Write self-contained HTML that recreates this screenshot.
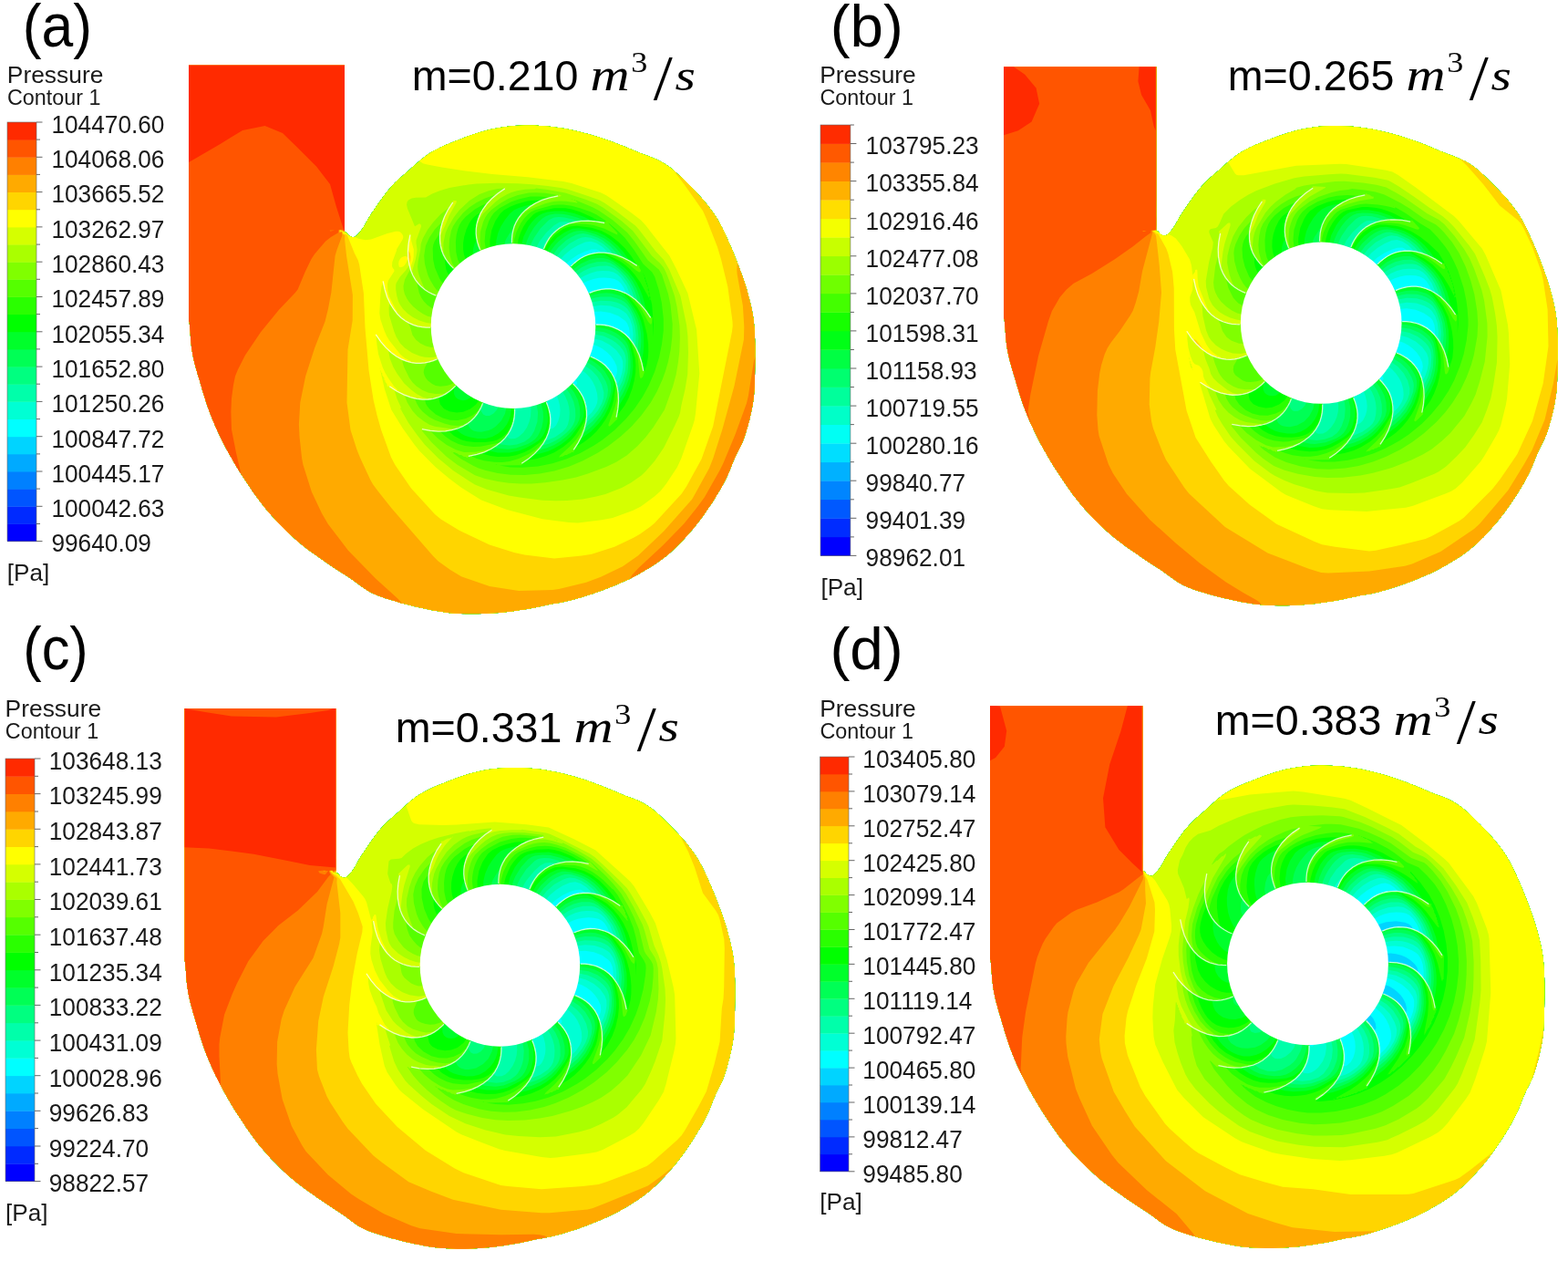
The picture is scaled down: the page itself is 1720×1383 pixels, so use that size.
<!DOCTYPE html>
<html><head><meta charset="utf-8"><title>Pressure contours</title><style>
html,body{margin:0;padding:0;background:#fff;}
svg{display:block;}
.lv{font-family:"Liberation Sans",Arial,sans-serif;fill:#1a1a1a;}
.pl{font-family:"Liberation Sans",Arial,sans-serif;fill:#000;}
.tt{font-family:"Liberation Sans",Arial,sans-serif;fill:#000;}
.ti{font-family:"Liberation Serif","Times New Roman",serif;font-style:italic;fill:#000;}
.ts{font-family:"Liberation Serif","Times New Roman",serif;fill:#000;}
</style></head><body><svg xmlns="http://www.w3.org/2000/svg" width="1720" height="1383" viewBox="0 0 1720 1383">
<rect width="1720" height="1383" fill="#fff"/>
<g transform="translate(563 357.6) scale(1.0 1.0)">
<clipPath id="cla"><path d="M-183.4 -102.8 -182.8 -102.1 -182.1 -101.4 -181.5 -100.6 -180.9 -99.9 -180.2 -99.3 -179.5 -98.8 -178.7 -98.4 -177.9 -98.0 -177.1 -97.7 -176.2 -97.5 -175.3 -97.5 -174.5 -97.6 -173.7 -97.9 -172.8 -98.4 -172.0 -99.1 -171.2 -99.9 -170.4 -100.7 -169.5 -101.6 -168.7 -102.5 -167.9 -103.4 -167.1 -104.4 -166.3 -105.5 -165.3 -106.9 -164.2 -108.6 -163.0 -110.5 -161.8 -112.7 -160.5 -115.1 -159.0 -117.7 -157.2 -120.7 -155.0 -124.0 -152.3 -127.9 -149.2 -132.5 -145.7 -137.4 -142.2 -142.3 -138.7 -146.9 -135.4 -150.9 -132.5 -154.2 -129.8 -157.0 -127.2 -159.5 -124.5 -162.0 -121.5 -164.6 -118.0 -167.6 -114.0 -171.1 -109.7 -175.0 -105.1 -179.1 -100.3 -183.1 -95.4 -186.9 -90.4 -190.3 -85.3 -193.2 -79.9 -195.9 -74.5 -198.4 -68.9 -200.6 -63.4 -202.8 -57.9 -204.9 -52.5 -207.0 -47.0 -209.0 -41.6 -210.8 -36.2 -212.6 -30.7 -214.1 -25.3 -215.5 -19.9 -216.7 -14.5 -217.6 -9.0 -218.4 -3.6 -219.1 1.8 -219.6 7.2 -219.9 12.6 -220.1 18.1 -220.1 23.5 -220.0 28.9 -219.7 34.4 -219.3 39.8 -218.8 45.2 -218.2 50.6 -217.4 56.0 -216.5 61.5 -215.5 66.9 -214.3 72.3 -213.1 77.7 -211.7 83.2 -210.3 88.6 -208.7 94.0 -207.0 99.5 -205.2 104.9 -203.3 110.4 -201.3 115.9 -199.2 121.4 -197.0 126.8 -194.8 132.2 -192.5 137.5 -190.3 142.6 -188.3 147.7 -186.5 152.6 -184.6 157.5 -182.6 162.4 -180.2 167.4 -177.2 172.5 -173.5 177.7 -169.2 183.0 -164.4 188.1 -159.5 193.1 -154.6 197.7 -149.9 202.0 -145.4 206.1 -140.9 210.0 -136.4 213.7 -131.8 217.2 -127.2 220.5 -122.6 223.5 -118.0 226.1 -113.4 228.6 -108.8 230.9 -104.1 233.3 -99.1 235.7 -93.7 238.3 -87.8 241.0 -81.5 243.7 -74.8 246.3 -68.2 248.7 -61.8 250.9 -55.8 252.8 -50.3 254.6 -45.0 256.1 -40.0 257.5 -35.1 258.8 -30.2 260.0 -25.4 261.1 -20.8 262.0 -16.4 262.8 -12.1 263.5 -7.7 264.0 -2.9 264.5 2.4 264.9 8.4 265.1 14.8 265.3 21.6 265.3 28.6 265.3 35.6 265.2 42.4 265.1 49.1 265.0 55.8 264.8 62.5 264.5 69.2 264.0 75.8 263.2 82.4 262.1 89.0 260.7 95.7 259.2 102.4 257.5 108.8 255.7 114.9 254.0 120.4 252.3 125.2 250.5 129.4 248.7 133.2 246.8 136.8 244.9 140.5 243.1 144.4 241.3 148.5 239.6 152.7 238.0 156.9 236.2 161.2 234.3 165.5 232.1 169.9 229.7 174.4 227.2 178.9 224.4 183.5 221.6 188.2 218.7 192.8 215.6 197.4 212.5 202.0 209.3 206.6 206.0 211.1 202.5 215.7 198.9 220.3 195.0 224.9 190.9 229.5 186.6 234.3 182.1 239.0 177.4 243.6 172.6 248.1 167.5 252.4 162.2 256.5 156.6 260.4 150.8 264.1 144.9 267.7 139.0 271.1 133.2 274.3 127.5 277.3 121.7 280.0 116.0 282.5 110.3 284.9 104.5 287.2 98.8 289.4 93.0 291.5 87.0 293.6 81.0 295.5 75.2 297.3 69.6 299.0 64.5 300.4 59.9 301.5 55.8 302.4 52.0 303.1 48.2 303.8 44.3 304.4 40.2 305.2 35.8 306.1 31.2 307.1 26.5 308.1 21.7 309.1 17.0 310.0 12.3 310.8 7.6 311.5 3.0 312.2 -1.7 312.8 -6.3 313.4 -11.0 313.9 -15.6 314.3 -20.2 314.7 -24.9 315.0 -29.5 315.3 -34.2 315.5 -38.9 315.7 -43.5 315.7 -48.1 315.7 -52.8 315.6 -57.4 315.4 -62.1 315.1 -66.8 314.8 -71.4 314.3 -76.0 313.7 -80.7 313.0 -85.3 312.2 -90.0 311.3 -94.6 310.4 -99.3 309.4 -103.9 308.4 -108.6 307.3 -113.2 306.2 -117.9 305.0 -122.6 303.8 -127.2 302.4 -131.9 301.0 -136.6 299.6 -141.4 298.1 -146.1 296.4 -150.7 294.6 -155.1 292.6 -159.3 290.3 -163.4 287.6 -167.4 284.8 -171.3 281.9 -175.2 279.1 -179.0 276.4 -182.7 274.0 -186.1 271.8 -189.5 269.7 -193.0 267.4 -196.9 264.8 -201.3 261.8 -206.4 258.3 -212.0 254.4 -218.0 250.2 -224.1 245.8 -230.2 241.2 -236.0 236.4 -241.6 231.4 -247.3 226.2 -252.8 220.7 -258.3 215.2 -263.5 209.5 -268.5 203.9 -273.2 198.2 -277.7 192.5 -281.9 186.7 -286.0 180.9 -290.0 175.0 -293.9 169.2 -297.7 163.4 -301.4 157.6 -304.9 151.8 -308.3 146.0 -311.6 140.2 -314.8 134.4 -317.8 128.6 -320.7 122.8 -323.5 117.0 -326.1 111.3 -328.6 105.5 -331.0 99.7 -333.2 93.9 -335.3 88.1 -337.2 82.3 -339.0 76.6 -340.8 70.8 -342.5 65.0 -344.2 59.2 -346.0 53.5 -347.6 47.7 -349.2 42.0 -350.6 36.2 -351.8 30.4 -352.7 24.6 -353.4 18.8 -353.9 12.9 -354.3 7.1 -354.8 1.2 -355.3 -4.6 -356.0 -4.6 -356.0 -286.1 -185.0 -286.1 -185.0 -102.8Z"/></clipPath>
<g clip-path="url(#cla)">
<path d="M-183.4 -102.8 -182.8 -102.1 -182.1 -101.4 -181.5 -100.6 -180.9 -99.9 -180.2 -99.3 -179.5 -98.8 -178.7 -98.4 -177.9 -98.0 -177.1 -97.7 -176.2 -97.5 -175.3 -97.5 -174.5 -97.6 -173.7 -97.9 -172.8 -98.4 -172.0 -99.1 -171.2 -99.9 -170.4 -100.7 -169.5 -101.6 -168.7 -102.5 -167.9 -103.4 -167.1 -104.4 -166.3 -105.5 -165.3 -106.9 -164.2 -108.6 -163.0 -110.5 -161.8 -112.7 -160.5 -115.1 -159.0 -117.7 -157.2 -120.7 -155.0 -124.0 -152.3 -127.9 -149.2 -132.5 -145.7 -137.4 -142.2 -142.3 -138.7 -146.9 -135.4 -150.9 -132.5 -154.2 -129.8 -157.0 -127.2 -159.5 -124.5 -162.0 -121.5 -164.6 -118.0 -167.6 -114.0 -171.1 -109.7 -175.0 -105.1 -179.1 -100.3 -183.1 -95.4 -186.9 -90.4 -190.3 -85.3 -193.2 -79.9 -195.9 -74.5 -198.4 -68.9 -200.6 -63.4 -202.8 -57.9 -204.9 -52.5 -207.0 -47.0 -209.0 -41.6 -210.8 -36.2 -212.6 -30.7 -214.1 -25.3 -215.5 -19.9 -216.7 -14.5 -217.6 -9.0 -218.4 -3.6 -219.1 1.8 -219.6 7.2 -219.9 12.6 -220.1 18.1 -220.1 23.5 -220.0 28.9 -219.7 34.4 -219.3 39.8 -218.8 45.2 -218.2 50.6 -217.4 56.0 -216.5 61.5 -215.5 66.9 -214.3 72.3 -213.1 77.7 -211.7 83.2 -210.3 88.6 -208.7 94.0 -207.0 99.5 -205.2 104.9 -203.3 110.4 -201.3 115.9 -199.2 121.4 -197.0 126.8 -194.8 132.2 -192.5 137.5 -190.3 142.6 -188.3 147.7 -186.5 152.6 -184.6 157.5 -182.6 162.4 -180.2 167.4 -177.2 172.5 -173.5 177.7 -169.2 183.0 -164.4 188.1 -159.5 193.1 -154.6 197.7 -149.9 202.0 -145.4 206.1 -140.9 210.0 -136.4 213.7 -131.8 217.2 -127.2 220.5 -122.6 223.5 -118.0 226.1 -113.4 228.6 -108.8 230.9 -104.1 233.3 -99.1 235.7 -93.7 238.3 -87.8 241.0 -81.5 243.7 -74.8 246.3 -68.2 248.7 -61.8 250.9 -55.8 252.8 -50.3 254.6 -45.0 256.1 -40.0 257.5 -35.1 258.8 -30.2 260.0 -25.4 261.1 -20.8 262.0 -16.4 262.8 -12.1 263.5 -7.7 264.0 -2.9 264.5 2.4 264.9 8.4 265.1 14.8 265.3 21.6 265.3 28.6 265.3 35.6 265.2 42.4 265.1 49.1 265.0 55.8 264.8 62.5 264.5 69.2 264.0 75.8 263.2 82.4 262.1 89.0 260.7 95.7 259.2 102.4 257.5 108.8 255.7 114.9 254.0 120.4 252.3 125.2 250.5 129.4 248.7 133.2 246.8 136.8 244.9 140.5 243.1 144.4 241.3 148.5 239.6 152.7 238.0 156.9 236.2 161.2 234.3 165.5 232.1 169.9 229.7 174.4 227.2 178.9 224.4 183.5 221.6 188.2 218.7 192.8 215.6 197.4 212.5 202.0 209.3 206.6 206.0 211.1 202.5 215.7 198.9 220.3 195.0 224.9 190.9 229.5 186.6 234.3 182.1 239.0 177.4 243.6 172.6 248.1 167.5 252.4 162.2 256.5 156.6 260.4 150.8 264.1 144.9 267.7 139.0 271.1 133.2 274.3 127.5 277.3 121.7 280.0 116.0 282.5 110.3 284.9 104.5 287.2 98.8 289.4 93.0 291.5 87.0 293.6 81.0 295.5 75.2 297.3 69.6 299.0 64.5 300.4 59.9 301.5 55.8 302.4 52.0 303.1 48.2 303.8 44.3 304.4 40.2 305.2 35.8 306.1 31.2 307.1 26.5 308.1 21.7 309.1 17.0 310.0 12.3 310.8 7.6 311.5 3.0 312.2 -1.7 312.8 -6.3 313.4 -11.0 313.9 -15.6 314.3 -20.2 314.7 -24.9 315.0 -29.5 315.3 -34.2 315.5 -38.9 315.7 -43.5 315.7 -48.1 315.7 -52.8 315.6 -57.4 315.4 -62.1 315.1 -66.8 314.8 -71.4 314.3 -76.0 313.7 -80.7 313.0 -85.3 312.2 -90.0 311.3 -94.6 310.4 -99.3 309.4 -103.9 308.4 -108.6 307.3 -113.2 306.2 -117.9 305.0 -122.6 303.8 -127.2 302.4 -131.9 301.0 -136.6 299.6 -141.4 298.1 -146.1 296.4 -150.7 294.6 -155.1 292.6 -159.3 290.3 -163.4 287.6 -167.4 284.8 -171.3 281.9 -175.2 279.1 -179.0 276.4 -182.7 274.0 -186.1 271.8 -189.5 269.7 -193.0 267.4 -196.9 264.8 -201.3 261.8 -206.4 258.3 -212.0 254.4 -218.0 250.2 -224.1 245.8 -230.2 241.2 -236.0 236.4 -241.6 231.4 -247.3 226.2 -252.8 220.7 -258.3 215.2 -263.5 209.5 -268.5 203.9 -273.2 198.2 -277.7 192.5 -281.9 186.7 -286.0 180.9 -290.0 175.0 -293.9 169.2 -297.7 163.4 -301.4 157.6 -304.9 151.8 -308.3 146.0 -311.6 140.2 -314.8 134.4 -317.8 128.6 -320.7 122.8 -323.5 117.0 -326.1 111.3 -328.6 105.5 -331.0 99.7 -333.2 93.9 -335.3 88.1 -337.2 82.3 -339.0 76.6 -340.8 70.8 -342.5 65.0 -344.2 59.2 -346.0 53.5 -347.6 47.7 -349.2 42.0 -350.6 36.2 -351.8 30.4 -352.7 24.6 -353.4 18.8 -353.9 12.9 -354.3 7.1 -354.8 1.2 -355.3 -4.6 -356.0 -4.6 -356.0 -286.1 -185.0 -286.1 -185.0 -102.8Z" fill="#0000ff"/>
<path fill-rule="evenodd" fill="#002aff" d="M-369.0 -300.0L279.0 -300.0 279.0 329.0 -370.0 329.0 -370.0 -300.0 -369.0 -300.0Z"/>
<path fill-rule="evenodd" fill="#0055ff" d="M-369.0 -300.0L279.0 -300.0 279.0 329.0 -370.0 329.0 -370.0 -300.0 -369.0 -300.0Z"/>
<path fill-rule="evenodd" fill="#0080ff" d="M-369.0 -300.0L279.0 -300.0 279.0 329.0 -370.0 329.0 -370.0 -300.0 -369.0 -300.0Z"/>
<path fill-rule="evenodd" fill="#00aaff" d="M-369.0 -300.0L279.0 -300.0 279.0 329.0 -370.0 329.0 -370.0 -300.0 -369.0 -300.0Z"/>
<path fill-rule="evenodd" fill="#00d4ff" d="M-369.0 -300.0L279.0 -300.0 279.0 329.0 -370.0 329.0 -370.0 -300.0 -369.0 -300.0Z"/>
<path fill-rule="evenodd" fill="#00ffff" d="M-369.0 -300.0L279.0 -300.0 279.0 329.0 -370.0 329.0 -370.0 -300.0 -369.0 -300.0Z"/>
<path fill-rule="evenodd" fill="#00ffd4" d="M-369.0 -300.0L279.0 -300.0 279.0 329.0 -370.0 329.0 -370.0 -300.0 -369.0 -300.0ZM85.6 -84.0L79.0 -81.9 70.8 -78.0 63.0 -72.9 57.5 -68.0 56.0 -67.5 53.6 -69.0 52.2 -65.0 52.7 -56.0 63.1 16.0 63.5 22.0 63.2 30.0 63.9 36.0 62.8 40.0 57.2 47.0 54.6 51.0 53.5 54.0 53.5 56.0 54.5 58.0 56.0 59.2 61.2 62.0 64.0 61.0 68.0 64.8 69.7 64.0 70.1 62.0 68.0 58.0 67.8 56.0 70.4 53.0 70.4 52.0 73.3 49.0 73.3 48.0 75.2 46.0 75.2 45.0 76.2 44.0 76.2 43.0 77.2 42.0 77.2 41.0 78.2 40.0 78.2 39.0 79.2 38.0 79.1 37.0 80.1 36.0 80.1 35.0 82.0 32.1 83.0 32.1 84.0 33.1 86.0 33.1 89.0 35.1 90.0 35.1 93.0 37.1 94.0 37.1 96.0 39.1 97.0 39.1 107.0 49.0 107.0 50.0 109.0 52.0 109.0 53.0 110.0 54.0 111.0 57.0 112.0 56.0 113.3 53.0 114.1 49.0 113.4 44.0 111.0 38.6 107.1 33.0 103.0 28.8 97.9 25.0 92.3 22.0 86.0 19.9 85.9 19.0 86.8 18.0 86.5 14.0 87.4 13.0 87.2 1.0 88.2 0.0 87.2 -1.0 88.0 -1.8 100.0 -1.9 101.0 -0.9 105.0 -0.9 106.0 0.1 108.0 0.1 109.0 1.1 111.0 1.1 114.0 3.1 117.0 4.1 119.0 6.1 120.0 6.1 127.0 13.0 127.6 13.0 127.8 8.0 127.0 2.2 125.0 -2.9 123.0 -5.5 115.3 -11.0 106.0 -14.7 96.0 -16.2 87.0 -15.6 86.7 -18.0 85.6 -19.0 85.5 -22.0 84.4 -23.0 84.3 -26.0 83.3 -27.0 83.3 -29.0 81.2 -32.0 81.2 -34.0 80.2 -35.0 83.0 -36.8 85.0 -36.8 88.0 -38.9 90.0 -38.9 91.0 -39.9 95.0 -39.9 96.0 -40.9 111.0 -40.9 112.0 -39.9 115.0 -39.9 116.0 -38.9 118.0 -38.9 119.0 -37.9 121.0 -38.0 122.0 -37.0 123.3 -37.0 121.0 -42.3 118.0 -46.8 115.0 -49.7 111.0 -51.7 106.0 -52.7 100.0 -53.2 94.0 -52.8 88.0 -51.7 82.0 -49.7 76.0 -46.8 75.0 -46.9 73.7 -48.0 73.6 -49.0 70.4 -52.0 70.3 -53.0 67.2 -56.0 67.2 -57.0 61.1 -63.0 61.1 -64.0 67.0 -69.9 68.0 -69.9 71.0 -73.0 72.0 -73.0 74.0 -75.0 77.0 -76.0 82.0 -79.0 84.0 -79.0 85.0 -80.0 89.0 -80.0 90.0 -81.0 96.5 -81.0 93.7 -83.0 91.0 -84.1 85.6 -84.0Z"/>
<path fill-rule="evenodd" fill="#00ffaa" d="M-369.0 -300.0L279.0 -300.0 279.0 329.0 -370.0 329.0 -370.0 -300.0 -369.0 -300.0ZM79.0 -92.0L71.0 -88.7 63.4 -84.0 56.0 -77.8 51.0 -72.0 49.0 -73.6 48.0 -73.5 46.0 -75.3 45.0 -75.3 42.0 -77.1 41.0 -77.1 36.0 -80.0 35.0 -80.0 34.5 -78.0 34.2 -75.0 34.8 -70.0 43.0 -25.0 44.9 -12.0 44.7 -5.0 40.6 9.0 40.3 14.0 41.7 20.0 46.1 31.0 46.4 35.0 44.5 39.0 29.9 53.0 17.0 69.0 11.1 78.0 10.1 81.0 9.8 84.0 10.2 87.0 13.0 87.1 14.0 86.1 18.0 86.1 19.0 85.1 22.0 85.1 23.0 84.1 26.0 84.1 27.0 83.1 29.0 83.1 32.0 81.1 34.0 81.1 35.0 80.1 36.9 83.0 36.9 85.0 38.9 88.0 38.9 90.0 39.9 91.0 39.9 95.0 40.9 96.0 41.0 111.0 40.0 112.0 41.0 112.6 44.0 111.9 47.0 108.9 49.5 104.0 51.1 98.0 51.5 92.0 51.0 86.8 49.5 81.0 47.0 75.0 48.0 73.8 49.0 73.7 52.0 70.5 53.0 70.5 56.0 67.3 57.0 67.3 63.0 61.2 64.0 61.2 69.8 67.0 69.8 68.0 72.8 71.0 72.8 72.0 74.8 74.0 75.8 77.0 78.9 82.0 78.9 84.0 79.9 85.0 79.9 89.0 80.9 90.0 81.0 99.5 86.0 94.9 90.1 89.0 92.0 84.3 92.6 80.0 92.0 74.0 90.0 67.0 87.1 61.0 84.0 56.5 79.8 52.0 74.7 48.0 75.8 46.0 75.7 45.0 76.7 44.0 76.6 43.0 77.6 42.0 77.5 41.0 78.5 40.0 78.5 39.0 79.4 38.0 79.4 37.0 80.4 36.0 80.3 35.0 82.0 32.3 83.0 32.3 84.0 33.3 86.0 33.3 89.0 35.3 90.0 35.3 93.0 37.3 94.0 37.3 96.0 39.3 97.0 39.3 106.8 49.0 106.8 50.0 108.8 52.0 109.8 55.0 111.8 58.0 111.8 60.0 114.0 63.0 114.0 64.5 117.0 58.6 119.2 52.0 120.4 45.0 120.2 39.0 118.5 34.0 113.0 26.5 106.0 20.6 97.1 16.0 88.0 13.6 87.4 1.0 88.4 0.0 87.3 -1.0 88.0 -1.7 100.0 -1.7 101.0 -0.7 105.0 -0.7 106.0 0.3 108.0 0.3 109.0 1.3 111.0 1.3 114.0 3.3 117.0 4.3 119.0 6.3 120.0 6.3 131.0 17.0 131.1 18.0 131.6 9.0 130.5 0.0 128.0 -7.7 124.0 -13.8 121.0 -16.2 116.0 -19.0 106.7 -22.0 96.0 -22.8 86.0 -21.4 84.8 -23.0 84.7 -26.0 83.6 -27.0 83.5 -29.0 81.4 -32.0 81.4 -34.0 80.3 -35.0 83.0 -36.7 85.0 -36.7 88.0 -38.7 90.0 -38.7 91.0 -39.7 95.0 -39.7 96.0 -40.7 111.0 -40.7 112.0 -39.7 115.0 -39.7 116.0 -38.7 118.0 -38.7 119.0 -37.7 121.0 -37.8 122.0 -36.8 125.0 -35.9 127.0 -33.9 128.3 -34.0 124.3 -44.0 118.0 -53.0 114.0 -56.8 110.0 -59.1 105.0 -60.3 98.0 -60.6 91.8 -60.0 85.0 -58.2 78.0 -55.2 72.0 -51.5 70.9 -52.0 70.8 -53.0 67.5 -56.0 67.5 -57.0 61.3 -63.0 61.2 -64.0 67.0 -69.8 68.0 -69.8 71.0 -72.8 72.0 -72.8 74.0 -74.8 77.0 -75.8 82.0 -78.8 84.0 -78.8 85.0 -79.8 89.0 -79.8 90.0 -80.8 103.8 -81.0 97.5 -87.0 91.0 -91.1 85.0 -92.8 79.0 -92.0ZM104.0 -80.0L104.6 -80.0 104.0 -80.7 104.0 -80.0Z"/>
<path fill-rule="evenodd" fill="#00ff80" d="M-369.0 -300.0L279.0 -300.0 279.0 329.0 -370.0 329.0 -370.0 -300.0 -369.0 -300.0ZM50.9 -114.0L44.3 -110.0 36.0 -102.2 28.9 -93.0 24.8 -85.0 23.0 -84.4 22.0 -85.1 21.0 -85.0 20.7 -78.0 25.5 -50.0 26.4 -39.0 25.4 -33.0 18.0 -10.4 17.2 -4.0 17.8 0.0 19.7 6.0 28.5 27.0 28.8 32.0 27.6 36.0 25.4 39.0 11.2 51.0 -4.9 68.0 -13.4 79.0 -16.0 84.0 -16.5 86.0 -14.0 86.1 -13.0 87.1 -1.0 87.2 0.0 88.2 1.0 87.2 1.8 88.0 1.9 100.0 0.9 101.0 0.9 105.0 -0.1 106.0 -0.1 108.0 -1.1 109.0 -1.1 111.0 -2.1 112.0 -2.1 113.0 -3.1 114.0 -4.0 117.0 -6.0 119.0 -6.7 121.0 -5.0 122.9 -3.0 123.7 2.0 123.4 6.0 121.5 11.0 116.8 15.0 111.1 17.6 105.0 19.0 99.0 19.4 93.0 19.0 86.0 22.0 85.7 23.0 84.7 26.0 84.5 27.0 83.5 29.0 83.4 32.0 81.4 34.0 81.3 35.0 80.3 36.7 83.0 36.7 85.0 38.7 88.0 38.7 90.0 39.7 91.0 39.7 95.0 40.7 96.0 40.8 111.0 39.8 112.0 39.8 115.0 38.8 116.0 38.8 118.0 37.8 119.0 37.9 121.0 35.9 124.0 36.0 125.7 45.7 122.0 54.3 116.0 57.9 112.0 60.0 108.0 61.4 102.0 61.8 95.0 61.2 89.0 59.6 83.0 57.0 77.0 53.3 71.0 56.0 67.7 57.0 67.7 63.0 61.4 64.0 61.4 69.6 67.0 69.6 68.0 72.6 71.0 72.6 72.0 74.6 74.0 75.6 77.0 78.7 82.0 78.7 84.0 79.7 85.0 79.7 89.0 80.7 90.0 80.9 103.0 79.9 104.0 80.0 106.0 87.8 99.0 93.0 92.3 97.1 85.0 99.1 79.0 99.4 73.0 97.0 64.2 92.6 56.0 86.3 49.0 77.9 43.0 77.9 41.0 78.8 40.0 78.7 39.0 79.7 38.0 79.6 37.0 80.6 36.0 80.6 35.0 82.0 32.5 83.0 32.5 84.0 33.5 86.0 33.5 89.0 35.5 90.0 35.5 93.0 37.5 94.0 37.5 96.0 39.5 97.0 39.4 106.6 49.0 106.6 50.0 108.6 52.0 109.6 55.0 111.6 58.0 111.7 60.0 113.8 63.0 113.8 66.0 114.9 67.0 115.0 69.8 119.9 60.0 122.9 49.0 123.7 38.0 123.1 33.0 122.0 29.4 120.0 25.8 116.8 22.0 112.3 18.0 108.0 15.1 98.9 11.0 88.0 8.8 87.6 1.0 88.5 0.0 87.5 -1.0 88.0 -1.5 100.0 -1.5 101.0 -0.5 105.0 -0.5 106.0 0.5 108.0 0.5 109.0 1.5 111.0 1.5 114.0 3.5 117.0 4.4 119.0 6.4 120.0 6.4 130.8 17.0 130.8 18.0 132.9 20.0 132.9 21.0 134.0 21.1 134.6 10.0 133.3 0.0 130.0 -10.5 128.0 -14.6 125.0 -19.0 122.0 -21.7 118.0 -24.0 112.9 -26.0 107.0 -27.4 96.0 -27.9 85.0 -25.8 83.9 -27.0 83.8 -29.0 81.6 -32.0 81.5 -34.0 80.5 -35.0 82.0 -35.5 83.0 -36.5 85.0 -36.5 88.0 -38.5 90.0 -38.5 91.0 -39.5 95.0 -39.5 96.0 -40.5 111.0 -40.6 112.0 -39.5 115.0 -39.6 116.0 -38.6 118.0 -38.6 119.0 -37.6 121.0 -37.6 124.0 -35.7 125.0 -35.7 127.0 -33.8 128.0 -33.8 130.0 -31.9 131.0 -31.9 132.5 -31.0 130.3 -38.0 127.5 -44.0 124.5 -49.0 120.0 -55.0 115.0 -60.1 111.0 -63.1 107.0 -65.1 103.0 -66.0 94.0 -65.9 85.1 -64.0 77.0 -60.4 69.0 -55.1 67.9 -56.0 67.8 -57.0 61.4 -63.0 61.4 -64.0 67.0 -69.6 68.0 -69.6 71.0 -72.6 72.0 -72.6 74.0 -74.6 77.0 -75.6 78.0 -76.6 81.0 -77.6 82.0 -78.6 84.0 -78.6 85.0 -79.6 89.0 -79.6 90.0 -80.6 103.0 -80.8 104.0 -79.8 109.1 -80.0 105.0 -84.6 98.8 -90.0 92.0 -94.2 85.0 -96.9 79.0 -97.7 75.1 -97.0 71.0 -95.5 61.2 -90.0 53.0 -82.9 47.0 -75.5 43.0 -76.6 42.0 -77.5 41.0 -77.5 40.0 -78.4 39.0 -78.4 38.0 -79.3 37.0 -79.3 36.0 -80.3 35.0 -80.2 32.2 -82.0 32.2 -83.0 33.2 -84.0 33.1 -86.0 35.1 -89.0 35.1 -90.0 36.1 -91.0 37.1 -94.0 39.1 -96.0 39.1 -97.0 49.0 -106.9 50.0 -106.9 52.0 -108.9 55.0 -109.9 58.0 -111.9 60.0 -111.9 61.0 -113.0 62.0 -113.0 62.0 -113.5 57.0 -114.5 50.9 -114.0Z"/>
<path fill-rule="evenodd" fill="#00ff55" d="M-369.0 -300.0L279.0 -300.0 279.0 329.0 -370.0 329.0 -370.0 -300.0 -369.0 -300.0ZM45.0 -119.0L42.0 -117.9 38.9 -116.0 29.8 -107.0 23.0 -97.0 20.0 -91.0 18.7 -87.0 14.0 -86.4 13.0 -87.3 7.1 -87.0 7.8 -72.0 7.4 -66.0 -3.9 -32.0 -5.4 -26.0 -5.8 -22.0 -4.9 -16.0 -1.9 -7.0 11.1 23.0 11.3 27.0 9.4 35.0 8.2 37.0 5.2 40.0 -7.7 50.0 -14.4 56.0 -31.5 74.0 -35.5 80.0 -34.0 81.0 -33.0 81.0 -32.1 82.0 -32.1 83.0 -33.1 84.0 -33.1 86.0 -34.0 87.0 -34.0 88.0 -35.9 91.0 -35.4 93.0 -33.0 96.9 -30.0 98.5 -26.0 98.4 -21.6 96.0 -18.0 91.9 -16.0 87.0 -14.0 86.9 -13.0 87.8 -1.0 87.4 0.0 88.4 1.0 87.4 1.6 88.0 1.6 100.0 0.6 101.0 0.7 105.0 -0.3 106.0 -0.3 108.0 -1.3 109.0 -1.3 111.0 -3.3 114.0 -4.3 117.0 -6.2 119.0 -6.2 120.0 -15.0 129.0 -15.0 129.5 -13.0 130.0 -4.0 131.0 4.0 130.0 12.2 127.0 17.7 123.0 20.2 120.0 23.1 115.0 26.4 105.0 27.1 95.0 25.4 85.0 27.0 83.9 29.0 83.8 32.0 81.6 34.0 81.6 35.0 80.5 35.5 82.0 36.5 83.0 36.5 85.0 38.5 88.0 38.5 90.0 39.5 91.0 39.5 95.0 40.5 96.0 40.6 111.0 39.6 112.0 39.6 115.0 38.6 116.0 38.6 118.0 37.6 119.0 37.7 121.0 36.7 122.0 35.8 125.0 33.8 127.0 33.9 128.0 31.9 130.0 32.0 131.0 39.0 129.1 46.0 125.9 52.0 122.2 58.6 117.0 63.0 112.4 65.9 108.0 67.5 104.0 68.3 99.0 68.0 91.0 66.2 83.0 62.6 75.0 57.7 68.0 57.9 67.0 63.0 61.6 64.0 61.6 69.4 67.0 69.4 68.0 72.4 71.0 72.4 72.0 74.5 74.0 74.4 75.0 76.5 78.0 76.5 79.0 78.5 82.0 78.5 84.0 79.5 85.0 79.5 89.0 80.5 90.0 80.7 103.0 79.7 104.0 79.9 109.0 78.9 110.0 79.0 111.4 87.6 104.0 94.2 96.0 99.9 86.0 103.2 77.0 104.0 69.8 103.4 66.0 101.6 61.0 96.3 52.0 89.4 45.0 80.0 39.0 79.9 37.0 80.8 36.0 80.8 35.0 81.7 34.0 82.0 32.7 83.0 32.7 84.0 33.7 86.0 33.7 89.0 35.7 90.0 35.6 93.0 37.6 94.0 37.6 96.0 39.6 97.0 39.6 106.4 49.0 106.4 50.0 108.4 52.0 109.4 55.0 111.5 58.0 111.5 60.0 113.6 63.0 113.6 66.0 114.7 67.0 114.9 72.0 115.9 73.0 116.0 74.6 121.9 63.0 125.4 51.0 126.0 45.0 126.2 36.0 125.5 30.0 124.1 25.0 122.0 21.1 119.0 17.6 114.8 14.0 110.0 10.8 100.0 6.7 88.0 4.9 87.8 1.0 88.7 0.0 87.7 -1.0 88.0 -1.3 100.0 -1.4 101.0 -0.3 105.0 -0.4 106.0 0.7 108.0 0.6 109.0 1.7 111.0 1.6 114.0 3.6 117.0 4.6 119.0 6.6 120.0 6.6 130.6 17.0 130.6 18.0 132.7 20.0 132.7 21.0 134.9 23.0 134.9 24.0 136.0 25.0 136.0 26.0 136.4 26.0 137.5 13.0 136.0 0.0 134.0 -6.8 131.0 -14.1 128.0 -19.8 125.0 -23.8 122.0 -26.5 118.0 -28.8 113.0 -30.7 107.0 -32.0 96.0 -32.2 90.0 -31.2 84.0 -29.5 82.9 -30.0 82.9 -31.0 81.8 -32.0 81.7 -34.0 80.7 -35.0 82.0 -35.3 83.0 -36.3 85.0 -36.3 88.0 -38.4 90.0 -38.3 91.0 -39.4 95.0 -39.3 96.0 -40.4 111.0 -40.4 112.0 -39.4 115.0 -39.4 116.0 -38.4 118.0 -38.4 119.0 -37.4 121.0 -37.4 124.0 -35.5 125.0 -35.5 127.0 -33.6 128.0 -33.6 130.0 -31.7 131.0 -31.8 134.0 -28.9 135.0 -28.9 136.4 -28.0 134.1 -36.0 131.2 -43.0 127.8 -49.0 123.4 -55.0 116.5 -62.0 111.0 -66.5 106.0 -69.3 101.0 -70.6 92.0 -70.4 83.0 -68.2 75.0 -64.3 67.0 -58.5 61.6 -63.0 61.6 -64.0 67.0 -69.4 68.0 -69.4 71.0 -72.4 72.0 -72.4 74.0 -74.4 75.0 -74.4 78.0 -76.4 79.0 -76.4 82.0 -78.4 84.0 -78.4 85.0 -79.4 89.0 -79.4 90.0 -80.5 103.0 -80.6 104.0 -79.6 109.0 -79.8 110.0 -78.8 112.0 -78.9 113.0 -77.9 114.8 -78.0 106.9 -87.0 98.0 -94.0 93.0 -96.8 87.0 -99.2 81.0 -100.9 77.0 -101.5 73.0 -101.2 69.0 -100.0 63.0 -97.1 58.1 -94.0 49.3 -86.0 43.0 -77.4 41.0 -77.8 40.0 -78.7 39.0 -78.7 38.0 -79.6 37.0 -79.6 34.0 -81.4 33.0 -81.4 32.4 -82.0 32.4 -83.0 33.4 -84.0 33.3 -86.0 35.3 -89.0 35.3 -90.0 37.3 -93.0 37.3 -94.0 39.3 -96.0 39.3 -97.0 49.0 -106.7 50.0 -106.7 52.0 -108.7 55.0 -109.7 58.0 -111.7 60.0 -111.7 63.0 -113.8 66.0 -113.9 67.0 -114.9 70.5 -115.0 64.0 -117.3 56.0 -119.2 50.0 -119.6 45.0 -119.0Z"/>
<path fill-rule="evenodd" fill="#00ff2b" d="M-369.0 -300.0L279.0 -300.0 279.0 329.0 -370.0 329.0 -370.0 -300.0 -369.0 -300.0ZM46.0 -123.0L40.0 -122.1 36.0 -120.7 32.0 -118.1 27.7 -114.0 22.7 -108.0 18.4 -101.0 15.2 -94.0 13.5 -88.0 1.0 -87.2 0.0 -88.2 -1.0 -87.1 -1.9 -88.0 -2.0 -100.0 -1.0 -101.0 -1.0 -105.7 -5.0 -100.2 -8.0 -95.0 -9.1 -92.0 -9.5 -88.0 -13.0 -87.2 -14.0 -86.2 -16.5 -86.0 -17.6 -78.0 -27.3 -48.0 -28.7 -39.0 -27.0 -30.0 -19.1 -9.0 -13.0 5.0 -7.1 17.0 -6.2 20.0 -6.3 23.0 -8.4 33.0 -10.7 37.0 -35.8 57.0 -45.0 66.4 -49.4 72.0 -49.1 73.0 -48.0 73.1 -46.0 75.2 -45.0 75.3 -44.0 76.3 -43.0 76.3 -40.0 78.3 -39.0 78.3 -38.0 79.3 -37.0 79.3 -36.0 80.3 -35.0 80.3 -34.0 81.3 -33.0 81.3 -32.3 82.0 -32.3 83.0 -33.3 84.0 -33.3 86.0 -35.3 89.0 -35.3 90.0 -36.3 91.0 -37.2 94.0 -39.2 96.0 -39.2 97.0 -49.0 107.0 -49.8 107.0 -48.9 110.0 -47.6 112.0 -45.3 114.0 -43.0 115.1 -39.0 116.0 -35.0 116.1 -27.0 114.5 -23.0 112.7 -19.0 110.0 -13.2 104.0 -9.0 96.1 -7.3 88.0 -1.0 87.7 0.0 88.7 1.0 87.6 1.4 88.0 1.4 100.0 0.4 101.0 0.4 105.0 -0.6 106.0 -0.6 108.0 -1.6 109.0 -1.5 111.0 -3.5 114.0 -4.5 117.0 -6.5 119.0 -6.5 120.0 -17.0 130.8 -18.0 130.9 -20.0 133.0 -21.0 133.0 -18.3 134.0 -6.0 135.1 3.0 134.0 16.0 129.3 20.2 127.0 24.1 124.0 27.0 120.5 29.4 116.0 31.3 111.0 32.6 105.0 33.0 100.0 32.7 94.0 30.0 83.0 31.0 82.9 32.0 81.9 34.0 81.8 35.0 80.7 35.3 82.0 36.3 83.0 36.3 85.0 38.3 88.0 38.3 90.0 39.3 91.0 39.3 95.0 40.3 96.0 40.4 111.0 39.3 112.0 39.4 115.0 38.4 116.0 38.4 118.0 37.4 119.0 37.4 121.0 36.4 122.0 35.5 125.0 33.6 127.0 33.7 128.0 31.7 130.0 31.8 131.0 28.9 134.0 29.0 135.8 37.0 133.7 45.0 130.3 52.0 126.2 58.6 121.0 65.5 114.0 70.0 108.0 72.4 103.0 73.4 98.0 72.9 89.0 70.9 81.0 66.9 73.0 60.8 65.0 60.9 64.0 63.0 61.8 64.0 61.8 69.2 67.0 69.2 68.0 72.3 71.0 72.2 72.0 74.3 74.0 74.2 75.0 76.3 78.0 76.3 79.0 78.3 82.0 78.3 84.0 79.3 85.0 79.3 89.0 80.3 90.0 80.5 103.0 79.5 104.0 79.7 109.0 78.7 110.0 78.8 112.0 77.8 113.0 77.9 115.0 76.9 116.0 77.0 117.2 83.0 112.9 88.0 108.3 95.8 99.0 101.6 89.0 106.2 76.0 107.2 71.0 107.4 66.0 106.7 62.0 105.2 58.0 100.5 50.0 97.0 45.9 92.0 41.6 86.5 38.0 81.0 35.3 82.0 32.9 83.0 32.8 84.0 33.9 86.0 33.8 89.0 35.8 90.0 35.8 93.0 37.8 94.0 37.8 96.0 39.8 97.0 39.8 106.2 49.0 106.2 50.0 108.2 52.0 109.2 55.0 111.3 58.0 111.3 60.0 113.4 63.0 113.4 66.0 114.5 67.0 114.6 72.0 115.7 73.0 116.0 80.7 120.0 74.4 123.6 67.0 126.4 59.0 128.0 52.0 128.7 45.0 128.6 38.0 127.7 29.0 126.1 22.0 124.1 18.0 122.0 15.2 118.0 11.4 113.2 8.0 107.1 5.0 101.0 3.0 95.0 1.9 88.0 1.5 88.9 0.0 88.0 -1.1 100.0 -1.2 101.0 -0.2 105.0 -0.2 106.0 0.8 108.0 0.8 109.0 1.8 111.0 1.8 114.0 3.8 117.0 4.8 119.0 6.8 120.0 6.8 130.4 17.0 130.4 18.0 134.7 23.0 135.7 26.0 137.9 29.0 137.9 31.0 138.8 31.0 140.0 23.0 140.4 16.0 140.0 8.0 138.7 0.0 136.7 -7.0 134.2 -13.0 129.0 -22.4 125.0 -27.9 122.0 -30.6 118.0 -33.0 108.0 -35.9 102.0 -36.4 95.0 -35.9 89.0 -34.7 82.0 -32.3 81.9 -34.0 80.8 -35.0 82.0 -35.1 83.0 -36.2 85.0 -36.1 88.0 -38.2 90.0 -38.2 91.0 -39.2 95.0 -39.2 96.0 -40.2 111.0 -40.2 112.0 -39.2 115.0 -39.2 116.0 -38.2 118.0 -38.2 119.0 -37.2 121.0 -37.3 124.0 -35.3 125.0 -35.4 127.0 -33.4 128.0 -33.5 130.0 -31.5 131.0 -31.6 134.0 -28.6 135.0 -28.7 140.0 -24.0 140.5 -24.0 138.6 -32.0 135.3 -41.0 131.0 -49.0 126.0 -56.0 120.0 -62.2 110.0 -70.1 104.0 -73.3 99.0 -74.6 92.0 -74.5 84.0 -72.8 74.0 -68.3 64.6 -61.0 61.8 -63.0 61.8 -64.0 67.0 -69.2 68.0 -69.2 71.0 -72.2 72.0 -72.2 74.0 -74.3 75.0 -74.2 78.0 -76.3 79.0 -76.2 82.0 -78.3 84.0 -78.2 85.0 -79.3 89.0 -79.2 90.0 -80.3 103.0 -80.4 104.0 -79.4 109.0 -79.6 110.0 -78.6 112.0 -78.7 113.0 -77.7 115.0 -77.8 116.0 -76.8 118.0 -76.9 119.0 -75.9 120.3 -76.0 115.8 -82.0 111.2 -87.0 105.7 -92.0 100.0 -96.1 90.0 -100.9 80.0 -103.8 75.0 -104.6 70.0 -104.4 66.0 -103.3 61.0 -101.0 55.0 -97.2 50.0 -93.1 46.0 -88.9 42.3 -84.0 39.4 -79.0 38.0 -79.9 37.0 -79.8 36.0 -80.7 35.0 -80.7 34.0 -81.6 33.0 -81.6 32.6 -83.0 33.6 -84.0 33.5 -86.0 35.6 -89.0 35.5 -90.0 37.5 -93.0 37.5 -94.0 39.5 -96.0 39.5 -97.0 49.0 -106.5 50.0 -106.5 52.0 -108.5 55.0 -109.5 58.0 -111.6 60.0 -111.5 63.0 -113.6 66.0 -113.7 67.0 -114.7 72.0 -114.8 73.0 -115.9 77.1 -116.0 70.0 -119.1 60.0 -121.9 54.0 -122.9 46.0 -123.0ZM-0.7 -106.0L0.0 -106.0 0.0 -107.0 -0.7 -106.0Z"/>
<path fill-rule="evenodd" fill="#00ff00" d="M-369.0 -300.0L279.0 -300.0 279.0 329.0 -370.0 329.0 -370.0 -300.0 -369.0 -300.0ZM14.2 -132.0L6.0 -129.5 0.7 -127.0 -3.9 -123.0 -9.0 -116.6 -13.7 -109.0 -16.7 -102.0 -18.6 -94.0 -19.0 -85.9 -22.0 -85.6 -23.0 -84.5 -26.0 -84.4 -27.0 -83.3 -29.0 -83.3 -32.0 -81.2 -34.0 -81.1 -35.0 -80.1 -36.9 -83.0 -36.9 -85.0 -38.9 -88.0 -39.0 -90.0 -40.0 -91.0 -40.0 -94.3 -42.5 -90.0 -43.9 -85.0 -44.2 -81.0 -43.2 -77.0 -44.0 -76.8 -45.0 -75.5 -46.0 -75.4 -48.0 -73.2 -49.0 -73.1 -51.6 -70.0 -50.9 -66.0 -51.5 -54.0 -49.4 -45.0 -43.6 -29.0 -34.8 -8.0 -24.5 13.0 -23.8 18.0 -26.6 32.0 -28.8 36.0 -33.2 40.0 -53.3 55.0 -60.3 61.0 -61.2 62.0 -61.0 64.0 -64.6 68.0 -65.2 72.0 -64.8 75.0 -63.3 78.0 -61.0 80.0 -58.7 81.0 -55.0 81.6 -51.0 80.8 -47.6 79.0 -45.0 76.3 -32.6 82.0 -32.6 83.0 -33.6 84.0 -33.5 86.0 -35.5 89.0 -35.5 90.0 -37.5 93.0 -37.5 94.0 -39.4 96.0 -39.4 97.0 -49.0 106.7 -50.0 106.7 -52.0 108.8 -55.0 109.8 -58.0 111.9 -60.0 111.9 -61.0 113.0 -62.0 113.0 -62.0 113.9 -61.0 115.0 -57.1 118.0 -53.0 120.2 -47.4 122.0 -39.0 123.5 -30.0 123.4 -23.0 121.5 -16.6 118.0 -11.0 113.1 -7.0 107.8 -4.6 103.0 -3.0 98.2 -1.7 88.0 -1.0 88.0 0.0 88.9 1.1 88.0 1.2 100.0 0.2 101.0 0.2 105.0 -0.8 106.0 -0.8 108.0 -1.8 109.0 -1.8 111.0 -3.8 114.0 -4.7 117.0 -6.7 119.0 -6.7 120.0 -17.0 130.6 -18.0 130.6 -23.0 134.9 -26.0 136.0 -26.0 136.8 -24.0 137.5 -17.0 138.9 -4.0 139.0 6.0 136.9 13.0 134.2 21.0 130.0 27.0 126.1 30.5 123.0 32.8 120.0 35.0 115.6 36.8 110.0 37.7 105.0 37.9 100.0 37.4 94.0 36.1 88.0 34.1 82.0 35.0 80.9 35.0 82.0 36.1 83.0 36.0 85.0 38.1 88.0 38.1 90.0 39.1 91.0 39.1 95.0 40.1 96.0 40.2 111.0 39.1 112.0 39.2 115.0 38.1 116.0 38.2 118.0 37.2 119.0 37.2 121.0 36.2 122.0 35.3 125.0 33.4 127.0 33.4 128.0 31.5 130.0 31.5 131.0 28.6 134.0 28.7 135.0 23.0 141.2 31.0 139.5 38.0 137.3 45.0 134.2 52.0 130.2 58.0 125.7 63.0 121.1 73.1 108.0 75.9 103.0 77.2 99.0 77.7 95.0 77.5 90.0 76.4 84.0 74.7 79.0 72.3 74.0 69.1 69.0 70.0 69.0 72.1 71.0 72.0 72.0 74.1 74.0 74.0 75.0 76.1 78.0 76.1 79.0 78.1 82.0 78.1 84.0 79.1 85.0 79.1 89.0 80.1 90.0 80.3 103.0 79.3 104.0 79.5 109.0 78.5 110.0 78.6 112.0 77.5 113.0 77.6 115.0 76.6 116.0 76.8 118.0 75.8 119.0 75.8 120.0 74.9 121.0 74.9 122.0 73.9 123.0 74.0 123.7 85.0 115.8 94.0 106.6 100.0 98.3 104.3 90.0 107.1 82.0 109.8 70.0 110.3 64.0 109.6 59.0 107.1 53.0 103.2 47.0 104.0 47.0 106.1 49.0 106.0 50.0 108.1 52.0 109.0 55.0 111.1 58.0 111.1 60.0 113.2 63.0 113.2 66.0 114.3 67.0 114.4 72.0 115.5 73.0 116.0 87.0 117.5 85.0 122.9 76.0 127.6 65.0 130.5 54.0 131.5 44.0 130.8 34.0 127.5 19.0 124.0 12.4 118.1 7.0 120.0 6.9 130.3 17.0 130.2 18.0 134.5 23.0 135.5 26.0 137.7 29.0 137.7 31.0 139.9 34.0 139.9 36.0 141.0 37.4 142.6 30.0 143.3 23.0 143.1 9.0 142.0 2.0 140.2 -5.0 138.0 -11.0 135.0 -17.0 126.0 -30.2 120.0 -35.5 116.0 -37.4 110.0 -39.1 103.0 -39.9 96.0 -39.5 96.0 -40.0 111.0 -40.1 112.0 -39.0 115.0 -39.1 116.0 -38.0 118.0 -38.1 119.0 -37.0 121.0 -37.1 124.0 -35.1 125.0 -35.2 127.0 -33.2 128.0 -33.3 130.0 -31.3 131.0 -31.4 134.0 -28.4 135.0 -28.5 142.9 -21.0 142.8 -20.0 145.3 -18.0 143.8 -26.0 141.8 -33.0 139.1 -40.0 135.6 -47.0 131.8 -53.0 127.0 -59.0 122.0 -64.0 116.0 -68.6 104.0 -76.0 99.0 -77.8 95.0 -78.2 88.0 -77.6 81.8 -76.0 75.1 -73.0 69.0 -69.0 69.0 -70.0 70.9 -72.0 72.0 -72.0 74.0 -74.1 75.0 -74.0 78.0 -76.1 79.0 -76.1 82.0 -78.1 84.0 -78.1 85.0 -79.1 89.0 -79.1 90.0 -80.1 103.0 -80.3 104.0 -79.2 109.0 -79.4 110.0 -78.4 112.0 -78.5 113.0 -77.5 115.0 -77.6 116.0 -76.5 118.0 -76.7 119.0 -75.7 120.0 -75.7 121.0 -74.7 122.0 -74.8 125.0 -72.9 126.5 -73.0 120.9 -81.0 114.6 -88.0 107.0 -94.7 100.0 -99.5 92.4 -103.0 83.0 -105.6 72.0 -107.4 65.0 -106.8 56.0 -102.7 48.2 -97.0 41.1 -89.0 36.4 -81.0 35.0 -80.9 34.0 -81.8 32.8 -82.0 32.8 -83.0 33.8 -84.0 33.7 -86.0 35.8 -89.0 35.7 -90.0 37.7 -93.0 37.7 -94.0 39.7 -96.0 39.7 -97.0 49.0 -106.3 50.0 -106.3 52.0 -108.3 55.0 -109.3 58.0 -111.4 60.0 -111.3 63.0 -113.5 66.0 -113.5 67.0 -114.6 72.0 -114.6 73.0 -115.7 84.7 -116.0 78.0 -119.6 67.0 -123.6 55.0 -126.1 45.0 -126.1 37.5 -125.0 32.0 -123.4 29.0 -121.9 25.0 -118.8 20.5 -114.0 16.8 -109.0 11.3 -98.0 8.8 -88.0 1.0 -87.5 0.0 -88.4 -1.0 -87.4 -1.6 -88.0 -1.7 -100.0 -0.7 -101.0 -0.7 -105.0 0.3 -106.0 0.2 -108.0 1.3 -109.0 1.2 -111.0 3.2 -114.0 4.2 -117.0 6.2 -119.0 6.2 -120.0 17.0 -130.9 18.0 -130.9 19.0 -132.0 19.0 -132.8 14.2 -132.0ZM67.0 -69.1L68.9 -69.0 62.0 -63.0 61.9 -64.0 67.0 -69.1ZM91.0 -39.0L93.1 -39.0 91.0 -38.5 91.0 -39.0ZM88.0 -38.0L89.0 -38.0 88.0 -38.0ZM98.0 -1.0L100.0 -1.0 100.0 -0.7 98.0 -1.0ZM104.0 -0.0L105.0 -0.0 105.0 0.5 103.0 0.0 104.0 -0.0ZM107.0 1.0L108.0 1.0 108.0 1.5 106.5 1.0 107.0 1.0ZM110.0 2.0L111.0 2.0 111.0 2.8 109.2 2.0 110.0 2.0ZM112.0 3.0L113.0 3.0 113.0 3.8 111.4 3.0 112.0 3.0ZM114.0 4.0L115.0 4.0 115.0 4.9 113.4 4.0 114.0 4.0ZM116.0 5.0L117.0 4.9 118.0 6.0 118.0 6.9 115.1 5.0 116.0 5.0ZM94.0 38.0L94.0 38.4 93.5 38.0 94.0 38.0ZM97.0 40.0L97.0 40.6 96.2 40.0 97.0 40.0ZM98.0 41.0L98.0 41.5 97.4 41.0 98.0 41.0ZM99.0 42.0L99.0 42.4 98.6 42.0 99.0 42.0ZM100.0 43.0L100.0 43.4 99.6 43.0 100.0 43.0ZM101.0 44.0L101.0 44.4 100.6 44.0 101.0 44.0ZM102.0 45.0L102.0 45.6 101.5 45.0 102.0 45.0ZM103.0 46.0L103.0 46.8 102.4 46.0 103.0 46.0ZM64.0 62.0L64.0 63.0 63.0 62.0 64.0 62.0ZM65.0 63.0L69.1 67.0 69.0 68.8 64.0 63.0 65.0 63.0Z"/>
<path fill-rule="evenodd" fill="#2aff00" d="M-369.0 -300.0L279.0 -300.0 279.0 329.0 -370.0 329.0 -370.0 -300.0 -369.0 -300.0ZM15.5 -137.0L4.0 -133.9 -3.0 -131.1 -10.2 -127.0 -14.0 -123.6 -19.7 -115.0 -23.7 -105.0 -25.6 -94.0 -25.5 -89.0 -24.9 -85.0 -26.0 -84.9 -27.0 -83.8 -29.0 -83.7 -32.0 -81.5 -34.0 -81.4 -35.0 -80.4 -36.6 -83.0 -36.6 -85.0 -38.7 -88.0 -38.7 -90.0 -39.7 -91.0 -39.7 -95.0 -40.7 -96.0 -40.9 -111.0 -39.9 -112.0 -39.9 -115.0 -38.9 -116.0 -38.9 -118.0 -37.9 -119.0 -37.9 -121.0 -36.9 -122.0 -37.0 -123.9 -40.1 -122.0 -44.6 -118.0 -48.1 -113.0 -51.4 -106.0 -53.8 -98.0 -54.9 -91.0 -54.9 -84.0 -54.0 -78.0 -51.7 -72.0 -51.9 -71.0 -53.0 -70.8 -56.0 -67.5 -57.0 -67.5 -63.0 -61.2 -64.0 -61.2 -69.9 -67.0 -69.9 -68.0 -73.0 -71.0 -73.0 -72.0 -74.0 -73.0 -74.7 -73.0 -74.6 -68.0 -73.6 -62.0 -72.0 -58.0 -69.9 -55.0 -70.5 -51.0 -66.9 -46.0 -52.0 -11.0 -42.3 8.0 -41.3 13.0 -44.6 30.0 -46.2 34.0 -51.2 39.0 -69.8 53.0 -67.2 56.0 -67.2 57.0 -61.3 63.0 -61.3 64.0 -67.0 69.8 -68.0 69.8 -71.0 72.8 -72.0 72.8 -74.0 74.9 -75.0 74.9 -76.0 75.9 -77.0 75.9 -78.0 76.9 -80.9 78.0 -81.3 81.0 -80.1 86.0 -76.0 90.7 -70.0 93.6 -62.0 95.0 -55.0 94.2 -47.2 91.0 -41.0 86.2 -37.0 80.7 -35.0 80.9 -34.0 81.9 -32.8 82.0 -32.8 83.0 -33.8 84.0 -33.8 86.0 -35.8 89.0 -35.8 90.0 -37.7 93.0 -37.7 94.0 -39.7 96.0 -39.7 97.0 -49.0 106.5 -50.0 106.5 -52.0 108.5 -55.0 109.6 -58.0 111.6 -60.0 111.6 -63.0 113.8 -66.0 113.8 -67.0 114.9 -70.9 115.0 -65.0 120.4 -57.0 124.6 -51.0 126.4 -42.0 127.5 -31.0 127.5 -23.0 126.5 -17.8 125.0 -12.4 122.0 -7.7 118.0 -4.0 113.5 -4.0 115.0 -5.0 116.0 -4.9 117.0 -6.9 119.0 -6.9 120.0 -17.0 130.4 -18.0 130.4 -23.0 134.6 -26.0 135.6 -29.0 137.8 -31.0 137.8 -34.0 140.0 -25.0 142.4 -17.0 143.4 -5.0 143.1 3.0 141.7 12.0 138.5 19.0 134.9 31.0 126.5 36.0 121.7 36.1 123.0 35.1 124.0 35.1 125.0 33.1 127.0 33.2 128.0 31.3 130.0 31.3 131.0 28.4 134.0 28.4 135.0 21.0 142.7 20.0 142.7 16.0 147.0 15.0 147.3 26.0 145.5 36.0 142.5 45.0 138.6 55.0 132.4 62.8 126.0 68.2 120.0 77.1 106.0 80.0 100.0 80.1 103.0 79.1 104.0 79.3 109.0 78.2 110.0 78.3 112.0 77.3 113.0 77.4 115.0 76.4 116.0 76.5 118.0 75.5 119.0 75.5 120.0 73.6 123.0 73.6 124.0 72.7 125.0 72.7 126.0 71.7 127.0 71.8 128.0 70.8 129.0 70.0 131.9 77.0 127.7 85.0 121.6 91.0 115.8 97.0 108.6 101.6 102.0 105.4 95.0 108.3 88.0 110.3 81.0 112.7 63.0 113.0 66.0 114.2 67.0 114.2 72.0 115.3 73.0 115.7 89.0 114.7 90.0 114.9 95.0 113.9 96.0 114.0 98.2 122.4 87.0 126.6 79.0 130.4 69.0 132.7 60.0 134.1 51.0 134.4 43.0 133.7 35.0 129.0 17.0 130.1 17.0 130.1 18.0 132.2 20.0 132.2 21.0 134.3 23.0 135.3 26.0 137.4 29.0 137.4 31.0 139.5 34.0 139.5 36.0 140.6 37.0 140.7 40.0 141.7 41.0 141.8 44.0 142.9 45.0 143.0 49.1 144.4 49.0 146.3 43.0 147.8 35.0 148.3 28.0 148.1 20.0 146.7 9.0 142.6 -7.0 139.6 -14.0 136.3 -20.0 126.2 -33.0 128.0 -33.1 130.0 -31.2 131.0 -31.2 134.0 -28.2 135.0 -28.3 142.5 -21.0 142.5 -20.0 146.7 -16.0 146.7 -15.0 148.8 -13.0 148.8 -12.0 151.0 -9.8 152.0 -9.9 153.0 -9.0 153.0 11.8 153.8 -2.0 152.2 -23.0 148.0 -42.7 147.6 -39.0 148.9 -38.0 148.5 -35.0 149.8 -34.0 149.0 -30.6 139.3 -48.0 133.5 -56.0 128.2 -62.0 123.0 -66.8 117.2 -71.0 100.3 -80.0 103.0 -80.1 104.0 -79.1 109.0 -79.2 110.0 -78.2 112.0 -78.3 113.0 -77.3 115.0 -77.3 116.0 -76.3 118.0 -76.4 119.0 -75.4 120.0 -75.4 123.0 -73.5 124.0 -73.5 125.0 -72.6 126.0 -72.6 129.0 -70.7 130.0 -70.8 132.0 -68.8 133.0 -68.9 135.0 -67.0 135.6 -67.0 129.2 -77.0 122.8 -85.0 115.0 -92.6 107.0 -98.8 97.0 -104.4 86.0 -107.9 70.0 -109.9 63.0 -109.4 59.0 -108.3 54.2 -106.0 46.0 -100.1 39.0 -92.4 34.0 -83.8 33.9 -86.0 36.0 -89.0 35.9 -90.0 37.9 -93.0 37.9 -94.0 39.9 -96.0 39.9 -97.0 49.0 -106.2 50.0 -106.1 52.0 -108.2 55.0 -109.1 58.0 -111.2 60.0 -111.1 63.0 -113.3 66.0 -113.3 67.0 -114.4 72.0 -114.4 73.0 -115.5 89.0 -115.8 90.0 -114.8 93.7 -115.0 87.0 -119.2 73.0 -125.4 64.0 -128.0 57.0 -129.3 45.0 -129.4 29.0 -125.9 24.7 -124.0 21.8 -122.0 15.2 -115.0 11.2 -109.0 7.9 -102.0 5.6 -95.0 4.5 -88.0 1.0 -87.8 0.0 -88.7 -1.0 -87.7 -1.5 -100.0 -0.4 -101.0 -0.5 -105.0 0.5 -106.0 0.5 -108.0 1.5 -109.0 1.5 -111.0 3.5 -114.0 4.5 -117.0 6.5 -119.0 6.4 -120.0 17.0 -130.7 18.0 -130.7 23.0 -134.8 24.0 -134.8 25.0 -135.9 28.0 -137.0 28.0 -137.8 24.0 -137.9 15.5 -137.0ZM-36.8 -124.0L-36.0 -124.0 -36.0 -124.4 -36.8 -124.0ZM142.0 -58.0L141.9 -57.0 142.7 -57.0 142.0 -58.0ZM143.0 -56.0L142.9 -55.0 143.8 -55.0 143.0 -56.5 143.0 -56.0ZM144.0 -54.0L143.9 -52.0 144.9 -51.0 144.8 -49.0 145.9 -48.0 145.8 -46.0 146.9 -45.0 146.8 -43.0 147.9 -43.0 144.0 -54.5 144.0 -54.0ZM151.9 18.0L152.0 19.5 151.9 18.0ZM69.0 132.0L69.0 132.4 69.8 132.0 69.0 132.0ZM33.0 -83.0L33.6 -83.0 33.2 -82.0 33.0 -83.0ZM125.0 -35.0L125.0 -34.4 124.4 -35.0 125.0 -35.0ZM126.0 -34.0L126.0 -33.3 125.4 -34.0 126.0 -34.0ZM150.0 -30.4L151.0 -30.0 150.0 -28.1 149.3 -30.0 150.0 -30.4ZM129.0 16.0L129.0 16.9 129.0 16.0ZM-2.0 110.2L-2.0 111.0 -2.5 111.0 -2.0 110.2ZM-3.0 111.9L-3.0 113.0 -3.7 113.0 -3.0 111.9ZM37.0 120.4L37.0 121.0 36.6 121.0 37.0 120.4Z"/>
<path fill-rule="evenodd" fill="#55ff00" d="M-369.0 -300.0L279.0 -300.0 279.0 329.0 -370.0 329.0 -370.0 -300.0 -369.0 -300.0ZM18.9 -142.0L7.0 -139.4 -2.0 -136.3 -15.0 -129.3 -21.2 -124.0 -24.1 -120.0 -26.8 -115.0 -30.4 -104.0 -31.4 -93.0 -30.0 -83.0 -31.0 -82.9 -32.0 -81.8 -34.0 -81.7 -35.0 -80.7 -35.3 -82.0 -36.3 -83.0 -36.3 -85.0 -38.4 -88.0 -38.4 -90.0 -39.4 -91.0 -39.4 -95.0 -40.5 -96.0 -40.6 -111.0 -39.6 -112.0 -39.6 -115.0 -38.6 -116.0 -38.6 -118.0 -37.6 -119.0 -37.7 -121.0 -36.7 -122.0 -35.7 -125.0 -33.8 -127.0 -33.8 -128.0 -31.9 -130.0 -31.9 -131.0 -29.0 -134.0 -29.0 -134.5 -35.0 -132.1 -42.0 -128.2 -52.0 -120.0 -56.4 -115.0 -58.9 -111.0 -60.8 -106.0 -62.3 -100.0 -63.1 -92.0 -62.7 -81.0 -60.9 -73.0 -58.0 -67.0 -63.0 -61.6 -64.0 -61.6 -69.5 -67.0 -69.5 -68.0 -72.6 -71.0 -72.6 -72.0 -74.6 -74.0 -75.7 -77.0 -76.7 -78.0 -76.7 -79.0 -78.8 -82.0 -78.8 -84.0 -79.8 -85.0 -79.8 -89.0 -80.9 -90.0 -81.0 -101.1 -86.2 -93.0 -87.7 -89.0 -88.3 -85.0 -87.9 -73.0 -86.0 -64.0 -80.8 -52.0 -78.9 -49.0 -76.0 -46.1 -76.6 -43.0 -77.5 -42.0 -77.4 -41.0 -78.3 -40.0 -78.3 -39.0 -79.2 -38.0 -79.1 -37.0 -80.1 -36.0 -80.7 -34.0 -78.0 -31.7 -76.0 -28.7 -68.2 -12.0 -60.1 3.0 -58.8 8.0 -63.9 32.0 -66.9 36.0 -76.0 42.7 -76.3 44.0 -75.6 45.0 -75.7 46.0 -73.9 48.0 -73.9 49.0 -70.9 52.0 -70.9 53.0 -67.8 56.0 -67.8 57.0 -61.6 63.0 -61.6 64.0 -67.0 69.5 -68.0 69.5 -71.0 72.5 -72.0 72.5 -74.0 74.6 -77.0 75.6 -82.0 78.7 -84.0 78.8 -85.0 79.8 -89.0 79.8 -90.0 80.9 -96.8 81.0 -96.0 84.8 -94.3 88.0 -91.9 91.0 -85.0 97.0 -77.2 101.0 -69.0 103.2 -61.0 103.4 -52.0 101.5 -44.6 98.0 -38.0 92.6 -38.0 94.0 -40.0 96.0 -39.9 97.0 -49.0 106.2 -50.0 106.2 -52.0 108.3 -55.0 109.3 -58.0 111.4 -60.0 111.4 -63.0 113.5 -66.0 113.6 -67.0 114.6 -72.0 114.7 -73.0 115.8 -80.0 116.0 -74.7 121.0 -68.0 125.7 -60.0 129.5 -53.0 131.5 -44.0 132.4 -36.0 132.1 -16.0 128.2 -15.9 129.0 -17.0 130.1 -18.0 130.1 -23.0 134.3 -26.0 135.3 -29.0 137.4 -31.0 137.4 -34.0 139.6 -36.0 139.6 -37.0 140.7 -40.0 140.7 -41.0 141.8 -44.0 141.9 -45.4 143.0 -40.0 145.3 -32.0 147.6 -21.0 149.2 -12.0 149.3 -4.0 148.3 6.0 145.4 17.0 140.4 24.0 135.8 31.0 129.6 31.1 131.0 28.1 134.0 28.0 135.2 21.0 142.3 20.0 142.3 16.0 146.4 15.0 146.4 13.0 148.5 12.0 148.5 9.6 151.0 9.6 152.0 9.0 152.7 -15.3 153.0 -3.0 154.8 10.0 155.2 27.0 153.8 43.0 150.6 58.0 146.0 73.0 139.7 88.7 131.0 97.7 125.0 111.4 114.0 123.5 102.0 133.0 90.7 141.7 78.0 148.8 65.0 155.2 50.0 160.1 34.0 163.0 20.0 164.8 5.0 164.8 -8.0 162.9 -25.0 159.9 -39.0 155.2 -54.0 152.3 -59.0 142.5 -68.0 132.8 -83.0 122.2 -97.0 113.0 -106.2 105.0 -112.8 104.9 -112.0 114.3 -102.0 114.0 -100.0 100.0 -106.9 88.0 -110.6 79.0 -111.9 63.0 -112.1 63.0 -113.1 66.0 -113.1 67.0 -114.2 72.0 -114.2 73.0 -115.2 89.0 -115.5 90.0 -114.4 95.0 -114.6 96.0 -113.5 100.0 -113.7 101.0 -114.9 102.1 -115.0 91.0 -122.3 84.0 -125.5 73.0 -129.4 64.0 -131.8 55.0 -133.0 49.0 -133.1 43.0 -132.5 24.0 -127.3 19.3 -125.0 16.0 -122.4 12.0 -118.0 8.4 -113.0 3.5 -103.0 1.1 -95.0 0.4 -89.0 -1.1 -88.0 -1.2 -100.0 -0.2 -101.0 -0.2 -105.0 0.8 -106.0 0.8 -108.0 1.8 -109.0 1.7 -111.0 3.7 -114.0 4.7 -117.0 6.7 -119.0 6.7 -120.0 17.0 -130.4 18.0 -130.4 23.0 -134.6 26.0 -135.6 29.0 -137.7 31.0 -137.7 34.0 -139.8 36.0 -139.8 37.0 -140.9 40.0 -141.0 30.0 -142.2 18.9 -142.0ZM102.9 -114.0L103.5 -114.0 102.9 -114.0ZM103.9 -113.0L104.8 -113.0 104.0 -113.6 103.9 -113.0ZM-19.5 152.0L-18.0 152.4 -17.8 152.0 -19.5 152.0ZM61.0 -112.0L62.1 -112.0 61.0 -112.0ZM115.0 -100.1L115.0 -99.7 114.1 -100.0 115.0 -100.1ZM107.0 -79.0L109.0 -79.1 109.0 -78.1 107.0 -79.0ZM110.0 -78.0L112.0 -78.1 113.0 -77.0 115.0 -77.1 116.0 -76.1 118.0 -76.1 119.0 -75.1 120.0 -75.2 123.0 -73.2 124.0 -73.2 125.0 -72.2 126.0 -72.3 127.0 -71.3 130.0 -70.3 135.0 -66.4 138.0 -66.4 138.4 -66.0 138.3 -64.0 140.0 -61.0 139.2 -59.0 138.0 -59.1 135.0 -60.8 126.4 -68.0 120.0 -72.7 109.4 -78.0 110.0 -78.0ZM131.0 -31.0L131.0 -30.6 130.6 -31.0 131.0 -31.0ZM132.0 -30.0L132.0 -29.6 131.6 -30.0 132.0 -30.0ZM133.0 -29.0L133.0 -28.6 132.6 -29.0 133.0 -29.0ZM134.0 -28.0L135.0 -28.1 142.2 -21.0 142.2 -20.0 146.3 -16.0 146.3 -15.0 148.3 -13.0 148.3 -12.0 151.0 -9.2 152.2 -9.0 152.0 -3.5 151.0 -1.5 148.0 -4.7 140.3 -19.0 133.6 -28.0 134.0 -28.0ZM134.0 23.0L134.0 24.8 133.3 23.0 134.0 23.0ZM135.0 24.9L135.0 26.0 136.1 27.0 136.1 28.0 137.1 29.0 137.1 31.0 139.2 34.0 139.2 36.0 140.3 37.0 140.3 40.0 141.3 41.0 141.3 44.0 142.3 45.0 142.3 49.0 144.2 50.0 142.0 55.9 140.0 57.5 139.0 56.3 138.6 54.0 136.6 34.0 134.1 25.0 135.0 24.9ZM115.0 73.0L115.3 89.0 114.3 90.0 114.4 95.0 113.3 96.0 113.4 100.0 114.4 101.0 114.3 102.0 106.0 110.0 105.0 109.9 104.3 109.0 104.5 108.0 111.5 89.0 113.5 81.0 114.3 73.0 115.0 73.0ZM-37.0 91.5L-37.4 92.0 -37.0 91.5ZM79.0 106.9L79.1 109.0 78.2 109.0 79.0 106.9ZM78.0 109.5L78.1 112.0 77.0 113.0 77.1 115.0 76.1 116.0 76.2 118.0 75.1 119.0 75.2 120.0 73.2 123.0 73.3 124.0 72.3 125.0 72.3 126.0 71.3 127.0 70.4 130.0 66.4 135.0 66.5 138.0 66.0 138.5 64.0 138.5 63.0 139.5 60.0 140.4 59.0 141.4 57.0 141.3 54.0 143.2 52.0 143.1 51.0 144.1 50.3 144.0 51.3 142.0 62.0 132.2 69.0 124.6 74.2 117.0 78.0 109.5ZM-15.0 127.9L-15.4 128.0 -15.0 127.9ZM32.0 128.7L31.6 129.0 32.0 128.7Z"/>
<path fill-rule="evenodd" fill="#80ff00" d="M-369.0 -300.0L279.0 -300.0 279.0 329.0 -370.0 329.0 -370.0 -300.0 -369.0 -300.0ZM17.0 -146.0L5.0 -143.6 -5.0 -139.9 -13.0 -135.4 -20.5 -130.0 -24.3 -127.0 -28.1 -123.0 -30.7 -119.0 -33.0 -114.0 -36.1 -103.0 -36.6 -93.0 -35.9 -87.0 -34.5 -82.0 -35.0 -81.0 -35.0 -82.0 -36.1 -83.0 -36.0 -85.0 -38.1 -88.0 -38.1 -90.0 -39.1 -91.0 -39.1 -95.0 -40.2 -96.0 -40.3 -111.0 -39.3 -112.0 -39.3 -115.0 -38.3 -116.0 -38.4 -118.0 -37.3 -119.0 -37.4 -121.0 -36.4 -122.0 -35.5 -125.0 -33.5 -127.0 -33.5 -128.0 -31.6 -130.0 -31.6 -131.0 -28.6 -134.0 -28.7 -135.0 -21.0 -143.0 -19.9 -143.0 -20.0 -143.8 -31.0 -140.2 -40.0 -135.7 -48.0 -130.4 -55.0 -124.0 -62.0 -115.7 -66.0 -109.5 -68.2 -104.0 -69.9 -95.0 -70.4 -86.0 -69.4 -77.0 -67.0 -69.0 -63.0 -62.0 -64.0 -61.9 -69.1 -67.0 -69.1 -68.0 -72.2 -71.0 -72.2 -72.0 -74.3 -74.0 -75.3 -77.0 -76.3 -78.0 -77.4 -81.0 -78.4 -82.0 -78.4 -84.0 -79.5 -85.0 -79.5 -89.0 -80.5 -90.0 -80.7 -103.0 -79.7 -104.0 -79.9 -109.0 -78.9 -110.0 -78.9 -112.0 -77.9 -113.0 -78.0 -114.4 -86.0 -106.1 -92.0 -97.0 -96.1 -88.0 -97.8 -77.0 -97.0 -68.1 -93.7 -56.0 -90.9 -50.0 -87.0 -43.6 -84.0 -39.7 -80.7 -37.0 -80.9 -35.0 -81.8 -34.0 -81.7 -33.0 -83.0 -32.7 -84.0 -33.7 -86.0 -33.6 -89.0 -35.6 -90.0 -35.5 -91.0 -36.5 -94.0 -37.4 -96.0 -39.3 -97.0 -39.3 -105.0 -47.0 -105.7 -47.0 -103.1 -36.0 -100.8 -31.0 -98.1 -27.0 -94.2 -23.0 -90.0 -20.0 -87.0 -18.7 -86.2 -14.0 -87.1 -13.0 -87.0 -11.7 -84.0 -10.1 -81.0 -6.8 -77.5 -1.0 -76.4 3.0 -77.0 7.0 -80.5 19.0 -82.0 22.3 -84.0 24.5 -84.0 26.0 -83.0 27.0 -83.1 29.0 -81.1 32.0 -81.1 34.0 -80.1 35.0 -83.0 36.9 -85.0 36.9 -88.0 38.9 -90.0 38.9 -91.0 40.0 -93.7 40.0 -96.8 45.0 -98.0 48.0 -98.3 51.0 -97.5 54.0 -96.0 57.0 -93.6 60.0 -89.0 63.5 -85.0 65.4 -80.0 66.1 -73.0 65.5 -68.0 64.0 -64.0 61.4 -61.9 63.0 -61.9 64.0 -67.0 69.2 -68.0 69.2 -71.0 72.2 -72.0 72.2 -74.0 74.3 -77.0 75.3 -82.0 78.4 -84.0 78.5 -85.0 79.5 -89.0 79.5 -90.0 80.6 -103.0 80.9 -104.0 79.9 -107.9 80.0 -105.9 85.0 -102.9 90.0 -99.4 94.0 -92.0 99.8 -86.4 103.0 -75.6 107.0 -68.0 108.8 -61.0 109.3 -54.0 108.3 -54.0 109.0 -57.0 110.1 -58.0 111.1 -60.0 111.1 -63.0 113.2 -66.0 113.3 -67.0 114.4 -72.0 114.4 -73.0 115.5 -89.0 115.9 -90.0 114.9 -91.0 115.0 -83.1 123.0 -73.0 130.4 -63.0 135.7 -54.0 138.4 -42.0 138.2 -34.0 136.9 -27.0 135.0 -27.0 136.1 -28.0 136.0 -29.0 137.1 -31.0 137.1 -34.0 139.1 -36.0 139.1 -37.0 140.2 -40.0 140.2 -41.0 141.2 -44.0 141.2 -45.0 142.3 -49.0 142.3 -50.0 144.4 -51.0 144.4 -52.0 143.3 -54.0 143.4 -57.0 141.3 -59.0 141.4 -62.0 139.4 -63.0 139.5 -64.0 138.5 -66.5 139.0 -65.0 140.1 -57.0 145.8 -44.0 153.2 -38.0 155.9 -30.0 158.4 -17.0 161.4 -3.0 163.2 13.0 163.5 29.0 162.0 45.0 158.9 61.0 154.1 76.0 148.0 93.0 139.0 103.9 132.0 118.1 121.0 130.0 109.9 140.6 98.0 150.8 84.0 157.6 72.0 163.5 59.0 166.8 50.0 169.7 40.0 172.7 26.0 174.3 12.0 174.7 -2.0 172.5 -23.0 170.0 -35.0 163.0 -56.7 159.6 -62.0 147.7 -72.0 132.9 -93.0 125.0 -102.6 109.3 -116.0 94.0 -126.7 87.0 -130.4 69.0 -137.8 68.6 -137.0 69.0 -136.4 70.0 -136.6 70.4 -136.0 70.0 -135.2 58.0 -136.8 51.0 -137.0 44.0 -136.5 35.0 -134.4 16.3 -127.0 12.0 -123.9 7.0 -118.3 6.9 -120.0 17.0 -130.2 18.0 -130.2 23.0 -134.3 26.0 -135.3 29.0 -137.4 31.0 -137.3 34.0 -139.4 36.0 -139.4 37.0 -140.5 40.0 -140.5 41.0 -141.6 44.0 -141.6 45.0 -142.8 49.1 -143.0 49.0 -143.7 35.0 -145.8 25.0 -146.3 17.0 -146.0ZM61.9 -140.0L62.7 -140.0 61.9 -140.0ZM63.8 -139.0L65.7 -139.0 64.0 -139.6 63.8 -139.0ZM66.7 -138.0L67.0 -137.6 68.5 -138.0 67.0 -138.6 66.7 -138.0ZM-67.7 138.0L-67.0 138.6 -67.0 137.8 -67.7 138.0ZM6.0 -118.0L6.7 -118.0 5.0 -115.5 4.9 -117.0 6.0 -118.0ZM4.0 -115.0L4.7 -115.0 4.0 -114.0 4.0 -115.0ZM73.0 -115.0L77.4 -115.0 73.0 -115.0ZM80.0 -115.0L89.1 -115.0 89.0 -114.1 80.0 -115.0ZM90.0 -114.0L95.1 -114.0 95.0 -113.2 90.0 -114.0ZM3.0 -113.0L3.4 -113.0 3.0 -112.3 3.0 -113.0ZM97.0 -113.0L100.6 -113.0 96.5 -113.0 97.0 -113.0ZM2.0 -111.0L2.0 -110.4 2.0 -111.0ZM-52.0 107.7L-52.9 108.0 -52.0 107.7ZM-23.0 133.7L-23.8 134.0 -23.0 133.7ZM-26.0 134.7L-25.0 134.4 -25.0 135.0 -26.9 135.0 -26.0 134.7Z"/>
<path fill-rule="evenodd" fill="#aaff00" d="M-369.0 -300.0L279.0 -300.0 279.0 329.0 -370.0 329.0 -370.0 -300.0 -369.0 -300.0ZM-12.1 -151.0L-18.0 -150.3 -27.0 -148.4 -37.0 -144.6 -48.0 -137.6 -59.0 -127.3 -65.3 -119.0 -71.7 -108.0 -74.3 -102.0 -76.6 -91.0 -76.6 -80.0 -78.1 -82.0 -78.1 -84.0 -79.1 -85.0 -79.1 -89.0 -80.2 -90.0 -80.4 -103.0 -79.4 -104.0 -79.6 -109.0 -78.5 -110.0 -78.6 -112.0 -77.6 -113.0 -77.6 -115.0 -76.6 -116.0 -76.7 -118.0 -74.7 -121.0 -74.8 -122.0 -73.8 -123.0 -73.8 -124.0 -72.8 -125.0 -72.9 -126.0 -71.9 -127.0 -71.0 -129.9 -80.0 -122.3 -88.0 -113.7 -94.0 -105.5 -99.2 -96.0 -101.3 -90.0 -101.9 -83.0 -104.3 -71.0 -104.9 -65.0 -104.4 -60.0 -103.1 -55.0 -97.5 -41.0 -106.3 -49.0 -106.3 -50.0 -108.4 -52.0 -109.4 -55.0 -111.6 -58.0 -111.7 -60.0 -112.9 -61.0 -113.0 -62.0 -118.9 -51.0 -120.5 -44.0 -120.3 -40.0 -119.1 -35.0 -116.7 -30.0 -114.0 -26.0 -110.0 -21.7 -104.6 -17.0 -99.0 -13.3 -94.0 -10.9 -88.0 -9.4 -87.3 -1.0 -88.3 0.0 -87.3 1.0 -88.0 1.7 -100.0 1.8 -101.0 0.8 -105.0 0.9 -106.0 -0.1 -108.0 -0.1 -109.0 -1.1 -111.0 -1.0 -114.0 -3.0 -115.3 -3.0 -113.1 1.0 -110.5 10.0 -106.9 15.0 -102.1 19.0 -96.0 21.9 -90.0 23.3 -85.0 23.0 -84.8 26.0 -83.8 27.0 -83.7 29.0 -81.6 32.0 -81.5 34.0 -80.5 35.0 -82.0 35.5 -83.0 36.5 -85.0 36.5 -88.0 38.5 -90.0 38.6 -91.0 39.6 -95.0 39.6 -96.0 40.6 -111.0 40.8 -112.0 39.8 -115.0 39.9 -116.0 38.9 -118.0 38.9 -119.0 37.9 -121.9 38.0 -119.9 45.0 -114.0 57.0 -110.4 62.0 -106.2 66.0 -100.0 70.1 -93.0 73.1 -85.0 74.4 -76.0 74.2 -76.0 75.0 -79.0 76.1 -80.0 77.1 -81.0 77.1 -82.0 78.1 -84.0 78.2 -85.0 79.2 -89.0 79.2 -90.0 80.3 -103.0 80.5 -104.0 79.5 -109.0 79.7 -110.0 78.7 -112.0 78.8 -113.0 77.8 -115.0 77.8 -116.0 76.9 -118.9 77.0 -116.2 84.0 -110.6 93.0 -105.0 99.1 -98.0 104.5 -92.0 108.1 -86.0 110.2 -66.6 113.0 -67.0 114.1 -72.0 114.1 -73.0 115.2 -89.0 115.4 -90.0 114.3 -95.0 114.6 -96.0 113.5 -100.0 113.9 -100.2 115.0 -89.2 128.0 -73.0 143.3 -61.0 152.4 -42.0 163.7 -31.0 167.3 -17.0 170.4 -5.0 172.1 8.0 172.9 20.0 172.8 35.0 171.7 54.0 168.9 69.0 165.8 81.8 162.0 102.0 154.5 113.0 149.1 124.5 142.0 136.0 132.0 145.3 122.0 153.7 111.0 166.0 91.6 175.2 66.0 178.7 53.0 180.9 40.0 182.3 28.0 182.9 13.0 182.5 0.0 179.6 -21.0 177.0 -33.0 171.4 -49.0 167.5 -59.0 164.9 -64.0 161.0 -68.9 152.0 -77.0 131.0 -104.7 119.0 -115.1 98.3 -130.0 91.2 -134.0 80.0 -138.5 57.0 -146.1 36.0 -149.8 25.0 -151.0 24.0 -150.3 13.0 -149.8 4.0 -148.3 -2.0 -146.6 -7.0 -144.4 -14.0 -140.4 -19.0 -136.7 -33.2 -123.0 -36.4 -118.0 -39.0 -111.6 -39.1 -115.0 -38.0 -116.0 -38.1 -118.0 -37.1 -119.0 -37.1 -121.0 -36.1 -122.0 -35.2 -125.0 -33.2 -127.0 -33.3 -128.0 -31.3 -130.0 -31.3 -131.0 -28.3 -134.0 -28.4 -135.0 -21.0 -142.5 -20.0 -142.4 -16.0 -146.6 -15.0 -146.6 -13.0 -148.7 -12.0 -148.7 -10.0 -151.0 -12.1 -151.0ZM-119.1 76.0L-119.0 76.5 -119.1 76.0ZM50.0 -144.2L51.0 -144.2 52.0 -143.1 53.4 -143.0 51.1 -142.0 45.0 -141.2 45.0 -142.1 49.0 -142.0 49.9 -143.0 50.0 -144.2ZM41.0 -141.1L43.9 -141.0 41.0 -140.4 41.0 -141.1ZM37.0 -140.1L39.3 -140.0 37.0 -139.4 37.0 -140.1ZM34.0 -139.0L35.8 -139.0 34.0 -138.4 34.0 -139.0ZM32.0 -138.0L33.0 -138.0 32.0 -137.6 32.0 -138.0ZM29.0 -137.0L30.6 -137.0 29.0 -136.3 29.0 -137.0ZM27.0 -136.0L28.3 -136.0 27.0 -135.4 27.0 -136.0ZM25.0 -135.0L26.2 -135.0 25.0 -134.4 25.0 -135.0ZM23.0 -134.0L24.2 -134.0 23.0 -133.3 23.0 -134.0ZM22.0 -133.0L22.4 -133.0 22.0 -133.0ZM20.0 -132.0L20.8 -132.0 20.0 -131.6 20.0 -132.0ZM-40.0 -111.0L-39.2 -111.0 -40.0 -108.1 -40.0 -111.0ZM-74.0 73.8L-75.0 74.0 -74.0 73.8Z"/>
<path fill-rule="evenodd" fill="#d5ff00" d="M-369.0 -300.0L279.0 -300.0 279.0 329.0 -370.0 329.0 -370.0 -300.0 -369.0 -300.0ZM-40.6 -156.0L-49.0 -155.2 -70.0 -151.5 -80.0 -148.6 -89.0 -145.0 -96.0 -141.2 -107.0 -140.8 -111.4 -140.0 -115.0 -138.0 -116.4 -136.0 -116.9 -133.0 -116.1 -129.0 -108.0 -109.4 -103.0 -112.3 -101.2 -111.0 -101.0 -109.0 -106.4 -94.0 -106.5 -91.0 -105.5 -84.0 -105.7 -81.0 -107.2 -73.0 -111.0 -59.9 -112.2 -61.0 -112.3 -62.0 -113.6 -63.0 -113.9 -66.0 -114.4 -66.0 -118.0 -60.8 -124.2 -54.0 -128.3 -47.0 -128.8 -45.0 -128.8 -40.0 -127.7 -33.0 -126.0 -27.1 -124.0 -23.0 -121.0 -18.9 -116.0 -13.9 -110.0 -9.6 -103.0 -6.2 -95.0 -3.7 -88.0 -2.6 -87.9 -1.0 -88.8 0.0 -87.7 1.0 -100.0 1.4 -101.0 0.4 -105.0 0.4 -106.0 -0.6 -108.0 -0.5 -109.0 -1.6 -111.0 -1.5 -114.0 -3.5 -117.0 -4.5 -119.0 -6.5 -120.0 -6.5 -130.7 -17.0 -130.7 -18.0 -132.8 -20.0 -132.8 -21.0 -134.9 -23.0 -135.0 -24.1 -135.9 -24.0 -136.4 -19.0 -136.1 -12.0 -130.7 6.0 -128.3 12.0 -124.0 19.0 -119.1 24.0 -111.0 29.5 -102.5 33.0 -97.0 34.1 -92.0 34.5 -87.0 34.2 -82.0 32.9 -81.9 34.0 -80.9 35.0 -82.0 35.1 -83.0 36.1 -85.0 36.1 -88.0 38.2 -90.0 38.2 -91.0 39.2 -95.0 39.2 -96.0 40.3 -111.0 40.4 -112.0 39.4 -115.0 39.5 -116.0 38.5 -118.0 38.5 -119.0 37.5 -121.0 37.6 -122.0 36.6 -125.0 35.7 -127.0 33.7 -128.0 33.7 -130.0 31.8 -131.0 31.8 -134.0 28.9 -136.8 28.0 -135.2 36.0 -131.6 45.0 -127.6 52.0 -119.6 63.0 -112.0 70.0 -106.0 74.5 -99.0 78.1 -92.5 80.0 -103.0 80.2 -104.0 79.2 -109.0 79.3 -110.0 78.3 -112.0 78.4 -113.0 77.4 -115.0 77.4 -116.0 76.4 -118.0 76.5 -119.0 75.5 -120.0 75.5 -121.0 74.5 -122.0 74.6 -123.0 73.6 -124.0 73.6 -127.0 71.8 -128.0 71.8 -129.0 70.9 -130.2 71.0 -127.4 80.0 -122.8 90.0 -124.2 90.0 -115.1 106.0 -105.1 120.0 -97.0 130.1 -82.0 145.1 -66.0 158.3 -46.9 171.0 -42.0 173.8 -29.0 179.2 -5.0 185.9 7.0 188.0 32.0 191.2 47.0 191.7 59.0 191.5 76.0 190.0 90.0 187.2 101.0 184.3 119.0 177.4 129.0 171.9 140.5 164.0 144.7 160.0 155.2 148.0 165.0 133.6 177.3 109.0 181.8 99.0 183.1 95.0 184.4 87.0 188.6 69.0 191.2 53.0 192.0 29.0 191.4 11.0 190.1 -1.0 183.4 -33.0 171.1 -62.0 165.0 -72.6 156.2 -82.0 139.3 -104.0 134.0 -110.0 113.0 -126.0 100.0 -135.0 94.0 -138.3 82.0 -142.7 60.0 -149.8 52.0 -151.5 38.0 -153.5 21.0 -155.4 5.0 -156.4 -17.0 -156.8 -40.6 -156.0ZM-9.0 -152.0L-8.1 -152.0 -9.0 -151.0 -9.0 -152.0ZM-66.0 -137.6L-63.0 -137.6 -62.1 -137.0 -62.5 -135.0 -70.3 -121.0 -74.8 -110.0 -80.0 -99.7 -80.1 -103.0 -79.1 -104.0 -79.2 -109.0 -78.2 -110.0 -78.2 -112.0 -77.2 -113.0 -77.3 -115.0 -76.2 -116.0 -76.3 -118.0 -75.3 -119.0 -75.3 -120.0 -74.3 -121.0 -74.3 -122.0 -73.3 -123.0 -73.3 -124.0 -72.3 -125.0 -72.3 -126.0 -71.3 -127.0 -70.3 -130.0 -66.2 -135.0 -66.0 -137.6ZM-27.0 -136.0L-26.6 -136.0 -27.0 -135.5 -27.0 -136.0ZM-28.0 -135.0L-27.4 -135.0 -28.0 -134.3 -28.0 -135.0ZM-30.0 -132.0L-30.0 -131.6 -30.0 -132.0ZM-31.0 -131.0L-30.4 -131.0 -31.0 -130.2 -31.0 -131.0ZM-122.0 91.4L-122.0 92.2 -122.5 92.0 -122.0 91.4Z"/>
<path fill-rule="evenodd" fill="#ffff00" d="M-369.0 -300.0L279.0 -300.0 279.0 329.0 -370.0 329.0 -370.0 -300.0 -369.0 -300.0ZM-120.4 -196.0L-126.0 -193.0 -142.0 -181.6 -152.0 -171.7 -160.0 -161.7 -171.0 -144.0 -177.0 -132.3 -178.0 -129.3 -178.6 -126.0 -178.4 -124.0 -173.3 -118.0 -172.4 -116.0 -172.9 -114.0 -175.5 -110.0 -180.1 -105.0 -183.0 -102.3 -184.3 -102.0 -179.0 -100.8 -170.0 -95.8 -162.0 -94.4 -155.9 -95.0 -138.0 -101.5 -129.0 -103.8 -126.0 -103.8 -124.0 -103.1 -122.0 -101.2 -120.9 -99.0 -120.7 -97.0 -121.3 -95.0 -128.0 -84.0 -127.9 -83.0 -132.7 -70.0 -133.0 -65.5 -132.0 -63.3 -130.7 -62.0 -130.5 -60.0 -137.0 -50.0 -138.0 -46.0 -137.7 -39.0 -136.4 -33.0 -127.2 -15.0 -128.0 -14.9 -130.1 -17.0 -130.1 -18.0 -134.2 -23.0 -135.2 -26.0 -136.2 -27.0 -136.2 -28.0 -137.2 -29.0 -137.2 -31.0 -139.3 -34.0 -139.3 -36.0 -140.4 -37.0 -140.4 -40.0 -141.5 -41.0 -141.6 -44.0 -142.8 -45.0 -143.0 -47.7 -144.5 -43.0 -145.6 -35.0 -146.7 -14.0 -145.6 -7.0 -141.5 5.0 -138.9 11.0 -135.9 16.0 -124.0 31.0 -119.0 35.1 -111.6 39.0 -115.0 39.1 -116.0 38.1 -118.0 38.1 -119.0 37.1 -121.0 37.2 -122.0 36.2 -125.0 35.2 -127.0 33.3 -128.0 33.3 -130.0 31.3 -131.0 31.4 -134.0 28.4 -135.0 28.4 -142.6 21.0 -142.5 20.0 -146.7 16.0 -146.7 15.0 -148.9 13.0 -148.8 12.0 -150.5 11.0 -149.5 21.0 -147.9 31.0 -143.4 45.0 -140.7 51.0 -137.2 57.0 -130.9 66.0 -126.1 71.0 -128.0 71.1 -129.0 70.1 -130.0 70.1 -135.0 66.2 -138.4 66.0 -138.4 64.0 -140.5 61.0 -140.4 60.0 -141.5 59.0 -141.5 57.0 -143.7 54.0 -143.6 52.0 -144.8 51.0 -145.0 48.7 -145.7 49.0 -141.2 69.0 -133.7 92.0 -121.4 112.0 -108.5 130.0 -102.9 137.0 -85.0 155.0 -70.0 167.3 -57.0 177.2 -35.0 190.9 -7.0 201.5 32.0 211.6 61.0 215.3 71.0 216.0 97.0 212.7 109.0 210.5 131.0 202.5 140.0 197.9 154.9 187.0 161.6 181.0 167.9 173.0 179.8 155.0 184.4 145.0 197.1 109.0 198.9 103.0 200.0 96.0 204.3 52.0 201.1 4.0 191.4 -36.0 178.7 -63.0 171.4 -77.0 145.6 -110.0 140.1 -116.0 129.0 -124.7 108.0 -139.4 102.0 -143.4 96.0 -146.4 64.0 -156.5 55.0 -158.6 16.0 -163.4 -23.0 -166.7 -54.0 -170.4 -78.2 -174.0 -94.2 -177.0 -99.0 -178.3 -103.0 -181.0 -108.3 -187.0 -115.0 -196.4 -117.0 -197.0 -120.4 -196.0ZM-146.3 46.0L-146.0 47.7 -145.8 46.0 -146.3 46.0ZM-114.0 -101.7L-113.1 -101.0 -114.0 -100.9 -114.0 -101.7ZM-113.0 -100.9L-111.8 -93.0 -109.2 -84.0 -109.3 -76.0 -110.0 -72.0 -113.0 -63.8 -113.2 -66.0 -114.6 -67.0 -114.9 -72.0 -116.0 -73.3 -117.0 -70.1 -119.0 -66.9 -121.0 -65.2 -124.0 -64.3 -125.3 -65.0 -125.8 -68.0 -125.5 -71.0 -124.0 -73.8 -122.0 -75.5 -119.0 -76.6 -117.0 -76.4 -116.0 -74.8 -115.6 -89.0 -114.5 -90.0 -114.4 -95.0 -113.1 -96.0 -113.0 -100.9ZM-127.0 -14.7L-126.5 -14.0 -127.0 -14.0 -127.0 -14.7ZM-126.0 -13.3L-125.7 -13.0 -126.0 -13.3ZM-122.0 -9.3L-121.7 -9.0 -122.0 -9.3ZM-121.0 -8.4L-120.4 -8.0 -121.0 -8.0 -121.0 -8.4ZM-120.0 -7.7L-119.1 -7.0 -120.0 -7.0 -120.0 -7.7ZM-118.0 -6.2L-117.7 -6.0 -118.0 -6.2ZM-117.0 -5.6L-116.1 -5.0 -117.0 -5.0 -117.0 -5.6ZM-115.0 -4.3L-114.4 -4.0 -115.0 -4.3ZM-113.0 -3.2L-112.6 -3.0 -113.0 -3.2ZM-111.0 -2.2L-110.6 -2.0 -111.0 -2.2ZM-111.0 39.3L-109.1 40.0 -111.0 40.0 -111.0 39.3ZM-126.0 71.1L-124.8 72.0 -126.0 72.0 -126.0 71.1ZM-124.0 72.6L-123.4 73.0 -124.0 72.6ZM-109.0 78.9L-108.6 79.0 -109.0 78.9Z"/>
<path fill-rule="evenodd" fill="#ffd500" d="M-369.0 -300.0L-101.3 -300.0 -102.1 -297.0 -105.3 -291.0 -105.2 -289.0 -104.0 -288.0 -56.0 -275.3 4.2 -258.0 20.7 -252.0 23.7 -250.0 22.5 -249.0 19.0 -248.7 -6.0 -249.1 -21.0 -248.5 -35.0 -247.0 -48.0 -244.7 -74.0 -238.1 -87.0 -235.6 -98.0 -232.1 -104.3 -228.0 -111.0 -224.8 -120.0 -219.2 -125.1 -213.0 -131.0 -208.0 -143.0 -195.0 -150.0 -188.9 -155.0 -181.7 -164.4 -166.0 -174.8 -145.0 -179.4 -134.0 -181.0 -128.1 -181.5 -125.0 -181.0 -122.0 -176.2 -116.0 -176.2 -114.0 -182.3 -104.0 -184.0 -103.1 -187.0 -103.8 -187.3 -103.0 -187.0 -101.7 -182.7 -100.0 -181.9 -99.0 -174.0 -79.5 -170.2 -72.0 -168.8 -67.0 -164.1 -36.0 -162.5 2.0 -158.4 49.0 -153.4 81.0 -149.4 98.0 -144.9 114.0 -134.0 144.0 -129.2 153.0 -112.0 177.9 -86.0 206.4 -79.3 212.0 -60.0 223.7 -26.0 240.0 1.0 248.5 12.4 251.0 45.0 254.8 75.0 252.0 86.0 250.1 111.0 242.1 132.0 232.2 139.0 228.2 150.5 220.0 155.0 216.2 184.7 184.0 190.0 175.9 206.5 146.0 219.2 110.0 240.0 5.9 240.7 0.0 240.5 -5.0 235.3 -43.0 228.0 -73.0 224.0 -86.6 212.0 -117.4 208.0 -126.3 187.0 -156.1 170.9 -177.0 166.0 -182.5 151.7 -195.0 149.8 -198.0 149.6 -200.0 151.0 -202.8 156.0 -209.7 158.0 -213.7 189.0 -289.1 192.0 -296.8 192.7 -300.0 279.0 -300.0 279.0 329.0 -370.0 329.0 -370.0 -300.0 -369.0 -300.0ZM-190.2 -105.0L-190.0 -104.0 -187.4 -104.0 -189.1 -105.0 -190.2 -105.0ZM-115.0 -82.3L-113.3 -80.0 -112.5 -76.0 -112.7 -72.0 -114.0 -67.7 -114.2 -72.0 -115.4 -73.0 -115.0 -82.3Z"/>
<path fill-rule="evenodd" fill="#ffaa00" d="M-369.0 -300.0L-104.0 -300.0 -104.9 -297.0 -108.7 -290.0 -108.9 -288.0 -107.0 -285.7 -59.6 -271.0 -54.6 -269.0 -51.4 -267.0 -51.3 -266.0 -54.0 -265.3 -71.0 -264.0 -83.0 -262.3 -110.0 -255.9 -114.0 -254.4 -122.0 -248.9 -123.8 -247.0 -126.0 -241.0 -131.0 -236.8 -138.3 -229.0 -139.4 -227.0 -141.1 -220.0 -145.3 -215.0 -148.0 -210.0 -151.0 -206.0 -154.1 -200.0 -159.5 -194.0 -170.2 -167.0 -181.4 -134.0 -183.1 -126.0 -183.0 -121.0 -178.5 -115.0 -178.7 -114.0 -182.6 -107.0 -182.5 -105.0 -183.4 -104.0 -185.0 -103.6 -189.0 -105.3 -190.6 -105.0 -190.2 -103.0 -188.0 -103.5 -187.0 -100.7 -185.3 -100.0 -184.7 -99.0 -184.9 -95.0 -182.8 -76.0 -176.1 -34.0 -176.3 -6.0 -181.5 26.0 -182.5 84.0 -178.5 114.0 -171.4 136.0 -168.2 144.0 -156.6 169.0 -153.7 174.0 -148.5 181.0 -133.4 200.0 -88.0 252.2 -82.3 258.0 -69.0 267.4 -57.0 274.7 -26.0 285.4 6.0 290.5 43.0 289.5 50.0 288.4 80.0 281.2 96.0 275.1 120.0 263.7 136.8 252.0 165.0 225.1 196.2 190.0 215.0 155.9 219.3 145.0 229.5 113.0 242.4 66.0 252.9 15.0 253.3 1.0 251.9 -22.0 245.6 -57.0 245.3 -62.0 246.2 -76.0 240.5 -102.0 239.8 -108.0 240.1 -112.0 241.1 -114.0 243.7 -116.0 272.4 -131.0 279.0 -133.4 279.0 329.0 -370.0 329.0 -370.0 -300.0 -369.0 -300.0Z"/>
<path fill-rule="evenodd" fill="#ff8000" d="M-369.0 -300.0L-106.0 -300.0 -107.0 -297.0 -111.5 -289.0 -112.1 -286.0 -111.6 -282.0 -112.1 -281.0 -114.0 -280.2 -127.0 -277.9 -139.0 -274.6 -141.0 -273.0 -143.2 -269.0 -146.3 -265.0 -147.3 -262.0 -148.1 -254.0 -151.2 -249.0 -153.2 -244.0 -156.0 -239.0 -157.4 -227.0 -160.3 -221.0 -165.5 -205.0 -169.0 -198.9 -181.1 -141.0 -184.0 -129.9 -184.0 -118.0 -181.2 -115.0 -181.1 -114.0 -184.0 -107.7 -184.0 -104.7 -185.0 -104.2 -190.0 -105.6 -191.0 -105.0 -191.0 -102.7 -190.0 -102.4 -187.9 -103.0 -187.7 -99.0 -193.3 -84.0 -195.4 -77.0 -199.6 -37.0 -203.0 -19.1 -206.4 -5.0 -217.8 24.0 -227.8 55.0 -233.7 84.0 -235.1 108.0 -234.4 122.0 -231.9 145.0 -230.6 152.0 -221.1 182.0 -210.0 205.3 -203.3 217.0 -181.0 246.1 -151.0 276.9 -126.7 299.0 -121.1 305.0 -119.9 308.0 -120.0 311.0 -125.7 329.0 -370.0 329.0 -370.0 -300.0 -369.0 -300.0ZM279.0 -0.0L279.0 329.0 154.4 329.0 153.0 324.9 143.0 305.1 137.5 297.0 132.9 288.0 128.1 281.0 127.8 279.0 128.1 277.0 130.4 273.0 137.9 265.0 164.0 240.6 187.2 217.0 202.3 198.0 209.7 188.0 226.7 158.0 230.6 150.0 243.5 119.0 255.9 85.0 257.8 77.0 264.0 38.0 270.6 22.0 275.0 4.4 277.0 1.1 279.0 -0.0Z"/>
<path fill-rule="evenodd" fill="#ff5500" d="M-369.0 -300.0L-108.6 -300.0 -109.2 -298.0 -113.0 -292.0 -115.0 -289.8 -117.0 -289.1 -142.0 -293.6 -157.0 -295.3 -164.0 -294.9 -166.0 -293.8 -167.5 -292.0 -170.1 -280.0 -170.6 -266.0 -173.7 -247.0 -174.1 -233.0 -177.0 -210.0 -178.6 -202.0 -180.4 -176.0 -184.4 -136.0 -184.7 -119.0 -184.4 -116.0 -183.5 -114.0 -184.9 -105.0 -188.0 -105.8 -191.0 -105.6 -191.8 -105.0 -192.0 -102.4 -200.0 -97.7 -206.0 -92.9 -218.0 -78.8 -221.7 -73.0 -228.0 -60.1 -236.4 -40.0 -239.6 -36.0 -257.0 -17.9 -277.0 6.7 -294.0 31.8 -302.0 47.7 -305.0 55.0 -307.0 64.6 -309.0 79.3 -309.6 94.0 -309.0 113.4 -304.0 139.0 -297.9 165.0 -295.0 170.3 -285.5 181.0 -282.9 185.0 -269.5 216.0 -268.3 220.0 -268.4 223.0 -270.0 225.4 -278.5 233.0 -283.0 240.0 -311.9 269.0 -322.0 278.1 -357.0 313.0 -368.0 323.0 -370.0 324.1 -370.0 -300.0 -369.0 -300.0ZM-201.3 -105.0L-201.0 -104.0 -200.0 -104.0 -195.9 -105.0 -201.3 -105.0Z"/>
<path fill="#ff2a00" d="M-356.0 -286.1 -185.0 -286.1 -185.0 -102.6 -186.3 -106.6 -194.0 -130.6 -201.0 -155.6 -216.0 -175.0 -235.5 -194.6 -253.0 -211.6 -272.4 -219.6 -297.0 -214.6 -321.5 -199.6 -349.0 -183.6 -356.0 -179.6Z"/>
<path d="M91.0 -1.6 95.6 -1.5 100.2 -1.1 104.8 -0.2 109.5 1.2 114.0 3.2 118.6 5.8 123.0 9.2 127.2 13.4 131.2 18.6 134.9 24.6 138.2 31.7 140.8 39.9 142.8 49.2M84.7 33.4 88.9 35.2 93.0 37.4 96.9 39.9 100.7 43.0 104.1 46.6 107.3 50.7 110.1 55.6 112.4 61.1 114.1 67.4 115.2 74.4 115.5 82.2 114.8 90.8 113.1 100.1M65.5 63.2 68.7 66.5 71.6 70.1 74.3 74.0 76.6 78.2 78.4 82.9 79.7 87.9 80.4 93.5 80.5 99.5 79.7 105.9 78.0 112.8 75.3 120.1 71.4 127.8 66.2 135.7M36.3 83.5 38.0 87.8 39.3 92.2 40.3 96.8 40.8 101.6 40.7 106.6 40.0 111.7 38.5 117.1 36.3 122.7 33.1 128.3 28.9 134.1 23.5 139.8 17.0 145.4 9.2 150.7M1.6 91.0 1.5 95.6 1.1 100.2 0.2 104.8 -1.2 109.5 -3.2 114.0 -5.8 118.6 -9.2 123.0 -13.4 127.2 -18.6 131.2 -24.6 134.9 -31.7 138.2 -39.9 140.8 -49.2 142.8M-33.4 84.7 -35.2 88.9 -37.4 93.0 -39.9 96.9 -43.0 100.7 -46.6 104.1 -50.7 107.3 -55.6 110.1 -61.1 112.4 -67.4 114.1 -74.4 115.2 -82.2 115.5 -90.8 114.8 -100.1 113.1M-63.2 65.5 -66.5 68.7 -70.1 71.6 -74.0 74.3 -78.2 76.6 -82.9 78.4 -87.9 79.7 -93.5 80.4 -99.5 80.5 -105.9 79.7 -112.8 78.0 -120.1 75.3 -127.8 71.4 -135.7 66.2M-83.5 36.3 -87.8 38.0 -92.2 39.3 -96.8 40.3 -101.6 40.8 -106.6 40.7 -111.7 40.0 -117.1 38.5 -122.7 36.3 -128.3 33.1 -134.1 28.9 -139.8 23.5 -145.4 17.0 -150.7 9.2M-91.0 1.6 -95.6 1.5 -100.2 1.1 -104.8 0.2 -109.5 -1.2 -114.0 -3.2 -118.6 -5.8 -123.0 -9.2 -127.2 -13.4 -131.2 -18.6 -134.9 -24.6 -138.2 -31.7 -140.8 -39.9 -142.8 -49.2M-84.7 -33.4 -88.9 -35.2 -93.0 -37.4 -96.9 -39.9 -100.7 -43.0 -104.1 -46.6 -107.3 -50.7 -110.1 -55.6 -112.4 -61.1 -114.1 -67.4 -115.2 -74.4 -115.5 -82.2 -114.8 -90.8 -113.1 -100.1M-65.5 -63.2 -68.7 -66.5 -71.6 -70.1 -74.3 -74.0 -76.6 -78.2 -78.4 -82.9 -79.7 -87.9 -80.4 -93.5 -80.5 -99.5 -79.7 -105.9 -78.0 -112.8 -75.3 -120.1 -71.4 -127.8 -66.2 -135.7M-36.3 -83.5 -38.0 -87.8 -39.3 -92.2 -40.3 -96.8 -40.8 -101.6 -40.7 -106.6 -40.0 -111.7 -38.5 -117.1 -36.3 -122.7 -33.1 -128.3 -28.9 -134.1 -23.5 -139.8 -17.0 -145.4 -9.2 -150.7M-1.6 -91.0 -1.5 -95.6 -1.1 -100.2 -0.2 -104.8 1.2 -109.5 3.2 -114.0 5.8 -118.6 9.2 -123.0 13.4 -127.2 18.6 -131.2 24.6 -134.9 31.7 -138.2 39.9 -140.8 49.2 -142.8M33.4 -84.7 35.2 -88.9 37.4 -93.0 39.9 -96.9 43.0 -100.7 46.6 -104.1 50.7 -107.3 55.6 -110.1 61.1 -112.4 67.4 -114.1 74.4 -115.2 82.2 -115.5 90.8 -114.8 100.1 -113.1M63.2 -65.5 66.5 -68.7 70.1 -71.6 74.0 -74.3 78.2 -76.6 82.9 -78.4 87.9 -79.7 93.5 -80.4 99.5 -80.5 105.9 -79.7 112.8 -78.0 120.1 -75.3 127.8 -71.4 135.7 -66.2M83.5 -36.3 87.8 -38.0 92.2 -39.3 96.8 -40.3 101.6 -40.8 106.6 -40.7 111.7 -40.0 117.1 -38.5 122.7 -36.3 128.3 -33.1 134.1 -28.9 139.8 -23.5 145.4 -17.0 150.7 -9.2" fill="none" stroke="#fff" stroke-opacity="0.75" stroke-width="1.3"/>
</g>
<circle cx="0" cy="0" r="90.3" fill="#fff"/>
</g>
<rect x="8" y="574.5" width="32" height="19.6" fill="#0000ff"/>
<rect x="8" y="555.3" width="32" height="19.6" fill="#002aff"/>
<rect x="8" y="536.1" width="32" height="19.6" fill="#0055ff"/>
<rect x="8" y="517" width="32" height="19.6" fill="#0080ff"/>
<rect x="8" y="497.9" width="32" height="19.6" fill="#00aaff"/>
<rect x="8" y="478.7" width="32" height="19.6" fill="#00d4ff"/>
<rect x="8" y="459.6" width="32" height="19.6" fill="#00ffff"/>
<rect x="8" y="440.4" width="32" height="19.6" fill="#00ffd4"/>
<rect x="8" y="421.2" width="32" height="19.6" fill="#00ffaa"/>
<rect x="8" y="402.1" width="32" height="19.6" fill="#00ff80"/>
<rect x="8" y="382.9" width="32" height="19.6" fill="#00ff55"/>
<rect x="8" y="363.8" width="32" height="19.6" fill="#00ff2b"/>
<rect x="8" y="344.6" width="32" height="19.6" fill="#00ff00"/>
<rect x="8" y="325.5" width="32" height="19.6" fill="#2aff00"/>
<rect x="8" y="306.3" width="32" height="19.6" fill="#55ff00"/>
<rect x="8" y="287.2" width="32" height="19.6" fill="#80ff00"/>
<rect x="8" y="268.1" width="32" height="19.6" fill="#aaff00"/>
<rect x="8" y="248.9" width="32" height="19.6" fill="#d5ff00"/>
<rect x="8" y="229.8" width="32" height="19.6" fill="#ffff00"/>
<rect x="8" y="210.6" width="32" height="19.6" fill="#ffd500"/>
<rect x="8" y="191.4" width="32" height="19.6" fill="#ffaa00"/>
<rect x="8" y="172.3" width="32" height="19.6" fill="#ff8000"/>
<rect x="8" y="153.1" width="32" height="19.6" fill="#ff5500"/>
<rect x="8" y="134" width="32" height="19.6" fill="#ff2a00"/>
<path d="M40 593.6h6.5M40 574.5h4M40 555.3h6.5M40 536.1h4M40 517h6.5M40 497.9h4M40 478.7h6.5M40 459.6h4M40 440.4h6.5M40 421.2h4M40 402.1h6.5M40 382.9h4M40 363.8h6.5M40 344.6h4M40 325.5h6.5M40 306.3h4M40 287.2h6.5M40 268.1h4M40 248.9h6.5M40 229.8h4M40 210.6h6.5M40 191.4h4M40 172.3h6.5M40 153.1h4M40 134h6.5" stroke="#666" stroke-width="1" fill="none"/>
<rect x="8" y="134" width="32" height="459.6" fill="none" stroke="#666" stroke-width="0.6"/>
<text transform="translate(56.4 145.8) scale(0.980 1)" class="lv" style="font-size:26.8px">104470.60</text>
<text transform="translate(56.4 184.1) scale(0.980 1)" class="lv" style="font-size:26.8px">104068.06</text>
<text transform="translate(56.4 222.4) scale(0.980 1)" class="lv" style="font-size:26.8px">103665.52</text>
<text transform="translate(56.4 260.7) scale(0.980 1)" class="lv" style="font-size:26.8px">103262.97</text>
<text transform="translate(56.4 299) scale(0.980 1)" class="lv" style="font-size:26.8px">102860.43</text>
<text transform="translate(56.4 337.3) scale(0.980 1)" class="lv" style="font-size:26.8px">102457.89</text>
<text transform="translate(56.4 375.6) scale(0.980 1)" class="lv" style="font-size:26.8px">102055.34</text>
<text transform="translate(56.4 413.9) scale(0.980 1)" class="lv" style="font-size:26.8px">101652.80</text>
<text transform="translate(56.4 452.2) scale(0.980 1)" class="lv" style="font-size:26.8px">101250.26</text>
<text transform="translate(56.4 490.5) scale(0.980 1)" class="lv" style="font-size:26.8px">100847.72</text>
<text transform="translate(56.4 528.8) scale(0.980 1)" class="lv" style="font-size:26.8px">100445.17</text>
<text transform="translate(56.4 567.1) scale(0.980 1)" class="lv" style="font-size:26.8px">100042.63</text>
<text transform="translate(56.4 605.4) scale(0.980 1)" class="lv" style="font-size:26.8px">99640.09</text>
<text transform="translate(7.8 90.8) scale(0.992 1)" class="lv" style="font-size:26.6px">Pressure</text>
<text transform="translate(8 114.5) scale(0.985 1)" class="lv" style="font-size:23.7px">Contour 1</text>
<text transform="translate(7.8 637.1) scale(1.026 1)" class="lv" style="font-size:25.5px">[Pa]</text>
<text transform="translate(24.8 51) scale(0.945 1)" class="pl" style="font-size:66.1px">(a)</text>
<text x="451.8" y="99.2" class="tt" style="font-size:46.6px">m=0.210</text>
<text transform="translate(647.4 99.4) scale(1.184 1)" class="ti" style="font-size:50.4px">m</text>
<text transform="translate(692.2 79.3) scale(1.114 1)" class="ts" style="font-size:32.4px">3</text>
<text transform="translate(716.7 108.6) scale(1.082 1)" class="ts" style="font-size:69.9px">/</text>
<text transform="translate(740.5 98.9) scale(1.162 1)" class="ti" style="font-size:49.4px">s</text>
<g transform="translate(1449.2 354.2) scale(0.978 0.982)">
<clipPath id="clb"><path d="M-183.4 -102.8 -182.8 -102.1 -182.1 -101.4 -181.5 -100.6 -180.9 -99.9 -180.2 -99.3 -179.5 -98.8 -178.7 -98.4 -177.9 -98.0 -177.1 -97.7 -176.2 -97.5 -175.3 -97.5 -174.5 -97.6 -173.7 -97.9 -172.8 -98.4 -172.0 -99.1 -171.2 -99.9 -170.4 -100.7 -169.5 -101.6 -168.7 -102.5 -167.9 -103.4 -167.1 -104.4 -166.3 -105.5 -165.3 -106.9 -164.2 -108.6 -163.0 -110.5 -161.8 -112.7 -160.5 -115.1 -159.0 -117.7 -157.2 -120.7 -155.0 -124.0 -152.3 -127.9 -149.2 -132.5 -145.7 -137.4 -142.2 -142.3 -138.7 -146.9 -135.4 -150.9 -132.5 -154.2 -129.8 -157.0 -127.2 -159.5 -124.5 -162.0 -121.5 -164.6 -118.0 -167.6 -114.0 -171.1 -109.7 -175.0 -105.1 -179.1 -100.3 -183.1 -95.4 -186.9 -90.4 -190.3 -85.3 -193.2 -79.9 -195.9 -74.5 -198.4 -68.9 -200.6 -63.4 -202.8 -57.9 -204.9 -52.5 -207.0 -47.0 -209.0 -41.6 -210.8 -36.2 -212.6 -30.7 -214.1 -25.3 -215.5 -19.9 -216.7 -14.5 -217.6 -9.0 -218.4 -3.6 -219.1 1.8 -219.6 7.2 -219.9 12.6 -220.1 18.1 -220.1 23.5 -220.0 28.9 -219.7 34.4 -219.3 39.8 -218.8 45.2 -218.2 50.6 -217.4 56.0 -216.5 61.5 -215.5 66.9 -214.3 72.3 -213.1 77.7 -211.7 83.2 -210.3 88.6 -208.7 94.0 -207.0 99.5 -205.2 104.9 -203.3 110.4 -201.3 115.9 -199.2 121.4 -197.0 126.8 -194.8 132.2 -192.5 137.5 -190.3 142.6 -188.3 147.7 -186.5 152.6 -184.6 157.5 -182.6 162.4 -180.2 167.4 -177.2 172.5 -173.5 177.7 -169.2 183.0 -164.4 188.1 -159.5 193.1 -154.6 197.7 -149.9 202.0 -145.4 206.1 -140.9 210.0 -136.4 213.7 -131.8 217.2 -127.2 220.5 -122.6 223.5 -118.0 226.1 -113.4 228.6 -108.8 230.9 -104.1 233.3 -99.1 235.7 -93.7 238.3 -87.8 241.0 -81.5 243.7 -74.8 246.3 -68.2 248.7 -61.8 250.9 -55.8 252.8 -50.3 254.6 -45.0 256.1 -40.0 257.5 -35.1 258.8 -30.2 260.0 -25.4 261.1 -20.8 262.0 -16.4 262.8 -12.1 263.5 -7.7 264.0 -2.9 264.5 2.4 264.9 8.4 265.1 14.8 265.3 21.6 265.3 28.6 265.3 35.6 265.2 42.4 265.1 49.1 265.0 55.8 264.8 62.5 264.5 69.2 264.0 75.8 263.2 82.4 262.1 89.0 260.7 95.7 259.2 102.4 257.5 108.8 255.7 114.9 254.0 120.4 252.3 125.2 250.5 129.4 248.7 133.2 246.8 136.8 244.9 140.5 243.1 144.4 241.3 148.5 239.6 152.7 238.0 156.9 236.2 161.2 234.3 165.5 232.1 169.9 229.7 174.4 227.2 178.9 224.4 183.5 221.6 188.2 218.7 192.8 215.6 197.4 212.5 202.0 209.3 206.6 206.0 211.1 202.5 215.7 198.9 220.3 195.0 224.9 190.9 229.5 186.6 234.3 182.1 239.0 177.4 243.6 172.6 248.1 167.5 252.4 162.2 256.5 156.6 260.4 150.8 264.1 144.9 267.7 139.0 271.1 133.2 274.3 127.5 277.3 121.7 280.0 116.0 282.5 110.3 284.9 104.5 287.2 98.8 289.4 93.0 291.5 87.0 293.6 81.0 295.5 75.2 297.3 69.6 299.0 64.5 300.4 59.9 301.5 55.8 302.4 52.0 303.1 48.2 303.8 44.3 304.4 40.2 305.2 35.8 306.1 31.2 307.1 26.5 308.1 21.7 309.1 17.0 310.0 12.3 310.8 7.6 311.5 3.0 312.2 -1.7 312.8 -6.3 313.4 -11.0 313.9 -15.6 314.3 -20.2 314.7 -24.9 315.0 -29.5 315.3 -34.2 315.5 -38.9 315.7 -43.5 315.7 -48.1 315.7 -52.8 315.6 -57.4 315.4 -62.1 315.1 -66.8 314.8 -71.4 314.3 -76.0 313.7 -80.7 313.0 -85.3 312.2 -90.0 311.3 -94.6 310.4 -99.3 309.4 -103.9 308.4 -108.6 307.3 -113.2 306.2 -117.9 305.0 -122.6 303.8 -127.2 302.4 -131.9 301.0 -136.6 299.6 -141.4 298.1 -146.1 296.4 -150.7 294.6 -155.1 292.6 -159.3 290.3 -163.4 287.6 -167.4 284.8 -171.3 281.9 -175.2 279.1 -179.0 276.4 -182.7 274.0 -186.1 271.8 -189.5 269.7 -193.0 267.4 -196.9 264.8 -201.3 261.8 -206.4 258.3 -212.0 254.4 -218.0 250.2 -224.1 245.8 -230.2 241.2 -236.0 236.4 -241.6 231.4 -247.3 226.2 -252.8 220.7 -258.3 215.2 -263.5 209.5 -268.5 203.9 -273.2 198.2 -277.7 192.5 -281.9 186.7 -286.0 180.9 -290.0 175.0 -293.9 169.2 -297.7 163.4 -301.4 157.6 -304.9 151.8 -308.3 146.0 -311.6 140.2 -314.8 134.4 -317.8 128.6 -320.7 122.8 -323.5 117.0 -326.1 111.3 -328.6 105.5 -331.0 99.7 -333.2 93.9 -335.3 88.1 -337.2 82.3 -339.0 76.6 -340.8 70.8 -342.5 65.0 -344.2 59.2 -346.0 53.5 -347.6 47.7 -349.2 42.0 -350.6 36.2 -351.8 30.4 -352.7 24.6 -353.4 18.8 -353.9 12.9 -354.3 7.1 -354.8 1.2 -355.3 -4.6 -356.0 -4.6 -356.0 -286.1 -185.0 -286.1 -185.0 -102.8Z"/></clipPath>
<g clip-path="url(#clb)">
<path d="M-183.4 -102.8 -182.8 -102.1 -182.1 -101.4 -181.5 -100.6 -180.9 -99.9 -180.2 -99.3 -179.5 -98.8 -178.7 -98.4 -177.9 -98.0 -177.1 -97.7 -176.2 -97.5 -175.3 -97.5 -174.5 -97.6 -173.7 -97.9 -172.8 -98.4 -172.0 -99.1 -171.2 -99.9 -170.4 -100.7 -169.5 -101.6 -168.7 -102.5 -167.9 -103.4 -167.1 -104.4 -166.3 -105.5 -165.3 -106.9 -164.2 -108.6 -163.0 -110.5 -161.8 -112.7 -160.5 -115.1 -159.0 -117.7 -157.2 -120.7 -155.0 -124.0 -152.3 -127.9 -149.2 -132.5 -145.7 -137.4 -142.2 -142.3 -138.7 -146.9 -135.4 -150.9 -132.5 -154.2 -129.8 -157.0 -127.2 -159.5 -124.5 -162.0 -121.5 -164.6 -118.0 -167.6 -114.0 -171.1 -109.7 -175.0 -105.1 -179.1 -100.3 -183.1 -95.4 -186.9 -90.4 -190.3 -85.3 -193.2 -79.9 -195.9 -74.5 -198.4 -68.9 -200.6 -63.4 -202.8 -57.9 -204.9 -52.5 -207.0 -47.0 -209.0 -41.6 -210.8 -36.2 -212.6 -30.7 -214.1 -25.3 -215.5 -19.9 -216.7 -14.5 -217.6 -9.0 -218.4 -3.6 -219.1 1.8 -219.6 7.2 -219.9 12.6 -220.1 18.1 -220.1 23.5 -220.0 28.9 -219.7 34.4 -219.3 39.8 -218.8 45.2 -218.2 50.6 -217.4 56.0 -216.5 61.5 -215.5 66.9 -214.3 72.3 -213.1 77.7 -211.7 83.2 -210.3 88.6 -208.7 94.0 -207.0 99.5 -205.2 104.9 -203.3 110.4 -201.3 115.9 -199.2 121.4 -197.0 126.8 -194.8 132.2 -192.5 137.5 -190.3 142.6 -188.3 147.7 -186.5 152.6 -184.6 157.5 -182.6 162.4 -180.2 167.4 -177.2 172.5 -173.5 177.7 -169.2 183.0 -164.4 188.1 -159.5 193.1 -154.6 197.7 -149.9 202.0 -145.4 206.1 -140.9 210.0 -136.4 213.7 -131.8 217.2 -127.2 220.5 -122.6 223.5 -118.0 226.1 -113.4 228.6 -108.8 230.9 -104.1 233.3 -99.1 235.7 -93.7 238.3 -87.8 241.0 -81.5 243.7 -74.8 246.3 -68.2 248.7 -61.8 250.9 -55.8 252.8 -50.3 254.6 -45.0 256.1 -40.0 257.5 -35.1 258.8 -30.2 260.0 -25.4 261.1 -20.8 262.0 -16.4 262.8 -12.1 263.5 -7.7 264.0 -2.9 264.5 2.4 264.9 8.4 265.1 14.8 265.3 21.6 265.3 28.6 265.3 35.6 265.2 42.4 265.1 49.1 265.0 55.8 264.8 62.5 264.5 69.2 264.0 75.8 263.2 82.4 262.1 89.0 260.7 95.7 259.2 102.4 257.5 108.8 255.7 114.9 254.0 120.4 252.3 125.2 250.5 129.4 248.7 133.2 246.8 136.8 244.9 140.5 243.1 144.4 241.3 148.5 239.6 152.7 238.0 156.9 236.2 161.2 234.3 165.5 232.1 169.9 229.7 174.4 227.2 178.9 224.4 183.5 221.6 188.2 218.7 192.8 215.6 197.4 212.5 202.0 209.3 206.6 206.0 211.1 202.5 215.7 198.9 220.3 195.0 224.9 190.9 229.5 186.6 234.3 182.1 239.0 177.4 243.6 172.6 248.1 167.5 252.4 162.2 256.5 156.6 260.4 150.8 264.1 144.9 267.7 139.0 271.1 133.2 274.3 127.5 277.3 121.7 280.0 116.0 282.5 110.3 284.9 104.5 287.2 98.8 289.4 93.0 291.5 87.0 293.6 81.0 295.5 75.2 297.3 69.6 299.0 64.5 300.4 59.9 301.5 55.8 302.4 52.0 303.1 48.2 303.8 44.3 304.4 40.2 305.2 35.8 306.1 31.2 307.1 26.5 308.1 21.7 309.1 17.0 310.0 12.3 310.8 7.6 311.5 3.0 312.2 -1.7 312.8 -6.3 313.4 -11.0 313.9 -15.6 314.3 -20.2 314.7 -24.9 315.0 -29.5 315.3 -34.2 315.5 -38.9 315.7 -43.5 315.7 -48.1 315.7 -52.8 315.6 -57.4 315.4 -62.1 315.1 -66.8 314.8 -71.4 314.3 -76.0 313.7 -80.7 313.0 -85.3 312.2 -90.0 311.3 -94.6 310.4 -99.3 309.4 -103.9 308.4 -108.6 307.3 -113.2 306.2 -117.9 305.0 -122.6 303.8 -127.2 302.4 -131.9 301.0 -136.6 299.6 -141.4 298.1 -146.1 296.4 -150.7 294.6 -155.1 292.6 -159.3 290.3 -163.4 287.6 -167.4 284.8 -171.3 281.9 -175.2 279.1 -179.0 276.4 -182.7 274.0 -186.1 271.8 -189.5 269.7 -193.0 267.4 -196.9 264.8 -201.3 261.8 -206.4 258.3 -212.0 254.4 -218.0 250.2 -224.1 245.8 -230.2 241.2 -236.0 236.4 -241.6 231.4 -247.3 226.2 -252.8 220.7 -258.3 215.2 -263.5 209.5 -268.5 203.9 -273.2 198.2 -277.7 192.5 -281.9 186.7 -286.0 180.9 -290.0 175.0 -293.9 169.2 -297.7 163.4 -301.4 157.6 -304.9 151.8 -308.3 146.0 -311.6 140.2 -314.8 134.4 -317.8 128.6 -320.7 122.8 -323.5 117.0 -326.1 111.3 -328.6 105.5 -331.0 99.7 -333.2 93.9 -335.3 88.1 -337.2 82.3 -339.0 76.6 -340.8 70.8 -342.5 65.0 -344.2 59.2 -346.0 53.5 -347.6 47.7 -349.2 42.0 -350.6 36.2 -351.8 30.4 -352.7 24.6 -353.4 18.8 -353.9 12.9 -354.3 7.1 -354.8 1.2 -355.3 -4.6 -356.0 -4.6 -356.0 -286.1 -185.0 -286.1 -185.0 -102.8Z" fill="#0000ff"/>
<path fill-rule="evenodd" fill="#002aff" d="M-369.0 -300.0L279.0 -300.0 279.0 329.0 -370.0 329.0 -370.0 -300.0 -369.0 -300.0Z"/>
<path fill-rule="evenodd" fill="#0055ff" d="M-369.0 -300.0L279.0 -300.0 279.0 329.0 -370.0 329.0 -370.0 -300.0 -369.0 -300.0Z"/>
<path fill-rule="evenodd" fill="#0080ff" d="M-369.0 -300.0L279.0 -300.0 279.0 329.0 -370.0 329.0 -370.0 -300.0 -369.0 -300.0Z"/>
<path fill-rule="evenodd" fill="#00aaff" d="M-369.0 -300.0L279.0 -300.0 279.0 329.0 -370.0 329.0 -370.0 -300.0 -369.0 -300.0Z"/>
<path fill-rule="evenodd" fill="#00d4ff" d="M-369.0 -300.0L279.0 -300.0 279.0 329.0 -370.0 329.0 -370.0 -300.0 -369.0 -300.0Z"/>
<path fill-rule="evenodd" fill="#00ffff" d="M-369.0 -300.0L279.0 -300.0 279.0 329.0 -370.0 329.0 -370.0 -300.0 -369.0 -300.0Z"/>
<path fill-rule="evenodd" fill="#00ffd4" d="M-369.0 -300.0L279.0 -300.0 279.0 329.0 -370.0 329.0 -370.0 -300.0 -369.0 -300.0ZM85.6 -84.0L79.0 -81.9 70.9 -78.0 63.0 -72.9 57.5 -68.0 56.0 -67.5 53.5 -69.0 52.0 -66.0 51.4 -63.0 49.9 8.0 50.5 31.0 51.8 47.0 53.1 54.0 55.0 58.0 61.2 62.0 64.0 61.0 68.0 64.6 69.4 64.0 70.0 62.0 68.0 58.0 67.8 56.0 70.4 53.0 70.4 52.0 73.3 49.0 73.3 48.0 75.2 46.0 75.2 45.0 76.2 44.0 76.2 43.0 77.2 42.0 77.2 41.0 78.2 40.0 78.2 39.0 79.2 38.0 79.1 37.0 80.1 36.0 80.1 35.0 82.0 32.1 83.0 32.1 84.0 33.1 86.0 33.1 89.0 35.1 90.0 35.1 93.0 37.1 94.0 37.1 96.0 39.1 97.0 39.1 107.0 49.0 107.0 50.0 109.0 52.0 109.0 53.0 110.0 54.0 111.0 57.0 112.0 56.1 113.3 53.0 114.1 49.0 113.4 44.0 111.0 38.6 107.1 33.0 103.0 28.8 98.0 25.0 92.3 22.0 86.0 19.9 85.9 19.0 86.8 18.0 86.5 14.0 87.4 13.0 87.2 1.0 88.2 0.0 87.2 -1.0 88.0 -1.8 100.0 -1.9 101.0 -0.8 105.0 -0.9 106.0 0.1 108.0 0.1 109.0 1.1 111.0 1.1 114.0 3.1 117.0 4.1 119.0 6.1 120.0 6.1 127.0 13.0 127.6 13.0 127.8 8.0 127.0 2.2 125.0 -2.9 123.0 -5.5 115.3 -11.0 106.0 -14.7 96.0 -16.2 87.0 -15.6 86.7 -18.0 85.6 -19.0 85.5 -22.0 84.4 -23.0 84.3 -26.0 83.3 -27.0 83.3 -29.0 81.2 -32.0 81.2 -34.0 80.2 -35.0 83.0 -36.8 85.0 -36.8 88.0 -38.9 90.0 -38.9 91.0 -39.9 95.0 -39.9 96.0 -40.9 111.0 -40.9 112.0 -39.9 115.0 -39.9 116.0 -38.9 118.0 -38.9 119.0 -37.9 121.0 -38.0 122.0 -37.0 123.3 -37.0 121.0 -42.3 118.0 -46.8 115.0 -49.7 111.0 -51.7 106.0 -52.8 100.0 -53.2 94.0 -52.8 88.0 -51.7 82.0 -49.7 76.0 -46.8 75.0 -46.9 73.7 -48.0 73.6 -49.0 70.4 -52.0 70.3 -53.0 67.2 -56.0 67.2 -57.0 61.1 -63.0 61.1 -64.0 67.0 -69.9 68.0 -69.9 71.0 -73.0 72.0 -73.0 74.0 -75.0 77.0 -76.0 82.0 -79.0 84.0 -79.0 85.0 -80.0 89.0 -80.0 90.0 -81.0 96.5 -81.0 93.7 -83.0 91.0 -84.1 85.6 -84.0Z"/>
<path fill-rule="evenodd" fill="#00ffaa" d="M-369.0 -300.0L279.0 -300.0 279.0 329.0 -370.0 329.0 -370.0 -300.0 -369.0 -300.0ZM79.0 -92.0L71.0 -88.6 63.4 -84.0 56.0 -77.8 51.0 -72.0 49.0 -73.6 48.0 -73.5 46.0 -75.3 45.0 -75.3 42.0 -77.1 41.0 -77.1 36.0 -80.0 35.0 -80.0 33.8 -76.0 33.4 -58.0 33.1 26.0 32.3 39.0 29.5 54.0 30.6 67.0 29.7 69.0 28.0 70.7 13.5 81.0 11.1 84.0 10.4 87.0 13.0 87.1 14.0 86.1 18.0 86.1 19.0 85.1 22.0 85.1 23.0 84.1 26.0 84.1 27.0 83.1 29.0 83.1 30.0 82.1 31.0 82.1 32.0 81.1 34.0 81.1 35.0 80.1 36.9 83.0 36.9 85.0 38.9 88.0 38.9 90.0 39.9 91.0 39.9 95.0 40.9 96.0 41.0 111.0 40.0 112.0 40.0 112.5 41.0 112.8 44.0 111.9 47.0 108.7 49.9 103.0 51.2 98.0 51.6 93.0 51.0 87.0 49.5 81.0 47.0 75.0 48.0 73.8 49.0 73.7 52.0 70.5 53.0 70.5 56.0 67.3 57.0 67.3 63.0 61.2 64.0 61.2 69.8 67.0 69.8 68.0 72.8 71.0 72.8 72.0 74.8 74.0 75.8 77.0 78.9 82.0 78.9 84.0 79.9 85.0 79.9 89.0 80.9 90.0 81.0 99.5 86.0 94.9 90.1 89.0 92.0 84.2 92.5 80.0 92.0 73.9 90.1 67.0 87.7 62.0 84.0 56.5 79.8 52.0 74.7 48.0 75.8 46.0 75.7 45.0 76.7 44.0 76.6 43.0 77.6 42.0 77.5 41.0 78.5 40.0 78.5 39.0 79.4 38.0 79.4 37.0 80.4 36.0 80.3 35.0 82.0 32.3 83.0 32.3 84.0 33.3 86.0 33.3 89.0 35.3 90.0 35.3 93.0 37.3 94.0 37.3 96.0 39.3 97.0 39.3 106.8 49.0 106.8 50.0 108.8 52.0 109.8 55.0 111.8 58.0 111.8 60.0 114.0 63.0 114.0 64.5 117.0 58.7 119.2 52.0 120.4 45.0 120.2 39.0 118.5 34.0 113.5 27.0 106.0 20.6 97.0 16.0 88.0 13.6 87.4 1.0 88.4 0.0 87.3 -1.0 88.0 -1.7 100.0 -1.7 101.0 -0.7 105.0 -0.7 106.0 0.3 108.0 0.3 109.0 1.3 111.0 1.3 114.0 3.3 117.0 4.3 119.0 6.3 120.0 6.3 131.0 17.0 131.1 18.0 131.6 9.0 130.5 0.0 128.0 -7.7 124.0 -13.8 121.0 -16.2 116.0 -19.0 106.7 -22.0 96.0 -22.8 86.0 -21.4 84.8 -23.0 84.7 -26.0 83.6 -27.0 83.5 -29.0 81.4 -32.0 81.4 -34.0 80.3 -35.0 83.0 -36.7 85.0 -36.7 88.0 -38.7 90.0 -38.7 91.0 -39.7 95.0 -39.7 96.0 -40.7 111.0 -40.7 112.0 -39.7 115.0 -39.7 116.0 -38.7 118.0 -38.7 119.0 -37.7 121.0 -37.8 122.0 -36.8 125.0 -35.9 127.0 -33.9 128.3 -34.0 124.0 -44.5 118.1 -53.0 114.0 -56.8 110.0 -59.1 105.0 -60.3 98.0 -60.6 91.8 -60.0 85.0 -58.2 78.0 -55.2 72.0 -51.5 70.9 -52.0 70.8 -53.0 67.5 -56.0 67.5 -57.0 61.3 -63.0 61.2 -64.0 67.0 -69.8 68.0 -69.8 71.0 -72.8 72.0 -72.8 74.0 -74.8 77.0 -75.8 82.0 -78.8 84.0 -78.8 85.0 -79.8 89.0 -79.8 90.0 -80.8 103.8 -81.0 97.5 -87.0 91.0 -91.1 85.0 -92.8 79.0 -92.0ZM104.0 -80.0L104.6 -80.0 104.0 -80.7 104.0 -80.0Z"/>
<path fill-rule="evenodd" fill="#00ff80" d="M-369.0 -300.0L279.0 -300.0 279.0 329.0 -370.0 329.0 -370.0 -300.0 -369.0 -300.0ZM50.9 -114.0L48.0 -112.6 44.4 -110.0 35.1 -101.0 28.2 -92.0 24.8 -85.0 23.0 -84.4 22.0 -85.1 21.0 -85.0 20.8 -84.0 20.0 -77.0 19.9 -30.0 19.2 -13.0 17.6 -4.0 10.2 20.0 8.9 27.0 10.0 37.2 15.1 56.0 15.1 61.0 14.2 63.0 12.0 65.0 -1.8 73.0 -12.3 80.0 -15.1 83.0 -16.5 86.0 -14.0 86.1 -13.0 87.1 -1.0 87.2 0.0 88.2 1.0 87.2 1.8 88.0 1.9 100.0 0.9 101.0 0.9 105.0 -0.1 106.0 -0.1 108.0 -1.1 109.0 -1.1 111.0 -2.1 112.0 -2.1 113.0 -3.1 114.0 -4.0 117.0 -6.0 119.0 -6.7 121.0 -5.0 122.9 -3.0 123.7 2.0 123.4 6.0 121.5 11.0 116.8 15.0 111.1 17.6 105.0 19.0 99.2 19.4 93.0 19.0 86.0 22.0 85.7 23.0 84.7 26.0 84.5 27.0 83.5 29.0 83.4 32.0 81.4 34.0 81.3 35.0 80.3 36.7 83.0 36.7 85.0 38.7 88.0 38.7 90.0 39.7 91.0 39.7 95.0 40.7 96.0 40.8 111.0 39.8 112.0 39.8 115.0 38.8 116.0 38.8 118.0 37.8 119.0 37.9 121.0 35.9 124.0 36.0 125.7 46.0 121.8 54.3 116.0 57.9 112.0 60.0 108.0 61.4 102.0 61.8 95.0 61.1 89.0 59.6 83.0 57.0 77.0 53.3 71.0 56.0 67.7 57.0 67.7 63.0 61.4 64.0 61.4 69.6 67.0 69.6 68.0 72.6 71.0 72.6 72.0 74.6 74.0 75.6 77.0 78.7 82.0 78.7 84.0 79.7 85.0 79.7 89.0 80.7 90.0 80.9 103.0 79.9 104.0 80.0 106.0 87.8 99.0 93.0 92.3 97.1 85.0 99.1 79.0 99.4 73.0 97.0 64.2 92.5 56.0 86.2 49.0 77.9 43.0 77.9 41.0 78.8 40.0 78.7 39.0 79.7 38.0 79.6 37.0 80.6 36.0 80.6 35.0 82.0 32.5 83.0 32.5 84.0 33.5 86.0 33.5 89.0 35.5 90.0 35.5 93.0 37.5 94.0 37.5 96.0 39.5 97.0 39.4 106.6 49.0 106.6 50.0 108.6 52.0 109.6 55.0 111.6 58.0 111.7 60.0 113.8 63.0 113.8 66.0 114.9 67.0 115.0 69.8 120.0 59.8 123.0 48.3 123.7 38.0 123.1 33.0 122.0 29.4 120.0 25.8 116.8 22.0 112.3 18.0 108.0 15.0 99.0 11.0 88.0 8.8 87.6 1.0 88.5 0.0 87.5 -1.0 88.0 -1.5 100.0 -1.5 101.0 -0.5 105.0 -0.5 106.0 0.5 108.0 0.5 109.0 1.5 111.0 1.5 114.0 3.5 117.0 4.4 119.0 6.4 120.0 6.4 130.8 17.0 130.8 18.0 132.9 20.0 132.9 21.0 134.0 21.2 134.6 10.0 133.2 0.0 130.0 -10.5 128.0 -14.6 125.0 -19.0 122.0 -21.7 118.0 -24.0 112.9 -26.0 107.0 -27.4 96.0 -27.9 85.0 -25.8 83.9 -27.0 83.8 -29.0 81.6 -32.0 81.5 -34.0 80.5 -35.0 82.0 -35.5 83.0 -36.5 85.0 -36.5 88.0 -38.5 90.0 -38.5 91.0 -39.5 95.0 -39.5 96.0 -40.5 111.0 -40.6 112.0 -39.5 115.0 -39.6 116.0 -38.6 118.0 -38.6 119.0 -37.6 121.0 -37.6 124.0 -35.7 125.0 -35.7 127.0 -33.8 128.0 -33.8 130.0 -31.9 131.0 -31.9 132.5 -31.0 130.2 -38.0 127.5 -44.0 124.5 -49.0 120.0 -55.0 115.0 -60.1 111.0 -63.1 107.0 -65.1 103.0 -66.0 94.0 -65.9 85.1 -64.0 77.0 -60.4 69.0 -55.1 67.9 -56.0 67.8 -57.0 61.4 -63.0 61.4 -64.0 67.0 -69.6 68.0 -69.6 71.0 -72.6 72.0 -72.6 74.0 -74.6 77.0 -75.6 78.0 -76.6 81.0 -77.6 82.0 -78.6 84.0 -78.6 85.0 -79.6 89.0 -79.6 90.0 -80.6 103.0 -80.8 104.0 -79.8 109.1 -80.0 105.0 -84.6 98.7 -90.0 92.0 -94.1 85.0 -97.0 79.0 -97.7 75.2 -97.0 71.0 -95.5 61.2 -90.0 53.0 -83.0 47.0 -75.5 43.0 -76.6 42.0 -77.5 41.0 -77.5 40.0 -78.4 39.0 -78.4 38.0 -79.3 37.0 -79.3 36.0 -80.3 35.0 -80.2 32.2 -82.0 32.2 -83.0 33.2 -84.0 33.1 -86.0 35.1 -89.0 35.1 -90.0 36.1 -91.0 37.1 -94.0 39.1 -96.0 39.1 -97.0 49.0 -106.9 50.0 -106.9 52.0 -108.9 55.0 -109.9 58.0 -111.9 60.0 -111.9 61.0 -113.0 62.0 -113.0 62.0 -113.6 57.0 -114.5 50.9 -114.0Z"/>
<path fill-rule="evenodd" fill="#00ff55" d="M-369.0 -300.0L279.0 -300.0 279.0 329.0 -370.0 329.0 -370.0 -300.0 -369.0 -300.0ZM45.1 -119.0L42.2 -118.0 38.9 -116.0 30.0 -107.4 23.0 -97.2 20.4 -92.0 18.7 -87.0 14.0 -86.4 13.0 -87.3 7.1 -87.0 6.0 -66.0 4.7 -56.0 -9.3 -11.0 -11.5 0.0 -11.1 7.0 -9.0 18.0 -0.3 48.0 -0.1 51.0 -0.6 55.0 -2.0 57.8 -4.0 59.6 -16.5 66.0 -29.5 74.0 -33.4 77.0 -35.5 80.0 -34.0 81.0 -33.0 81.0 -32.1 82.0 -32.1 83.0 -33.1 84.0 -33.1 86.0 -36.0 91.0 -35.7 92.0 -33.8 96.0 -32.0 97.7 -30.0 98.5 -26.0 98.3 -21.6 96.0 -18.0 91.9 -16.1 87.0 -14.0 86.9 -13.0 87.8 -1.0 87.4 0.0 88.4 1.0 87.4 1.6 88.0 1.6 100.0 0.6 101.0 0.7 105.0 -0.3 106.0 -0.3 108.0 -1.3 109.0 -1.3 111.0 -3.3 114.0 -4.3 117.0 -6.2 119.0 -6.2 120.0 -15.0 129.0 -12.0 130.3 -5.0 131.1 4.0 130.0 12.2 127.0 17.7 123.0 20.2 120.0 23.0 115.2 26.2 106.0 27.1 96.0 26.5 90.0 25.3 85.0 27.0 83.9 29.0 83.8 32.0 81.6 34.0 81.6 35.0 80.5 35.5 82.0 36.5 83.0 36.5 85.0 38.5 88.0 38.5 90.0 39.5 91.0 39.5 95.0 40.5 96.0 40.6 111.0 39.6 112.0 39.6 115.0 38.6 116.0 38.6 118.0 37.6 119.0 37.7 121.0 36.7 122.0 35.8 125.0 33.8 127.0 33.9 128.0 31.9 130.0 32.0 131.1 39.0 129.1 46.0 125.9 52.0 122.3 58.6 117.0 63.3 112.0 65.9 108.0 67.5 104.0 68.2 100.0 68.0 91.0 66.2 83.0 62.6 75.0 57.7 68.0 57.9 67.0 63.0 61.6 64.0 61.6 69.4 67.0 69.4 68.0 72.4 71.0 72.4 72.0 74.5 74.0 74.4 75.0 76.5 78.0 76.5 79.0 78.5 82.0 78.5 84.0 79.5 85.0 79.5 89.0 80.5 90.0 80.7 103.0 79.7 104.0 79.9 109.0 78.9 110.0 79.0 111.3 88.0 103.6 94.2 96.0 100.0 85.7 103.2 77.0 104.0 69.8 103.4 66.0 101.6 61.0 96.3 52.0 89.4 45.0 80.0 39.0 79.9 37.0 80.8 36.0 80.8 35.0 81.7 34.0 82.0 32.7 83.0 32.7 84.0 33.7 86.0 33.7 89.0 35.7 90.0 35.6 93.0 37.6 94.0 37.6 96.0 39.6 97.0 39.6 106.4 49.0 106.4 50.0 108.4 52.0 109.4 55.0 111.5 58.0 111.5 60.0 113.6 63.0 113.6 66.0 114.7 67.0 114.9 72.0 115.9 73.0 116.0 74.6 122.4 62.0 125.5 50.0 126.2 36.0 125.5 30.0 124.1 25.0 122.0 21.1 119.0 17.7 114.8 14.0 110.0 10.8 100.0 6.7 88.0 4.9 87.8 1.0 88.7 0.0 87.7 -1.0 88.0 -1.3 100.0 -1.4 101.0 -0.3 105.0 -0.4 106.0 0.7 108.0 0.6 109.0 1.7 111.0 1.6 114.0 3.6 117.0 4.6 119.0 6.6 120.0 6.6 130.6 17.0 130.6 18.0 132.7 20.0 132.7 21.0 134.9 23.0 134.9 24.0 136.0 25.0 136.0 26.0 136.4 26.0 137.5 13.0 136.0 0.0 134.0 -6.8 131.0 -14.1 128.0 -19.8 125.0 -23.8 122.0 -26.5 118.0 -28.8 113.0 -30.7 107.0 -32.0 96.0 -32.2 90.0 -31.2 84.0 -29.5 82.9 -30.0 82.9 -31.0 81.8 -32.0 81.7 -34.0 80.7 -35.0 82.0 -35.3 83.0 -36.3 85.0 -36.3 88.0 -38.4 90.0 -38.3 91.0 -39.4 95.0 -39.3 96.0 -40.4 111.0 -40.4 112.0 -39.4 115.0 -39.4 116.0 -38.4 118.0 -38.4 119.0 -37.4 121.0 -37.4 124.0 -35.5 125.0 -35.5 127.0 -33.6 128.0 -33.6 130.0 -31.7 131.0 -31.8 134.0 -28.9 135.0 -28.9 136.4 -28.0 134.1 -36.0 131.2 -43.0 127.8 -49.0 123.4 -55.0 116.5 -62.0 111.0 -66.5 106.0 -69.3 101.0 -70.6 92.0 -70.4 83.0 -68.2 75.0 -64.3 67.0 -58.5 61.6 -63.0 61.6 -64.0 67.0 -69.4 68.0 -69.4 71.0 -72.4 72.0 -72.4 74.0 -74.4 75.0 -74.4 78.0 -76.4 79.0 -76.4 82.0 -78.4 84.0 -78.4 85.0 -79.4 89.0 -79.4 90.0 -80.5 103.0 -80.6 104.0 -79.6 109.0 -79.8 110.0 -78.8 112.0 -78.9 113.0 -77.9 114.8 -78.0 106.9 -87.0 98.0 -94.0 86.0 -99.6 77.0 -101.5 73.0 -101.2 69.0 -100.0 63.0 -97.1 58.1 -94.0 49.3 -86.0 43.0 -77.4 41.0 -77.8 40.0 -78.7 39.0 -78.7 38.0 -79.6 37.0 -79.6 34.0 -81.4 33.0 -81.4 32.4 -82.0 32.4 -83.0 33.4 -84.0 33.3 -86.0 35.3 -89.0 35.3 -90.0 37.3 -93.0 37.3 -94.0 39.3 -96.0 39.3 -97.0 49.0 -106.7 50.0 -106.7 52.0 -108.7 55.0 -109.7 58.0 -111.7 60.0 -111.7 63.0 -113.8 66.0 -113.9 67.0 -114.9 70.5 -115.0 64.0 -117.4 57.0 -119.0 50.0 -119.5 45.1 -119.0Z"/>
<path fill-rule="evenodd" fill="#00ff2b" d="M-369.0 -300.0L279.0 -300.0 279.0 329.0 -370.0 329.0 -370.0 -300.0 -369.0 -300.0ZM46.2 -123.0L40.0 -122.1 36.0 -120.7 32.0 -118.2 27.6 -114.0 22.7 -108.0 18.4 -101.0 15.2 -94.0 13.5 -88.0 1.0 -87.2 0.0 -88.2 -1.0 -87.1 -1.9 -88.0 -2.0 -100.0 -1.0 -101.0 -1.0 -105.0 0.0 -106.0 0.0 -107.4 -7.5 -96.0 -9.1 -92.0 -9.5 -88.0 -13.0 -87.2 -14.0 -86.2 -16.5 -86.0 -17.5 -78.0 -30.2 -37.0 -31.9 -26.0 -30.9 -15.0 -24.7 11.0 -16.0 38.0 -15.7 44.0 -17.2 51.0 -19.7 54.0 -40.0 64.2 -46.0 68.3 -49.4 72.0 -49.1 73.0 -48.0 73.1 -46.0 75.2 -45.0 75.3 -42.0 77.3 -41.0 77.3 -40.0 78.3 -39.0 78.3 -38.0 79.3 -37.0 79.3 -36.0 80.3 -35.0 80.3 -34.0 81.3 -33.0 81.3 -32.3 82.0 -32.3 83.0 -33.3 84.0 -33.3 86.0 -35.3 89.0 -35.3 90.0 -37.2 93.0 -37.2 94.0 -39.2 96.0 -39.2 97.0 -49.0 107.0 -50.0 107.1 -49.1 110.0 -47.8 112.0 -45.4 114.0 -43.0 115.1 -39.0 116.0 -35.0 116.1 -27.0 114.4 -19.0 110.0 -13.2 104.0 -9.0 96.1 -7.3 88.0 -1.0 87.7 0.0 88.7 1.0 87.6 1.4 88.0 1.4 100.0 0.4 101.0 0.4 105.0 -0.6 106.0 -0.6 108.0 -1.6 109.0 -1.5 111.0 -3.5 114.0 -4.5 117.0 -6.5 119.0 -6.5 120.0 -17.0 130.9 -18.0 130.9 -20.0 133.0 -20.9 133.0 -17.0 134.0 -12.0 135.0 -7.0 135.3 5.0 133.4 16.6 129.0 21.7 126.0 25.1 123.0 27.9 119.0 30.0 114.7 31.8 109.0 32.7 104.0 32.7 94.0 30.0 83.0 31.0 82.9 32.0 81.9 34.0 81.8 35.0 80.7 35.3 82.0 36.3 83.0 36.3 85.0 38.3 88.0 38.3 90.0 39.3 91.0 39.3 95.0 40.3 96.0 40.4 111.0 39.3 112.0 39.4 115.0 38.4 116.0 38.4 118.0 37.4 119.0 37.4 121.0 36.4 122.0 35.5 125.0 33.6 127.0 33.7 128.0 31.7 130.0 31.8 131.0 28.9 134.0 29.0 135.9 37.0 133.7 44.0 130.8 52.0 126.2 58.0 121.6 65.4 114.0 69.3 109.0 72.0 104.0 73.3 98.0 72.9 89.0 70.9 81.0 66.9 73.0 60.8 65.0 60.9 64.0 63.0 61.8 64.0 61.8 69.2 67.0 69.2 68.0 72.3 71.0 72.2 72.0 74.3 74.0 74.2 75.0 76.3 78.0 76.3 79.0 78.3 82.0 78.3 84.0 79.3 85.0 79.3 89.0 80.3 90.0 80.5 103.0 79.5 104.0 79.7 109.0 78.7 110.0 78.8 112.0 77.8 113.0 77.9 115.0 76.9 116.0 77.0 117.2 83.0 112.8 88.3 108.0 95.8 99.0 101.5 89.0 106.2 76.0 107.2 71.0 107.4 66.0 106.7 62.0 105.2 58.0 100.0 49.4 96.1 45.0 92.0 41.6 86.5 38.0 81.0 35.3 81.9 34.0 82.0 32.9 83.0 32.8 84.0 33.9 86.0 33.8 89.0 35.8 90.0 35.8 93.0 37.8 94.0 37.8 96.0 39.8 97.0 39.8 106.2 49.0 106.2 50.0 108.2 52.0 109.2 55.0 111.3 58.0 111.3 60.0 113.4 63.0 113.4 66.0 114.5 67.0 114.6 72.0 115.7 73.0 116.0 80.7 120.2 74.0 124.0 66.0 126.4 59.0 127.9 52.0 128.7 45.0 128.7 39.0 127.7 29.0 126.1 22.0 124.1 18.0 122.0 15.1 118.0 11.4 113.2 8.0 107.2 5.0 101.0 3.0 95.0 1.9 88.0 1.5 88.9 0.0 88.0 -1.1 100.0 -1.2 101.0 -0.2 105.0 -0.2 106.0 0.8 108.0 0.8 109.0 1.8 111.0 1.8 114.0 3.8 117.0 4.8 119.0 6.8 120.0 6.8 130.4 17.0 130.4 18.0 134.7 23.0 135.7 26.0 137.9 29.0 137.9 31.0 138.7 31.0 140.0 23.0 140.4 16.0 140.0 8.0 138.7 0.0 136.7 -7.0 134.2 -13.0 129.0 -22.4 125.0 -27.9 122.0 -30.6 118.0 -33.0 108.0 -35.9 102.0 -36.4 95.0 -35.9 89.0 -34.6 82.0 -32.3 81.9 -34.0 80.8 -35.0 82.0 -35.1 83.0 -36.2 85.0 -36.1 88.0 -38.2 90.0 -38.2 91.0 -39.2 95.0 -39.2 96.0 -40.2 111.0 -40.2 112.0 -39.2 115.0 -39.2 116.0 -38.2 118.0 -38.2 119.0 -37.2 121.0 -37.3 124.0 -35.3 125.0 -35.4 127.0 -33.4 128.0 -33.5 130.0 -31.5 131.0 -31.6 134.0 -28.7 135.0 -28.7 140.0 -24.0 140.5 -24.0 138.6 -32.0 135.3 -41.0 131.0 -49.0 126.0 -56.0 119.1 -63.0 110.0 -70.0 104.0 -73.3 99.0 -74.6 92.0 -74.5 84.0 -72.8 74.0 -68.3 64.6 -61.0 61.8 -63.0 61.8 -64.0 67.0 -69.2 68.0 -69.2 71.0 -72.2 72.0 -72.2 74.0 -74.3 75.0 -74.2 78.0 -76.3 79.0 -76.2 82.0 -78.3 84.0 -78.2 85.0 -79.3 89.0 -79.2 90.0 -80.3 103.0 -80.4 104.0 -79.4 109.0 -79.6 110.0 -78.6 112.0 -78.7 113.0 -77.7 115.0 -77.8 116.0 -76.8 118.0 -76.9 119.0 -75.9 120.3 -76.0 111.2 -87.0 105.7 -92.0 100.1 -96.0 94.0 -99.2 88.0 -101.6 80.0 -103.8 74.0 -104.6 70.0 -104.4 65.2 -103.0 60.0 -100.4 54.7 -97.0 46.0 -88.9 42.3 -84.0 39.4 -79.0 38.0 -79.9 37.0 -79.8 36.0 -80.7 35.0 -80.7 34.0 -81.6 33.0 -81.6 32.6 -83.0 33.6 -84.0 33.5 -86.0 35.6 -89.0 35.5 -90.0 37.5 -93.0 37.5 -94.0 39.5 -96.0 39.5 -97.0 49.0 -106.5 50.0 -106.5 52.0 -108.5 55.0 -109.5 58.0 -111.6 60.0 -111.5 63.0 -113.6 66.0 -113.7 67.0 -114.7 72.0 -114.8 73.0 -115.9 77.0 -116.0 70.5 -119.0 63.0 -121.3 55.0 -122.6 46.2 -123.0ZM28.0 136.0L28.5 136.0 28.0 136.0Z"/>
<path fill-rule="evenodd" fill="#00ff00" d="M-369.0 -300.0L279.0 -300.0 279.0 329.0 -370.0 329.0 -370.0 -300.0 -369.0 -300.0ZM20.6 -133.0L21.0 -133.0 20.6 -133.0ZM13.7 -132.0L6.9 -130.0 0.8 -127.0 -4.0 -123.0 -9.0 -116.7 -13.7 -109.0 -16.7 -102.0 -18.6 -94.0 -19.0 -85.9 -22.0 -85.6 -23.0 -84.5 -26.0 -84.4 -27.0 -83.3 -29.0 -83.3 -32.0 -81.2 -34.0 -81.1 -35.0 -80.1 -36.9 -83.0 -36.9 -85.0 -38.9 -88.0 -39.0 -90.0 -40.0 -91.0 -40.0 -94.3 -42.5 -90.0 -43.9 -85.0 -44.2 -81.0 -43.2 -77.0 -44.0 -76.8 -45.0 -75.5 -46.0 -75.4 -48.0 -73.2 -49.0 -73.1 -51.6 -70.0 -50.9 -65.0 -52.3 -50.0 -50.5 -37.0 -46.2 -18.0 -40.7 2.0 -36.9 14.0 -31.8 28.0 -31.1 34.0 -32.8 44.0 -35.0 48.0 -39.0 50.6 -55.3 58.0 -60.0 61.0 -61.1 62.0 -61.0 64.0 -64.6 68.0 -65.2 72.0 -64.8 75.0 -63.3 78.0 -61.0 80.0 -58.7 81.0 -55.0 81.6 -51.0 80.9 -47.6 79.0 -45.0 76.3 -32.6 82.0 -32.6 83.0 -33.6 84.0 -33.5 86.0 -35.5 89.0 -35.5 90.0 -37.5 93.0 -37.5 94.0 -39.4 96.0 -39.4 97.0 -49.0 106.7 -50.0 106.7 -52.0 108.8 -55.0 109.8 -58.0 111.9 -60.0 111.9 -61.0 113.0 -62.0 113.0 -62.0 113.9 -60.9 115.0 -56.9 118.0 -52.0 120.4 -47.0 122.1 -38.0 123.6 -30.0 123.4 -23.0 121.5 -16.6 118.0 -11.0 113.1 -7.0 107.8 -4.6 103.0 -3.0 98.2 -1.7 88.0 -1.0 88.0 0.0 88.9 1.1 88.0 1.2 100.0 0.2 101.0 0.2 105.0 -0.8 106.0 -0.8 108.0 -1.8 109.0 -1.8 111.0 -3.8 114.0 -4.7 117.0 -6.7 119.0 -6.7 120.0 -17.0 130.6 -18.0 130.6 -23.0 134.9 -26.1 136.0 -26.1 137.0 -25.0 137.3 -13.0 139.2 -3.0 138.8 4.0 137.4 10.0 135.5 24.4 128.0 28.4 125.0 31.4 122.0 33.9 118.0 35.6 114.0 37.8 104.0 37.9 99.0 37.3 93.0 34.0 82.0 35.0 80.9 35.0 82.0 36.1 83.0 36.0 85.0 38.1 88.0 38.1 90.0 39.1 91.0 39.1 95.0 40.1 96.0 40.2 111.0 39.1 112.0 39.2 115.0 38.1 116.0 38.2 118.0 37.2 119.0 37.2 121.0 36.2 122.0 35.3 125.0 33.4 127.0 33.4 128.0 31.5 130.0 31.5 131.0 28.6 134.0 28.7 135.0 23.0 141.2 30.0 139.8 38.0 137.3 45.0 134.2 53.0 129.5 58.0 125.8 63.1 121.0 73.1 108.0 75.9 103.0 77.2 99.0 77.7 95.0 77.5 90.0 76.4 84.0 74.7 79.0 72.3 74.0 69.1 69.0 70.0 69.0 72.1 71.0 72.0 72.0 74.1 74.0 74.0 75.0 76.1 78.0 76.1 79.0 78.1 82.0 78.1 84.0 79.1 85.0 79.1 89.0 80.1 90.0 80.3 103.0 79.3 104.0 79.5 109.0 78.5 110.0 78.6 112.0 77.5 113.0 77.6 115.0 76.6 116.0 76.8 118.0 75.8 119.0 75.8 120.0 74.8 121.0 74.9 122.0 73.9 123.0 74.0 123.7 85.0 115.7 94.0 106.6 99.5 99.0 104.3 90.0 107.1 82.0 109.8 70.0 110.3 64.0 109.6 59.0 107.1 53.0 103.2 47.0 104.0 47.0 106.1 49.0 106.0 50.0 108.1 52.0 109.0 55.0 111.1 58.0 111.1 60.0 113.2 63.0 113.2 66.0 114.3 67.0 114.4 72.0 115.5 73.0 116.0 87.0 117.5 85.0 122.9 76.0 127.7 65.0 130.5 54.0 131.5 43.0 130.6 33.0 128.7 23.0 127.1 18.0 124.0 12.4 118.1 7.0 120.0 6.9 130.3 17.0 130.2 18.0 134.5 23.0 135.5 26.0 137.7 29.0 137.7 31.0 139.9 34.0 139.9 36.0 141.0 37.4 142.6 30.0 143.3 23.0 143.0 9.0 140.2 -5.0 138.0 -11.0 135.0 -17.0 126.0 -30.2 120.0 -35.5 116.0 -37.4 110.0 -39.1 103.0 -39.9 96.0 -39.5 96.0 -40.0 111.0 -40.1 112.0 -39.0 115.0 -39.1 116.0 -38.0 118.0 -38.1 119.0 -37.0 121.0 -37.1 124.0 -35.1 125.0 -35.2 127.0 -33.2 128.0 -33.3 130.0 -31.3 131.0 -31.4 134.0 -28.4 135.0 -28.5 142.9 -21.0 142.8 -20.0 145.3 -18.0 143.6 -27.0 141.5 -34.0 138.6 -41.0 135.0 -48.0 131.1 -54.0 127.0 -59.0 122.0 -64.0 116.0 -68.6 104.0 -76.0 99.0 -77.8 95.0 -78.2 88.0 -77.6 81.8 -76.0 75.1 -73.0 69.0 -69.0 69.0 -70.0 70.9 -72.0 72.0 -72.0 74.0 -74.1 75.0 -74.0 78.0 -76.1 79.0 -76.1 82.0 -78.1 84.0 -78.1 85.0 -79.1 89.0 -79.1 90.0 -80.1 103.0 -80.3 104.0 -79.2 109.0 -79.4 110.0 -78.4 112.0 -78.5 113.0 -77.5 115.0 -77.6 116.0 -76.6 118.0 -76.7 119.0 -75.7 120.0 -75.7 121.0 -74.7 122.0 -74.8 125.0 -72.9 126.8 -73.0 121.9 -80.0 115.7 -87.0 108.0 -94.0 101.0 -98.8 93.0 -102.8 86.0 -105.1 73.0 -107.3 65.9 -107.0 62.0 -105.7 56.5 -103.0 48.2 -97.0 41.1 -89.0 36.4 -81.0 35.0 -80.9 34.0 -81.8 32.8 -82.0 32.8 -83.0 33.8 -84.0 33.7 -86.0 35.8 -89.0 35.7 -90.0 37.7 -93.0 37.7 -94.0 39.7 -96.0 39.7 -97.0 49.0 -106.3 50.0 -106.3 52.0 -108.3 55.0 -109.3 58.0 -111.4 60.0 -111.3 63.0 -113.5 66.0 -113.5 67.0 -114.6 72.0 -114.6 73.0 -115.7 84.6 -116.0 77.2 -120.0 65.0 -124.3 53.0 -126.1 47.0 -126.2 41.0 -125.6 32.0 -123.5 29.0 -122.0 25.0 -118.8 20.5 -114.0 16.8 -109.0 11.3 -98.0 8.8 -88.0 1.0 -87.5 0.0 -88.4 -1.0 -87.4 -1.6 -88.0 -1.7 -100.0 -0.7 -101.0 -0.7 -105.0 0.3 -106.0 0.2 -108.0 1.3 -109.0 1.2 -111.0 3.2 -114.0 4.2 -117.0 6.2 -119.0 6.2 -120.0 17.0 -130.9 18.0 -130.9 19.0 -132.0 19.0 -132.9 13.7 -132.0ZM127.0 -72.0L127.4 -72.0 127.0 -72.6 127.0 -72.0ZM67.0 -69.1L68.9 -69.0 62.0 -63.0 61.9 -64.0 67.0 -69.1ZM91.0 -39.0L93.1 -39.0 91.0 -38.5 91.0 -39.0ZM88.0 -38.0L89.0 -38.0 88.0 -38.0ZM98.0 -1.0L100.0 -0.7 98.0 -1.0ZM104.0 -0.0L105.0 -0.0 105.0 0.5 103.1 0.0 104.0 -0.0ZM107.0 1.0L108.0 1.0 108.0 1.5 106.5 1.0 107.0 1.0ZM110.0 2.0L111.0 2.0 111.0 2.8 109.2 2.0 110.0 2.0ZM112.0 3.0L113.0 3.0 113.0 3.8 111.5 3.0 112.0 3.0ZM114.0 4.0L115.0 4.0 115.0 4.9 113.4 4.0 114.0 4.0ZM116.0 5.0L117.0 4.9 118.0 6.0 118.0 6.9 115.1 5.0 116.0 5.0ZM94.0 38.0L94.0 38.4 93.5 38.0 94.0 38.0ZM97.0 40.0L97.0 40.6 96.2 40.0 97.0 40.0ZM98.0 41.0L98.0 41.5 97.4 41.0 98.0 41.0ZM99.0 42.0L99.0 42.4 98.6 42.0 99.0 42.0ZM100.0 43.0L100.0 43.4 99.6 43.0 100.0 43.0ZM101.0 44.0L101.0 44.4 100.6 44.0 101.0 44.0ZM102.0 45.0L102.0 45.6 101.5 45.0 102.0 45.0ZM103.0 46.0L103.0 46.8 102.4 46.0 103.0 46.0ZM64.0 62.0L64.0 63.0 63.0 62.0 64.0 62.0ZM65.0 63.0L69.1 67.0 69.0 68.8 64.0 63.0 65.0 63.0Z"/>
<path fill-rule="evenodd" fill="#2aff00" d="M-369.0 -300.0L279.0 -300.0 279.0 329.0 -370.0 329.0 -370.0 -300.0 -369.0 -300.0ZM24.6 -138.0L16.0 -137.2 7.0 -135.0 -5.2 -130.0 -12.6 -125.0 -16.0 -121.1 -19.0 -116.3 -23.4 -106.0 -25.5 -95.0 -25.6 -90.0 -24.9 -85.0 -26.0 -84.9 -27.0 -83.8 -29.0 -83.7 -32.0 -81.5 -34.0 -81.4 -35.0 -80.4 -36.6 -83.0 -36.6 -85.0 -38.7 -88.0 -38.7 -90.0 -39.7 -91.0 -39.7 -95.0 -40.7 -96.0 -40.9 -111.0 -39.9 -112.0 -39.9 -115.0 -38.9 -116.0 -38.9 -118.0 -37.9 -119.0 -37.9 -121.0 -36.9 -122.0 -37.0 -123.9 -39.0 -122.7 -43.6 -119.0 -47.5 -114.0 -51.0 -107.0 -53.6 -99.0 -54.8 -92.0 -55.0 -85.0 -54.0 -78.0 -51.7 -72.0 -51.9 -71.0 -53.0 -70.8 -56.0 -67.5 -57.0 -67.5 -63.0 -61.2 -64.0 -61.2 -69.9 -67.0 -69.9 -68.0 -73.0 -71.0 -73.0 -72.0 -74.0 -73.0 -74.8 -73.0 -74.9 -68.0 -74.0 -63.0 -72.1 -58.0 -69.9 -55.0 -70.5 -51.0 -68.3 -48.0 -67.1 -45.0 -56.9 -8.0 -53.0 4.0 -47.3 19.0 -46.5 24.0 -48.8 38.0 -50.5 42.0 -54.0 44.7 -65.1 50.0 -69.8 53.0 -67.2 56.0 -67.2 57.0 -61.3 63.0 -61.3 64.0 -67.0 69.8 -68.0 69.8 -71.0 72.8 -72.0 72.8 -74.0 74.9 -75.0 74.9 -76.0 75.9 -77.0 75.9 -78.0 76.9 -80.9 78.0 -81.3 81.0 -80.1 86.0 -76.0 90.7 -70.0 93.6 -62.0 95.0 -55.0 94.2 -47.0 90.9 -41.0 86.3 -37.0 80.7 -35.0 80.9 -34.0 81.9 -32.8 82.0 -32.8 83.0 -33.8 84.0 -33.8 86.0 -35.8 89.0 -35.8 90.0 -37.7 93.0 -37.7 94.0 -39.7 96.0 -39.7 97.0 -49.0 106.5 -50.0 106.5 -52.0 108.5 -55.0 109.6 -58.0 111.6 -60.0 111.6 -63.0 113.8 -66.0 113.8 -67.0 114.9 -70.9 115.0 -65.5 120.0 -59.0 123.6 -51.0 126.3 -43.0 127.6 -33.0 127.8 -25.0 127.0 -18.0 125.1 -13.9 123.0 -8.8 119.0 -4.0 113.5 -4.0 115.0 -5.0 116.0 -4.9 117.0 -6.9 119.0 -6.9 120.0 -17.0 130.4 -18.0 130.4 -23.0 134.6 -26.0 135.6 -29.0 137.8 -31.0 137.8 -32.0 138.9 -33.0 138.9 -34.6 140.0 -34.0 140.2 -25.0 142.4 -13.0 143.6 -5.0 143.1 5.0 141.1 12.0 138.6 20.0 134.2 30.4 127.0 36.0 121.7 36.1 123.0 35.1 124.0 35.1 125.0 33.1 127.0 33.2 128.0 31.3 130.0 31.3 131.0 28.3 134.0 28.4 135.0 21.0 142.7 20.0 142.7 16.0 147.0 15.0 147.3 26.0 145.5 36.0 142.5 45.0 138.6 55.0 132.5 62.0 126.7 69.0 119.0 77.1 106.0 80.0 100.0 80.1 103.0 79.1 104.0 79.3 109.0 78.2 110.0 78.3 112.0 77.3 113.0 77.4 115.0 76.4 116.0 76.5 118.0 75.5 119.0 75.5 120.0 73.6 123.0 73.6 124.0 72.7 125.0 72.7 126.0 71.7 127.0 71.8 128.0 70.8 129.0 70.0 131.9 77.0 127.7 84.0 122.4 91.0 115.8 96.7 109.0 101.6 102.0 105.4 95.0 108.3 88.0 110.3 81.0 112.7 63.0 113.0 66.0 114.2 67.0 114.2 72.0 115.3 73.0 115.7 89.0 114.7 90.0 114.9 95.0 113.9 96.0 114.0 98.2 122.4 87.0 126.6 79.0 130.4 69.0 132.7 60.0 134.1 50.0 134.4 42.0 133.7 35.0 129.0 17.0 130.1 17.0 130.1 18.0 132.2 20.0 132.2 21.0 134.3 23.0 135.3 26.0 137.4 29.0 137.4 31.0 139.5 34.0 139.5 36.0 140.6 37.0 140.7 40.0 141.7 41.0 141.8 44.0 142.9 45.0 143.0 49.1 144.3 49.0 147.3 39.0 148.3 28.0 148.1 20.0 146.9 10.0 145.2 2.0 142.6 -7.0 136.9 -19.0 126.2 -33.0 128.0 -33.1 130.0 -31.2 131.0 -31.2 134.0 -28.2 135.0 -28.3 142.5 -21.0 142.5 -20.0 146.7 -16.0 146.7 -15.0 148.8 -13.0 148.8 -12.0 151.0 -9.9 152.0 -9.9 153.0 -9.0 153.0 11.6 153.7 1.0 153.5 -10.0 152.3 -22.0 151.0 -29.7 150.0 -27.9 149.2 -30.0 150.8 -31.0 150.0 -34.8 149.0 -30.4 143.6 -41.0 137.3 -51.0 131.9 -58.0 125.1 -65.0 116.0 -71.8 100.3 -80.0 103.0 -80.1 104.0 -79.1 109.0 -79.2 110.0 -78.2 112.0 -78.3 113.0 -77.3 115.0 -77.3 116.0 -76.3 118.0 -76.4 119.0 -75.4 120.0 -75.4 123.0 -73.5 124.0 -73.5 125.0 -72.5 126.0 -72.6 127.0 -71.6 130.0 -70.7 135.0 -66.8 138.4 -67.0 131.9 -78.0 120.2 -89.0 111.4 -96.0 101.0 -102.4 90.0 -107.0 84.0 -108.3 72.0 -109.7 64.0 -109.6 56.0 -106.9 47.0 -101.0 40.0 -93.7 34.0 -83.8 33.9 -86.0 36.0 -89.0 35.9 -90.0 37.9 -93.0 37.9 -94.0 39.9 -96.0 39.9 -97.0 49.0 -106.2 50.0 -106.1 52.0 -108.2 55.0 -109.1 58.0 -111.2 60.0 -111.1 63.0 -113.3 66.0 -113.3 67.0 -114.4 72.0 -114.4 73.0 -115.5 89.0 -115.8 90.0 -114.8 94.7 -115.0 90.0 -117.9 83.0 -121.6 75.0 -125.0 67.0 -127.4 60.0 -128.8 52.0 -129.6 46.0 -129.5 29.0 -126.0 24.6 -124.0 21.0 -121.3 16.8 -117.0 13.0 -112.0 9.6 -106.0 7.1 -100.0 5.4 -94.0 4.5 -88.0 1.0 -87.8 0.0 -88.7 -1.0 -87.7 -1.4 -88.0 -1.4 -100.0 -0.4 -101.0 -0.5 -105.0 0.5 -106.0 0.5 -108.0 1.5 -109.0 1.5 -111.0 3.5 -114.0 4.5 -117.0 6.5 -119.0 6.4 -120.0 17.0 -130.7 18.0 -130.7 23.0 -134.8 24.0 -134.8 25.0 -135.9 26.0 -135.9 29.1 -138.0 24.6 -138.0ZM-36.8 -124.0L-36.0 -124.0 -36.0 -124.4 -36.8 -124.0ZM139.0 -65.0L139.0 -63.9 139.9 -64.0 139.0 -65.9 139.0 -65.0ZM140.0 -63.0L140.0 -61.9 140.9 -62.0 140.0 -63.9 140.0 -63.0ZM141.0 -61.0L140.9 -60.0 141.8 -60.0 141.0 -61.8 141.0 -61.0ZM142.0 -59.0L141.9 -57.0 142.9 -56.0 143.0 -54.9 143.9 -55.0 142.0 -59.5 142.0 -59.0ZM144.0 -54.0L143.9 -52.0 145.0 -52.0 144.0 -54.7 144.0 -54.0ZM144.9 -51.0L144.8 -49.0 146.0 -49.0 145.0 -51.9 144.9 -51.0ZM145.9 -48.0L145.8 -46.0 146.9 -46.0 146.0 -48.9 145.9 -48.0ZM146.9 -45.0L147.0 -42.8 147.9 -43.0 147.0 -45.8 146.9 -45.0ZM147.9 -42.0L148.0 -38.7 149.0 -39.0 148.0 -42.6 147.9 -42.0ZM148.9 -38.0L148.5 -35.0 149.0 -34.5 150.0 -35.0 149.0 -39.0 148.9 -38.0ZM151.9 18.0L152.0 19.4 151.9 18.0ZM69.0 132.0L69.0 132.4 69.7 132.0 69.0 132.0ZM33.0 -83.0L33.6 -83.0 33.2 -82.0 33.0 -83.0ZM125.0 -35.0L125.0 -34.4 124.4 -35.0 125.0 -35.0ZM126.0 -34.0L126.0 -33.3 125.4 -34.0 126.0 -34.0ZM129.0 16.0L129.0 16.9 129.0 16.0ZM-2.0 110.2L-2.0 111.0 -2.5 111.0 -2.0 110.2ZM-3.0 111.9L-3.0 113.0 -3.7 113.0 -3.0 111.9ZM37.0 120.4L37.0 121.0 36.6 121.0 37.0 120.4Z"/>
<path fill-rule="evenodd" fill="#55ff00" d="M-369.0 -300.0L279.0 -300.0 279.0 329.0 -370.0 329.0 -370.0 -300.0 -369.0 -300.0ZM18.0 -142.0L8.0 -139.9 -4.0 -135.3 -15.0 -129.3 -21.2 -124.0 -24.1 -120.0 -26.8 -115.0 -30.4 -104.0 -31.4 -93.0 -30.0 -83.0 -31.0 -82.9 -32.0 -81.8 -34.0 -81.7 -35.0 -80.7 -35.3 -82.0 -36.3 -83.0 -36.3 -85.0 -38.4 -88.0 -38.4 -90.0 -39.4 -91.0 -39.4 -95.0 -40.5 -96.0 -40.6 -111.0 -39.6 -112.0 -39.6 -115.0 -38.6 -116.0 -38.6 -118.0 -37.6 -119.0 -37.7 -121.0 -36.7 -122.0 -35.7 -125.0 -33.8 -127.0 -33.8 -128.0 -31.9 -130.0 -31.9 -131.0 -29.0 -134.0 -29.0 -134.7 -35.0 -132.1 -42.0 -128.2 -52.0 -120.0 -56.4 -115.0 -58.9 -111.0 -60.8 -106.0 -62.3 -100.0 -63.1 -92.0 -62.7 -81.0 -60.9 -73.0 -58.0 -67.0 -63.0 -61.6 -64.0 -61.6 -69.5 -67.0 -69.5 -68.0 -72.6 -71.0 -72.6 -72.0 -74.6 -74.0 -75.7 -77.0 -78.8 -82.0 -78.8 -84.0 -79.8 -85.0 -79.8 -89.0 -80.9 -90.0 -81.0 -101.1 -84.1 -97.0 -86.7 -92.0 -87.9 -88.0 -88.6 -83.0 -88.0 -73.0 -85.6 -63.0 -80.8 -52.0 -78.8 -49.0 -76.0 -46.1 -76.6 -43.0 -77.5 -42.0 -77.4 -41.0 -78.3 -40.0 -78.3 -39.0 -79.2 -38.0 -79.1 -37.0 -80.8 -34.0 -78.0 -31.3 -76.3 -28.0 -70.5 -10.0 -63.1 9.0 -62.1 13.0 -62.2 17.0 -65.5 35.0 -68.0 38.1 -76.0 42.7 -76.3 44.0 -75.6 45.0 -75.7 46.0 -73.9 48.0 -73.9 49.0 -67.8 56.0 -67.8 57.0 -61.6 63.0 -61.6 64.0 -67.0 69.5 -68.0 69.5 -71.0 72.5 -72.0 72.5 -74.0 74.6 -77.0 75.6 -82.0 78.7 -84.0 78.8 -85.0 79.8 -89.0 79.8 -90.0 80.9 -96.8 81.0 -95.9 85.0 -91.9 91.0 -85.0 97.0 -77.3 101.0 -69.0 103.2 -60.0 103.3 -51.0 101.2 -44.0 97.8 -38.0 92.7 -38.0 94.0 -40.0 96.0 -39.9 97.0 -49.0 106.2 -50.0 106.2 -52.0 108.3 -55.0 109.3 -58.0 111.4 -60.0 111.4 -63.0 113.5 -66.0 113.6 -67.0 114.6 -72.0 114.7 -73.0 115.8 -80.2 116.0 -74.7 121.0 -68.0 125.8 -61.0 129.0 -53.0 131.5 -43.0 132.6 -37.0 132.5 -16.0 128.1 -15.9 129.0 -17.0 130.1 -18.0 130.1 -23.0 134.3 -26.0 135.3 -29.0 137.4 -31.0 137.4 -34.0 139.6 -36.0 139.6 -37.0 140.7 -40.0 140.7 -41.0 141.8 -44.0 141.9 -45.0 143.0 -46.0 143.0 -40.0 145.3 -32.0 147.6 -21.0 149.3 -12.0 149.3 -4.0 148.3 6.0 145.4 15.0 141.5 24.0 135.8 31.0 129.6 31.1 131.0 28.1 134.0 28.0 135.1 21.0 142.3 20.0 142.3 16.0 146.4 15.0 146.4 13.0 148.5 12.0 148.5 9.6 151.0 9.6 152.0 9.0 152.7 -15.1 153.0 1.0 155.2 15.0 155.0 30.0 153.3 46.0 149.8 59.0 145.7 72.0 140.1 88.0 131.5 98.0 124.7 113.0 112.5 123.5 102.0 134.3 89.0 142.9 76.0 149.3 64.0 155.8 48.0 159.9 35.0 163.2 19.0 164.9 3.0 164.9 -4.0 164.0 -16.0 162.8 -25.0 159.9 -39.0 153.3 -59.0 149.3 -68.0 144.0 -78.0 139.0 -85.4 130.4 -96.0 122.0 -104.7 111.0 -111.2 95.0 -122.4 85.0 -128.3 83.0 -129.3 83.0 -128.0 73.0 -130.6 64.0 -132.2 50.0 -133.2 44.0 -132.7 38.0 -131.4 22.0 -126.5 17.9 -124.0 14.6 -121.0 7.8 -112.0 2.7 -101.0 1.1 -95.0 0.4 -89.0 -1.1 -88.0 -1.2 -100.0 -0.2 -101.0 -0.2 -105.0 0.8 -106.0 0.8 -108.0 1.8 -109.0 1.7 -111.0 3.7 -114.0 4.7 -117.0 6.7 -119.0 6.7 -120.0 17.0 -130.4 18.0 -130.4 23.0 -134.6 26.0 -135.6 29.0 -137.7 31.0 -137.7 34.0 -139.8 36.0 -139.8 37.0 -140.9 40.0 -140.9 41.1 -142.0 29.0 -142.7 18.0 -142.0ZM80.8 -130.0L81.0 -129.5 81.7 -130.0 80.8 -130.0ZM-20.0 152.0L-18.0 152.4 -17.8 152.0 -20.0 152.0ZM73.0 -115.2L89.0 -115.4 90.0 -114.4 95.0 -114.5 96.0 -113.5 100.0 -113.6 101.0 -114.6 102.0 -114.7 110.1 -106.0 110.0 -105.0 109.0 -104.4 107.0 -104.7 93.0 -109.4 86.0 -111.0 78.0 -111.8 63.0 -112.1 63.0 -113.1 66.0 -113.1 67.0 -114.2 72.0 -114.2 73.0 -115.2ZM61.0 -112.0L61.9 -112.0 61.0 -112.0ZM107.0 -79.0L109.0 -79.1 109.0 -78.1 107.0 -79.0ZM110.0 -78.0L112.0 -78.1 113.0 -77.0 115.0 -77.1 116.0 -76.1 118.0 -76.2 121.0 -74.1 122.0 -74.2 123.0 -73.2 124.0 -73.2 125.0 -72.2 126.0 -72.3 127.0 -71.2 130.0 -70.3 135.0 -66.2 138.0 -66.1 138.1 -64.0 138.9 -63.0 138.8 -61.0 138.0 -60.0 136.0 -60.8 121.0 -72.0 115.0 -75.5 109.3 -78.0 110.0 -78.0ZM131.0 -31.0L131.0 -30.6 130.6 -31.0 131.0 -31.0ZM132.0 -30.0L132.0 -29.6 131.6 -30.0 132.0 -30.0ZM133.0 -29.0L133.0 -28.6 132.6 -29.0 133.0 -29.0ZM134.0 -28.0L135.0 -28.1 142.2 -21.0 142.2 -20.0 146.3 -16.0 146.3 -15.0 148.3 -13.0 148.3 -12.0 151.0 -9.2 152.2 -9.0 152.0 -3.3 151.0 -1.4 148.0 -4.7 140.3 -19.0 133.6 -28.0 134.0 -28.0ZM134.0 23.0L134.0 24.8 133.3 23.0 134.0 23.0ZM135.0 24.9L135.0 26.0 136.1 27.0 136.1 28.0 137.1 29.0 137.1 31.0 139.2 34.0 139.2 36.0 140.3 37.0 140.3 40.0 141.3 41.0 141.3 44.0 142.3 45.0 142.3 49.0 144.2 50.0 142.0 55.9 140.0 57.5 139.0 56.3 138.6 54.0 136.7 35.0 134.1 25.0 135.0 24.9ZM115.0 73.0L115.3 89.0 114.3 90.0 114.4 95.0 113.3 96.0 113.4 100.0 114.4 101.0 114.3 102.0 106.0 110.0 105.0 109.9 104.3 109.0 104.5 108.0 111.5 89.0 113.5 81.0 114.3 73.0 115.0 73.0ZM-37.0 91.6L-37.4 92.0 -37.0 91.6ZM79.0 106.8L79.1 109.0 78.2 109.0 79.0 106.8ZM78.0 109.4L78.1 112.0 77.0 113.0 77.1 115.0 76.1 116.0 76.2 118.0 75.1 119.0 75.2 120.0 73.2 123.0 73.3 124.0 72.3 125.0 72.3 126.0 71.3 127.0 70.4 130.0 66.4 135.0 66.5 138.0 66.0 138.5 64.0 138.5 63.0 139.5 60.0 140.4 59.0 141.4 57.0 141.3 54.0 143.2 52.0 143.1 51.0 144.0 50.3 144.0 51.4 142.0 62.0 132.3 70.0 123.3 74.3 117.0 78.0 109.4ZM-15.0 127.8L-15.5 128.0 -15.0 127.8ZM32.0 128.7L31.6 129.0 32.0 128.7Z"/>
<path fill-rule="evenodd" fill="#80ff00" d="M-369.0 -300.0L279.0 -300.0 279.0 329.0 -370.0 329.0 -370.0 -300.0 -369.0 -300.0ZM30.4 -149.0L21.0 -147.8 12.0 -145.9 -3.0 -140.7 -13.0 -135.4 -23.0 -128.1 -26.4 -125.0 -29.5 -121.0 -31.7 -117.0 -34.1 -111.0 -35.7 -105.0 -36.6 -94.0 -35.9 -87.0 -34.5 -82.0 -35.0 -81.0 -35.0 -82.0 -36.1 -83.0 -36.0 -85.0 -38.1 -88.0 -38.1 -90.0 -39.1 -91.0 -39.1 -95.0 -40.2 -96.0 -40.3 -111.0 -39.3 -112.0 -39.3 -115.0 -38.3 -116.0 -38.4 -118.0 -37.3 -119.0 -37.4 -121.0 -36.4 -122.0 -35.5 -125.0 -33.5 -127.0 -33.5 -128.0 -31.6 -130.0 -31.6 -131.0 -28.6 -134.0 -28.7 -135.0 -21.0 -143.0 -19.9 -143.0 -20.0 -143.9 -29.0 -141.1 -37.0 -137.4 -45.0 -132.6 -52.0 -127.0 -60.0 -118.2 -65.2 -111.0 -67.9 -105.0 -69.5 -97.0 -70.4 -87.0 -69.6 -78.0 -66.9 -69.0 -63.0 -62.0 -64.0 -61.9 -69.1 -67.0 -69.1 -68.0 -72.2 -71.0 -72.2 -72.0 -74.3 -74.0 -75.3 -77.0 -76.3 -78.0 -77.4 -81.0 -78.4 -82.0 -78.4 -84.0 -79.5 -85.0 -79.5 -89.0 -80.5 -90.0 -80.7 -103.0 -79.7 -104.0 -79.9 -109.0 -78.9 -110.0 -78.9 -112.0 -77.9 -113.0 -78.0 -114.4 -86.0 -106.1 -91.4 -98.0 -96.0 -88.0 -97.4 -83.0 -98.0 -78.0 -97.2 -69.0 -94.2 -58.0 -90.8 -50.0 -87.4 -44.0 -84.0 -39.6 -80.8 -37.0 -80.9 -35.0 -81.8 -34.0 -81.7 -33.0 -83.0 -32.7 -84.0 -33.7 -86.0 -33.6 -89.0 -35.6 -90.0 -35.5 -91.0 -36.5 -94.0 -37.4 -96.0 -39.3 -97.0 -39.3 -106.4 -48.0 -104.0 -39.0 -98.5 -28.0 -93.0 -22.0 -87.0 -18.7 -86.2 -14.0 -87.1 -13.0 -87.0 -11.6 -84.0 -9.7 -82.0 -7.1 -78.6 0.0 -77.4 5.0 -77.9 9.0 -81.0 19.8 -82.0 22.0 -84.0 24.5 -84.0 26.0 -83.0 27.0 -83.1 29.0 -81.1 32.0 -81.1 34.0 -80.1 35.0 -83.0 36.9 -85.0 36.9 -88.0 38.9 -90.0 38.9 -91.0 40.0 -93.7 40.0 -98.1 48.0 -98.6 52.0 -98.1 55.0 -96.3 58.0 -94.1 60.0 -88.0 64.2 -84.0 65.7 -79.0 66.1 -72.0 65.3 -68.0 64.0 -64.0 61.4 -61.9 63.0 -61.9 64.0 -67.0 69.2 -68.0 69.2 -71.0 72.2 -72.0 72.2 -74.0 74.3 -77.0 75.3 -82.0 78.4 -84.0 78.5 -85.0 79.5 -89.0 79.5 -90.0 80.6 -103.0 80.9 -104.0 79.9 -107.8 80.0 -105.9 85.0 -102.9 90.0 -99.4 94.0 -91.7 100.0 -86.0 103.2 -76.0 107.0 -68.0 108.8 -61.0 109.3 -54.0 108.3 -54.0 109.0 -57.0 110.1 -58.0 111.1 -60.0 111.1 -63.0 113.2 -66.0 113.3 -67.0 114.4 -72.0 114.4 -73.0 115.5 -89.0 115.9 -90.0 114.9 -91.2 115.0 -83.4 123.0 -73.0 130.7 -62.0 136.5 -54.0 138.7 -40.0 138.2 -27.0 135.3 -27.0 136.0 -28.0 136.0 -29.0 137.1 -31.0 137.0 -34.0 139.1 -36.0 139.1 -37.0 140.2 -40.0 140.1 -41.0 141.2 -44.0 141.2 -45.0 142.2 -49.0 142.2 -49.8 143.0 -50.0 144.2 -51.0 144.2 -52.0 143.2 -54.0 143.2 -57.0 141.2 -59.0 141.3 -62.0 139.3 -63.0 139.4 -64.0 138.3 -66.0 138.6 -67.0 137.6 -68.7 138.0 -63.8 142.0 -52.0 150.1 -39.0 155.5 -23.0 160.2 -5.0 163.1 9.0 163.6 27.0 162.3 42.0 159.6 58.0 155.2 73.0 149.3 89.0 141.3 102.0 133.3 115.0 123.6 128.9 111.0 139.0 100.0 147.5 89.0 156.3 75.0 163.0 61.0 168.3 47.0 171.3 36.0 175.1 15.0 175.9 1.0 175.0 -13.0 171.9 -32.0 167.8 -47.0 162.0 -63.0 154.7 -78.0 147.0 -90.0 138.0 -100.9 132.2 -107.0 128.5 -110.0 115.0 -116.7 99.0 -128.0 89.0 -134.2 71.0 -143.4 61.0 -146.3 49.0 -148.4 35.0 -149.8 30.4 -149.0ZM-19.7 -144.0L-19.0 -144.2 -19.7 -144.0ZM-69.8 137.0L-69.0 137.7 -69.0 136.8 -69.8 137.0ZM50.0 -144.6L51.0 -144.5 52.0 -143.5 54.0 -143.4 57.0 -141.2 59.0 -141.0 58.7 -139.0 43.0 -136.4 30.0 -132.8 19.0 -128.3 15.0 -126.2 11.1 -123.0 7.0 -118.3 6.9 -120.0 17.0 -130.2 18.0 -130.2 23.0 -134.3 26.0 -135.3 29.0 -137.4 31.0 -137.3 34.0 -139.4 36.0 -139.4 37.0 -140.5 40.0 -140.4 41.0 -141.5 44.0 -141.5 45.0 -142.5 49.0 -142.5 50.0 -144.6ZM6.0 -118.0L6.7 -118.0 6.0 -117.0 6.0 -118.0ZM5.0 -117.0L6.0 -117.0 5.0 -115.6 5.0 -117.0ZM4.0 -115.0L4.6 -115.0 4.0 -114.0 4.0 -115.0ZM73.0 -115.0L89.1 -115.0 89.0 -114.2 73.0 -115.0ZM92.0 -114.0L95.0 -114.0 91.3 -114.0 92.0 -114.0ZM3.0 -113.0L3.4 -113.0 3.0 -112.4 3.0 -113.0ZM2.0 -111.0L2.0 -110.6 2.0 -111.0ZM-52.0 107.8L-52.8 108.0 -52.0 107.8ZM-23.0 133.7L-23.7 134.0 -23.0 133.7ZM-26.0 134.9L-25.0 134.5 -25.0 135.0 -26.0 134.9Z"/>
<path fill-rule="evenodd" fill="#aaff00" d="M-369.0 -300.0L279.0 -300.0 279.0 329.0 -370.0 329.0 -370.0 -300.0 -369.0 -300.0ZM15.8 -158.0L-9.0 -155.1 -19.0 -153.4 -28.3 -151.0 -28.4 -150.0 -40.0 -143.3 -51.0 -135.1 -57.0 -129.5 -62.6 -123.0 -72.2 -107.0 -74.6 -101.0 -76.1 -95.0 -76.9 -87.0 -76.6 -80.0 -77.0 -80.0 -77.0 -81.0 -78.1 -82.0 -78.1 -84.0 -79.1 -85.0 -79.1 -89.0 -80.2 -90.0 -80.4 -103.0 -79.4 -104.0 -79.6 -109.0 -78.5 -110.0 -78.6 -112.0 -77.6 -113.0 -77.6 -115.0 -76.6 -116.0 -76.7 -118.0 -75.7 -119.0 -75.7 -120.0 -74.7 -121.0 -74.8 -122.0 -73.8 -123.0 -73.8 -124.0 -72.8 -125.0 -72.9 -126.0 -71.9 -127.0 -71.9 -128.0 -71.0 -129.0 -71.0 -129.8 -75.0 -126.7 -84.0 -118.1 -93.0 -107.0 -98.7 -97.0 -102.2 -87.0 -105.1 -75.0 -105.4 -67.0 -102.8 -54.0 -98.4 -42.0 -99.0 -42.0 -106.3 -49.0 -106.3 -50.0 -108.4 -52.0 -109.4 -55.0 -111.5 -58.0 -111.5 -60.0 -113.7 -63.0 -113.7 -66.0 -114.8 -67.0 -114.9 -72.0 -116.0 -73.4 -118.7 -63.0 -120.8 -45.0 -120.1 -39.0 -118.6 -34.0 -116.0 -28.9 -112.3 -24.0 -106.0 -18.1 -100.2 -14.0 -94.2 -11.0 -88.0 -9.4 -87.3 -1.0 -88.3 0.0 -87.3 1.0 -88.0 1.7 -100.0 1.8 -101.0 0.8 -105.0 0.9 -106.0 -0.1 -108.0 -0.1 -109.0 -1.1 -111.0 -1.0 -114.0 -3.0 -115.3 -3.0 -113.1 1.0 -110.7 9.0 -106.0 15.8 -100.4 20.0 -92.0 23.0 -85.0 23.0 -84.8 26.0 -83.8 27.0 -83.7 29.0 -81.6 32.0 -81.5 34.0 -80.5 35.0 -82.0 35.5 -83.0 36.5 -85.0 36.5 -88.0 38.5 -90.0 38.6 -91.0 39.6 -95.0 39.6 -96.0 40.6 -111.0 40.8 -112.0 39.8 -115.0 39.9 -116.0 38.9 -118.0 38.9 -119.0 37.9 -121.2 38.0 -119.2 45.0 -115.1 55.0 -113.0 58.7 -109.6 63.0 -105.0 67.0 -98.2 71.0 -93.0 73.1 -85.0 74.4 -76.0 74.2 -76.0 75.0 -79.0 76.1 -80.0 77.1 -81.0 77.1 -82.0 78.1 -84.0 78.2 -85.0 79.2 -89.0 79.2 -90.0 80.3 -103.0 80.5 -104.0 79.5 -109.0 79.7 -110.0 78.7 -112.0 78.8 -113.0 77.8 -115.0 77.9 -116.0 76.9 -118.6 77.0 -118.0 79.0 -115.0 86.0 -109.7 94.0 -104.0 100.0 -97.0 105.2 -91.0 108.5 -84.0 110.9 -66.6 113.0 -67.0 114.1 -72.0 114.1 -73.0 115.2 -89.0 115.4 -90.0 114.3 -95.0 114.5 -96.0 113.5 -100.0 113.8 -100.7 115.0 -90.2 128.0 -73.0 144.9 -65.0 151.5 -53.0 159.7 -41.0 164.4 -26.0 168.6 -7.0 172.0 7.0 173.0 24.0 172.6 44.0 170.4 58.0 167.5 80.0 161.5 101.3 153.0 114.0 147.0 123.9 141.0 135.0 132.2 144.9 123.0 160.6 104.0 168.4 90.0 173.2 80.0 178.0 65.0 183.6 43.0 186.5 15.0 186.3 0.0 182.9 -25.0 180.0 -37.0 171.8 -60.0 166.6 -72.0 160.1 -83.0 149.8 -97.0 138.0 -110.4 132.0 -115.4 119.0 -122.2 93.0 -140.1 83.0 -146.1 73.0 -151.3 62.0 -154.1 47.0 -156.4 26.0 -158.3 15.8 -158.0ZM-31.3 -150.0L-30.8 -150.0 -31.3 -150.0ZM-9.0 -152.7L5.1 -152.0 4.6 -151.0 -13.0 -141.1 -21.0 -134.8 -33.3 -123.0 -36.4 -118.0 -39.0 -111.5 -39.1 -115.0 -38.0 -116.0 -38.1 -118.0 -37.1 -119.0 -37.1 -121.0 -36.1 -122.0 -35.2 -125.0 -33.2 -127.0 -33.3 -128.0 -31.3 -130.0 -31.3 -131.0 -28.3 -134.0 -28.4 -135.0 -21.0 -142.5 -20.0 -142.4 -16.0 -146.5 -15.0 -146.5 -13.0 -148.6 -12.0 -148.5 -9.6 -151.0 -9.7 -152.0 -9.0 -152.7ZM37.0 -140.0L37.9 -140.0 37.0 -139.7 37.0 -140.0ZM34.0 -139.0L35.2 -139.0 34.0 -138.6 34.0 -139.0ZM32.0 -138.0L32.4 -138.0 32.0 -138.0ZM29.0 -137.0L29.9 -137.0 29.0 -136.6 29.0 -137.0ZM27.0 -136.0L27.7 -136.0 27.0 -135.7 27.0 -136.0ZM25.0 -135.0L25.8 -135.0 25.0 -134.6 25.0 -135.0ZM23.0 -134.0L24.0 -134.0 23.0 -133.4 23.0 -134.0ZM20.0 -132.0L20.7 -132.0 20.0 -131.6 20.0 -132.0ZM-40.0 -111.0L-39.2 -111.0 -40.0 -108.0 -40.0 -111.0ZM-74.0 73.8L-75.0 74.0 -74.0 73.8Z"/>
<path fill-rule="evenodd" fill="#d5ff00" d="M-369.0 -300.0L279.0 -300.0 279.0 329.0 -370.0 329.0 -370.0 -300.0 -369.0 -300.0ZM8.7 -166.0L-19.0 -163.6 -30.0 -161.8 -52.0 -155.5 -73.0 -147.6 -82.0 -142.9 -91.0 -137.4 -101.0 -130.0 -109.3 -122.0 -114.1 -111.0 -116.0 -107.7 -118.0 -106.2 -123.3 -105.0 -125.1 -104.0 -125.7 -102.0 -125.3 -100.0 -121.0 -90.0 -121.7 -84.0 -125.8 -68.0 -129.3 -47.0 -128.9 -40.0 -125.6 -27.0 -121.9 -20.0 -118.0 -15.8 -113.6 -12.0 -108.0 -8.5 -102.0 -5.8 -95.0 -3.7 -88.0 -2.6 -87.9 -1.0 -88.8 0.0 -87.7 1.0 -100.0 1.4 -101.0 0.4 -105.0 0.4 -106.0 -0.6 -108.0 -0.5 -109.0 -1.6 -111.0 -1.5 -114.0 -3.5 -117.0 -4.5 -119.0 -6.5 -120.0 -6.5 -130.8 -17.0 -130.8 -18.0 -133.0 -20.0 -133.0 -21.0 -133.6 -21.0 -132.7 -8.0 -129.0 8.2 -126.0 15.5 -123.0 20.0 -118.0 24.9 -111.8 29.0 -105.5 32.0 -99.0 33.8 -90.0 34.4 -82.0 33.0 -81.9 34.0 -80.9 35.0 -82.0 35.1 -83.0 36.1 -85.0 36.1 -88.0 38.2 -90.0 38.2 -91.0 39.2 -95.0 39.2 -96.0 40.3 -111.0 40.4 -112.0 39.4 -115.0 39.5 -116.0 38.5 -118.0 38.5 -119.0 37.5 -121.0 37.6 -122.0 36.6 -125.0 35.7 -127.0 33.8 -128.0 33.8 -130.0 31.9 -131.9 32.0 -129.9 40.0 -125.4 51.0 -123.7 57.0 -120.7 62.0 -116.0 66.6 -105.1 75.0 -99.0 78.1 -92.5 80.0 -103.0 80.2 -104.0 79.2 -109.0 79.4 -110.0 78.3 -112.0 78.4 -113.0 77.4 -115.0 77.4 -116.0 76.4 -118.0 76.5 -119.0 75.5 -120.0 75.5 -121.0 74.5 -122.0 74.6 -125.0 72.7 -126.0 72.8 -127.0 71.9 -128.2 72.0 -124.9 81.0 -117.2 97.0 -118.0 97.4 -119.2 97.0 -116.0 104.5 -111.0 112.8 -101.3 127.0 -93.2 136.0 -75.0 154.1 -57.0 167.5 -52.0 170.5 -41.0 176.0 -30.0 180.4 -6.0 187.5 7.0 189.8 33.0 190.3 48.0 189.8 73.0 186.2 88.0 183.5 102.0 178.6 127.0 168.6 131.9 166.0 140.0 160.5 152.0 149.0 161.5 139.0 171.5 125.0 180.4 111.0 186.0 96.9 190.3 84.0 193.3 69.0 197.1 44.0 197.7 16.0 197.0 3.0 195.1 -11.0 191.7 -29.0 189.1 -38.0 183.6 -52.0 172.6 -77.0 166.0 -86.4 149.3 -107.0 142.5 -114.0 136.0 -119.4 121.0 -129.0 105.0 -140.6 88.0 -152.0 79.0 -157.4 75.0 -159.2 60.0 -162.3 28.0 -166.5 22.0 -166.8 8.7 -166.0ZM-132.1 31.0L-132.0 31.7 -132.1 31.0ZM-66.0 -137.9L-63.0 -137.9 -62.0 -137.2 -62.4 -135.0 -70.8 -120.0 -74.8 -110.0 -80.0 -99.7 -80.1 -103.0 -79.1 -104.0 -79.2 -109.0 -78.2 -110.0 -78.3 -112.0 -77.2 -113.0 -77.3 -115.0 -76.2 -116.0 -76.3 -118.0 -74.3 -121.0 -74.3 -122.0 -73.3 -123.0 -73.3 -124.0 -72.3 -125.0 -72.3 -126.0 -71.3 -127.0 -70.3 -130.0 -66.2 -135.0 -66.0 -137.9ZM-28.0 -135.0L-27.6 -135.0 -28.0 -134.5 -28.0 -135.0ZM-31.0 -131.0L-30.5 -131.0 -31.0 -130.3 -31.0 -131.0ZM-105.0 -111.1L-104.0 -111.8 -102.0 -111.6 -101.8 -109.0 -108.4 -88.0 -110.2 -79.0 -112.1 -63.0 -113.0 -62.9 -113.1 -66.0 -114.2 -67.0 -114.3 -72.0 -115.4 -73.0 -115.7 -89.0 -114.7 -90.0 -114.8 -95.0 -113.7 -96.0 -113.7 -100.0 -114.8 -101.0 -114.8 -102.0 -105.0 -111.1ZM-117.0 97.5L-117.0 98.1 -117.0 97.5Z"/>
<path fill-rule="evenodd" fill="#ffff00" d="M-369.0 -300.0L279.0 -300.0 279.0 329.0 -370.0 329.0 -370.0 -300.0 -369.0 -300.0ZM-120.4 -196.0L-126.0 -193.0 -142.0 -181.6 -152.0 -171.7 -160.0 -161.7 -171.0 -144.0 -177.0 -132.3 -178.0 -129.3 -178.6 -126.0 -178.4 -124.0 -173.2 -118.0 -172.4 -116.0 -172.7 -113.0 -174.9 -110.0 -182.0 -103.4 -184.9 -103.0 -185.0 -102.0 -182.0 -102.2 -178.0 -101.5 -168.0 -97.7 -163.0 -94.5 -156.4 -86.0 -147.4 -71.0 -145.4 -64.0 -144.0 -52.0 -143.9 -54.0 -141.4 -57.0 -141.2 -59.0 -140.0 -59.9 -138.9 -59.0 -138.6 -50.0 -137.5 -41.0 -128.8 -19.0 -126.2 -14.0 -127.0 -13.9 -130.2 -17.0 -130.2 -18.0 -134.4 -23.0 -135.4 -26.0 -137.5 -29.0 -137.5 -31.0 -139.6 -34.0 -139.6 -36.0 -140.7 -37.0 -140.5 -40.0 -141.7 -41.0 -141.7 -44.0 -142.9 -45.0 -143.0 -49.2 -143.8 -49.0 -144.1 -37.0 -147.2 -29.0 -147.1 -24.0 -146.3 -20.0 -142.0 -11.9 -134.9 11.0 -128.7 24.0 -125.0 29.4 -121.5 33.0 -117.0 36.3 -111.6 39.0 -115.0 39.1 -116.0 38.1 -118.0 38.1 -119.0 37.1 -121.0 37.2 -122.0 36.2 -125.0 35.3 -127.0 33.3 -128.0 33.4 -130.0 31.4 -131.0 31.5 -134.0 28.6 -135.0 28.6 -142.8 21.0 -142.8 20.0 -146.8 16.0 -146.8 15.0 -148.9 13.0 -148.9 12.0 -150.0 11.0 -150.1 18.0 -149.0 27.6 -146.6 37.0 -144.1 43.0 -142.0 46.0 -137.0 47.6 -134.0 50.9 -132.7 54.0 -132.0 60.0 -131.0 62.8 -128.0 67.8 -124.2 72.0 -126.0 72.1 -129.0 70.2 -130.0 70.3 -132.0 68.5 -133.0 68.6 -135.0 66.8 -136.3 67.0 -124.3 107.0 -120.6 114.0 -108.9 132.0 -103.9 138.0 -80.0 162.7 -45.0 188.8 -40.0 191.8 -34.0 194.4 -8.0 204.7 1.0 207.7 10.0 208.7 51.0 210.5 95.0 206.3 103.0 204.3 140.0 190.6 146.0 188.0 150.9 185.0 158.5 178.0 178.7 155.0 182.8 149.0 196.2 126.0 199.4 120.0 201.6 114.0 207.1 92.0 208.5 84.0 211.7 46.0 210.4 12.0 209.4 2.0 201.7 -36.0 184.4 -76.0 180.6 -83.0 154.4 -114.0 149.0 -119.4 106.0 -151.5 86.0 -165.5 80.0 -168.7 73.0 -170.6 54.0 -173.6 28.0 -177.4 21.0 -177.6 -28.0 -175.5 -86.8 -165.0 -93.0 -164.8 -95.0 -165.5 -96.6 -167.0 -114.0 -195.5 -115.0 -196.4 -117.0 -197.0 -120.4 -196.0ZM-187.3 -103.0L-186.6 -103.0 -187.3 -103.0ZM-148.4 39.0L-148.0 41.3 -147.6 39.0 -148.4 39.0ZM-147.7 43.0L-146.3 49.0 -145.0 51.6 -144.5 49.0 -145.7 48.0 -145.5 46.0 -146.8 45.0 -146.6 43.0 -147.0 42.6 -147.7 43.0ZM-144.7 52.0L-144.0 52.7 -144.0 51.8 -144.7 52.0ZM-126.0 -13.7L-125.5 -13.0 -126.0 -13.0 -126.0 -13.7ZM-125.0 -12.3L-124.7 -12.0 -125.0 -12.3ZM-122.0 -9.3L-121.7 -9.0 -122.0 -9.3ZM-121.0 -8.5L-120.4 -8.0 -121.0 -8.0 -121.0 -8.5ZM-120.0 -7.7L-119.1 -7.0 -120.0 -7.0 -120.0 -7.7ZM-118.0 -6.2L-117.7 -6.0 -118.0 -6.2ZM-117.0 -5.6L-116.1 -5.0 -117.0 -5.0 -117.0 -5.6ZM-115.0 -4.3L-114.4 -4.0 -115.0 -4.3ZM-113.0 -3.2L-112.6 -3.0 -113.0 -3.2ZM-111.0 -2.2L-110.6 -2.0 -111.0 -2.2ZM-111.0 39.3L-109.1 40.0 -111.0 40.0 -111.0 39.3ZM-124.0 72.2L-123.0 73.0 -124.0 73.0 -124.0 72.2ZM-122.0 73.7L-121.5 74.0 -122.0 73.7ZM-120.0 74.8L-119.7 75.0 -120.0 74.8ZM-118.0 75.8L-117.4 76.0 -118.0 75.8ZM-109.0 78.8L-108.1 79.0 -109.0 78.8Z"/>
<path fill-rule="evenodd" fill="#ffd500" d="M-369.0 -300.0L-101.3 -300.0 -102.1 -297.0 -105.3 -291.0 -105.2 -289.0 -104.0 -288.0 6.0 -258.5 25.1 -252.0 29.8 -249.0 29.8 -248.0 29.0 -247.7 25.0 -247.1 -2.0 -247.6 -24.0 -246.8 -38.0 -245.3 -51.8 -243.0 -86.0 -235.8 -98.0 -232.1 -104.3 -228.0 -111.0 -224.8 -120.0 -219.2 -125.1 -213.0 -131.0 -208.0 -143.0 -195.0 -150.0 -188.9 -159.7 -174.0 -170.2 -155.0 -180.1 -132.0 -181.4 -126.0 -181.3 -123.0 -180.4 -121.0 -176.6 -116.0 -176.7 -113.0 -179.3 -109.0 -185.0 -103.2 -188.7 -103.0 -186.9 -102.0 -185.0 -99.9 -183.0 -99.6 -182.5 -99.0 -173.6 -83.0 -171.5 -77.0 -166.7 -57.0 -165.1 -39.0 -164.9 7.0 -163.5 30.0 -150.9 98.0 -140.7 128.0 -123.5 155.0 -108.8 176.0 -103.5 182.0 -80.2 203.0 -50.0 224.6 -8.0 243.9 1.0 247.4 15.7 250.0 54.0 254.9 61.2 254.0 89.0 248.0 117.0 241.2 124.0 238.0 146.0 226.0 155.0 221.0 160.0 217.5 192.0 185.7 201.0 174.2 220.0 146.5 237.0 109.6 249.0 67.6 254.9 26.0 254.0 -14.9 249.0 -47.9 247.0 -57.0 237.0 -84.8 227.0 -106.0 224.0 -111.3 220.0 -115.4 200.3 -131.0 182.0 -154.7 163.1 -176.0 140.7 -197.0 137.9 -201.0 137.3 -204.0 138.4 -207.0 145.0 -216.7 147.0 -220.5 180.0 -295.3 181.4 -300.0 279.0 -300.0 279.0 329.0 -370.0 329.0 -370.0 -300.0 -369.0 -300.0ZM-143.0 18.6L-142.0 18.4 -140.0 19.4 -133.1 28.0 -135.0 28.1 -142.1 21.0 -142.1 20.0 -143.0 18.6ZM-133.0 28.1L-132.2 29.0 -133.0 29.0 -133.0 28.1ZM-132.0 29.2L-131.2 30.0 -132.0 30.0 -132.0 29.2ZM-131.0 30.2L-130.2 31.0 -131.0 31.0 -131.0 30.2Z"/>
<path fill-rule="evenodd" fill="#ffaa00" d="M-369.0 -300.0L-104.0 -300.0 -104.9 -297.0 -108.7 -290.0 -108.9 -288.0 -107.0 -285.7 -58.7 -271.0 -53.4 -269.0 -47.9 -266.0 -47.8 -265.0 -51.0 -264.3 -71.0 -263.0 -83.0 -261.5 -110.0 -255.9 -114.0 -254.4 -123.1 -248.0 -126.0 -241.0 -131.0 -236.8 -138.3 -229.0 -139.4 -227.0 -141.1 -220.0 -145.3 -215.0 -148.0 -210.0 -151.0 -206.0 -154.1 -200.0 -158.9 -195.0 -160.1 -193.0 -174.0 -156.4 -181.9 -132.0 -183.3 -123.0 -182.3 -120.0 -179.0 -115.0 -179.3 -113.0 -184.0 -106.5 -184.3 -104.0 -185.0 -103.4 -189.4 -103.0 -186.0 -99.0 -185.1 -97.0 -181.4 -64.0 -179.1 -34.0 -182.0 -1.0 -186.0 27.1 -191.2 55.0 -192.0 62.0 -192.7 91.0 -190.3 110.0 -188.3 118.0 -177.6 145.0 -173.9 153.0 -153.3 184.0 -148.0 190.7 -107.7 228.0 -60.0 256.8 -14.0 274.4 0.0 278.9 8.0 279.4 54.0 277.4 94.0 271.5 102.0 269.2 134.0 255.3 171.7 230.0 178.0 224.0 209.7 187.0 227.6 158.0 236.5 142.0 250.8 108.0 260.3 68.0 264.7 43.0 270.2 31.0 273.0 13.5 275.0 4.8 277.0 0.7 279.0 -0.7 279.0 329.0 -370.0 329.0 -370.0 -300.0 -369.0 -300.0Z"/>
<path fill-rule="evenodd" fill="#ff8000" d="M-369.0 -300.0L-106.0 -300.0 -107.0 -297.0 -110.6 -291.0 -111.8 -288.0 -111.9 -285.0 -110.8 -282.0 -111.0 -280.7 -113.0 -279.8 -124.0 -278.2 -136.0 -275.6 -139.0 -274.6 -141.0 -273.0 -146.8 -264.0 -148.1 -254.0 -151.2 -249.0 -153.2 -244.0 -156.0 -239.0 -157.4 -227.0 -160.3 -221.0 -165.5 -205.0 -169.3 -198.0 -181.1 -141.0 -183.4 -133.0 -184.2 -126.0 -184.1 -119.0 -181.4 -114.0 -184.0 -109.4 -184.6 -104.0 -190.0 -103.0 -189.1 -101.0 -189.3 -100.0 -200.5 -58.0 -204.5 -35.0 -208.0 -22.5 -211.0 -14.0 -214.0 -8.6 -226.0 9.3 -235.8 22.0 -239.7 28.0 -242.8 35.0 -246.5 47.0 -248.4 56.0 -250.8 76.0 -251.4 103.0 -250.2 119.0 -249.1 126.0 -238.5 158.0 -233.4 168.0 -218.0 191.0 -191.9 220.0 -163.0 245.9 -136.0 268.5 -107.0 289.3 -87.0 301.4 -73.2 309.0 -69.1 312.0 -67.6 314.0 -67.2 316.0 -69.5 329.0 -370.0 329.0 -370.0 -300.0 -369.0 -300.0ZM274.0 100.6L279.0 100.8 279.0 329.0 117.9 329.0 117.4 326.0 114.0 316.9 110.1 303.0 110.0 301.0 110.9 299.0 113.8 296.0 117.8 293.0 150.0 271.7 170.0 255.9 183.0 243.5 202.0 221.6 220.6 197.0 229.4 183.0 236.7 170.0 249.2 144.0 258.6 127.0 268.0 107.7 271.0 102.9 274.0 100.6Z"/>
<path fill-rule="evenodd" fill="#ff5500" d="M-369.0 -300.0L-108.6 -300.0 -110.0 -296.6 -114.0 -290.7 -117.0 -289.0 -142.0 -293.5 -157.0 -295.2 -164.0 -294.8 -166.0 -293.8 -167.5 -292.0 -170.1 -280.0 -170.6 -266.0 -173.7 -247.0 -174.1 -233.0 -177.0 -210.0 -178.6 -202.0 -180.4 -176.0 -184.4 -136.0 -184.7 -120.0 -183.9 -114.0 -184.8 -104.0 -190.0 -103.6 -190.9 -103.0 -191.0 -100.7 -196.5 -97.0 -211.0 -85.6 -231.0 -71.5 -257.0 -55.3 -277.9 -44.0 -285.8 -37.0 -293.0 -28.8 -302.0 -13.3 -306.0 -1.8 -317.0 36.4 -326.0 79.7 -329.0 99.0 -323.0 123.0 -322.3 135.0 -323.0 141.4 -325.0 144.3 -331.1 148.0 -332.4 150.0 -334.0 155.0 -335.0 155.9 -338.0 156.0 -343.0 153.7 -346.0 153.9 -365.0 163.7 -370.0 165.1 -370.0 -300.0 -369.0 -300.0ZM-200.8 -103.0L-199.0 -101.9 -195.9 -103.0 -200.8 -103.0Z"/>
<path fill="#ff2a00" d="M-356.1 -286.2 -344.8 -286.2 -332.3 -277.4 -319.7 -262.4 -316.0 -244.9 -324.7 -224.8 -339.8 -214.9 -356.1 -209.8Z"/>
<path fill="#ff2a00" d="M-204.1 -286.2 -185.7 -286.2 -185.7 -214.9 -187.7 -219.9 -191.5 -237.4 -201.6 -254.9 -205.3 -269.9Z"/>
<path d="M91.0 -1.6 95.6 -1.5 100.2 -1.1 104.8 -0.2 109.5 1.2 114.0 3.2 118.6 5.8 123.0 9.2 127.2 13.4 131.2 18.6 134.9 24.6 138.2 31.7 140.8 39.9 142.8 49.2M84.7 33.4 88.9 35.2 93.0 37.4 96.9 39.9 100.7 43.0 104.1 46.6 107.3 50.7 110.1 55.6 112.4 61.1 114.1 67.4 115.2 74.4 115.5 82.2 114.8 90.8 113.1 100.1M65.5 63.2 68.7 66.5 71.6 70.1 74.3 74.0 76.6 78.2 78.4 82.9 79.7 87.9 80.4 93.5 80.5 99.5 79.7 105.9 78.0 112.8 75.3 120.1 71.4 127.8 66.2 135.7M36.3 83.5 38.0 87.8 39.3 92.2 40.3 96.8 40.8 101.6 40.7 106.6 40.0 111.7 38.5 117.1 36.3 122.7 33.1 128.3 28.9 134.1 23.5 139.8 17.0 145.4 9.2 150.7M1.6 91.0 1.5 95.6 1.1 100.2 0.2 104.8 -1.2 109.5 -3.2 114.0 -5.8 118.6 -9.2 123.0 -13.4 127.2 -18.6 131.2 -24.6 134.9 -31.7 138.2 -39.9 140.8 -49.2 142.8M-33.4 84.7 -35.2 88.9 -37.4 93.0 -39.9 96.9 -43.0 100.7 -46.6 104.1 -50.7 107.3 -55.6 110.1 -61.1 112.4 -67.4 114.1 -74.4 115.2 -82.2 115.5 -90.8 114.8 -100.1 113.1M-63.2 65.5 -66.5 68.7 -70.1 71.6 -74.0 74.3 -78.2 76.6 -82.9 78.4 -87.9 79.7 -93.5 80.4 -99.5 80.5 -105.9 79.7 -112.8 78.0 -120.1 75.3 -127.8 71.4 -135.7 66.2M-83.5 36.3 -87.8 38.0 -92.2 39.3 -96.8 40.3 -101.6 40.8 -106.6 40.7 -111.7 40.0 -117.1 38.5 -122.7 36.3 -128.3 33.1 -134.1 28.9 -139.8 23.5 -145.4 17.0 -150.7 9.2M-91.0 1.6 -95.6 1.5 -100.2 1.1 -104.8 0.2 -109.5 -1.2 -114.0 -3.2 -118.6 -5.8 -123.0 -9.2 -127.2 -13.4 -131.2 -18.6 -134.9 -24.6 -138.2 -31.7 -140.8 -39.9 -142.8 -49.2M-84.7 -33.4 -88.9 -35.2 -93.0 -37.4 -96.9 -39.9 -100.7 -43.0 -104.1 -46.6 -107.3 -50.7 -110.1 -55.6 -112.4 -61.1 -114.1 -67.4 -115.2 -74.4 -115.5 -82.2 -114.8 -90.8 -113.1 -100.1M-65.5 -63.2 -68.7 -66.5 -71.6 -70.1 -74.3 -74.0 -76.6 -78.2 -78.4 -82.9 -79.7 -87.9 -80.4 -93.5 -80.5 -99.5 -79.7 -105.9 -78.0 -112.8 -75.3 -120.1 -71.4 -127.8 -66.2 -135.7M-36.3 -83.5 -38.0 -87.8 -39.3 -92.2 -40.3 -96.8 -40.8 -101.6 -40.7 -106.6 -40.0 -111.7 -38.5 -117.1 -36.3 -122.7 -33.1 -128.3 -28.9 -134.1 -23.5 -139.8 -17.0 -145.4 -9.2 -150.7M-1.6 -91.0 -1.5 -95.6 -1.1 -100.2 -0.2 -104.8 1.2 -109.5 3.2 -114.0 5.8 -118.6 9.2 -123.0 13.4 -127.2 18.6 -131.2 24.6 -134.9 31.7 -138.2 39.9 -140.8 49.2 -142.8M33.4 -84.7 35.2 -88.9 37.4 -93.0 39.9 -96.9 43.0 -100.7 46.6 -104.1 50.7 -107.3 55.6 -110.1 61.1 -112.4 67.4 -114.1 74.4 -115.2 82.2 -115.5 90.8 -114.8 100.1 -113.1M63.2 -65.5 66.5 -68.7 70.1 -71.6 74.0 -74.3 78.2 -76.6 82.9 -78.4 87.9 -79.7 93.5 -80.4 99.5 -80.5 105.9 -79.7 112.8 -78.0 120.1 -75.3 127.8 -71.4 135.7 -66.2M83.5 -36.3 87.8 -38.0 92.2 -39.3 96.8 -40.3 101.6 -40.8 106.6 -40.7 111.7 -40.0 117.1 -38.5 122.7 -36.3 128.3 -33.1 134.1 -28.9 139.8 -23.5 145.4 -17.0 150.7 -9.2" fill="none" stroke="#fff" stroke-opacity="0.75" stroke-width="1.3"/>
</g>
<circle cx="0" cy="0" r="90.3" fill="#fff"/>
</g>
<rect x="900" y="588.9" width="32.9" height="20.9" fill="#0000ff"/>
<rect x="900" y="568.3" width="32.9" height="20.9" fill="#002cff"/>
<rect x="900" y="547.8" width="32.9" height="20.9" fill="#0059ff"/>
<rect x="900" y="527.2" width="32.9" height="20.9" fill="#0085ff"/>
<rect x="900" y="506.7" width="32.9" height="20.9" fill="#00b1ff"/>
<rect x="900" y="486.2" width="32.9" height="20.9" fill="#00deff"/>
<rect x="900" y="465.6" width="32.9" height="20.9" fill="#00fff4"/>
<rect x="900" y="445.1" width="32.9" height="20.9" fill="#00ffc8"/>
<rect x="900" y="424.5" width="32.9" height="20.9" fill="#00ff9b"/>
<rect x="900" y="404" width="32.9" height="20.9" fill="#00ff6f"/>
<rect x="900" y="383.5" width="32.9" height="20.9" fill="#00ff43"/>
<rect x="900" y="362.9" width="32.9" height="20.9" fill="#00ff16"/>
<rect x="900" y="342.4" width="32.9" height="20.9" fill="#16ff00"/>
<rect x="900" y="321.9" width="32.9" height="20.9" fill="#43ff00"/>
<rect x="900" y="301.3" width="32.9" height="20.9" fill="#6fff00"/>
<rect x="900" y="280.8" width="32.9" height="20.9" fill="#9bff00"/>
<rect x="900" y="260.2" width="32.9" height="20.9" fill="#c8ff00"/>
<rect x="900" y="239.7" width="32.9" height="20.9" fill="#f4ff00"/>
<rect x="900" y="219.2" width="32.9" height="20.9" fill="#ffde00"/>
<rect x="900" y="198.6" width="32.9" height="20.9" fill="#ffb100"/>
<rect x="900" y="178.1" width="32.9" height="20.9" fill="#ff8500"/>
<rect x="900" y="157.5" width="32.9" height="20.9" fill="#ff5900"/>
<rect x="900" y="137" width="32.9" height="20.9" fill="#ff2c00"/>
<path d="M932.9 609.4h6.5M932.9 588.9h4M932.9 568.3h6.5M932.9 547.8h4M932.9 527.2h6.5M932.9 506.7h4M932.9 486.2h6.5M932.9 465.6h4M932.9 445.1h6.5M932.9 424.5h4M932.9 404h6.5M932.9 383.5h4M932.9 362.9h6.5M932.9 342.4h4M932.9 321.9h6.5M932.9 301.3h4M932.9 280.8h6.5M932.9 260.2h4M932.9 239.7h6.5M932.9 219.2h4M932.9 198.6h6.5M932.9 178.1h4M932.9 157.5h6.5M932.9 137h4" stroke="#666" stroke-width="1" fill="none"/>
<rect x="900" y="137" width="32.9" height="472.4" fill="none" stroke="#666" stroke-width="0.6"/>
<text transform="translate(949.6 169.3) scale(0.980 1)" class="lv" style="font-size:26.8px">103795.23</text>
<text transform="translate(949.6 210.4) scale(0.980 1)" class="lv" style="font-size:26.8px">103355.84</text>
<text transform="translate(949.6 251.5) scale(0.980 1)" class="lv" style="font-size:26.8px">102916.46</text>
<text transform="translate(949.6 292.6) scale(0.980 1)" class="lv" style="font-size:26.8px">102477.08</text>
<text transform="translate(949.6 333.7) scale(0.980 1)" class="lv" style="font-size:26.8px">102037.70</text>
<text transform="translate(949.6 374.7) scale(0.980 1)" class="lv" style="font-size:26.8px">101598.31</text>
<text transform="translate(949.6 415.8) scale(0.980 1)" class="lv" style="font-size:26.8px">101158.93</text>
<text transform="translate(949.6 456.9) scale(0.980 1)" class="lv" style="font-size:26.8px">100719.55</text>
<text transform="translate(949.6 498) scale(0.980 1)" class="lv" style="font-size:26.8px">100280.16</text>
<text transform="translate(949.6 539) scale(0.980 1)" class="lv" style="font-size:26.8px">99840.77</text>
<text transform="translate(949.6 580.1) scale(0.980 1)" class="lv" style="font-size:26.8px">99401.39</text>
<text transform="translate(949.6 621.2) scale(0.980 1)" class="lv" style="font-size:26.8px">98962.01</text>
<text transform="translate(899.2 91.1) scale(0.992 1)" class="lv" style="font-size:26.6px">Pressure</text>
<text transform="translate(899.4 115.4) scale(0.985 1)" class="lv" style="font-size:23.7px">Contour 1</text>
<text transform="translate(900.4 653.2) scale(1.026 1)" class="lv" style="font-size:25.5px">[Pa]</text>
<text transform="translate(910.8 51.4) scale(1.008 1)" class="pl" style="font-size:64.9px">(b)</text>
<text x="1346.8" y="99.2" class="tt" style="font-size:46.6px">m=0.265</text>
<text transform="translate(1542.4 99.4) scale(1.184 1)" class="ti" style="font-size:50.4px">m</text>
<text transform="translate(1587.2 79.3) scale(1.114 1)" class="ts" style="font-size:32.4px">3</text>
<text transform="translate(1611.7 108.6) scale(1.082 1)" class="ts" style="font-size:69.9px">/</text>
<text transform="translate(1635.5 98.9) scale(1.162 1)" class="ti" style="font-size:49.4px">s</text>
<g transform="translate(548.4 1058.7) scale(0.972 0.985)">
<clipPath id="clc"><path d="M-183.4 -102.8 -182.8 -102.1 -182.1 -101.4 -181.5 -100.6 -180.9 -99.9 -180.2 -99.3 -179.5 -98.8 -178.7 -98.4 -177.9 -98.0 -177.1 -97.7 -176.2 -97.5 -175.3 -97.5 -174.5 -97.6 -173.7 -97.9 -172.8 -98.4 -172.0 -99.1 -171.2 -99.9 -170.4 -100.7 -169.5 -101.6 -168.7 -102.5 -167.9 -103.4 -167.1 -104.4 -166.3 -105.5 -165.3 -106.9 -164.2 -108.6 -163.0 -110.5 -161.8 -112.7 -160.5 -115.1 -159.0 -117.7 -157.2 -120.7 -155.0 -124.0 -152.3 -127.9 -149.2 -132.5 -145.7 -137.4 -142.2 -142.3 -138.7 -146.9 -135.4 -150.9 -132.5 -154.2 -129.8 -157.0 -127.2 -159.5 -124.5 -162.0 -121.5 -164.6 -118.0 -167.6 -114.0 -171.1 -109.7 -175.0 -105.1 -179.1 -100.3 -183.1 -95.4 -186.9 -90.4 -190.3 -85.3 -193.2 -79.9 -195.9 -74.5 -198.4 -68.9 -200.6 -63.4 -202.8 -57.9 -204.9 -52.5 -207.0 -47.0 -209.0 -41.6 -210.8 -36.2 -212.6 -30.7 -214.1 -25.3 -215.5 -19.9 -216.7 -14.5 -217.6 -9.0 -218.4 -3.6 -219.1 1.8 -219.6 7.2 -219.9 12.6 -220.1 18.1 -220.1 23.5 -220.0 28.9 -219.7 34.4 -219.3 39.8 -218.8 45.2 -218.2 50.6 -217.4 56.0 -216.5 61.5 -215.5 66.9 -214.3 72.3 -213.1 77.7 -211.7 83.2 -210.3 88.6 -208.7 94.0 -207.0 99.5 -205.2 104.9 -203.3 110.4 -201.3 115.9 -199.2 121.4 -197.0 126.8 -194.8 132.2 -192.5 137.5 -190.3 142.6 -188.3 147.7 -186.5 152.6 -184.6 157.5 -182.6 162.4 -180.2 167.4 -177.2 172.5 -173.5 177.7 -169.2 183.0 -164.4 188.1 -159.5 193.1 -154.6 197.7 -149.9 202.0 -145.4 206.1 -140.9 210.0 -136.4 213.7 -131.8 217.2 -127.2 220.5 -122.6 223.5 -118.0 226.1 -113.4 228.6 -108.8 230.9 -104.1 233.3 -99.1 235.7 -93.7 238.3 -87.8 241.0 -81.5 243.7 -74.8 246.3 -68.2 248.7 -61.8 250.9 -55.8 252.8 -50.3 254.6 -45.0 256.1 -40.0 257.5 -35.1 258.8 -30.2 260.0 -25.4 261.1 -20.8 262.0 -16.4 262.8 -12.1 263.5 -7.7 264.0 -2.9 264.5 2.4 264.9 8.4 265.1 14.8 265.3 21.6 265.3 28.6 265.3 35.6 265.2 42.4 265.1 49.1 265.0 55.8 264.8 62.5 264.5 69.2 264.0 75.8 263.2 82.4 262.1 89.0 260.7 95.7 259.2 102.4 257.5 108.8 255.7 114.9 254.0 120.4 252.3 125.2 250.5 129.4 248.7 133.2 246.8 136.8 244.9 140.5 243.1 144.4 241.3 148.5 239.6 152.7 238.0 156.9 236.2 161.2 234.3 165.5 232.1 169.9 229.7 174.4 227.2 178.9 224.4 183.5 221.6 188.2 218.7 192.8 215.6 197.4 212.5 202.0 209.3 206.6 206.0 211.1 202.5 215.7 198.9 220.3 195.0 224.9 190.9 229.5 186.6 234.3 182.1 239.0 177.4 243.6 172.6 248.1 167.5 252.4 162.2 256.5 156.6 260.4 150.8 264.1 144.9 267.7 139.0 271.1 133.2 274.3 127.5 277.3 121.7 280.0 116.0 282.5 110.3 284.9 104.5 287.2 98.8 289.4 93.0 291.5 87.0 293.6 81.0 295.5 75.2 297.3 69.6 299.0 64.5 300.4 59.9 301.5 55.8 302.4 52.0 303.1 48.2 303.8 44.3 304.4 40.2 305.2 35.8 306.1 31.2 307.1 26.5 308.1 21.7 309.1 17.0 310.0 12.3 310.8 7.6 311.5 3.0 312.2 -1.7 312.8 -6.3 313.4 -11.0 313.9 -15.6 314.3 -20.2 314.7 -24.9 315.0 -29.5 315.3 -34.2 315.5 -38.9 315.7 -43.5 315.7 -48.1 315.7 -52.8 315.6 -57.4 315.4 -62.1 315.1 -66.8 314.8 -71.4 314.3 -76.0 313.7 -80.7 313.0 -85.3 312.2 -90.0 311.3 -94.6 310.4 -99.3 309.4 -103.9 308.4 -108.6 307.3 -113.2 306.2 -117.9 305.0 -122.6 303.8 -127.2 302.4 -131.9 301.0 -136.6 299.6 -141.4 298.1 -146.1 296.4 -150.7 294.6 -155.1 292.6 -159.3 290.3 -163.4 287.6 -167.4 284.8 -171.3 281.9 -175.2 279.1 -179.0 276.4 -182.7 274.0 -186.1 271.8 -189.5 269.7 -193.0 267.4 -196.9 264.8 -201.3 261.8 -206.4 258.3 -212.0 254.4 -218.0 250.2 -224.1 245.8 -230.2 241.2 -236.0 236.4 -241.6 231.4 -247.3 226.2 -252.8 220.7 -258.3 215.2 -263.5 209.5 -268.5 203.9 -273.2 198.2 -277.7 192.5 -281.9 186.7 -286.0 180.9 -290.0 175.0 -293.9 169.2 -297.7 163.4 -301.4 157.6 -304.9 151.8 -308.3 146.0 -311.6 140.2 -314.8 134.4 -317.8 128.6 -320.7 122.8 -323.5 117.0 -326.1 111.3 -328.6 105.5 -331.0 99.7 -333.2 93.9 -335.3 88.1 -337.2 82.3 -339.0 76.6 -340.8 70.8 -342.5 65.0 -344.2 59.2 -346.0 53.5 -347.6 47.7 -349.2 42.0 -350.6 36.2 -351.8 30.4 -352.7 24.6 -353.4 18.8 -353.9 12.9 -354.3 7.1 -354.8 1.2 -355.3 -4.6 -356.0 -4.6 -356.0 -286.1 -185.0 -286.1 -185.0 -102.8Z"/></clipPath>
<g clip-path="url(#clc)">
<path d="M-183.4 -102.8 -182.8 -102.1 -182.1 -101.4 -181.5 -100.6 -180.9 -99.9 -180.2 -99.3 -179.5 -98.8 -178.7 -98.4 -177.9 -98.0 -177.1 -97.7 -176.2 -97.5 -175.3 -97.5 -174.5 -97.6 -173.7 -97.9 -172.8 -98.4 -172.0 -99.1 -171.2 -99.9 -170.4 -100.7 -169.5 -101.6 -168.7 -102.5 -167.9 -103.4 -167.1 -104.4 -166.3 -105.5 -165.3 -106.9 -164.2 -108.6 -163.0 -110.5 -161.8 -112.7 -160.5 -115.1 -159.0 -117.7 -157.2 -120.7 -155.0 -124.0 -152.3 -127.9 -149.2 -132.5 -145.7 -137.4 -142.2 -142.3 -138.7 -146.9 -135.4 -150.9 -132.5 -154.2 -129.8 -157.0 -127.2 -159.5 -124.5 -162.0 -121.5 -164.6 -118.0 -167.6 -114.0 -171.1 -109.7 -175.0 -105.1 -179.1 -100.3 -183.1 -95.4 -186.9 -90.4 -190.3 -85.3 -193.2 -79.9 -195.9 -74.5 -198.4 -68.9 -200.6 -63.4 -202.8 -57.9 -204.9 -52.5 -207.0 -47.0 -209.0 -41.6 -210.8 -36.2 -212.6 -30.7 -214.1 -25.3 -215.5 -19.9 -216.7 -14.5 -217.6 -9.0 -218.4 -3.6 -219.1 1.8 -219.6 7.2 -219.9 12.6 -220.1 18.1 -220.1 23.5 -220.0 28.9 -219.7 34.4 -219.3 39.8 -218.8 45.2 -218.2 50.6 -217.4 56.0 -216.5 61.5 -215.5 66.9 -214.3 72.3 -213.1 77.7 -211.7 83.2 -210.3 88.6 -208.7 94.0 -207.0 99.5 -205.2 104.9 -203.3 110.4 -201.3 115.9 -199.2 121.4 -197.0 126.8 -194.8 132.2 -192.5 137.5 -190.3 142.6 -188.3 147.7 -186.5 152.6 -184.6 157.5 -182.6 162.4 -180.2 167.4 -177.2 172.5 -173.5 177.7 -169.2 183.0 -164.4 188.1 -159.5 193.1 -154.6 197.7 -149.9 202.0 -145.4 206.1 -140.9 210.0 -136.4 213.7 -131.8 217.2 -127.2 220.5 -122.6 223.5 -118.0 226.1 -113.4 228.6 -108.8 230.9 -104.1 233.3 -99.1 235.7 -93.7 238.3 -87.8 241.0 -81.5 243.7 -74.8 246.3 -68.2 248.7 -61.8 250.9 -55.8 252.8 -50.3 254.6 -45.0 256.1 -40.0 257.5 -35.1 258.8 -30.2 260.0 -25.4 261.1 -20.8 262.0 -16.4 262.8 -12.1 263.5 -7.7 264.0 -2.9 264.5 2.4 264.9 8.4 265.1 14.8 265.3 21.6 265.3 28.6 265.3 35.6 265.2 42.4 265.1 49.1 265.0 55.8 264.8 62.5 264.5 69.2 264.0 75.8 263.2 82.4 262.1 89.0 260.7 95.7 259.2 102.4 257.5 108.8 255.7 114.9 254.0 120.4 252.3 125.2 250.5 129.4 248.7 133.2 246.8 136.8 244.9 140.5 243.1 144.4 241.3 148.5 239.6 152.7 238.0 156.9 236.2 161.2 234.3 165.5 232.1 169.9 229.7 174.4 227.2 178.9 224.4 183.5 221.6 188.2 218.7 192.8 215.6 197.4 212.5 202.0 209.3 206.6 206.0 211.1 202.5 215.7 198.9 220.3 195.0 224.9 190.9 229.5 186.6 234.3 182.1 239.0 177.4 243.6 172.6 248.1 167.5 252.4 162.2 256.5 156.6 260.4 150.8 264.1 144.9 267.7 139.0 271.1 133.2 274.3 127.5 277.3 121.7 280.0 116.0 282.5 110.3 284.9 104.5 287.2 98.8 289.4 93.0 291.5 87.0 293.6 81.0 295.5 75.2 297.3 69.6 299.0 64.5 300.4 59.9 301.5 55.8 302.4 52.0 303.1 48.2 303.8 44.3 304.4 40.2 305.2 35.8 306.1 31.2 307.1 26.5 308.1 21.7 309.1 17.0 310.0 12.3 310.8 7.6 311.5 3.0 312.2 -1.7 312.8 -6.3 313.4 -11.0 313.9 -15.6 314.3 -20.2 314.7 -24.9 315.0 -29.5 315.3 -34.2 315.5 -38.9 315.7 -43.5 315.7 -48.1 315.7 -52.8 315.6 -57.4 315.4 -62.1 315.1 -66.8 314.8 -71.4 314.3 -76.0 313.7 -80.7 313.0 -85.3 312.2 -90.0 311.3 -94.6 310.4 -99.3 309.4 -103.9 308.4 -108.6 307.3 -113.2 306.2 -117.9 305.0 -122.6 303.8 -127.2 302.4 -131.9 301.0 -136.6 299.6 -141.4 298.1 -146.1 296.4 -150.7 294.6 -155.1 292.6 -159.3 290.3 -163.4 287.6 -167.4 284.8 -171.3 281.9 -175.2 279.1 -179.0 276.4 -182.7 274.0 -186.1 271.8 -189.5 269.7 -193.0 267.4 -196.9 264.8 -201.3 261.8 -206.4 258.3 -212.0 254.4 -218.0 250.2 -224.1 245.8 -230.2 241.2 -236.0 236.4 -241.6 231.4 -247.3 226.2 -252.8 220.7 -258.3 215.2 -263.5 209.5 -268.5 203.9 -273.2 198.2 -277.7 192.5 -281.9 186.7 -286.0 180.9 -290.0 175.0 -293.9 169.2 -297.7 163.4 -301.4 157.6 -304.9 151.8 -308.3 146.0 -311.6 140.2 -314.8 134.4 -317.8 128.6 -320.7 122.8 -323.5 117.0 -326.1 111.3 -328.6 105.5 -331.0 99.7 -333.2 93.9 -335.3 88.1 -337.2 82.3 -339.0 76.6 -340.8 70.8 -342.5 65.0 -344.2 59.2 -346.0 53.5 -347.6 47.7 -349.2 42.0 -350.6 36.2 -351.8 30.4 -352.7 24.6 -353.4 18.8 -353.9 12.9 -354.3 7.1 -354.8 1.2 -355.3 -4.6 -356.0 -4.6 -356.0 -286.1 -185.0 -286.1 -185.0 -102.8Z" fill="#0000ff"/>
<path fill-rule="evenodd" fill="#002aff" d="M-369.0 -300.0L279.0 -300.0 279.0 329.0 -370.0 329.0 -370.0 -300.0 -369.0 -300.0Z"/>
<path fill-rule="evenodd" fill="#0055ff" d="M-369.0 -300.0L279.0 -300.0 279.0 329.0 -370.0 329.0 -370.0 -300.0 -369.0 -300.0Z"/>
<path fill-rule="evenodd" fill="#0080ff" d="M-369.0 -300.0L279.0 -300.0 279.0 329.0 -370.0 329.0 -370.0 -300.0 -369.0 -300.0Z"/>
<path fill-rule="evenodd" fill="#00aaff" d="M-369.0 -300.0L279.0 -300.0 279.0 329.0 -370.0 329.0 -370.0 -300.0 -369.0 -300.0Z"/>
<path fill-rule="evenodd" fill="#00d4ff" d="M-369.0 -300.0L279.0 -300.0 279.0 329.0 -370.0 329.0 -370.0 -300.0 -369.0 -300.0Z"/>
<path fill-rule="evenodd" fill="#00ffff" d="M-369.0 -300.0L279.0 -300.0 279.0 329.0 -370.0 329.0 -370.0 -300.0 -369.0 -300.0Z"/>
<path fill-rule="evenodd" fill="#00ffd4" d="M-369.0 -300.0L279.0 -300.0 279.0 329.0 -370.0 329.0 -370.0 -300.0 -369.0 -300.0ZM85.6 -84.0L79.0 -81.9 70.8 -78.0 63.0 -72.9 57.5 -68.0 56.0 -67.5 53.6 -69.0 51.8 -64.0 55.0 10.0 58.0 52.7 59.0 57.6 61.0 61.3 62.0 62.0 63.0 61.0 64.0 61.0 68.0 64.7 69.5 64.0 70.0 62.0 67.9 58.0 67.7 56.0 70.4 53.0 70.4 52.0 73.3 49.0 73.3 48.0 75.2 46.0 75.2 45.0 76.2 44.0 76.2 43.0 77.2 42.0 77.2 41.0 78.2 40.0 78.2 39.0 79.2 38.0 79.1 37.0 80.1 36.0 80.1 35.0 82.0 32.1 83.0 32.1 84.0 33.1 86.0 33.1 89.0 35.1 90.0 35.1 93.0 37.1 94.0 37.1 96.0 39.1 97.0 39.1 107.0 49.0 107.0 50.0 109.0 52.0 109.0 53.0 110.0 54.0 111.0 57.0 112.0 56.1 113.3 53.0 114.1 49.0 113.4 44.0 111.0 38.6 107.1 33.0 103.0 28.8 97.9 25.0 92.3 22.0 86.0 19.9 85.9 19.0 86.8 18.0 86.5 14.0 87.4 13.0 87.2 1.0 88.2 0.0 87.2 -1.0 88.0 -1.8 100.0 -1.9 101.0 -0.8 105.0 -0.9 106.0 0.1 108.0 0.1 109.0 1.1 111.0 1.1 114.0 3.1 117.0 4.1 119.0 6.1 120.0 6.1 127.0 13.0 127.6 13.0 127.8 8.0 127.0 2.2 125.0 -2.9 123.0 -5.5 115.3 -11.0 106.0 -14.7 96.0 -16.2 87.0 -15.6 86.7 -18.0 85.6 -19.0 85.5 -22.0 84.4 -23.0 84.3 -26.0 83.3 -27.0 83.3 -29.0 81.2 -32.0 81.2 -34.0 80.2 -35.0 83.0 -36.8 85.0 -36.8 88.0 -38.9 90.0 -38.9 91.0 -39.9 95.0 -39.9 96.0 -40.9 111.0 -40.9 112.0 -39.9 115.0 -39.9 116.0 -38.9 118.0 -38.9 119.0 -37.9 121.0 -38.0 122.0 -37.0 123.3 -37.0 121.0 -42.3 118.0 -46.8 115.0 -49.7 111.0 -51.7 106.0 -52.8 100.0 -53.2 94.0 -52.8 88.0 -51.7 82.0 -49.7 76.0 -46.8 75.0 -46.9 73.7 -48.0 73.6 -49.0 70.4 -52.0 70.3 -53.0 67.2 -56.0 67.2 -57.0 61.1 -63.0 61.1 -64.0 67.0 -69.9 68.0 -69.9 71.0 -73.0 72.0 -73.0 74.0 -75.0 77.0 -76.0 82.0 -79.0 84.0 -79.0 85.0 -80.0 89.0 -80.0 90.0 -81.0 96.5 -81.0 93.7 -83.0 91.0 -84.1 85.6 -84.0Z"/>
<path fill-rule="evenodd" fill="#00ffaa" d="M-369.0 -300.0L279.0 -300.0 279.0 329.0 -370.0 329.0 -370.0 -300.0 -369.0 -300.0ZM79.0 -92.0L71.0 -88.7 63.4 -84.0 56.0 -77.8 51.0 -72.0 49.0 -73.6 48.0 -73.5 46.0 -75.3 45.0 -75.3 42.0 -77.1 41.0 -77.1 36.0 -80.0 35.0 -80.0 34.1 -77.0 34.0 -69.0 40.1 15.0 39.7 24.0 36.9 36.0 36.6 41.0 39.3 53.0 39.5 56.0 38.9 58.0 37.2 60.0 23.9 70.0 14.6 78.0 11.4 82.0 10.2 86.0 10.3 87.0 13.0 87.1 14.0 86.1 18.0 86.1 19.0 85.1 22.0 85.1 23.0 84.1 26.0 84.1 27.0 83.1 29.0 83.1 32.0 81.1 34.0 81.1 35.0 80.1 36.9 83.0 36.9 85.0 38.9 88.0 38.9 90.0 39.9 91.0 39.9 95.0 40.9 96.0 41.0 111.0 40.0 112.0 41.0 112.6 44.0 111.9 47.0 108.9 49.5 104.0 51.1 98.0 51.5 93.0 51.0 87.0 49.5 81.0 47.0 75.0 48.0 73.8 49.0 73.7 52.0 70.5 53.0 70.5 56.0 67.3 57.0 67.3 63.0 61.2 64.0 61.2 69.8 67.0 69.8 68.0 72.8 71.0 72.8 72.0 74.8 74.0 75.8 77.0 78.9 82.0 78.9 84.0 79.9 85.0 79.9 89.0 80.9 90.0 81.0 99.5 86.0 94.9 90.1 89.0 92.0 84.2 92.5 80.0 92.0 73.9 90.1 67.0 87.2 61.0 84.0 56.4 79.8 52.0 74.7 48.0 75.8 46.0 75.7 45.0 76.7 44.0 76.6 43.0 77.6 42.0 77.5 41.0 78.5 40.0 78.5 39.0 79.4 38.0 79.4 37.0 80.4 36.0 80.3 35.0 82.0 32.3 83.0 32.3 84.0 33.3 86.0 33.3 89.0 35.3 90.0 35.3 93.0 37.3 94.0 37.3 96.0 39.3 97.0 39.3 106.8 49.0 106.8 50.0 108.8 52.0 109.8 55.0 111.8 58.0 111.8 60.0 114.0 63.0 114.0 64.6 117.0 58.7 119.2 52.0 120.4 45.0 120.2 39.0 118.5 34.0 113.0 26.5 106.0 20.6 97.1 16.0 88.0 13.6 87.4 1.0 88.4 0.0 87.3 -1.0 88.0 -1.7 100.0 -1.7 101.0 -0.7 105.0 -0.7 106.0 0.3 108.0 0.3 109.0 1.3 111.0 1.3 114.0 3.3 117.0 4.3 119.0 6.3 120.0 6.3 131.0 17.0 131.1 18.0 131.6 9.0 130.5 0.0 128.0 -7.7 124.0 -13.8 121.0 -16.2 116.0 -19.0 106.7 -22.0 96.0 -22.8 86.0 -21.4 84.8 -23.0 84.7 -26.0 83.6 -27.0 83.5 -29.0 81.4 -32.0 81.4 -34.0 80.3 -35.0 83.0 -36.7 85.0 -36.7 88.0 -38.7 90.0 -38.7 91.0 -39.7 95.0 -39.7 96.0 -40.7 111.0 -40.7 112.0 -39.7 115.0 -39.7 116.0 -38.7 118.0 -38.7 119.0 -37.7 121.0 -37.8 122.0 -36.8 125.0 -35.9 127.0 -33.9 128.3 -34.0 124.3 -44.0 118.1 -53.0 114.0 -56.8 110.0 -59.1 105.0 -60.3 98.0 -60.6 91.8 -60.0 85.0 -58.2 78.0 -55.2 72.0 -51.5 70.9 -52.0 70.8 -53.0 67.5 -56.0 67.5 -57.0 61.3 -63.0 61.2 -64.0 67.0 -69.8 68.0 -69.8 71.0 -72.8 72.0 -72.8 74.0 -74.8 77.0 -75.8 82.0 -78.8 84.0 -78.8 85.0 -79.8 89.0 -79.8 90.0 -80.8 103.8 -81.0 97.5 -87.0 91.0 -91.1 85.0 -92.8 79.0 -92.0ZM104.0 -80.0L104.6 -80.0 104.0 -80.7 104.0 -80.0Z"/>
<path fill-rule="evenodd" fill="#00ff80" d="M-369.0 -300.0L279.0 -300.0 279.0 329.0 -370.0 329.0 -370.0 -300.0 -369.0 -300.0ZM50.9 -114.0L45.5 -111.0 39.0 -105.4 30.0 -94.6 27.0 -89.9 24.9 -85.0 23.0 -84.4 22.0 -85.1 21.0 -85.0 20.8 -84.0 20.4 -78.0 23.3 -37.0 23.5 -22.0 22.0 -13.0 15.0 10.8 14.4 17.0 16.2 27.0 22.6 46.0 23.0 51.0 21.8 54.0 19.9 56.0 6.2 65.0 -10.8 78.0 -14.7 82.0 -16.5 86.0 -14.0 86.1 -13.0 87.1 -1.0 87.2 0.0 88.2 1.0 87.2 1.8 88.0 1.9 100.0 0.9 101.0 0.9 105.0 -0.1 106.0 -0.1 108.0 -1.1 109.0 -1.1 111.0 -2.1 112.0 -2.1 113.0 -3.1 114.0 -4.0 117.0 -6.0 119.0 -6.7 121.0 -5.0 122.9 -3.0 123.7 2.0 123.4 6.0 121.5 10.0 118.0 14.4 112.0 17.2 106.0 18.8 100.0 19.4 94.0 19.0 86.0 22.0 85.7 23.0 84.7 26.0 84.5 27.0 83.5 29.0 83.4 32.0 81.4 34.0 81.3 35.0 80.3 36.7 83.0 36.7 85.0 38.7 88.0 38.7 90.0 39.7 91.0 39.7 95.0 40.7 96.0 40.8 111.0 39.8 112.0 39.8 115.0 38.8 116.0 38.8 118.0 37.8 119.0 37.9 121.0 35.9 124.0 36.0 125.6 45.7 122.0 54.3 116.0 57.9 112.0 60.0 108.0 61.4 102.0 61.8 95.0 61.2 89.0 59.6 83.0 57.0 77.0 53.3 71.0 56.0 67.7 57.0 67.7 63.0 61.4 64.0 61.4 69.6 67.0 69.6 68.0 72.6 71.0 72.6 72.0 74.6 74.0 75.6 77.0 78.7 82.0 78.7 84.0 79.7 85.0 79.7 89.0 80.7 90.0 80.9 103.0 79.9 104.0 80.0 106.0 87.0 99.9 92.5 93.0 96.6 86.0 99.0 79.5 99.5 74.0 97.4 65.0 92.6 56.0 86.3 49.0 77.9 43.0 77.9 41.0 78.8 40.0 78.7 39.0 79.7 38.0 79.6 37.0 80.6 36.0 80.6 35.0 82.0 32.5 83.0 32.5 84.0 33.5 86.0 33.5 89.0 35.5 90.0 35.5 93.0 37.5 94.0 37.5 96.0 39.5 97.0 39.4 106.6 49.0 106.6 50.0 108.6 52.0 109.6 55.0 111.6 58.0 111.7 60.0 113.8 63.0 113.8 66.0 114.9 67.0 115.0 69.8 120.0 59.9 123.0 48.3 123.7 38.0 123.1 33.0 122.0 29.4 120.0 25.8 116.8 22.0 112.3 18.0 108.0 15.1 98.9 11.0 88.0 8.8 87.6 1.0 88.5 0.0 87.5 -1.0 88.0 -1.5 100.0 -1.5 101.0 -0.5 105.0 -0.5 106.0 0.5 108.0 0.5 109.0 1.5 111.0 1.5 114.0 3.5 117.0 4.4 119.0 6.4 120.0 6.4 130.8 17.0 130.8 18.0 132.9 20.0 132.9 21.0 134.0 21.2 134.6 10.0 133.2 0.0 130.0 -10.5 128.0 -14.6 125.0 -19.0 122.0 -21.7 118.0 -24.0 112.9 -26.0 107.0 -27.4 96.0 -27.9 85.0 -25.8 83.9 -27.0 83.8 -29.0 81.6 -32.0 81.5 -34.0 80.5 -35.0 82.0 -35.5 83.0 -36.5 85.0 -36.5 88.0 -38.5 90.0 -38.5 91.0 -39.5 95.0 -39.5 96.0 -40.5 111.0 -40.6 112.0 -39.5 115.0 -39.6 116.0 -38.6 118.0 -38.6 119.0 -37.6 121.0 -37.6 122.0 -36.6 125.0 -35.7 127.0 -33.8 128.0 -33.8 130.0 -31.9 131.0 -31.9 132.4 -31.0 130.2 -38.0 127.5 -44.0 120.0 -55.0 115.1 -60.0 111.0 -63.1 107.0 -65.1 103.0 -66.0 94.0 -65.9 85.1 -64.0 77.0 -60.4 69.0 -55.1 67.9 -56.0 67.8 -57.0 61.4 -63.0 61.4 -64.0 67.0 -69.6 68.0 -69.6 71.0 -72.6 72.0 -72.6 74.0 -74.6 77.0 -75.6 78.0 -76.6 81.0 -77.6 82.0 -78.6 84.0 -78.6 85.0 -79.6 89.0 -79.6 90.0 -80.6 103.0 -80.8 104.0 -79.8 109.1 -80.0 105.0 -84.6 98.8 -90.0 92.0 -94.2 85.0 -96.9 79.0 -97.7 75.1 -97.0 71.0 -95.5 61.2 -90.0 53.0 -83.0 47.0 -75.5 45.0 -75.8 42.0 -77.5 41.0 -77.5 40.0 -78.4 39.0 -78.4 38.0 -79.3 37.0 -79.3 36.0 -80.3 35.0 -80.2 32.2 -82.0 32.2 -83.0 33.2 -84.0 33.1 -86.0 35.1 -89.0 35.1 -90.0 36.1 -91.0 37.1 -94.0 39.1 -96.0 39.1 -97.0 49.0 -106.9 50.0 -106.9 52.0 -108.9 55.0 -109.9 58.0 -111.9 60.0 -111.9 61.0 -113.0 62.0 -113.0 62.0 -113.5 57.0 -114.5 50.9 -114.0Z"/>
<path fill-rule="evenodd" fill="#00ff55" d="M-369.0 -300.0L279.0 -300.0 279.0 329.0 -370.0 329.0 -370.0 -300.0 -369.0 -300.0ZM45.2 -119.0L42.0 -117.9 38.9 -116.0 29.8 -107.0 23.0 -97.0 20.0 -91.0 18.7 -87.0 14.0 -86.4 13.0 -87.3 7.1 -87.0 7.1 -68.0 6.2 -59.0 -5.9 -18.0 -7.7 -8.0 -7.1 -1.0 -4.9 8.0 -0.0 23.0 6.0 39.0 6.3 44.0 5.1 49.0 3.8 51.0 1.5 53.0 -13.8 62.0 -30.3 74.0 -33.6 77.0 -35.5 80.0 -34.0 81.0 -33.0 81.0 -32.1 82.0 -32.1 83.0 -33.1 84.0 -33.1 86.0 -34.0 87.0 -34.0 88.0 -35.9 91.0 -35.4 93.0 -33.0 96.9 -30.0 98.5 -26.0 98.3 -21.6 96.0 -18.0 91.9 -16.1 87.0 -14.0 86.9 -13.0 87.8 -1.0 87.4 0.0 88.4 1.0 87.4 1.6 88.0 1.6 100.0 0.6 101.0 0.7 105.0 -0.3 106.0 -0.3 108.0 -1.3 109.0 -1.3 111.0 -3.3 114.0 -4.3 117.0 -6.2 119.0 -6.2 120.0 -15.0 129.0 -12.7 130.0 -4.0 131.0 4.0 130.0 12.2 127.0 17.7 123.0 20.2 120.0 23.1 115.0 25.1 110.0 26.4 105.0 27.1 95.0 25.4 85.0 27.0 83.9 29.0 83.8 32.0 81.6 34.0 81.6 35.0 80.5 35.5 82.0 36.5 83.0 36.5 85.0 38.5 88.0 38.5 90.0 39.5 91.0 39.5 95.0 40.5 96.0 40.6 111.0 39.6 112.0 39.6 115.0 38.6 116.0 38.6 118.0 37.6 119.0 37.7 121.0 36.7 122.0 35.8 125.0 33.8 127.0 33.9 128.0 31.9 130.0 32.0 131.1 40.0 128.6 46.0 125.9 52.0 122.3 58.0 117.5 62.5 113.0 65.4 109.0 67.2 105.0 68.2 100.0 68.0 91.0 66.2 83.0 62.6 75.0 57.7 68.0 57.9 67.0 63.0 61.6 64.0 61.6 69.4 67.0 69.4 68.0 72.4 71.0 72.4 72.0 74.5 74.0 74.4 75.0 76.5 78.0 76.5 79.0 78.5 82.0 78.5 84.0 79.5 85.0 79.5 89.0 80.5 90.0 80.7 103.0 79.7 104.0 79.9 109.0 78.9 110.0 79.0 111.3 87.7 104.0 94.8 95.0 100.0 85.7 103.2 77.0 104.0 69.8 103.4 66.0 101.7 61.0 96.3 52.0 89.4 45.0 80.0 39.0 79.9 37.0 80.8 36.0 80.8 35.0 81.7 34.0 82.0 32.7 83.0 32.7 84.0 33.7 86.0 33.7 89.0 35.7 90.0 35.6 93.0 37.6 94.0 37.6 96.0 39.6 97.0 39.6 106.4 49.0 106.4 50.0 108.4 52.0 109.4 55.0 111.5 58.0 111.5 60.0 113.6 63.0 113.6 66.0 114.7 67.0 114.9 72.0 115.9 73.0 116.0 74.5 119.3 69.0 122.0 63.0 125.3 51.0 126.0 45.0 126.2 36.0 125.5 30.0 124.1 25.0 122.0 21.1 119.0 17.6 114.8 14.0 110.0 10.8 100.0 6.7 88.0 4.9 87.8 1.0 88.7 0.0 87.7 -1.0 88.0 -1.3 100.0 -1.4 101.0 -0.3 105.0 -0.4 106.0 0.7 108.0 0.6 109.0 1.7 111.0 1.6 114.0 3.6 117.0 4.6 119.0 6.6 120.0 6.6 130.6 17.0 130.6 18.0 132.7 20.0 132.7 21.0 134.9 23.0 134.9 24.0 136.0 25.0 136.0 26.0 136.4 26.0 137.5 13.0 136.0 0.0 134.0 -6.8 131.0 -14.1 128.0 -19.8 125.0 -23.8 122.0 -26.5 118.0 -28.8 113.0 -30.7 107.0 -32.0 96.0 -32.2 90.0 -31.2 84.0 -29.5 82.9 -30.0 82.9 -31.0 81.8 -32.0 81.7 -34.0 80.7 -35.0 82.0 -35.3 83.0 -36.3 85.0 -36.3 88.0 -38.4 90.0 -38.3 91.0 -39.4 95.0 -39.3 96.0 -40.4 111.0 -40.4 112.0 -39.4 115.0 -39.4 116.0 -38.4 118.0 -38.4 119.0 -37.4 121.0 -37.4 124.0 -35.5 125.0 -35.5 127.0 -33.6 128.0 -33.6 130.0 -31.7 131.0 -31.8 134.0 -28.9 135.0 -28.9 136.4 -28.0 134.1 -36.0 131.2 -43.0 127.8 -49.0 123.4 -55.0 116.6 -62.0 111.0 -66.5 106.0 -69.3 101.0 -70.6 92.0 -70.4 83.0 -68.2 75.0 -64.3 67.0 -58.5 61.6 -63.0 61.6 -64.0 67.0 -69.4 68.0 -69.4 71.0 -72.4 72.0 -72.4 74.0 -74.4 75.0 -74.4 78.0 -76.4 79.0 -76.4 82.0 -78.4 84.0 -78.4 85.0 -79.4 89.0 -79.4 90.0 -80.5 103.0 -80.6 104.0 -79.6 109.0 -79.8 110.0 -78.8 112.0 -78.9 113.0 -77.9 114.8 -78.0 106.9 -87.0 98.0 -94.0 93.0 -96.8 87.0 -99.2 81.0 -100.9 77.0 -101.5 73.0 -101.2 69.0 -100.0 63.0 -97.1 58.1 -94.0 49.3 -86.0 43.0 -77.4 41.0 -77.8 40.0 -78.7 39.0 -78.7 38.0 -79.6 37.0 -79.6 34.0 -81.4 33.0 -81.4 32.4 -82.0 32.4 -83.0 33.4 -84.0 33.3 -86.0 35.3 -89.0 35.3 -90.0 37.3 -93.0 37.3 -94.0 39.3 -96.0 39.3 -97.0 49.0 -106.7 50.0 -106.7 52.0 -108.7 55.0 -109.7 58.0 -111.7 60.0 -111.7 63.0 -113.8 66.0 -113.9 67.0 -114.9 70.5 -115.0 64.0 -117.3 56.0 -119.2 50.0 -119.6 45.2 -119.0Z"/>
<path fill-rule="evenodd" fill="#00ff2b" d="M-369.0 -300.0L279.0 -300.0 279.0 329.0 -370.0 329.0 -370.0 -300.0 -369.0 -300.0ZM39.5 -122.0L36.0 -120.7 32.0 -118.1 24.0 -109.7 17.3 -99.0 14.8 -93.0 13.5 -88.0 1.0 -87.2 0.0 -88.2 -1.0 -87.1 -1.9 -88.0 -2.0 -100.0 -1.0 -101.0 -1.0 -105.7 -5.0 -100.2 -8.0 -95.0 -9.1 -92.0 -9.5 -88.0 -13.0 -87.2 -14.0 -86.2 -16.6 -86.0 -16.8 -81.0 -17.6 -77.0 -28.5 -40.0 -29.8 -30.0 -28.3 -20.0 -20.8 5.0 -10.9 31.0 -10.3 34.0 -10.5 37.0 -12.0 44.4 -14.3 48.0 -18.7 51.0 -38.1 62.0 -45.9 68.0 -49.4 72.0 -49.1 73.0 -48.0 73.1 -46.0 75.2 -45.0 75.3 -42.0 77.3 -41.0 77.3 -40.0 78.3 -39.0 78.3 -38.0 79.3 -37.0 79.3 -36.0 80.3 -35.0 80.3 -34.0 81.3 -33.0 81.3 -32.3 82.0 -32.3 83.0 -33.3 84.0 -33.3 86.0 -35.3 89.0 -35.3 90.0 -36.3 91.0 -37.2 94.0 -39.2 96.0 -39.2 97.0 -49.0 107.0 -49.9 107.0 -48.9 110.0 -47.6 112.0 -45.3 114.0 -43.0 115.1 -39.0 116.0 -35.0 116.1 -27.0 114.4 -19.0 110.0 -13.1 104.0 -9.0 96.1 -7.3 88.0 -1.0 87.7 0.0 88.7 1.0 87.6 1.4 88.0 1.4 100.0 0.4 101.0 0.4 105.0 -0.6 106.0 -0.6 108.0 -1.6 109.0 -1.5 111.0 -3.5 114.0 -4.5 117.0 -6.5 119.0 -6.5 120.0 -17.0 130.9 -18.0 130.9 -20.0 133.0 -20.8 133.0 -17.0 134.0 -5.0 135.1 4.0 133.8 16.6 129.0 21.6 126.0 25.1 123.0 27.9 119.0 30.0 114.7 31.9 109.0 32.8 104.0 32.7 94.0 30.0 83.0 31.0 82.9 32.0 81.9 34.0 81.8 35.0 80.7 35.3 82.0 36.3 83.0 36.3 85.0 38.3 88.0 38.3 90.0 39.3 91.0 39.3 95.0 40.3 96.0 40.4 111.0 39.3 112.0 39.4 115.0 38.4 116.0 38.4 118.0 37.4 119.0 37.4 121.0 36.4 122.0 35.5 125.0 33.6 127.0 33.7 128.0 31.7 130.0 31.8 131.0 28.9 134.0 29.0 135.9 36.0 134.0 45.0 130.3 52.0 126.3 58.0 121.6 65.4 114.0 69.3 109.0 72.0 104.0 73.3 98.0 73.0 89.6 70.8 81.0 66.9 73.0 60.8 65.0 60.9 64.0 63.0 61.8 64.0 61.8 69.2 67.0 69.2 68.0 72.3 71.0 72.2 72.0 74.3 74.0 74.2 75.0 76.3 78.0 76.3 79.0 78.3 82.0 78.3 84.0 79.3 85.0 79.3 89.0 80.3 90.0 80.5 103.0 79.5 104.0 79.7 109.0 78.7 110.0 78.8 112.0 77.8 113.0 77.9 115.0 76.9 116.0 77.0 117.2 83.0 112.8 89.0 107.3 96.4 98.0 102.0 88.0 106.2 76.0 107.2 71.0 107.4 66.0 106.7 62.0 105.2 58.0 100.0 49.4 96.1 45.0 92.0 41.6 86.5 38.0 81.0 35.3 82.0 32.9 83.0 32.8 84.0 33.9 86.0 33.8 89.0 35.8 90.0 35.8 93.0 37.8 94.0 37.8 96.0 39.8 97.0 39.8 106.2 49.0 106.2 50.0 108.2 52.0 109.2 55.0 111.3 58.0 111.3 60.0 113.4 63.0 113.4 66.0 114.5 67.0 114.6 72.0 115.7 73.0 116.0 80.6 120.2 74.0 123.6 67.0 126.4 59.0 127.9 52.0 128.7 45.0 128.7 39.0 127.7 29.0 126.1 22.0 124.1 18.0 122.0 15.2 118.0 11.4 113.2 8.0 107.2 5.0 101.0 3.0 95.0 1.9 88.0 1.5 88.9 0.0 88.0 -1.1 100.0 -1.2 101.0 -0.2 105.0 -0.2 106.0 0.8 108.0 0.8 109.0 1.8 111.0 1.8 114.0 3.8 117.0 4.8 119.0 6.8 120.0 6.8 130.4 17.0 130.4 18.0 134.7 23.0 135.7 26.0 137.9 29.0 137.9 31.0 138.7 31.0 140.0 23.0 140.4 16.0 140.0 8.0 138.7 0.0 136.7 -7.0 134.2 -13.0 129.0 -22.4 125.0 -27.9 122.0 -30.6 118.0 -33.0 108.0 -35.9 102.0 -36.4 95.0 -35.9 89.0 -34.7 82.0 -32.3 81.9 -34.0 80.8 -35.0 82.0 -35.1 83.0 -36.2 85.0 -36.1 88.0 -38.2 90.0 -38.2 91.0 -39.2 95.0 -39.2 96.0 -40.2 111.0 -40.2 112.0 -39.2 115.0 -39.2 116.0 -38.2 118.0 -38.2 119.0 -37.2 121.0 -37.3 124.0 -35.3 125.0 -35.4 127.0 -33.4 128.0 -33.5 130.0 -31.5 131.0 -31.6 134.0 -28.7 135.0 -28.7 140.0 -24.0 140.5 -24.0 138.6 -32.0 135.3 -41.0 131.0 -49.0 126.0 -56.0 120.0 -62.2 110.0 -70.0 104.0 -73.3 99.0 -74.6 92.0 -74.5 84.0 -72.8 74.0 -68.3 64.6 -61.0 61.8 -63.0 61.8 -64.0 67.0 -69.2 68.0 -69.2 71.0 -72.2 72.0 -72.2 74.0 -74.3 75.0 -74.2 78.0 -76.3 79.0 -76.2 82.0 -78.3 84.0 -78.2 85.0 -79.3 89.0 -79.2 90.0 -80.3 103.0 -80.4 104.0 -79.4 109.0 -79.6 110.0 -78.6 112.0 -78.7 113.0 -77.7 115.0 -77.8 116.0 -76.8 118.0 -76.9 119.0 -75.9 120.3 -76.0 115.7 -82.0 111.0 -87.2 105.7 -92.0 100.0 -96.1 94.8 -99.0 89.0 -101.2 80.0 -103.8 74.0 -104.6 70.0 -104.4 65.2 -103.0 60.0 -100.4 54.7 -97.0 46.0 -88.9 42.3 -84.0 39.4 -79.0 38.0 -79.9 37.0 -79.8 36.0 -80.7 35.0 -80.7 34.0 -81.6 33.0 -81.6 32.6 -83.0 33.6 -84.0 33.5 -86.0 35.6 -89.0 35.5 -90.0 37.5 -93.0 37.5 -94.0 39.5 -96.0 39.5 -97.0 49.0 -106.5 50.0 -106.5 52.0 -108.5 55.0 -109.5 58.0 -111.6 60.0 -111.5 63.0 -113.6 66.0 -113.7 67.0 -114.7 72.0 -114.8 73.0 -115.9 77.0 -116.0 69.0 -119.5 57.0 -122.5 48.0 -123.0 39.5 -122.0ZM-0.7 -106.0L0.0 -106.0 0.0 -107.0 -0.7 -106.0ZM28.0 136.0L28.5 136.0 28.0 136.0Z"/>
<path fill-rule="evenodd" fill="#00ff00" d="M-369.0 -300.0L279.0 -300.0 279.0 329.0 -370.0 329.0 -370.0 -300.0 -369.0 -300.0ZM14.9 -132.0L7.3 -130.0 0.7 -127.0 -3.9 -123.0 -8.7 -117.0 -13.2 -110.0 -16.7 -102.0 -18.6 -94.0 -19.0 -85.9 -22.0 -85.6 -23.0 -84.5 -26.0 -84.4 -27.0 -83.3 -29.0 -83.3 -32.0 -81.2 -34.0 -81.1 -35.0 -80.1 -36.9 -83.0 -36.9 -85.0 -38.9 -88.0 -39.0 -90.0 -40.0 -91.0 -40.0 -94.3 -42.5 -90.0 -44.0 -85.0 -44.2 -81.0 -43.2 -77.0 -44.0 -76.8 -45.0 -75.5 -46.0 -75.4 -48.0 -73.2 -49.0 -73.1 -51.6 -70.0 -50.9 -65.0 -51.8 -52.0 -49.6 -40.0 -44.5 -22.0 -37.4 -1.0 -27.7 23.0 -27.0 28.0 -29.2 40.0 -31.0 43.4 -35.6 47.0 -54.3 57.0 -59.0 60.1 -61.1 62.0 -61.0 64.0 -64.5 68.0 -65.0 72.0 -64.7 75.0 -63.3 78.0 -61.0 80.0 -58.7 81.0 -55.0 81.6 -51.0 80.9 -47.5 79.0 -45.0 76.3 -32.6 82.0 -32.6 83.0 -33.6 84.0 -33.5 86.0 -35.5 89.0 -35.5 90.0 -37.5 93.0 -37.5 94.0 -39.4 96.0 -39.4 97.0 -49.0 106.7 -50.0 106.7 -52.0 108.8 -55.0 109.8 -58.0 111.9 -60.0 111.9 -61.0 113.0 -62.0 113.0 -60.7 115.0 -57.0 118.0 -53.0 120.2 -47.4 122.0 -38.0 123.6 -30.0 123.4 -23.0 121.5 -16.6 118.0 -11.0 113.1 -7.0 107.8 -4.6 103.0 -3.0 98.2 -1.7 88.0 -1.0 88.0 0.0 88.9 1.1 88.0 1.2 100.0 0.2 101.0 0.2 105.0 -0.8 106.0 -0.8 108.0 -1.8 109.0 -1.8 111.0 -3.8 114.0 -4.7 117.0 -6.7 119.0 -6.7 120.0 -17.0 130.6 -18.0 130.6 -23.0 134.9 -26.1 136.0 -26.0 137.0 -15.0 138.9 -3.0 138.9 8.0 136.3 23.0 128.9 27.2 126.0 31.4 122.0 33.9 118.0 35.6 114.0 37.8 104.0 37.9 99.0 37.3 93.0 34.0 82.0 35.0 80.9 35.0 82.0 36.1 83.0 36.0 85.0 38.1 88.0 38.1 90.0 39.1 91.0 39.1 95.0 40.1 96.0 40.2 111.0 39.1 112.0 39.2 115.0 38.1 116.0 38.2 118.0 37.2 119.0 37.2 121.0 36.2 122.0 35.3 125.0 33.4 127.0 33.4 128.0 31.5 130.0 31.5 131.0 28.6 134.0 28.7 135.0 23.0 141.2 30.0 139.8 37.0 137.6 45.0 134.2 52.0 130.2 58.0 125.8 63.0 121.1 73.1 108.0 75.9 103.0 77.2 99.0 77.7 95.0 77.4 90.0 76.4 84.0 74.7 79.0 72.4 74.0 69.2 69.0 70.0 69.0 72.1 71.0 72.0 72.0 74.1 74.0 74.0 75.0 76.1 78.0 76.1 79.0 78.1 82.0 78.1 84.0 79.1 85.0 79.1 89.0 80.1 90.0 80.3 103.0 79.3 104.0 79.5 109.0 78.5 110.0 78.6 112.0 77.5 113.0 77.6 115.0 76.6 116.0 76.8 118.0 75.8 119.0 75.8 120.0 74.8 121.0 74.9 122.0 73.9 123.0 74.0 123.7 84.0 116.6 93.0 107.8 99.5 99.0 104.3 90.0 107.0 82.5 109.8 70.0 110.3 64.0 109.6 59.0 107.1 53.0 103.2 47.0 104.0 47.0 106.1 49.0 106.0 50.0 108.1 52.0 109.0 55.0 111.1 58.0 111.1 60.0 113.2 63.0 113.2 66.0 114.3 67.0 114.4 72.0 115.5 73.0 116.0 87.0 117.5 85.0 123.5 75.0 127.7 65.0 130.5 54.0 131.5 43.0 130.6 33.0 128.7 23.0 127.1 18.0 124.0 12.4 118.1 7.0 120.0 6.9 130.3 17.0 130.2 18.0 134.5 23.0 135.5 26.0 137.7 29.0 137.7 31.0 139.9 34.0 139.9 36.0 141.0 37.4 142.6 30.0 143.3 23.0 143.0 9.0 140.2 -5.0 138.0 -11.0 135.0 -17.0 126.0 -30.2 120.0 -35.5 116.0 -37.4 110.0 -39.1 103.0 -39.9 96.0 -39.5 96.0 -40.0 111.0 -40.1 112.0 -39.0 115.0 -39.1 116.0 -38.0 118.0 -38.1 119.0 -37.0 121.0 -37.1 124.0 -35.1 125.0 -35.2 127.0 -33.2 128.0 -33.3 130.0 -31.3 131.0 -31.4 134.0 -28.4 135.0 -28.5 142.9 -21.0 143.0 -19.9 144.0 -18.9 144.9 -19.0 143.3 -27.0 141.3 -34.0 138.5 -41.0 134.9 -48.0 130.3 -55.0 126.1 -60.0 121.0 -64.9 116.0 -68.6 104.0 -76.0 99.0 -77.8 95.0 -78.2 88.0 -77.6 81.8 -76.0 75.1 -73.0 69.0 -69.0 69.0 -70.0 70.9 -72.0 72.0 -72.0 74.0 -74.1 75.0 -74.0 78.0 -76.1 79.0 -76.1 82.0 -78.1 84.0 -78.1 85.0 -79.1 89.0 -79.1 90.0 -80.1 103.0 -80.3 104.0 -79.2 109.0 -79.4 110.0 -78.4 112.0 -78.5 113.0 -77.5 115.0 -77.6 116.0 -76.6 118.0 -76.7 119.0 -75.7 120.0 -75.7 121.0 -74.7 122.0 -74.8 125.0 -72.9 126.3 -73.0 120.6 -81.0 114.4 -88.0 107.0 -94.7 100.0 -99.5 93.0 -102.8 84.0 -105.4 72.0 -107.4 65.0 -106.8 56.5 -103.0 48.2 -97.0 41.0 -89.0 36.4 -81.0 35.0 -80.9 34.0 -81.8 32.8 -82.0 32.8 -83.0 33.8 -84.0 33.7 -86.0 35.8 -89.0 35.7 -90.0 37.7 -93.0 37.7 -94.0 39.7 -96.0 39.7 -97.0 49.0 -106.3 50.0 -106.3 52.0 -108.3 55.0 -109.3 58.0 -111.4 60.0 -111.3 63.0 -113.5 66.0 -113.5 67.0 -114.6 72.0 -114.6 73.0 -115.7 84.3 -116.0 77.0 -120.0 66.0 -123.9 55.0 -126.1 40.0 -125.4 32.0 -123.5 29.0 -122.0 25.0 -118.8 20.5 -114.0 16.8 -109.0 11.3 -98.0 8.8 -88.0 1.0 -87.5 0.0 -88.4 -1.0 -87.4 -1.6 -88.0 -1.7 -100.0 -0.7 -101.0 -0.7 -105.0 0.3 -106.0 0.2 -108.0 1.3 -109.0 1.2 -111.0 3.2 -114.0 4.2 -117.0 6.2 -119.0 6.2 -120.0 17.0 -130.9 18.0 -130.9 19.0 -132.6 14.9 -132.0ZM67.0 -69.1L68.9 -69.0 62.0 -63.0 61.9 -64.0 67.0 -69.1ZM91.0 -39.0L93.1 -39.0 91.0 -38.5 91.0 -39.0ZM88.0 -38.0L89.0 -38.0 88.0 -38.0ZM98.0 -1.0L100.0 -0.7 98.0 -1.0ZM104.0 -0.0L105.0 -0.0 105.0 0.5 103.1 0.0 104.0 -0.0ZM107.0 1.0L108.0 1.0 108.0 1.5 106.5 1.0 107.0 1.0ZM110.0 2.0L111.0 2.0 111.0 2.8 109.2 2.0 110.0 2.0ZM112.0 3.0L113.0 3.0 113.0 3.8 111.5 3.0 112.0 3.0ZM114.0 4.0L115.0 4.0 115.0 4.9 113.4 4.0 114.0 4.0ZM116.0 5.0L117.0 4.9 118.0 6.0 118.0 6.9 115.1 5.0 116.0 5.0ZM94.0 38.0L94.0 38.4 93.5 38.0 94.0 38.0ZM97.0 40.0L97.0 40.6 96.2 40.0 97.0 40.0ZM98.0 41.0L98.0 41.5 97.4 41.0 98.0 41.0ZM99.0 42.0L99.0 42.4 98.6 42.0 99.0 42.0ZM100.0 43.0L100.0 43.4 99.6 43.0 100.0 43.0ZM101.0 44.0L101.0 44.4 100.6 44.0 101.0 44.0ZM102.0 45.0L102.0 45.6 101.5 45.0 102.0 45.0ZM103.0 46.0L103.0 46.8 102.4 46.0 103.0 46.0ZM64.0 62.0L64.0 63.0 63.0 62.0 64.0 62.0ZM65.0 63.0L69.1 67.0 69.0 68.8 64.0 63.0 65.0 63.0Z"/>
<path fill-rule="evenodd" fill="#2aff00" d="M-369.0 -300.0L279.0 -300.0 279.0 329.0 -370.0 329.0 -370.0 -300.0 -369.0 -300.0ZM16.6 -137.0L7.0 -134.8 -1.0 -132.0 -8.7 -128.0 -13.6 -124.0 -19.7 -115.0 -23.7 -105.0 -25.6 -94.0 -25.5 -89.0 -24.9 -85.0 -26.0 -84.9 -27.0 -83.8 -29.0 -83.7 -32.0 -81.5 -34.0 -81.4 -35.0 -80.4 -36.6 -83.0 -36.6 -85.0 -38.7 -88.0 -38.7 -90.0 -39.7 -91.0 -39.7 -95.0 -40.7 -96.0 -40.9 -111.0 -39.9 -112.0 -39.9 -115.0 -38.9 -116.0 -38.9 -118.0 -37.9 -119.0 -37.9 -121.0 -36.9 -122.0 -37.0 -124.0 -40.0 -122.0 -44.5 -118.0 -48.0 -113.2 -51.0 -107.0 -53.6 -99.0 -54.8 -92.0 -54.9 -85.0 -54.0 -78.0 -51.7 -72.0 -51.9 -71.0 -53.0 -70.8 -56.0 -67.5 -57.0 -67.5 -63.0 -61.2 -64.0 -61.2 -69.9 -67.0 -69.9 -68.0 -73.0 -71.0 -73.0 -72.0 -74.0 -73.0 -74.8 -73.0 -74.9 -68.0 -73.9 -63.0 -72.0 -58.0 -69.8 -55.0 -70.4 -51.0 -67.0 -45.5 -53.9 -7.0 -44.6 15.0 -43.6 20.0 -46.5 36.0 -48.0 39.2 -52.0 42.6 -65.0 49.8 -69.7 53.0 -67.2 56.0 -67.2 57.0 -61.3 63.0 -61.3 64.0 -67.0 69.8 -68.0 69.8 -71.0 72.8 -72.0 72.8 -74.0 74.9 -75.0 74.9 -76.0 75.9 -77.0 75.9 -78.0 76.9 -81.0 78.0 -81.2 80.0 -79.8 86.0 -78.0 88.8 -76.0 90.6 -70.0 93.6 -62.0 95.0 -55.0 94.3 -48.0 91.6 -41.0 86.3 -37.0 80.7 -35.0 80.9 -34.0 81.9 -32.8 82.0 -32.8 83.0 -33.8 84.0 -33.8 86.0 -35.8 89.0 -35.8 90.0 -37.7 93.0 -37.7 94.0 -39.7 96.0 -39.7 97.0 -49.0 106.5 -50.0 106.5 -52.0 108.5 -55.0 109.6 -58.0 111.6 -60.0 111.7 -63.0 113.8 -66.0 113.8 -67.0 114.9 -70.9 115.0 -65.1 120.0 -57.0 124.6 -51.0 126.4 -41.0 127.7 -32.0 127.7 -24.0 126.8 -17.9 125.0 -13.0 122.4 -8.0 118.3 -4.0 113.4 -4.0 115.0 -5.0 116.0 -4.9 117.0 -6.9 119.0 -6.9 120.0 -17.0 130.4 -18.0 130.4 -23.0 134.6 -26.0 135.6 -29.0 137.8 -31.0 137.8 -32.0 138.9 -33.0 138.9 -34.6 140.0 -26.0 142.3 -15.0 143.4 -5.0 143.1 3.0 141.7 11.0 139.0 19.0 134.8 30.4 127.0 36.0 121.7 36.1 123.0 35.1 124.0 35.1 125.0 33.2 127.0 33.2 128.0 31.3 130.0 31.3 131.0 28.3 134.0 28.4 135.0 21.0 142.7 20.0 142.7 16.0 147.0 15.0 147.3 26.0 145.5 36.0 142.5 47.0 137.5 55.0 132.5 62.0 126.7 69.0 119.0 77.1 106.0 80.0 100.0 80.1 103.0 79.1 104.0 79.3 109.0 78.2 110.0 78.3 112.0 77.3 113.0 77.4 115.0 76.4 116.0 76.5 118.0 75.5 119.0 75.5 120.0 73.6 123.0 73.6 124.0 72.7 125.0 72.7 126.0 71.7 127.0 71.8 128.0 70.8 129.0 70.0 131.9 77.0 127.7 84.0 122.4 91.0 115.8 96.7 109.0 101.5 102.0 105.4 95.0 108.4 88.0 110.1 82.0 113.0 63.0 113.0 66.0 114.2 67.0 114.2 72.0 115.3 73.0 115.7 89.0 114.7 90.0 114.9 95.0 113.9 96.0 114.0 98.2 115.1 97.0 121.1 89.0 126.6 79.0 130.4 69.0 133.3 57.0 134.3 47.0 134.1 38.0 132.7 30.0 129.0 17.0 130.1 17.0 130.1 18.0 132.2 20.0 132.2 21.0 134.3 23.0 135.3 26.0 137.4 29.0 137.4 31.0 139.5 34.0 139.5 36.0 140.6 37.0 140.7 40.0 141.7 41.0 141.8 44.0 142.9 45.0 143.0 49.1 144.4 49.0 145.4 46.0 147.3 39.0 148.1 32.0 148.2 23.0 147.5 14.0 145.7 4.0 143.2 -5.0 140.6 -12.0 136.9 -19.0 126.2 -33.0 128.0 -33.1 130.0 -31.2 131.0 -31.2 134.0 -28.2 135.0 -28.3 142.6 -21.0 142.5 -20.0 146.8 -16.0 146.7 -15.0 148.9 -13.0 148.8 -12.0 151.0 -10.0 151.6 -10.0 147.6 -27.0 144.6 -36.0 139.3 -47.0 134.1 -55.0 128.2 -62.0 121.0 -68.4 115.0 -72.3 100.3 -80.0 103.0 -80.1 104.0 -79.1 109.0 -79.2 110.0 -78.2 112.0 -78.3 113.0 -77.3 115.0 -77.3 116.0 -76.3 118.0 -76.4 119.0 -75.4 120.0 -75.4 121.0 -74.4 122.0 -74.5 125.0 -72.6 126.0 -72.6 129.0 -70.7 130.0 -70.8 132.0 -68.9 133.1 -69.0 128.1 -77.0 120.7 -86.0 112.6 -94.0 104.0 -100.5 95.0 -105.1 85.0 -108.1 70.0 -109.9 62.0 -109.2 54.0 -105.9 45.8 -100.0 39.0 -92.4 34.0 -83.9 33.9 -86.0 36.0 -89.0 35.9 -90.0 37.9 -93.0 37.9 -94.0 39.9 -96.0 39.9 -97.0 49.0 -106.2 50.0 -106.1 52.0 -108.2 55.0 -109.1 58.0 -111.2 60.0 -111.1 63.0 -113.3 66.0 -113.3 67.0 -114.4 72.0 -114.4 73.0 -115.5 89.0 -115.9 90.0 -114.9 92.2 -115.0 81.0 -121.6 68.0 -126.8 61.0 -128.6 55.0 -129.5 41.0 -128.8 32.0 -126.9 27.0 -125.2 23.1 -123.0 19.6 -120.0 15.2 -115.0 11.8 -110.0 6.8 -99.0 5.2 -93.0 4.5 -88.0 1.0 -87.8 0.0 -88.7 -1.0 -87.7 -1.5 -100.0 -0.4 -101.0 -0.5 -105.0 0.5 -106.0 0.5 -108.0 1.5 -109.0 1.5 -111.0 3.5 -114.0 4.5 -117.0 6.5 -119.0 6.4 -120.0 17.0 -130.7 18.0 -130.7 23.0 -134.8 24.0 -134.8 25.0 -135.9 28.1 -137.0 28.0 -138.0 16.6 -137.0ZM-37.0 -124.0L-36.0 -124.0 -36.0 -124.5 -37.0 -124.0ZM153.0 -6.0L153.0 11.6 153.7 -1.0 153.0 -6.0ZM151.9 18.0L152.0 19.5 151.9 18.0ZM69.0 132.0L69.0 132.4 69.8 132.0 69.0 132.0ZM33.0 -83.0L33.6 -83.0 33.2 -82.0 33.0 -83.0ZM125.0 -35.0L125.0 -34.4 124.4 -35.0 125.0 -35.0ZM126.0 -34.0L126.0 -33.3 125.4 -34.0 126.0 -34.0ZM129.0 16.0L129.0 16.9 129.0 16.0ZM-2.0 110.1L-2.0 111.0 -2.5 111.0 -2.0 110.1ZM-3.0 111.9L-3.0 113.0 -3.7 113.0 -3.0 111.9ZM37.0 120.4L37.0 121.0 36.6 121.0 37.0 120.4Z"/>
<path fill-rule="evenodd" fill="#55ff00" d="M-369.0 -300.0L279.0 -300.0 279.0 329.0 -370.0 329.0 -370.0 -300.0 -369.0 -300.0ZM23.0 -142.0L13.0 -140.9 0.0 -137.2 -13.9 -130.0 -20.3 -125.0 -23.5 -121.0 -26.0 -116.6 -28.4 -111.0 -30.1 -105.0 -31.1 -99.0 -31.4 -93.0 -30.0 -83.0 -31.0 -82.9 -32.0 -81.8 -34.0 -81.7 -35.0 -80.7 -35.3 -82.0 -36.3 -83.0 -36.3 -85.0 -38.4 -88.0 -38.4 -90.0 -39.4 -91.0 -39.4 -95.0 -40.5 -96.0 -40.6 -111.0 -39.6 -112.0 -39.6 -115.0 -38.6 -116.0 -38.6 -118.0 -37.6 -119.0 -37.7 -121.0 -36.7 -122.0 -35.7 -125.0 -33.8 -127.0 -33.8 -128.0 -31.9 -130.0 -31.9 -131.0 -29.0 -134.0 -29.0 -134.5 -35.0 -132.2 -40.0 -129.5 -51.0 -121.0 -55.0 -116.8 -58.4 -112.0 -60.5 -107.0 -62.1 -101.0 -63.1 -92.0 -62.8 -82.0 -61.0 -73.4 -58.0 -67.0 -63.0 -61.6 -64.0 -61.6 -69.5 -67.0 -69.5 -68.0 -72.6 -71.0 -72.6 -72.0 -74.6 -74.0 -75.7 -77.0 -78.8 -82.0 -78.8 -84.0 -79.8 -85.0 -79.8 -89.0 -80.9 -90.0 -81.0 -101.1 -86.3 -93.0 -88.4 -85.0 -88.2 -75.0 -85.5 -63.0 -80.8 -52.0 -78.9 -49.0 -76.0 -46.1 -76.6 -43.0 -77.5 -42.0 -77.4 -41.0 -78.3 -40.0 -78.3 -39.0 -79.2 -38.0 -79.1 -37.0 -80.8 -34.0 -78.0 -31.4 -76.0 -28.0 -69.1 -10.0 -61.4 7.0 -60.3 11.0 -60.4 14.0 -64.5 34.0 -66.9 37.0 -76.0 42.7 -76.3 44.0 -75.6 45.0 -75.7 46.0 -73.9 48.0 -73.9 49.0 -67.8 56.0 -67.8 57.0 -61.6 63.0 -61.6 64.0 -67.0 69.5 -68.0 69.5 -71.0 72.5 -72.0 72.5 -74.0 74.6 -77.0 75.6 -82.0 78.7 -84.0 78.8 -85.0 79.8 -89.0 79.8 -90.0 80.9 -96.8 81.0 -96.3 84.0 -92.9 90.0 -86.4 96.0 -77.3 101.0 -69.0 103.2 -60.0 103.3 -52.0 101.6 -44.6 98.0 -38.0 92.6 -38.0 94.0 -40.0 96.0 -39.9 97.0 -49.0 106.2 -50.0 106.2 -52.0 108.3 -55.0 109.3 -58.0 111.4 -60.0 111.4 -63.0 113.5 -66.0 113.6 -67.0 114.6 -72.0 114.7 -73.0 115.8 -80.2 116.0 -74.0 121.6 -68.0 125.6 -60.0 129.5 -53.0 131.6 -43.0 132.6 -37.0 132.5 -16.0 128.1 -15.9 129.0 -17.0 130.1 -18.0 130.1 -23.0 134.3 -26.0 135.3 -29.0 137.4 -31.0 137.4 -34.0 139.6 -36.0 139.6 -37.0 140.7 -40.0 140.7 -41.0 141.8 -44.0 141.9 -45.0 143.0 -46.0 143.0 -40.0 145.3 -32.0 147.6 -21.0 149.3 -12.0 149.3 -4.0 148.3 6.0 145.5 15.0 141.5 24.0 135.8 31.0 129.6 31.1 131.0 28.1 134.0 28.0 135.1 21.0 142.3 20.0 142.3 16.0 146.4 15.0 146.4 13.0 148.5 12.0 148.5 9.6 151.0 9.6 152.0 9.0 152.7 -15.5 153.0 -5.0 154.7 9.0 155.3 26.0 153.9 40.0 151.3 55.3 147.0 71.0 140.7 87.0 132.0 96.3 126.0 109.0 116.1 121.6 104.0 129.6 95.0 139.0 82.3 146.8 69.0 153.3 55.0 157.5 43.0 161.7 27.0 164.2 11.0 164.8 3.0 164.5 -1.0 162.7 -5.0 156.9 -14.0 153.2 -32.0 150.4 -42.0 146.0 -53.0 138.7 -68.0 132.9 -78.0 128.0 -84.4 127.0 -84.7 117.0 -94.5 110.0 -100.3 104.0 -104.3 98.0 -107.4 91.0 -109.8 84.0 -111.3 63.0 -112.1 63.0 -113.1 66.0 -113.1 67.0 -114.2 72.0 -114.2 73.0 -115.2 89.0 -115.5 90.0 -114.4 95.0 -114.7 96.0 -113.7 99.1 -114.0 93.0 -118.1 84.0 -123.3 75.0 -127.5 65.0 -131.0 58.0 -132.5 51.0 -133.0 42.0 -132.4 36.0 -131.2 26.0 -128.1 21.1 -126.0 16.7 -123.0 12.8 -119.0 9.0 -114.0 3.9 -104.0 1.4 -96.0 0.4 -89.0 -1.1 -88.0 -1.2 -100.0 -0.2 -101.0 -0.2 -105.0 0.8 -106.0 0.8 -108.0 1.8 -109.0 1.7 -111.0 3.7 -114.0 4.7 -117.0 6.7 -119.0 6.7 -120.0 17.0 -130.5 18.0 -130.4 23.0 -134.6 26.0 -135.6 29.0 -137.7 31.0 -137.7 34.0 -139.8 36.0 -139.8 37.0 -141.0 38.4 -141.0 29.0 -142.0 23.0 -142.0ZM-20.0 152.0L-18.0 152.5 -17.8 152.0 -20.0 152.0ZM61.0 -112.0L62.1 -112.0 61.0 -112.0ZM107.0 -79.0L109.0 -79.1 109.0 -78.1 107.0 -79.0ZM110.0 -78.0L112.0 -78.1 113.0 -77.0 115.0 -77.1 116.0 -76.1 118.0 -76.2 119.0 -75.1 120.0 -75.2 123.0 -73.2 124.0 -73.2 125.0 -72.2 126.0 -72.3 129.0 -70.3 130.0 -70.4 135.0 -66.5 138.0 -66.8 138.8 -66.0 138.7 -64.0 140.7 -61.0 140.6 -60.0 141.7 -59.0 141.5 -57.0 143.5 -54.0 143.2 -52.0 144.2 -51.0 144.0 -49.3 134.8 -60.0 127.6 -67.0 119.4 -73.0 109.3 -78.0 110.0 -78.0ZM131.0 -31.0L131.0 -30.6 130.6 -31.0 131.0 -31.0ZM132.0 -30.0L132.0 -29.6 131.6 -30.0 132.0 -30.0ZM133.0 -29.0L133.0 -28.6 132.6 -29.0 133.0 -29.0ZM134.0 -28.0L135.0 -28.1 142.2 -21.0 142.2 -20.0 146.3 -16.0 146.3 -15.0 148.4 -13.0 148.3 -12.0 151.0 -9.3 152.3 -9.0 152.0 -3.2 151.0 -1.4 148.0 -4.6 140.3 -19.0 133.6 -28.0 134.0 -28.0ZM134.0 23.0L134.0 24.8 133.3 23.0 134.0 23.0ZM135.0 24.9L135.0 26.0 136.1 27.0 136.1 28.0 137.1 29.0 137.1 31.0 139.2 34.0 139.2 36.0 140.3 37.0 140.3 40.0 141.3 41.0 141.3 44.0 142.3 45.0 142.3 49.0 144.2 50.0 142.0 56.0 140.0 57.5 139.0 56.4 138.6 54.0 136.7 35.0 134.1 25.0 135.0 24.9ZM115.0 72.9L115.3 89.0 114.3 90.0 114.4 95.0 113.3 96.0 113.4 100.0 114.4 101.0 114.3 102.0 106.0 110.0 105.0 110.0 104.2 109.0 104.5 108.0 111.5 89.0 113.4 81.0 114.3 73.0 115.0 72.9ZM-37.0 91.5L-37.4 92.0 -37.0 91.5ZM79.0 106.8L79.1 109.0 78.2 109.0 79.0 106.8ZM78.0 109.4L78.1 112.0 77.0 113.0 77.1 115.0 76.1 116.0 76.2 118.0 75.1 119.0 75.2 120.0 73.2 123.0 73.3 124.0 72.3 125.0 72.3 126.0 71.3 127.0 70.4 130.0 66.4 135.0 66.5 138.0 66.0 138.5 64.0 138.5 63.0 139.5 60.0 140.4 59.0 141.4 57.0 141.3 54.0 143.2 52.0 143.1 51.0 144.0 50.3 144.0 51.4 142.0 62.0 132.3 70.0 123.3 74.3 117.0 78.0 109.4ZM-15.0 127.8L-15.6 128.0 -15.0 127.8ZM32.0 128.7L31.6 129.0 32.0 128.7Z"/>
<path fill-rule="evenodd" fill="#80ff00" d="M-369.0 -300.0L279.0 -300.0 279.0 329.0 -370.0 329.0 -370.0 -300.0 -369.0 -300.0ZM14.1 -145.0L3.0 -143.0 -6.0 -139.3 -13.0 -135.4 -21.0 -129.6 -28.1 -123.0 -30.7 -119.0 -33.0 -114.0 -36.0 -103.1 -36.6 -93.0 -35.9 -87.0 -34.5 -82.0 -35.0 -81.0 -35.0 -82.0 -36.1 -83.0 -36.0 -85.0 -38.1 -88.0 -38.1 -90.0 -39.1 -91.0 -39.1 -95.0 -40.2 -96.0 -40.3 -111.0 -39.3 -112.0 -39.3 -115.0 -38.3 -116.0 -38.4 -118.0 -37.3 -119.0 -37.4 -121.0 -36.4 -122.0 -35.5 -125.0 -33.5 -127.0 -33.5 -128.0 -31.6 -130.0 -31.6 -131.0 -28.6 -134.0 -28.7 -135.0 -21.9 -142.0 -22.0 -143.0 -32.0 -139.7 -40.0 -135.8 -49.0 -129.5 -56.0 -123.0 -62.6 -115.0 -66.2 -109.0 -68.4 -103.0 -70.0 -94.0 -70.4 -85.0 -69.4 -77.0 -66.9 -69.0 -63.0 -62.0 -64.0 -61.9 -69.1 -67.0 -69.1 -68.0 -72.2 -71.0 -72.2 -72.0 -74.3 -74.0 -75.3 -77.0 -76.3 -78.0 -77.4 -81.0 -78.4 -82.0 -78.4 -84.0 -79.5 -85.0 -79.5 -89.0 -80.5 -90.0 -80.7 -103.0 -79.7 -104.0 -79.9 -109.0 -78.9 -110.0 -78.9 -112.0 -77.9 -113.0 -78.0 -114.4 -85.0 -107.2 -92.0 -97.1 -96.0 -88.0 -97.9 -79.0 -97.1 -69.0 -94.0 -57.0 -91.4 -51.0 -87.3 -44.0 -84.0 -39.7 -80.8 -37.0 -80.9 -35.0 -81.8 -34.0 -81.7 -33.0 -83.0 -32.7 -84.0 -33.7 -86.0 -33.6 -89.0 -35.6 -90.0 -35.5 -91.0 -36.5 -94.0 -37.4 -96.0 -39.3 -97.0 -39.3 -106.2 -48.0 -104.6 -40.0 -101.9 -33.0 -98.4 -28.0 -93.9 -23.0 -90.0 -20.0 -87.0 -18.7 -86.2 -14.0 -87.1 -13.0 -87.0 -11.6 -84.0 -9.9 -81.0 -6.0 -77.9 0.0 -76.9 4.0 -77.3 8.0 -80.6 19.0 -82.0 22.3 -84.0 24.6 -84.0 26.0 -83.0 27.0 -83.1 29.0 -81.1 32.0 -81.1 34.0 -80.1 35.0 -83.0 36.9 -85.0 36.9 -88.0 38.9 -90.0 39.0 -91.0 40.0 -93.3 40.0 -97.2 49.0 -97.4 53.0 -96.6 56.0 -94.4 60.0 -92.4 62.0 -89.0 63.8 -84.0 65.2 -79.0 66.1 -74.0 65.9 -68.0 64.1 -64.0 61.4 -61.9 63.0 -61.9 64.0 -67.0 69.2 -68.0 69.2 -71.0 72.2 -72.0 72.2 -74.0 74.3 -77.0 75.3 -78.0 76.4 -81.0 77.4 -82.0 78.4 -84.0 78.4 -85.0 79.5 -89.0 79.5 -90.0 80.6 -103.0 80.8 -104.0 79.9 -108.0 80.0 -107.4 82.0 -104.4 88.0 -100.4 93.0 -94.9 98.0 -89.0 101.5 -78.0 106.3 -70.0 108.5 -62.0 109.3 -54.0 108.3 -54.0 109.0 -57.0 110.1 -58.0 111.1 -60.0 111.1 -63.0 113.2 -66.0 113.3 -67.0 114.4 -72.0 114.4 -73.0 115.5 -89.0 115.9 -90.0 114.9 -91.5 115.0 -85.1 122.0 -77.0 128.5 -67.0 134.5 -59.0 137.8 -53.0 138.8 -43.0 138.5 -34.0 137.2 -27.0 135.3 -27.0 136.0 -28.0 136.0 -29.0 137.1 -31.0 137.0 -34.0 139.1 -36.0 139.1 -37.0 140.2 -40.0 140.1 -41.0 141.2 -44.0 141.2 -45.0 142.2 -49.0 142.2 -49.8 143.0 -50.0 144.2 -51.0 144.2 -52.0 143.2 -54.0 143.2 -57.0 141.2 -59.0 141.2 -62.0 139.2 -63.0 139.3 -64.0 138.2 -66.0 138.4 -69.0 136.5 -70.8 137.0 -61.0 144.7 -52.0 150.1 -39.0 155.5 -24.0 160.0 -10.0 162.6 4.0 163.6 18.0 163.2 34.0 161.2 50.0 157.6 63.0 153.4 78.0 147.0 94.0 138.4 106.0 130.4 120.4 119.0 131.8 108.0 143.7 94.0 151.3 83.0 157.4 72.0 163.5 58.0 169.1 40.0 171.8 26.0 173.0 13.0 173.2 3.0 172.6 -1.0 170.6 -5.0 164.5 -13.0 162.9 -16.0 156.9 -40.0 151.0 -54.0 145.5 -65.0 136.8 -80.0 128.0 -90.6 119.1 -100.0 104.2 -114.0 94.0 -121.1 74.0 -130.8 64.0 -134.3 56.0 -136.2 50.0 -136.7 44.0 -136.4 38.0 -135.4 32.0 -133.6 15.0 -126.2 11.1 -123.0 7.0 -118.3 6.9 -120.0 17.0 -130.2 18.0 -130.2 23.0 -134.3 26.0 -135.3 29.0 -137.4 31.0 -137.3 34.0 -139.4 36.0 -139.4 37.0 -140.5 40.0 -140.5 41.0 -141.7 44.2 -142.0 44.2 -143.0 32.0 -144.7 23.0 -145.3 14.1 -145.0ZM-21.8 -143.0L-20.0 -143.0 -20.0 -143.4 -21.8 -143.0ZM-73.1 135.0L-72.0 136.0 -72.0 134.6 -73.1 135.0ZM-72.0 136.0L-71.0 136.9 -71.0 135.7 -72.0 136.0ZM6.0 -118.0L6.7 -118.0 5.0 -115.5 4.9 -117.0 6.0 -118.0ZM4.0 -115.0L4.7 -115.0 4.0 -114.0 4.0 -115.0ZM73.0 -115.0L89.0 -115.1 90.0 -114.0 95.0 -114.2 96.0 -113.1 100.0 -113.4 101.0 -114.6 102.0 -114.8 110.2 -106.0 110.0 -105.4 100.0 -110.5 91.0 -113.4 83.0 -114.7 73.0 -115.0ZM3.0 -113.0L3.4 -113.0 3.0 -112.3 3.0 -113.0ZM2.0 -111.0L2.0 -110.4 2.0 -111.0ZM111.0 -105.1L110.6 -105.0 111.0 -105.1ZM-52.0 107.8L-52.8 108.0 -52.0 107.8ZM-23.0 133.7L-23.7 134.0 -23.0 133.7ZM-26.0 134.9L-25.0 134.5 -25.0 135.0 -26.0 134.9Z"/>
<path fill-rule="evenodd" fill="#aaff00" d="M-369.0 -300.0L279.0 -300.0 279.0 329.0 -370.0 329.0 -370.0 -300.0 -369.0 -300.0ZM-19.0 -148.0L-31.5 -145.0 -37.3 -143.0 -43.0 -140.3 -52.0 -134.1 -60.0 -126.3 -65.9 -118.0 -71.7 -108.0 -74.3 -102.0 -76.6 -91.0 -76.6 -80.0 -77.0 -80.0 -77.0 -81.0 -78.1 -82.0 -78.1 -84.0 -79.1 -85.0 -79.1 -89.0 -80.2 -90.0 -80.4 -103.0 -79.4 -104.0 -79.6 -109.0 -78.5 -110.0 -78.6 -112.0 -77.6 -113.0 -77.6 -115.0 -76.6 -116.0 -76.7 -118.0 -75.7 -119.0 -75.7 -120.0 -74.7 -121.0 -74.8 -122.0 -73.8 -123.0 -73.8 -124.0 -71.9 -127.0 -72.0 -128.6 -82.0 -120.2 -90.1 -111.0 -95.6 -103.0 -99.2 -96.0 -102.2 -87.0 -105.2 -74.0 -105.4 -67.0 -104.4 -60.0 -102.8 -54.0 -98.3 -42.0 -99.0 -42.0 -106.3 -49.0 -106.3 -50.0 -108.4 -52.0 -109.4 -55.0 -111.5 -58.0 -111.5 -60.0 -113.7 -63.0 -113.7 -66.0 -114.8 -67.0 -114.9 -72.0 -116.0 -73.2 -119.1 -61.0 -120.5 -48.0 -120.5 -41.0 -119.0 -35.0 -114.4 -27.0 -108.7 -20.0 -104.0 -16.3 -98.3 -13.0 -93.0 -10.7 -88.0 -9.4 -87.5 -4.0 -87.3 -1.0 -88.3 0.0 -87.3 1.0 -88.0 1.7 -100.0 1.9 -101.0 0.9 -105.0 0.9 -106.0 -0.1 -108.0 -0.1 -109.0 -1.0 -111.0 -1.0 -112.0 -2.0 -113.4 -2.0 -112.3 1.0 -111.1 8.0 -109.9 11.0 -107.7 14.0 -100.2 20.0 -96.0 22.0 -92.0 23.1 -85.0 23.0 -84.8 26.0 -83.8 27.0 -83.7 29.0 -81.6 32.0 -81.5 34.0 -80.5 35.0 -82.0 35.5 -83.0 36.5 -85.0 36.5 -88.0 38.5 -90.0 38.6 -91.0 39.6 -95.0 39.6 -96.0 40.6 -111.0 40.8 -112.0 39.8 -115.0 39.9 -116.0 38.9 -118.0 38.9 -119.0 37.9 -121.5 38.0 -120.6 42.0 -118.9 47.0 -113.4 58.0 -109.5 63.0 -104.0 67.8 -98.0 71.1 -89.0 74.0 -83.0 74.8 -76.0 74.2 -76.0 75.0 -79.0 76.1 -80.0 77.1 -81.0 77.1 -82.0 78.1 -84.0 78.1 -85.0 79.2 -89.0 79.2 -90.0 80.3 -103.0 80.5 -104.0 79.5 -109.0 79.7 -110.0 78.7 -112.0 78.8 -113.0 77.8 -115.0 77.9 -116.0 76.9 -118.7 77.0 -118.1 79.0 -115.2 86.0 -110.7 93.0 -105.0 99.4 -99.0 104.1 -93.0 107.4 -84.0 110.8 -79.0 111.8 -72.0 112.0 -66.4 113.0 -67.0 114.1 -72.0 114.1 -73.0 115.2 -89.0 115.3 -90.0 114.3 -95.0 114.5 -96.0 113.5 -100.0 113.6 -101.0 114.7 -102.0 114.8 -104.0 112.9 -104.8 113.0 -97.8 123.0 -90.5 131.0 -82.0 139.1 -74.0 145.8 -66.0 151.7 -56.0 158.1 -50.0 161.1 -37.0 165.6 -20.0 169.8 -5.0 172.1 9.0 173.0 28.0 172.3 45.0 170.4 59.0 167.9 80.0 162.1 93.0 157.4 104.0 152.6 114.0 147.5 125.0 140.1 135.0 131.4 144.0 122.7 159.3 100.0 170.0 78.0 176.3 52.0 178.4 38.0 179.1 26.0 178.3 3.0 177.0 -3.3 174.6 -9.0 168.9 -18.0 163.4 -38.0 161.0 -45.0 150.8 -65.0 142.1 -80.0 137.5 -86.0 123.0 -101.0 112.5 -111.0 103.1 -119.0 87.0 -128.4 71.0 -136.4 70.0 -135.5 60.0 -138.6 51.0 -140.3 44.0 -140.2 37.0 -139.3 37.0 -140.1 40.0 -140.0 41.0 -141.1 44.0 -141.1 45.0 -142.3 49.0 -142.4 49.5 -143.0 49.1 -145.0 28.0 -147.6 13.0 -147.9 4.0 -147.1 -3.0 -145.6 -9.4 -143.0 -16.0 -139.0 -21.0 -134.9 -32.4 -124.0 -35.9 -119.0 -39.0 -111.5 -39.1 -115.0 -38.0 -116.0 -38.1 -118.0 -37.1 -119.0 -37.1 -121.0 -36.1 -122.0 -35.2 -125.0 -33.2 -127.0 -33.3 -128.0 -31.3 -130.0 -31.3 -131.0 -28.3 -134.0 -28.4 -135.0 -21.0 -142.5 -20.0 -142.5 -16.0 -146.7 -15.0 -146.7 -13.9 -148.0 -14.0 -148.7 -19.0 -148.0ZM51.9 -144.0L53.1 -144.0 51.9 -144.0ZM54.9 -143.0L55.9 -143.0 54.9 -143.0ZM56.8 -142.0L58.3 -142.0 57.0 -142.5 56.8 -142.0ZM59.9 -141.0L60.6 -141.0 59.9 -141.0ZM61.7 -140.0L62.0 -139.6 63.0 -140.0 62.0 -140.4 61.7 -140.0ZM63.6 -139.0L64.0 -138.4 65.3 -139.0 64.0 -139.6 63.6 -139.0ZM66.8 -138.0L67.0 -137.6 67.5 -138.0 66.8 -138.0ZM68.7 -137.0L69.0 -136.3 69.6 -137.0 68.7 -137.0ZM-71.4 -129.0L-71.0 -129.2 -71.4 -129.0ZM-105.4 112.0L-105.0 112.6 -105.4 112.0ZM34.0 -139.0L35.7 -139.0 34.0 -138.5 34.0 -139.0ZM32.0 -138.0L32.5 -138.0 32.0 -138.0ZM29.0 -137.0L30.0 -137.0 29.0 -136.6 29.0 -137.0ZM27.0 -136.0L27.8 -136.0 27.0 -135.6 27.0 -136.0ZM25.0 -135.0L25.9 -135.0 25.0 -134.5 25.0 -135.0ZM23.0 -134.0L24.1 -134.0 23.0 -133.3 23.0 -134.0ZM22.0 -133.0L22.5 -133.0 22.0 -132.7 22.0 -133.0ZM20.0 -132.0L21.0 -132.0 20.0 -131.5 20.0 -132.0ZM-40.0 -111.0L-39.2 -111.0 -40.0 -108.0 -40.0 -111.0ZM-75.0 74.0L-74.0 73.8 -75.0 74.0Z"/>
<path fill-rule="evenodd" fill="#d5ff00" d="M-369.0 -300.0L279.0 -300.0 279.0 329.0 -370.0 329.0 -370.0 -300.0 -369.0 -300.0ZM-17.1 -152.0L-25.8 -151.0 -30.0 -150.0 -31.0 -150.2 -34.0 -149.2 -35.0 -149.6 -38.0 -149.2 -50.0 -147.0 -69.0 -142.3 -79.0 -139.1 -89.0 -135.0 -98.0 -130.2 -106.0 -124.4 -111.0 -119.6 -114.0 -118.7 -123.0 -118.0 -125.4 -116.0 -126.8 -102.0 -124.4 -94.0 -123.2 -91.0 -122.0 -90.6 -121.5 -88.0 -122.1 -83.0 -126.8 -63.0 -129.1 -47.0 -128.6 -39.0 -126.2 -28.0 -124.6 -24.0 -122.0 -20.0 -115.0 -13.4 -108.3 -9.0 -102.0 -6.1 -95.0 -3.8 -88.0 -2.6 -87.9 -1.0 -88.8 0.0 -87.7 1.0 -100.0 1.4 -101.0 0.4 -105.0 0.5 -106.0 -0.6 -108.0 -0.5 -109.0 -1.5 -111.0 -1.5 -114.0 -3.5 -117.0 -4.5 -119.0 -6.5 -120.0 -6.4 -130.7 -17.0 -130.7 -18.0 -132.8 -20.0 -132.8 -21.0 -135.0 -23.0 -135.0 -24.0 -135.6 -24.0 -136.3 -17.0 -134.7 -7.0 -130.0 8.0 -127.3 14.0 -123.0 20.1 -117.0 25.7 -110.0 30.1 -102.0 33.1 -92.0 34.5 -87.0 34.1 -82.0 33.0 -81.9 34.0 -80.9 35.0 -82.0 35.1 -83.0 36.1 -85.0 36.1 -88.0 38.2 -90.0 38.2 -91.0 39.2 -95.0 39.2 -96.0 40.3 -111.0 40.4 -112.0 39.4 -115.0 39.5 -116.0 38.5 -118.0 38.5 -119.0 37.5 -121.0 37.6 -122.0 36.6 -125.0 35.7 -127.0 33.7 -128.0 33.8 -130.0 31.8 -131.0 31.9 -134.0 28.9 -135.7 29.0 -128.5 50.0 -120.7 62.0 -116.7 66.0 -106.0 74.4 -100.0 77.6 -92.8 80.0 -103.0 80.2 -104.0 79.2 -109.0 79.3 -110.0 78.3 -112.0 78.4 -113.0 77.4 -115.0 77.4 -116.0 76.4 -118.0 76.5 -121.0 74.5 -122.0 74.6 -123.0 73.6 -124.0 73.7 -125.0 72.7 -126.0 72.7 -127.0 71.8 -128.0 71.9 -129.6 71.0 -123.8 89.0 -124.7 90.0 -119.5 107.0 -115.2 116.0 -107.0 128.1 -103.0 132.5 -89.0 145.0 -77.0 154.6 -57.0 167.8 -39.0 176.3 -17.0 183.2 6.0 188.6 21.0 190.2 45.0 191.5 63.0 190.7 89.0 185.6 102.0 182.1 114.0 176.8 128.0 169.6 133.0 166.4 143.1 158.0 160.0 138.0 164.0 132.0 170.5 118.0 175.1 107.0 183.0 84.0 186.1 54.0 186.9 38.0 186.3 26.0 183.0 3.0 181.7 -3.0 178.7 -12.0 174.0 -22.0 167.8 -43.0 165.1 -49.0 155.7 -66.0 147.5 -80.0 143.3 -86.0 133.5 -96.0 116.0 -112.4 107.0 -120.4 101.0 -124.5 71.0 -139.5 57.0 -145.8 52.0 -147.5 25.0 -151.1 24.0 -150.6 13.0 -150.8 0.0 -150.0 -7.0 -148.8 -14.0 -146.3 -14.1 -147.0 -13.0 -148.2 -12.0 -148.1 -9.6 -151.0 -10.0 -152.7 -17.1 -152.0ZM-136.2 28.0L-136.0 28.4 -136.2 28.0ZM-16.0 -146.1L-14.7 -146.0 -16.0 -145.4 -16.0 -146.1ZM-17.0 -145.0L-16.6 -145.0 -17.0 -145.0ZM-54.0 -143.1L-52.8 -143.0 -54.0 -142.1 -54.0 -143.1ZM-56.0 -142.1L-54.1 -142.0 -62.0 -133.8 -69.0 -123.4 -72.1 -117.0 -74.8 -110.0 -80.0 -99.6 -80.1 -103.0 -79.1 -104.0 -79.2 -109.0 -78.2 -110.0 -78.2 -112.0 -77.2 -113.0 -77.3 -115.0 -76.2 -116.0 -76.3 -118.0 -75.3 -119.0 -74.3 -122.0 -73.3 -123.0 -73.3 -124.0 -72.3 -125.0 -72.3 -126.0 -71.3 -127.0 -70.3 -130.0 -66.3 -135.0 -66.3 -138.0 -64.0 -138.3 -61.0 -140.3 -60.0 -140.3 -59.0 -141.3 -57.0 -141.1 -56.0 -142.1ZM-27.0 -136.0L-26.6 -136.0 -27.0 -135.5 -27.0 -136.0ZM-28.0 -135.0L-27.4 -135.0 -28.0 -134.3 -28.0 -135.0ZM-30.0 -132.0L-30.0 -131.6 -30.0 -132.0ZM-31.0 -131.0L-30.5 -131.0 -31.0 -130.2 -31.0 -131.0ZM-104.0 -112.0L-101.7 -112.0 -101.5 -110.0 -108.1 -89.0 -110.2 -79.0 -112.1 -63.0 -113.0 -62.9 -113.1 -66.0 -114.3 -67.0 -114.3 -72.0 -115.4 -73.0 -115.7 -89.0 -114.7 -90.0 -114.7 -95.0 -113.7 -96.0 -113.6 -100.0 -114.6 -101.0 -114.5 -102.0 -104.0 -112.0Z"/>
<path fill-rule="evenodd" fill="#ffff00" d="M-369.0 -300.0L279.0 -300.0 279.0 329.0 -370.0 329.0 -370.0 -300.0 -369.0 -300.0ZM-120.4 -196.0L-126.0 -193.0 -142.0 -181.6 -151.0 -172.8 -159.1 -163.0 -171.0 -144.0 -177.0 -132.3 -178.0 -129.3 -178.6 -126.0 -178.4 -124.0 -172.7 -117.0 -172.4 -115.0 -173.0 -112.2 -175.0 -109.6 -182.0 -103.3 -187.4 -103.0 -184.0 -101.8 -178.0 -101.3 -173.0 -97.6 -166.5 -91.0 -154.6 -77.0 -152.4 -74.0 -150.5 -70.0 -145.0 -49.5 -144.9 -51.0 -143.5 -52.0 -143.3 -54.0 -142.2 -55.0 -142.1 -56.0 -141.0 -56.6 -140.0 -56.1 -138.2 -43.0 -137.0 -38.0 -133.6 -28.0 -127.1 -15.0 -128.0 -14.9 -130.1 -17.0 -130.1 -18.0 -134.2 -23.0 -134.2 -24.0 -136.3 -27.0 -136.2 -28.0 -137.3 -29.0 -137.3 -31.0 -139.5 -34.0 -139.4 -36.0 -140.5 -37.0 -140.5 -40.0 -141.6 -41.0 -141.5 -44.0 -142.7 -45.0 -142.6 -49.0 -143.0 -49.4 -144.9 -49.0 -143.7 -37.0 -146.0 -20.0 -146.2 -13.0 -145.0 -6.0 -141.1 6.0 -135.9 16.0 -126.0 28.6 -120.0 34.3 -111.6 39.0 -115.0 39.1 -116.0 38.1 -118.0 38.1 -119.0 37.1 -121.0 37.2 -122.0 36.2 -125.0 35.3 -127.0 33.3 -128.0 33.3 -130.0 31.4 -131.0 31.4 -134.0 28.4 -135.0 28.4 -142.6 21.0 -142.6 20.0 -146.8 16.0 -146.8 15.0 -148.0 13.9 -148.8 14.0 -148.2 21.0 -146.8 28.0 -142.3 40.0 -139.2 46.0 -137.0 53.0 -130.0 66.1 -124.7 72.0 -126.0 72.0 -129.0 70.1 -130.0 70.2 -132.0 68.3 -133.0 68.4 -135.0 66.5 -138.0 66.9 -139.0 66.0 -138.9 64.0 -139.5 64.0 -135.7 88.0 -130.3 112.0 -127.3 119.0 -117.9 133.0 -114.0 138.0 -110.0 141.9 -87.0 160.3 -49.0 185.6 -43.0 188.6 -20.0 197.5 -1.0 204.5 6.0 206.3 47.0 213.4 57.0 214.5 64.0 214.1 100.0 209.4 109.0 207.9 116.0 205.5 145.0 190.5 152.2 186.0 157.0 181.9 162.0 175.8 179.4 150.0 184.7 141.0 187.5 132.0 196.7 95.0 198.2 87.0 198.6 81.0 197.3 33.0 195.7 24.0 188.5 -6.0 175.4 -47.0 169.5 -58.0 151.4 -88.0 147.2 -93.0 140.0 -99.8 108.0 -128.2 84.0 -140.4 55.0 -153.6 30.0 -156.7 -6.0 -159.7 -48.0 -156.6 -64.0 -156.1 -91.0 -156.8 -96.7 -158.0 -98.4 -159.0 -100.0 -161.0 -108.4 -185.0 -113.0 -194.1 -114.5 -196.0 -116.0 -196.9 -120.4 -196.0ZM-127.0 -14.8L-126.4 -14.0 -127.0 -14.0 -127.0 -14.8ZM-126.0 -13.4L-125.6 -13.0 -126.0 -13.4ZM-125.0 -12.3L-124.7 -12.0 -125.0 -12.3ZM-124.0 -11.3L-123.7 -11.0 -124.0 -11.3ZM-123.0 -10.3L-122.6 -10.0 -123.0 -10.3ZM-122.0 -9.5L-121.4 -9.0 -122.0 -9.0 -122.0 -9.5ZM-121.0 -8.6L-120.2 -8.0 -121.0 -8.0 -121.0 -8.6ZM-120.0 -7.9L-118.8 -7.0 -120.0 -6.9 -120.0 -7.9ZM-118.0 -6.5L-117.3 -6.0 -118.0 -6.0 -118.0 -6.5ZM-117.0 -5.8L-115.6 -5.0 -117.0 -4.9 -117.0 -5.8ZM-115.0 -4.6L-113.9 -4.0 -115.0 -4.0 -115.0 -4.6ZM-113.0 -3.5L-112.0 -3.0 -113.0 -3.0 -113.0 -3.5ZM-111.0 -2.5L-110.0 -2.0 -111.0 -2.0 -111.0 -2.5ZM-111.0 39.3L-109.1 40.0 -111.0 40.0 -111.0 39.3ZM-124.0 72.5L-123.3 73.0 -124.0 73.0 -124.0 72.5ZM-122.0 73.8L-121.7 74.0 -122.0 73.8ZM-118.0 75.8L-117.5 76.0 -118.0 75.8ZM-109.0 78.9L-108.6 79.0 -109.0 78.9Z"/>
<path fill-rule="evenodd" fill="#ffd500" d="M-369.0 -300.0L-101.3 -300.0 -102.1 -297.0 -105.3 -291.0 -105.2 -289.0 -104.0 -288.0 -57.0 -275.5 -17.0 -264.2 6.8 -257.0 16.9 -253.0 20.6 -251.0 20.9 -250.0 17.0 -249.3 -9.0 -249.2 -25.0 -248.2 -38.0 -246.6 -50.0 -244.3 -74.0 -238.1 -87.0 -235.6 -98.0 -232.1 -104.3 -228.0 -111.0 -224.8 -120.0 -219.2 -125.1 -213.0 -131.0 -208.0 -143.0 -195.0 -149.9 -189.0 -155.0 -181.7 -164.4 -166.0 -170.0 -155.4 -180.0 -132.2 -181.4 -126.0 -181.3 -123.0 -180.4 -121.0 -176.6 -116.0 -176.7 -113.0 -183.3 -104.0 -188.0 -103.2 -189.5 -105.0 -191.0 -105.0 -187.0 -101.1 -185.0 -100.5 -180.3 -96.0 -165.5 -71.0 -160.0 -58.1 -155.0 -43.0 -155.4 -37.0 -161.2 -13.0 -166.4 15.0 -169.9 44.0 -171.7 75.0 -170.5 96.0 -169.5 103.0 -167.7 108.0 -160.6 123.0 -155.6 132.0 -140.0 154.3 -115.7 180.0 -84.0 206.1 -51.0 226.2 -41.0 231.0 1.0 244.9 9.0 246.1 47.0 249.4 93.2 246.0 111.2 244.0 120.8 241.0 152.7 229.0 166.0 223.3 171.9 219.0 185.9 207.0 199.5 195.0 205.0 189.4 209.0 183.4 224.0 157.5 233.0 140.5 242.0 110.0 248.1 85.0 250.4 48.0 252.2 37.0 252.9 24.0 253.5 -19.0 253.0 -29.0 248.4 -50.0 246.4 -56.0 243.4 -61.0 229.0 -80.5 219.7 -109.0 212.7 -126.0 204.0 -142.8 185.0 -174.0 183.3 -178.0 182.8 -181.0 184.0 -183.8 190.3 -191.0 263.3 -292.0 266.4 -297.0 267.0 -300.0 279.0 -300.0 279.0 329.0 -370.0 329.0 -370.0 -300.0 -369.0 -300.0Z"/>
<path fill-rule="evenodd" fill="#ffaa00" d="M-369.0 -300.0L-104.0 -300.0 -104.9 -297.0 -108.7 -290.0 -108.9 -288.0 -107.0 -285.7 -59.9 -271.0 -54.9 -269.0 -51.9 -267.0 -52.0 -266.0 -55.0 -265.3 -71.5 -264.0 -83.0 -262.3 -111.0 -255.6 -114.0 -254.4 -123.1 -248.0 -126.0 -241.0 -131.0 -236.8 -138.3 -229.0 -139.4 -227.0 -141.1 -220.0 -145.3 -215.0 -148.0 -210.0 -151.0 -206.0 -154.1 -200.0 -158.9 -195.0 -160.0 -193.1 -174.0 -156.4 -181.9 -132.0 -183.3 -123.0 -182.4 -120.0 -178.9 -115.0 -179.3 -113.0 -185.1 -104.0 -188.0 -103.5 -189.0 -105.0 -190.0 -105.4 -191.9 -105.0 -190.0 -102.6 -183.9 -97.0 -184.1 -92.0 -180.1 -58.0 -180.1 -31.0 -181.3 -24.0 -188.0 1.0 -199.2 35.0 -204.9 62.0 -207.3 94.0 -206.2 116.0 -204.0 124.0 -195.3 146.0 -191.3 153.0 -177.6 174.0 -171.6 182.0 -143.0 211.7 -133.0 219.7 -103.0 241.2 -78.0 251.7 -53.0 261.0 1.0 272.1 47.0 275.6 56.0 275.8 99.0 271.8 105.0 270.3 120.0 264.6 167.0 245.4 181.0 235.5 207.0 215.2 210.4 212.0 214.0 207.4 242.4 165.0 244.5 161.0 251.0 144.9 254.0 139.2 256.0 137.4 258.0 137.5 274.0 145.3 279.0 146.8 279.0 329.0 -370.0 329.0 -370.0 -300.0 -369.0 -300.0Z"/>
<path fill-rule="evenodd" fill="#ff8000" d="M-369.0 -300.0L-106.0 -300.0 -107.0 -297.0 -111.5 -289.0 -112.1 -286.0 -111.6 -282.0 -112.1 -281.0 -114.0 -280.3 -127.0 -277.9 -139.0 -274.6 -141.0 -273.0 -143.2 -269.0 -146.3 -265.0 -147.3 -262.0 -148.1 -254.0 -151.2 -249.0 -153.2 -244.0 -156.0 -239.0 -157.4 -227.0 -160.3 -221.0 -165.5 -205.0 -169.0 -198.9 -181.1 -141.0 -184.0 -129.9 -184.0 -118.3 -181.5 -115.0 -181.4 -114.0 -184.0 -109.1 -184.4 -106.0 -185.0 -105.3 -186.3 -105.0 -186.9 -104.0 -188.0 -103.8 -188.5 -105.0 -190.0 -105.7 -192.4 -105.0 -191.0 -102.5 -187.2 -98.0 -195.3 -68.0 -199.2 -43.0 -201.0 -35.0 -210.8 -8.0 -231.3 24.0 -243.4 50.0 -246.6 60.0 -251.3 85.0 -251.8 110.0 -250.8 121.0 -245.6 149.0 -235.1 179.0 -223.6 200.0 -219.0 207.1 -194.0 233.4 -168.0 254.5 -159.0 260.5 -131.0 276.7 -100.0 289.8 -90.0 292.9 -49.0 298.9 1.0 300.0 38.0 299.6 44.9 300.0 49.9 301.0 52.3 302.0 53.7 304.0 54.3 313.0 56.6 329.0 -370.0 329.0 -370.0 -300.0 -369.0 -300.0ZM-199.3 -105.0L-198.0 -104.1 -197.1 -105.0 -199.3 -105.0Z"/>
<path fill-rule="evenodd" fill="#ff5500" d="M-369.0 -300.0L-108.6 -300.0 -109.2 -298.0 -113.0 -292.0 -115.0 -289.8 -117.0 -289.1 -142.0 -293.6 -157.0 -295.3 -164.0 -294.9 -166.0 -293.8 -167.5 -292.0 -170.1 -280.0 -170.6 -266.0 -173.7 -247.0 -174.1 -233.0 -177.0 -210.0 -178.6 -202.0 -180.4 -176.0 -184.4 -136.0 -184.7 -119.0 -183.8 -114.0 -184.8 -106.0 -188.0 -105.0 -189.0 -105.8 -192.0 -105.8 -192.8 -105.0 -192.9 -104.0 -191.1 -101.0 -193.3 -99.0 -206.1 -82.0 -228.0 -61.1 -250.3 -44.0 -267.3 -27.0 -284.0 -4.5 -297.0 20.5 -302.0 31.9 -311.0 55.0 -316.0 80.4 -316.8 88.0 -316.8 101.0 -315.2 131.0 -316.0 138.0 -317.1 141.0 -319.0 143.5 -321.0 144.7 -329.0 146.7 -331.0 148.3 -332.2 151.0 -332.2 163.0 -328.0 176.0 -327.7 179.0 -328.0 179.4 -330.0 179.1 -338.0 175.4 -347.0 168.9 -350.0 167.4 -352.0 167.2 -355.0 169.7 -365.2 185.0 -368.0 187.4 -370.0 188.0 -370.0 -300.0 -369.0 -300.0ZM-204.9 -105.0L-204.0 -103.0 -203.0 -102.4 -198.0 -101.0 -197.0 -101.3 -193.8 -105.0 -198.0 -105.7 -204.9 -105.0Z"/>
<path fill="#ff2a00" d="M-356.3 -286.6 -185.6 -286.6 -185.6 -108.9 -214.6 -111.4 -239.9 -116.4 -277.9 -123.9 -328.4 -130.2 -356.3 -131.4Z"/>
<path fill="#ff5500" d="M-355.3 -286.6 -186.6 -286.6 -193.8 -284.0 -214.4 -280.9 -252.5 -276.3 -302.9 -277.4 -332.7 -281.9 -353.3 -285.5Z"/>
<path d="M91.0 -1.6 95.6 -1.5 100.2 -1.1 104.8 -0.2 109.5 1.2 114.0 3.2 118.6 5.8 123.0 9.2 127.2 13.4 131.2 18.6 134.9 24.6 138.2 31.7 140.8 39.9 142.8 49.2M84.7 33.4 88.9 35.2 93.0 37.4 96.9 39.9 100.7 43.0 104.1 46.6 107.3 50.7 110.1 55.6 112.4 61.1 114.1 67.4 115.2 74.4 115.5 82.2 114.8 90.8 113.1 100.1M65.5 63.2 68.7 66.5 71.6 70.1 74.3 74.0 76.6 78.2 78.4 82.9 79.7 87.9 80.4 93.5 80.5 99.5 79.7 105.9 78.0 112.8 75.3 120.1 71.4 127.8 66.2 135.7M36.3 83.5 38.0 87.8 39.3 92.2 40.3 96.8 40.8 101.6 40.7 106.6 40.0 111.7 38.5 117.1 36.3 122.7 33.1 128.3 28.9 134.1 23.5 139.8 17.0 145.4 9.2 150.7M1.6 91.0 1.5 95.6 1.1 100.2 0.2 104.8 -1.2 109.5 -3.2 114.0 -5.8 118.6 -9.2 123.0 -13.4 127.2 -18.6 131.2 -24.6 134.9 -31.7 138.2 -39.9 140.8 -49.2 142.8M-33.4 84.7 -35.2 88.9 -37.4 93.0 -39.9 96.9 -43.0 100.7 -46.6 104.1 -50.7 107.3 -55.6 110.1 -61.1 112.4 -67.4 114.1 -74.4 115.2 -82.2 115.5 -90.8 114.8 -100.1 113.1M-63.2 65.5 -66.5 68.7 -70.1 71.6 -74.0 74.3 -78.2 76.6 -82.9 78.4 -87.9 79.7 -93.5 80.4 -99.5 80.5 -105.9 79.7 -112.8 78.0 -120.1 75.3 -127.8 71.4 -135.7 66.2M-83.5 36.3 -87.8 38.0 -92.2 39.3 -96.8 40.3 -101.6 40.8 -106.6 40.7 -111.7 40.0 -117.1 38.5 -122.7 36.3 -128.3 33.1 -134.1 28.9 -139.8 23.5 -145.4 17.0 -150.7 9.2M-91.0 1.6 -95.6 1.5 -100.2 1.1 -104.8 0.2 -109.5 -1.2 -114.0 -3.2 -118.6 -5.8 -123.0 -9.2 -127.2 -13.4 -131.2 -18.6 -134.9 -24.6 -138.2 -31.7 -140.8 -39.9 -142.8 -49.2M-84.7 -33.4 -88.9 -35.2 -93.0 -37.4 -96.9 -39.9 -100.7 -43.0 -104.1 -46.6 -107.3 -50.7 -110.1 -55.6 -112.4 -61.1 -114.1 -67.4 -115.2 -74.4 -115.5 -82.2 -114.8 -90.8 -113.1 -100.1M-65.5 -63.2 -68.7 -66.5 -71.6 -70.1 -74.3 -74.0 -76.6 -78.2 -78.4 -82.9 -79.7 -87.9 -80.4 -93.5 -80.5 -99.5 -79.7 -105.9 -78.0 -112.8 -75.3 -120.1 -71.4 -127.8 -66.2 -135.7M-36.3 -83.5 -38.0 -87.8 -39.3 -92.2 -40.3 -96.8 -40.8 -101.6 -40.7 -106.6 -40.0 -111.7 -38.5 -117.1 -36.3 -122.7 -33.1 -128.3 -28.9 -134.1 -23.5 -139.8 -17.0 -145.4 -9.2 -150.7M-1.6 -91.0 -1.5 -95.6 -1.1 -100.2 -0.2 -104.8 1.2 -109.5 3.2 -114.0 5.8 -118.6 9.2 -123.0 13.4 -127.2 18.6 -131.2 24.6 -134.9 31.7 -138.2 39.9 -140.8 49.2 -142.8M33.4 -84.7 35.2 -88.9 37.4 -93.0 39.9 -96.9 43.0 -100.7 46.6 -104.1 50.7 -107.3 55.6 -110.1 61.1 -112.4 67.4 -114.1 74.4 -115.2 82.2 -115.5 90.8 -114.8 100.1 -113.1M63.2 -65.5 66.5 -68.7 70.1 -71.6 74.0 -74.3 78.2 -76.6 82.9 -78.4 87.9 -79.7 93.5 -80.4 99.5 -80.5 105.9 -79.7 112.8 -78.0 120.1 -75.3 127.8 -71.4 135.7 -66.2M83.5 -36.3 87.8 -38.0 92.2 -39.3 96.8 -40.3 101.6 -40.8 106.6 -40.7 111.7 -40.0 117.1 -38.5 122.7 -36.3 128.3 -33.1 134.1 -28.9 139.8 -23.5 145.4 -17.0 150.7 -9.2" fill="none" stroke="#fff" stroke-opacity="0.75" stroke-width="1.3"/>
</g>
<circle cx="0" cy="0" r="90.3" fill="#fff"/>
</g>
<rect x="6" y="1276.3" width="32" height="19.7" fill="#0000ff"/>
<rect x="6" y="1257" width="32" height="19.7" fill="#002aff"/>
<rect x="6" y="1237.6" width="32" height="19.7" fill="#0055ff"/>
<rect x="6" y="1218.3" width="32" height="19.7" fill="#0080ff"/>
<rect x="6" y="1199" width="32" height="19.7" fill="#00aaff"/>
<rect x="6" y="1179.7" width="32" height="19.7" fill="#00d4ff"/>
<rect x="6" y="1160.4" width="32" height="19.7" fill="#00ffff"/>
<rect x="6" y="1141.1" width="32" height="19.7" fill="#00ffd4"/>
<rect x="6" y="1121.8" width="32" height="19.7" fill="#00ffaa"/>
<rect x="6" y="1102.4" width="32" height="19.7" fill="#00ff80"/>
<rect x="6" y="1083.1" width="32" height="19.7" fill="#00ff55"/>
<rect x="6" y="1063.8" width="32" height="19.7" fill="#00ff2b"/>
<rect x="6" y="1044.5" width="32" height="19.7" fill="#00ff00"/>
<rect x="6" y="1025.2" width="32" height="19.7" fill="#2aff00"/>
<rect x="6" y="1005.8" width="32" height="19.7" fill="#55ff00"/>
<rect x="6" y="986.5" width="32" height="19.7" fill="#80ff00"/>
<rect x="6" y="967.2" width="32" height="19.7" fill="#aaff00"/>
<rect x="6" y="947.9" width="32" height="19.7" fill="#d5ff00"/>
<rect x="6" y="928.6" width="32" height="19.7" fill="#ffff00"/>
<rect x="6" y="909.3" width="32" height="19.7" fill="#ffd500"/>
<rect x="6" y="890" width="32" height="19.7" fill="#ffaa00"/>
<rect x="6" y="870.6" width="32" height="19.7" fill="#ff8000"/>
<rect x="6" y="851.3" width="32" height="19.7" fill="#ff5500"/>
<rect x="6" y="832" width="32" height="19.7" fill="#ff2a00"/>
<path d="M38 1295.6h6.5M38 1276.3h4M38 1257h6.5M38 1237.6h4M38 1218.3h6.5M38 1199h4M38 1179.7h6.5M38 1160.4h4M38 1141.1h6.5M38 1121.8h4M38 1102.4h6.5M38 1083.1h4M38 1063.8h6.5M38 1044.5h4M38 1025.2h6.5M38 1005.8h4M38 986.5h6.5M38 967.2h4M38 947.9h6.5M38 928.6h4M38 909.3h6.5M38 890h4M38 870.6h6.5M38 851.3h4M38 832h6.5" stroke="#666" stroke-width="1" fill="none"/>
<rect x="6" y="832" width="32" height="463.6" fill="none" stroke="#666" stroke-width="0.6"/>
<text transform="translate(53.7 843.8) scale(0.980 1)" class="lv" style="font-size:26.8px">103648.13</text>
<text transform="translate(53.7 882.4) scale(0.980 1)" class="lv" style="font-size:26.8px">103245.99</text>
<text transform="translate(53.7 921.1) scale(0.980 1)" class="lv" style="font-size:26.8px">102843.87</text>
<text transform="translate(53.7 959.7) scale(0.980 1)" class="lv" style="font-size:26.8px">102441.73</text>
<text transform="translate(53.7 998.3) scale(0.980 1)" class="lv" style="font-size:26.8px">102039.61</text>
<text transform="translate(53.7 1037) scale(0.980 1)" class="lv" style="font-size:26.8px">101637.48</text>
<text transform="translate(53.7 1075.6) scale(0.980 1)" class="lv" style="font-size:26.8px">101235.34</text>
<text transform="translate(53.7 1114.2) scale(0.980 1)" class="lv" style="font-size:26.8px">100833.22</text>
<text transform="translate(53.7 1152.9) scale(0.980 1)" class="lv" style="font-size:26.8px">100431.09</text>
<text transform="translate(53.7 1191.5) scale(0.980 1)" class="lv" style="font-size:26.8px">100028.96</text>
<text transform="translate(53.7 1230.1) scale(0.980 1)" class="lv" style="font-size:26.8px">99626.83</text>
<text transform="translate(53.7 1268.8) scale(0.980 1)" class="lv" style="font-size:26.8px">99224.70</text>
<text transform="translate(53.7 1307.4) scale(0.980 1)" class="lv" style="font-size:26.8px">98822.57</text>
<text transform="translate(5.6 785.8) scale(0.992 1)" class="lv" style="font-size:26.6px">Pressure</text>
<text transform="translate(5.8 810.3) scale(0.985 1)" class="lv" style="font-size:23.7px">Contour 1</text>
<text transform="translate(6 1338.5) scale(1.026 1)" class="lv" style="font-size:25.5px">[Pa]</text>
<text transform="translate(25.3 734) scale(0.927 1)" class="pl" style="font-size:66.1px">(c)</text>
<text x="433.8" y="813.7" class="tt" style="font-size:46.6px">m=0.331</text>
<text transform="translate(629.4 813.9) scale(1.184 1)" class="ti" style="font-size:50.4px">m</text>
<text transform="translate(674.2 793.8) scale(1.114 1)" class="ts" style="font-size:32.4px">3</text>
<text transform="translate(698.7 823.1) scale(1.082 1)" class="ts" style="font-size:69.9px">/</text>
<text transform="translate(722.5 813.4) scale(1.162 1)" class="ti" style="font-size:49.4px">s</text>
<g transform="translate(1434.5 1057) scale(0.979 0.988)">
<clipPath id="cld"><path d="M-183.4 -102.8 -182.8 -102.1 -182.1 -101.4 -181.5 -100.6 -180.9 -99.9 -180.2 -99.3 -179.5 -98.8 -178.7 -98.4 -177.9 -98.0 -177.1 -97.7 -176.2 -97.5 -175.3 -97.5 -174.5 -97.6 -173.7 -97.9 -172.8 -98.4 -172.0 -99.1 -171.2 -99.9 -170.4 -100.7 -169.5 -101.6 -168.7 -102.5 -167.9 -103.4 -167.1 -104.4 -166.3 -105.5 -165.3 -106.9 -164.2 -108.6 -163.0 -110.5 -161.8 -112.7 -160.5 -115.1 -159.0 -117.7 -157.2 -120.7 -155.0 -124.0 -152.3 -127.9 -149.2 -132.5 -145.7 -137.4 -142.2 -142.3 -138.7 -146.9 -135.4 -150.9 -132.5 -154.2 -129.8 -157.0 -127.2 -159.5 -124.5 -162.0 -121.5 -164.6 -118.0 -167.6 -114.0 -171.1 -109.7 -175.0 -105.1 -179.1 -100.3 -183.1 -95.4 -186.9 -90.4 -190.3 -85.3 -193.2 -79.9 -195.9 -74.5 -198.4 -68.9 -200.6 -63.4 -202.8 -57.9 -204.9 -52.5 -207.0 -47.0 -209.0 -41.6 -210.8 -36.2 -212.6 -30.7 -214.1 -25.3 -215.5 -19.9 -216.7 -14.5 -217.6 -9.0 -218.4 -3.6 -219.1 1.8 -219.6 7.2 -219.9 12.6 -220.1 18.1 -220.1 23.5 -220.0 28.9 -219.7 34.4 -219.3 39.8 -218.8 45.2 -218.2 50.6 -217.4 56.0 -216.5 61.5 -215.5 66.9 -214.3 72.3 -213.1 77.7 -211.7 83.2 -210.3 88.6 -208.7 94.0 -207.0 99.5 -205.2 104.9 -203.3 110.4 -201.3 115.9 -199.2 121.4 -197.0 126.8 -194.8 132.2 -192.5 137.5 -190.3 142.6 -188.3 147.7 -186.5 152.6 -184.6 157.5 -182.6 162.4 -180.2 167.4 -177.2 172.5 -173.5 177.7 -169.2 183.0 -164.4 188.1 -159.5 193.1 -154.6 197.7 -149.9 202.0 -145.4 206.1 -140.9 210.0 -136.4 213.7 -131.8 217.2 -127.2 220.5 -122.6 223.5 -118.0 226.1 -113.4 228.6 -108.8 230.9 -104.1 233.3 -99.1 235.7 -93.7 238.3 -87.8 241.0 -81.5 243.7 -74.8 246.3 -68.2 248.7 -61.8 250.9 -55.8 252.8 -50.3 254.6 -45.0 256.1 -40.0 257.5 -35.1 258.8 -30.2 260.0 -25.4 261.1 -20.8 262.0 -16.4 262.8 -12.1 263.5 -7.7 264.0 -2.9 264.5 2.4 264.9 8.4 265.1 14.8 265.3 21.6 265.3 28.6 265.3 35.6 265.2 42.4 265.1 49.1 265.0 55.8 264.8 62.5 264.5 69.2 264.0 75.8 263.2 82.4 262.1 89.0 260.7 95.7 259.2 102.4 257.5 108.8 255.7 114.9 254.0 120.4 252.3 125.2 250.5 129.4 248.7 133.2 246.8 136.8 244.9 140.5 243.1 144.4 241.3 148.5 239.6 152.7 238.0 156.9 236.2 161.2 234.3 165.5 232.1 169.9 229.7 174.4 227.2 178.9 224.4 183.5 221.6 188.2 218.7 192.8 215.6 197.4 212.5 202.0 209.3 206.6 206.0 211.1 202.5 215.7 198.9 220.3 195.0 224.9 190.9 229.5 186.6 234.3 182.1 239.0 177.4 243.6 172.6 248.1 167.5 252.4 162.2 256.5 156.6 260.4 150.8 264.1 144.9 267.7 139.0 271.1 133.2 274.3 127.5 277.3 121.7 280.0 116.0 282.5 110.3 284.9 104.5 287.2 98.8 289.4 93.0 291.5 87.0 293.6 81.0 295.5 75.2 297.3 69.6 299.0 64.5 300.4 59.9 301.5 55.8 302.4 52.0 303.1 48.2 303.8 44.3 304.4 40.2 305.2 35.8 306.1 31.2 307.1 26.5 308.1 21.7 309.1 17.0 310.0 12.3 310.8 7.6 311.5 3.0 312.2 -1.7 312.8 -6.3 313.4 -11.0 313.9 -15.6 314.3 -20.2 314.7 -24.9 315.0 -29.5 315.3 -34.2 315.5 -38.9 315.7 -43.5 315.7 -48.1 315.7 -52.8 315.6 -57.4 315.4 -62.1 315.1 -66.8 314.8 -71.4 314.3 -76.0 313.7 -80.7 313.0 -85.3 312.2 -90.0 311.3 -94.6 310.4 -99.3 309.4 -103.9 308.4 -108.6 307.3 -113.2 306.2 -117.9 305.0 -122.6 303.8 -127.2 302.4 -131.9 301.0 -136.6 299.6 -141.4 298.1 -146.1 296.4 -150.7 294.6 -155.1 292.6 -159.3 290.3 -163.4 287.6 -167.4 284.8 -171.3 281.9 -175.2 279.1 -179.0 276.4 -182.7 274.0 -186.1 271.8 -189.5 269.7 -193.0 267.4 -196.9 264.8 -201.3 261.8 -206.4 258.3 -212.0 254.4 -218.0 250.2 -224.1 245.8 -230.2 241.2 -236.0 236.4 -241.6 231.4 -247.3 226.2 -252.8 220.7 -258.3 215.2 -263.5 209.5 -268.5 203.9 -273.2 198.2 -277.7 192.5 -281.9 186.7 -286.0 180.9 -290.0 175.0 -293.9 169.2 -297.7 163.4 -301.4 157.6 -304.9 151.8 -308.3 146.0 -311.6 140.2 -314.8 134.4 -317.8 128.6 -320.7 122.8 -323.5 117.0 -326.1 111.3 -328.6 105.5 -331.0 99.7 -333.2 93.9 -335.3 88.1 -337.2 82.3 -339.0 76.6 -340.8 70.8 -342.5 65.0 -344.2 59.2 -346.0 53.5 -347.6 47.7 -349.2 42.0 -350.6 36.2 -351.8 30.4 -352.7 24.6 -353.4 18.8 -353.9 12.9 -354.3 7.1 -354.8 1.2 -355.3 -4.6 -356.0 -4.6 -356.0 -286.1 -185.0 -286.1 -185.0 -102.8Z"/></clipPath>
<g clip-path="url(#cld)">
<path d="M-183.4 -102.8 -182.8 -102.1 -182.1 -101.4 -181.5 -100.6 -180.9 -99.9 -180.2 -99.3 -179.5 -98.8 -178.7 -98.4 -177.9 -98.0 -177.1 -97.7 -176.2 -97.5 -175.3 -97.5 -174.5 -97.6 -173.7 -97.9 -172.8 -98.4 -172.0 -99.1 -171.2 -99.9 -170.4 -100.7 -169.5 -101.6 -168.7 -102.5 -167.9 -103.4 -167.1 -104.4 -166.3 -105.5 -165.3 -106.9 -164.2 -108.6 -163.0 -110.5 -161.8 -112.7 -160.5 -115.1 -159.0 -117.7 -157.2 -120.7 -155.0 -124.0 -152.3 -127.9 -149.2 -132.5 -145.7 -137.4 -142.2 -142.3 -138.7 -146.9 -135.4 -150.9 -132.5 -154.2 -129.8 -157.0 -127.2 -159.5 -124.5 -162.0 -121.5 -164.6 -118.0 -167.6 -114.0 -171.1 -109.7 -175.0 -105.1 -179.1 -100.3 -183.1 -95.4 -186.9 -90.4 -190.3 -85.3 -193.2 -79.9 -195.9 -74.5 -198.4 -68.9 -200.6 -63.4 -202.8 -57.9 -204.9 -52.5 -207.0 -47.0 -209.0 -41.6 -210.8 -36.2 -212.6 -30.7 -214.1 -25.3 -215.5 -19.9 -216.7 -14.5 -217.6 -9.0 -218.4 -3.6 -219.1 1.8 -219.6 7.2 -219.9 12.6 -220.1 18.1 -220.1 23.5 -220.0 28.9 -219.7 34.4 -219.3 39.8 -218.8 45.2 -218.2 50.6 -217.4 56.0 -216.5 61.5 -215.5 66.9 -214.3 72.3 -213.1 77.7 -211.7 83.2 -210.3 88.6 -208.7 94.0 -207.0 99.5 -205.2 104.9 -203.3 110.4 -201.3 115.9 -199.2 121.4 -197.0 126.8 -194.8 132.2 -192.5 137.5 -190.3 142.6 -188.3 147.7 -186.5 152.6 -184.6 157.5 -182.6 162.4 -180.2 167.4 -177.2 172.5 -173.5 177.7 -169.2 183.0 -164.4 188.1 -159.5 193.1 -154.6 197.7 -149.9 202.0 -145.4 206.1 -140.9 210.0 -136.4 213.7 -131.8 217.2 -127.2 220.5 -122.6 223.5 -118.0 226.1 -113.4 228.6 -108.8 230.9 -104.1 233.3 -99.1 235.7 -93.7 238.3 -87.8 241.0 -81.5 243.7 -74.8 246.3 -68.2 248.7 -61.8 250.9 -55.8 252.8 -50.3 254.6 -45.0 256.1 -40.0 257.5 -35.1 258.8 -30.2 260.0 -25.4 261.1 -20.8 262.0 -16.4 262.8 -12.1 263.5 -7.7 264.0 -2.9 264.5 2.4 264.9 8.4 265.1 14.8 265.3 21.6 265.3 28.6 265.3 35.6 265.2 42.4 265.1 49.1 265.0 55.8 264.8 62.5 264.5 69.2 264.0 75.8 263.2 82.4 262.1 89.0 260.7 95.7 259.2 102.4 257.5 108.8 255.7 114.9 254.0 120.4 252.3 125.2 250.5 129.4 248.7 133.2 246.8 136.8 244.9 140.5 243.1 144.4 241.3 148.5 239.6 152.7 238.0 156.9 236.2 161.2 234.3 165.5 232.1 169.9 229.7 174.4 227.2 178.9 224.4 183.5 221.6 188.2 218.7 192.8 215.6 197.4 212.5 202.0 209.3 206.6 206.0 211.1 202.5 215.7 198.9 220.3 195.0 224.9 190.9 229.5 186.6 234.3 182.1 239.0 177.4 243.6 172.6 248.1 167.5 252.4 162.2 256.5 156.6 260.4 150.8 264.1 144.9 267.7 139.0 271.1 133.2 274.3 127.5 277.3 121.7 280.0 116.0 282.5 110.3 284.9 104.5 287.2 98.8 289.4 93.0 291.5 87.0 293.6 81.0 295.5 75.2 297.3 69.6 299.0 64.5 300.4 59.9 301.5 55.8 302.4 52.0 303.1 48.2 303.8 44.3 304.4 40.2 305.2 35.8 306.1 31.2 307.1 26.5 308.1 21.7 309.1 17.0 310.0 12.3 310.8 7.6 311.5 3.0 312.2 -1.7 312.8 -6.3 313.4 -11.0 313.9 -15.6 314.3 -20.2 314.7 -24.9 315.0 -29.5 315.3 -34.2 315.5 -38.9 315.7 -43.5 315.7 -48.1 315.7 -52.8 315.6 -57.4 315.4 -62.1 315.1 -66.8 314.8 -71.4 314.3 -76.0 313.7 -80.7 313.0 -85.3 312.2 -90.0 311.3 -94.6 310.4 -99.3 309.4 -103.9 308.4 -108.6 307.3 -113.2 306.2 -117.9 305.0 -122.6 303.8 -127.2 302.4 -131.9 301.0 -136.6 299.6 -141.4 298.1 -146.1 296.4 -150.7 294.6 -155.1 292.6 -159.3 290.3 -163.4 287.6 -167.4 284.8 -171.3 281.9 -175.2 279.1 -179.0 276.4 -182.7 274.0 -186.1 271.8 -189.5 269.7 -193.0 267.4 -196.9 264.8 -201.3 261.8 -206.4 258.3 -212.0 254.4 -218.0 250.2 -224.1 245.8 -230.2 241.2 -236.0 236.4 -241.6 231.4 -247.3 226.2 -252.8 220.7 -258.3 215.2 -263.5 209.5 -268.5 203.9 -273.2 198.2 -277.7 192.5 -281.9 186.7 -286.0 180.9 -290.0 175.0 -293.9 169.2 -297.7 163.4 -301.4 157.6 -304.9 151.8 -308.3 146.0 -311.6 140.2 -314.8 134.4 -317.8 128.6 -320.7 122.8 -323.5 117.0 -326.1 111.3 -328.6 105.5 -331.0 99.7 -333.2 93.9 -335.3 88.1 -337.2 82.3 -339.0 76.6 -340.8 70.8 -342.5 65.0 -344.2 59.2 -346.0 53.5 -347.6 47.7 -349.2 42.0 -350.6 36.2 -351.8 30.4 -352.7 24.6 -353.4 18.8 -353.9 12.9 -354.3 7.1 -354.8 1.2 -355.3 -4.6 -356.0 -4.6 -356.0 -286.1 -185.0 -286.1 -185.0 -102.8Z" fill="#0000ff"/>
<path fill-rule="evenodd" fill="#002aff" d="M-369.0 -300.0L279.0 -300.0 279.0 329.0 -370.0 329.0 -370.0 -300.0 -369.0 -300.0Z"/>
<path fill-rule="evenodd" fill="#0055ff" d="M-369.0 -300.0L279.0 -300.0 279.0 329.0 -370.0 329.0 -370.0 -300.0 -369.0 -300.0Z"/>
<path fill-rule="evenodd" fill="#0080ff" d="M-369.0 -300.0L279.0 -300.0 279.0 329.0 -370.0 329.0 -370.0 -300.0 -369.0 -300.0Z"/>
<path fill-rule="evenodd" fill="#00aaff" d="M-369.0 -300.0L279.0 -300.0 279.0 329.0 -370.0 329.0 -370.0 -300.0 -369.0 -300.0Z"/>
<path fill-rule="evenodd" fill="#00d4ff" d="M-369.0 -300.0L279.0 -300.0 279.0 329.0 -370.0 329.0 -370.0 -300.0 -369.0 -300.0Z"/>
<path fill-rule="evenodd" fill="#00ffff" d="M-369.0 -300.0L279.0 -300.0 279.0 329.0 -370.0 329.0 -370.0 -300.0 -369.0 -300.0ZM62.9 -60.0L60.7 -56.0 59.4 -49.0 52.9 10.0 52.3 21.0 53.9 34.0 54.0 40.0 50.3 66.0 51.7 70.0 53.0 70.0 56.0 67.0 57.0 67.0 63.0 61.0 64.0 61.0 70.0 67.0 70.0 68.0 73.0 71.0 73.0 72.0 75.0 73.9 76.1 73.0 76.7 71.0 75.9 66.0 73.5 61.0 69.0 55.7 68.9 55.0 70.5 53.0 70.5 52.0 73.3 49.0 73.3 48.0 75.2 46.0 76.2 43.0 77.2 42.0 77.1 41.0 78.1 40.0 78.1 39.0 79.1 38.0 79.1 37.0 82.0 32.1 83.0 32.1 84.0 33.1 86.0 33.1 89.0 35.1 90.0 35.1 93.0 37.1 94.0 37.1 96.0 39.1 97.0 39.1 107.0 49.0 107.0 50.0 109.0 52.0 109.0 53.0 110.0 54.2 110.8 52.0 110.9 49.0 109.6 44.0 107.1 39.0 104.2 35.0 100.3 31.0 96.5 28.0 91.4 25.0 86.0 22.9 85.5 19.0 86.4 18.0 86.3 14.0 87.2 13.0 87.1 1.0 88.1 0.0 87.1 -1.0 88.0 -1.9 100.0 -1.9 101.0 -0.9 105.0 -0.9 106.0 0.1 108.0 0.0 109.0 1.0 111.0 1.0 112.0 2.0 113.0 2.0 116.0 4.0 117.0 4.0 119.0 6.0 120.0 6.0 123.0 9.0 123.8 9.0 123.7 8.0 122.5 4.0 120.0 0.5 115.0 -4.0 110.3 -7.0 105.0 -9.3 99.0 -11.0 93.0 -11.7 88.0 -11.5 87.8 -13.0 86.6 -14.0 86.4 -18.0 85.3 -19.0 85.2 -22.0 84.2 -23.0 84.2 -26.0 83.1 -27.0 83.1 -29.0 81.1 -32.0 81.1 -34.0 80.1 -35.0 83.0 -36.9 85.0 -36.9 88.0 -38.9 90.0 -38.9 91.0 -39.9 95.0 -39.9 96.0 -41.0 111.0 -41.0 112.0 -40.0 115.0 -40.0 116.0 -39.0 117.9 -39.0 116.0 -41.8 113.2 -44.0 109.0 -45.7 99.0 -47.3 88.0 -46.4 77.0 -42.9 76.7 -44.0 75.5 -45.0 75.4 -46.0 73.2 -48.0 73.2 -49.0 67.0 -56.0 67.0 -57.0 64.0 -60.0 62.9 -60.0Z"/>
<path fill-rule="evenodd" fill="#00ffd4" d="M-369.0 -300.0L279.0 -300.0 279.0 329.0 -370.0 329.0 -370.0 -300.0 -369.0 -300.0ZM82.5 -89.0L74.6 -86.0 67.0 -81.8 59.3 -76.0 54.0 -70.5 52.0 -70.6 46.0 -75.0 44.1 -75.0 43.1 -73.0 41.1 -66.0 32.0 -20.1 18.5 54.0 16.1 61.0 12.1 68.0 9.9 78.0 8.0 80.6 3.3 85.0 2.2 87.0 2.1 89.0 2.9 91.0 5.0 91.9 7.0 90.2 7.3 88.0 13.0 87.5 14.0 86.4 18.0 86.3 19.0 85.3 22.0 85.3 23.0 84.2 26.0 84.2 27.0 83.2 29.0 83.2 32.0 81.2 34.0 81.2 35.0 80.1 36.9 83.0 36.9 85.0 38.9 88.0 38.9 90.0 39.9 91.0 39.9 95.0 40.9 96.0 41.0 111.0 40.0 112.0 40.0 113.3 42.0 113.5 44.0 112.9 48.0 109.4 51.0 104.3 52.9 98.0 53.4 92.0 52.9 86.0 51.0 79.3 48.3 74.0 49.0 73.9 52.0 70.6 53.0 70.6 56.0 67.4 57.0 67.4 63.0 61.2 64.0 61.2 69.8 67.0 69.8 68.0 72.8 71.0 72.8 72.0 74.8 74.0 75.8 77.0 78.8 82.0 78.8 84.0 79.8 85.0 79.9 89.0 80.9 90.0 81.0 100.1 86.6 95.0 91.0 89.0 93.0 84.3 93.6 80.0 93.0 74.7 91.0 68.0 88.0 62.0 84.5 57.0 79.7 52.0 74.5 48.0 82.0 32.3 83.0 32.3 84.0 33.3 86.0 33.3 89.0 35.3 90.0 35.3 93.0 37.2 94.0 37.2 96.0 39.2 97.0 39.2 106.8 49.0 106.8 50.0 108.8 52.0 109.8 55.0 111.9 58.0 111.9 60.0 114.0 63.1 116.0 59.0 118.1 53.0 119.2 47.0 119.2 41.0 118.0 36.9 113.0 29.7 105.4 23.0 96.0 18.0 87.0 15.5 86.8 14.0 87.8 13.0 87.3 1.0 88.3 0.0 87.3 -1.0 88.0 -1.7 100.0 -1.8 101.0 -0.8 105.0 -0.8 106.0 0.2 108.0 0.2 109.0 1.2 111.0 1.2 114.0 3.2 117.0 4.2 119.0 6.2 120.0 6.2 129.0 15.0 129.8 15.0 129.9 8.0 128.9 1.0 127.0 -5.0 123.7 -10.0 121.0 -12.3 116.6 -15.0 107.0 -18.6 97.0 -19.8 86.0 -19.0 85.7 -22.0 84.6 -23.0 84.5 -26.0 83.4 -27.0 83.4 -29.0 81.3 -32.0 81.3 -34.0 80.2 -35.0 83.0 -36.8 85.0 -36.8 88.0 -38.8 90.0 -38.8 91.0 -39.8 95.0 -39.8 96.0 -40.8 111.0 -40.8 112.0 -39.8 115.0 -39.8 116.0 -38.8 118.0 -38.8 119.0 -37.8 121.0 -37.9 124.0 -35.9 125.6 -36.0 122.2 -44.0 118.0 -50.2 114.0 -54.0 110.1 -56.0 105.0 -57.0 99.0 -57.3 92.0 -56.6 86.0 -55.1 80.0 -52.8 74.0 -49.5 70.6 -52.0 70.6 -53.0 67.4 -56.0 67.4 -57.0 61.2 -63.0 61.2 -64.0 67.0 -69.9 68.0 -69.9 71.0 -72.9 72.0 -72.9 74.0 -74.9 77.0 -75.9 82.0 -78.9 84.0 -78.9 85.0 -79.9 89.0 -79.9 90.0 -80.9 100.8 -81.0 96.7 -85.0 92.0 -88.1 87.0 -89.5 82.5 -89.0Z"/>
<path fill-rule="evenodd" fill="#00ffaa" d="M-369.0 -300.0L279.0 -300.0 279.0 329.0 -370.0 329.0 -370.0 -300.0 -369.0 -300.0ZM38.2 -96.0L39.0 -96.0 39.0 -96.8 38.2 -96.0ZM37.2 -95.0L38.0 -95.0 38.0 -95.8 37.2 -95.0ZM78.2 -95.0L70.0 -91.9 62.0 -87.0 54.9 -81.0 49.0 -74.0 48.0 -73.9 46.0 -75.6 45.0 -75.5 42.0 -77.3 41.0 -77.3 38.0 -79.2 37.0 -79.2 36.0 -80.1 35.0 -80.1 34.0 -81.1 33.0 -81.1 32.1 -82.0 32.1 -83.0 33.1 -84.0 33.0 -86.0 34.0 -87.0 34.0 -88.0 37.0 -93.0 37.0 -94.8 32.0 -89.1 29.0 -84.0 27.7 -83.0 26.0 -76.0 15.0 -7.5 12.0 7.1 10.0 12.5 7.0 17.0 2.0 22.4 -6.0 28.4 -8.5 32.0 -9.8 36.0 -10.8 42.0 -10.6 58.0 -12.1 68.0 -14.5 74.0 -20.1 81.0 -22.0 85.0 -19.0 85.2 -18.0 86.2 -14.0 86.3 -13.0 87.3 -1.0 87.2 0.0 88.2 1.0 87.2 1.8 88.0 1.8 100.0 0.8 101.0 0.9 105.0 -0.1 106.0 -0.1 108.0 -1.1 109.0 -1.1 111.0 -2.1 112.0 -2.1 113.0 -3.1 114.0 -4.0 117.0 -6.0 119.0 -6.0 120.1 -4.0 121.4 0.0 121.8 4.0 120.8 8.0 118.5 12.0 114.9 17.0 108.0 19.7 101.0 20.9 93.0 20.2 86.0 22.0 85.9 23.0 84.8 26.0 84.6 27.0 83.6 29.0 83.5 32.0 81.4 34.0 81.4 35.0 80.4 36.7 83.0 36.6 85.0 38.7 88.0 38.7 90.0 39.7 91.0 39.7 95.0 40.7 96.0 40.8 111.0 39.8 112.0 39.8 115.0 38.8 116.0 38.8 118.0 37.8 119.0 37.9 121.0 36.9 122.0 36.0 125.0 42.0 123.2 46.8 121.0 55.3 115.0 58.8 111.0 60.9 107.0 62.4 101.0 62.8 94.0 62.0 87.3 60.2 81.0 57.3 75.0 54.0 70.0 56.0 67.8 57.0 67.8 63.0 61.4 64.0 61.4 69.6 67.0 69.6 68.0 72.6 71.0 72.6 72.0 74.6 74.0 75.6 77.0 78.6 82.0 78.6 84.0 79.7 85.0 79.7 89.0 80.7 90.0 80.9 103.0 79.9 104.0 80.0 105.7 87.6 99.0 93.0 92.4 96.8 86.0 99.1 80.0 99.8 74.0 99.1 70.0 97.4 65.0 92.3 56.0 85.7 49.0 77.1 43.0 82.0 32.5 83.0 32.4 84.0 33.5 86.0 33.4 89.0 35.4 90.0 35.4 93.0 37.4 94.0 37.4 96.0 39.4 97.0 39.4 106.6 49.0 106.6 50.0 108.6 52.0 109.6 55.0 111.7 58.0 111.7 60.0 113.8 63.0 113.9 66.0 115.0 67.0 115.0 68.0 119.0 59.8 121.4 52.0 122.8 43.0 122.5 36.0 120.7 30.0 115.2 23.0 107.3 17.0 98.7 13.0 88.0 10.6 87.5 1.0 88.5 0.0 87.4 -1.0 88.0 -1.6 100.0 -1.6 101.0 -0.6 105.0 -0.6 106.0 0.4 108.0 0.4 109.0 1.4 111.0 1.4 114.0 3.4 117.0 4.4 119.0 6.4 120.0 6.4 130.9 17.0 130.9 18.0 132.6 19.0 133.0 12.0 132.6 5.0 131.0 -3.0 129.0 -9.1 126.0 -14.7 123.0 -18.0 118.3 -21.0 112.0 -23.6 106.0 -25.0 99.0 -25.6 92.0 -25.1 85.0 -23.6 84.8 -26.0 83.7 -27.0 83.6 -29.0 81.5 -32.0 81.4 -34.0 80.4 -35.0 83.0 -36.6 85.0 -36.6 88.0 -38.6 90.0 -38.6 91.0 -39.6 95.0 -39.6 96.0 -40.6 111.0 -40.6 112.0 -39.6 115.0 -39.7 116.0 -38.6 118.0 -38.7 119.0 -37.7 121.0 -37.7 124.0 -35.8 125.0 -35.8 127.0 -33.9 129.9 -33.0 126.1 -43.0 121.0 -51.3 115.0 -58.1 109.0 -62.0 105.9 -63.0 101.0 -63.6 90.0 -62.6 80.0 -59.2 71.0 -53.8 70.0 -53.9 68.0 -55.7 67.7 -57.0 61.3 -63.0 61.3 -64.0 67.0 -69.7 68.0 -69.7 71.0 -72.7 72.0 -72.7 74.0 -74.7 77.0 -75.7 82.0 -78.7 84.0 -78.7 85.0 -79.7 89.0 -79.7 90.0 -80.7 103.0 -80.9 104.0 -79.9 106.5 -80.0 99.7 -87.0 92.0 -92.3 85.0 -95.1 82.0 -95.4 78.2 -95.0ZM130.0 -32.0L130.0 -32.5 130.0 -32.0Z"/>
<path fill-rule="evenodd" fill="#00ff80" d="M-369.0 -300.0L279.0 -300.0 279.0 329.0 -370.0 329.0 -370.0 -300.0 -369.0 -300.0ZM47.9 -117.0L45.0 -116.0 41.9 -114.0 32.0 -104.6 25.4 -95.0 21.5 -86.0 19.0 -85.5 18.0 -86.3 14.0 -86.0 8.0 -50.3 6.0 -41.8 3.9 -36.0 1.0 -31.6 -11.0 -18.4 -22.0 -11.2 -26.0 -7.9 -28.8 -4.0 -30.6 1.0 -32.2 9.0 -33.0 17.0 -33.0 27.0 -31.8 41.0 -33.6 54.0 -37.0 66.0 -43.1 76.0 -40.0 78.1 -39.0 78.1 -38.0 79.1 -37.0 79.1 -36.0 80.1 -33.0 81.1 -32.1 82.0 -32.1 83.0 -33.1 84.0 -33.1 86.0 -35.1 89.0 -35.1 90.0 -36.1 91.0 -37.1 94.0 -39.0 96.0 -39.0 97.0 -41.0 99.0 -41.3 100.0 -39.8 103.0 -37.1 105.0 -34.0 105.6 -30.0 105.2 -24.9 103.0 -19.0 98.2 -15.3 93.0 -13.5 88.0 -1.0 87.5 0.0 88.5 1.0 87.5 1.5 88.0 1.6 100.0 0.6 101.0 0.6 105.0 -0.4 106.0 -0.3 108.0 -1.3 109.0 -1.3 111.0 -3.3 114.0 -4.3 117.0 -6.2 119.0 -6.2 120.0 -15.0 129.1 -6.0 130.2 3.0 129.4 12.0 126.2 17.8 122.0 23.5 114.0 26.9 105.0 28.0 95.0 26.5 85.0 27.0 83.9 29.0 83.8 32.0 81.7 34.0 81.6 35.0 80.6 35.4 82.0 36.4 83.0 36.4 85.0 38.5 88.0 38.5 90.0 39.5 91.0 39.5 95.0 40.5 96.0 40.6 111.0 39.6 112.0 39.6 115.0 38.6 116.0 38.6 118.0 37.6 119.0 37.7 121.0 36.7 122.0 35.8 125.0 33.9 127.0 33.0 129.8 40.0 127.8 46.0 125.2 52.0 121.7 58.3 117.0 63.0 112.4 66.2 108.0 68.0 104.0 69.0 99.0 68.8 90.0 66.9 82.0 63.1 74.0 58.0 67.0 63.0 61.6 64.0 61.6 69.4 67.0 69.4 68.0 72.4 71.0 72.4 72.0 74.4 74.0 74.4 75.0 76.4 78.0 76.4 79.0 78.5 82.0 78.4 84.0 79.5 85.0 79.5 89.0 80.5 90.0 80.7 103.0 79.7 104.0 80.0 109.8 87.8 103.0 94.0 95.7 99.7 86.0 103.2 77.0 104.0 70.0 103.3 66.0 101.4 61.0 95.8 52.0 88.6 45.0 79.0 39.1 79.9 38.0 79.9 37.0 80.8 36.0 80.7 35.0 81.7 34.0 82.0 32.6 83.0 32.6 84.0 33.6 86.0 33.6 89.0 35.6 90.0 35.6 93.0 37.6 94.0 37.6 96.0 39.6 97.0 39.6 106.4 49.0 106.4 50.0 108.4 52.0 109.4 55.0 111.5 58.0 111.5 60.0 113.6 63.0 113.7 66.0 114.8 67.0 114.9 72.0 116.0 72.3 121.1 62.0 124.4 50.0 125.3 37.0 124.9 32.0 123.7 27.0 122.0 23.7 119.0 20.0 114.5 16.0 110.0 12.9 100.0 8.6 88.0 6.5 87.7 1.0 88.6 0.0 87.6 -1.0 88.0 -1.4 100.0 -1.4 101.0 -0.4 105.0 -0.4 106.0 0.6 108.0 0.6 109.0 1.6 111.0 1.5 114.0 3.6 117.0 4.5 119.0 6.5 120.0 6.5 130.7 17.0 130.7 18.0 132.8 20.0 132.8 21.0 135.0 23.5 135.8 12.0 134.4 0.0 130.1 -13.0 128.0 -17.2 125.0 -21.5 122.0 -24.2 118.0 -26.5 113.0 -28.4 107.0 -29.8 96.0 -30.1 90.0 -29.2 84.0 -27.6 83.9 -29.0 81.7 -32.0 81.6 -34.0 80.6 -35.0 82.0 -35.4 83.0 -36.4 85.0 -36.4 88.0 -38.4 90.0 -38.4 91.0 -39.4 95.0 -39.4 96.0 -40.4 111.0 -40.5 112.0 -39.5 115.0 -39.5 116.0 -38.5 118.0 -38.5 119.0 -37.5 121.0 -37.5 124.0 -35.6 125.0 -35.6 127.0 -33.7 128.0 -33.7 130.0 -31.8 131.0 -31.9 133.0 -30.0 133.8 -30.0 131.7 -37.0 128.6 -44.0 125.0 -50.0 120.4 -56.0 116.0 -60.7 111.0 -64.8 107.0 -67.1 102.0 -68.4 93.0 -68.2 84.0 -66.1 76.0 -62.5 68.0 -56.9 61.5 -63.0 61.5 -64.0 67.0 -69.5 68.0 -69.5 71.0 -72.5 72.0 -72.5 74.0 -74.5 77.0 -75.5 78.0 -76.5 81.0 -77.5 82.0 -78.5 84.0 -78.5 85.0 -79.5 89.0 -79.5 90.0 -80.5 103.0 -80.7 104.0 -79.7 109.0 -79.9 110.0 -78.9 111.3 -79.0 104.1 -87.0 96.4 -93.0 86.0 -98.1 78.0 -99.7 74.0 -99.2 70.0 -97.9 60.0 -92.4 51.5 -85.0 45.0 -76.5 43.0 -76.8 40.0 -78.6 39.0 -78.5 38.0 -79.5 37.0 -79.4 36.0 -80.4 35.0 -80.3 34.0 -81.3 33.0 -81.3 32.3 -82.0 32.3 -83.0 33.3 -84.0 33.2 -86.0 35.2 -89.0 35.2 -90.0 37.2 -93.0 37.2 -94.0 39.2 -96.0 39.2 -97.0 49.0 -106.8 50.0 -106.8 52.0 -108.8 55.0 -109.8 58.0 -111.8 60.0 -111.8 63.0 -113.9 66.0 -114.0 66.0 -114.5 64.0 -115.3 58.0 -116.9 52.0 -117.4 47.9 -117.0ZM79.0 110.0L79.0 110.5 79.7 110.0 79.0 110.0Z"/>
<path fill-rule="evenodd" fill="#00ff55" d="M-369.0 -300.0L279.0 -300.0 279.0 329.0 -370.0 329.0 -370.0 -300.0 -369.0 -300.0ZM43.1 -121.0L39.5 -120.0 35.7 -118.0 31.0 -114.0 27.4 -110.0 23.1 -104.0 20.0 -98.4 17.2 -92.0 15.9 -87.0 14.0 -86.7 13.0 -87.6 1.0 -87.0 0.0 -88.0 -1.0 -87.0 -2.0 -88.0 -2.0 -90.0 -3.6 -83.0 -6.0 -79.0 -25.0 -58.3 -38.0 -50.5 -46.0 -44.1 -49.5 -39.0 -51.7 -32.0 -54.1 -19.0 -55.2 -5.0 -55.0 6.0 -53.1 22.0 -53.2 26.0 -56.1 45.0 -59.6 57.0 -62.0 61.1 -61.0 64.0 -65.0 68.0 -65.1 72.0 -64.4 74.0 -63.0 75.6 -59.0 77.0 -54.0 76.1 -50.0 73.1 -49.0 73.9 -48.0 73.9 -46.0 75.7 -45.0 75.7 -40.0 78.5 -39.0 78.5 -38.0 79.5 -37.0 79.5 -36.0 80.4 -35.0 80.4 -34.0 81.4 -33.0 81.4 -32.4 83.0 -33.4 84.0 -33.4 86.0 -35.4 89.0 -35.3 90.0 -37.3 93.0 -37.3 94.0 -39.3 96.0 -39.3 97.0 -49.0 106.8 -50.0 106.9 -52.0 108.9 -55.0 109.9 -58.0 112.0 -59.8 112.0 -54.0 116.1 -45.0 119.1 -37.0 119.5 -29.0 117.6 -20.0 112.6 -16.0 109.3 -13.1 106.0 -8.0 97.0 -6.5 92.0 -5.9 88.0 -1.0 87.8 0.0 88.7 1.0 87.7 1.4 100.0 0.4 101.0 0.4 105.0 -0.6 106.0 -0.6 108.0 -1.6 109.0 -1.5 111.0 -3.5 114.0 -4.5 117.0 -6.5 119.0 -6.5 120.0 -17.0 130.9 -18.0 130.9 -19.3 133.0 -14.0 133.9 -7.0 134.2 4.0 132.8 15.3 129.0 20.8 126.0 24.5 123.0 29.0 116.7 32.4 108.0 33.4 102.0 33.6 96.0 32.7 89.0 30.9 83.0 32.0 81.9 34.0 81.8 35.0 80.8 35.2 82.0 36.2 83.0 36.2 85.0 38.3 88.0 38.2 90.0 39.3 91.0 39.3 95.0 40.3 96.0 40.4 111.0 39.3 112.0 39.4 115.0 38.4 116.0 38.4 118.0 37.4 119.0 37.5 121.0 36.5 122.0 35.6 125.0 33.6 127.0 33.7 128.0 31.8 130.0 31.8 131.0 29.0 134.0 29.0 134.5 37.0 132.3 46.0 128.7 52.0 125.2 59.0 119.9 65.2 114.0 70.1 108.0 72.8 103.0 74.0 97.0 73.7 89.0 72.1 82.0 67.9 73.0 61.0 64.1 63.0 61.8 64.0 61.8 69.2 67.0 69.2 68.0 72.2 71.0 72.2 72.0 74.2 74.0 74.2 75.0 76.2 78.0 76.2 79.0 78.3 82.0 78.2 84.0 79.3 85.0 79.3 89.0 80.3 90.0 80.5 103.0 79.5 104.0 79.7 109.0 78.7 110.0 78.9 112.0 77.9 113.0 78.0 115.0 87.8 107.0 95.7 98.0 101.5 88.0 106.0 76.0 107.1 71.0 107.3 66.0 106.5 62.0 105.0 58.3 100.0 50.1 96.3 46.0 91.6 42.0 81.0 35.9 82.0 32.8 83.0 32.8 84.0 33.8 86.0 33.8 89.0 35.8 90.0 35.8 93.0 37.8 94.0 37.8 96.0 39.8 97.0 39.8 106.3 49.0 106.2 50.0 108.3 52.0 109.3 55.0 111.3 58.0 111.3 60.0 113.4 63.0 113.5 66.0 114.6 67.0 114.7 72.0 115.8 73.0 116.0 77.9 119.5 72.0 122.8 65.0 125.2 58.0 126.8 51.0 127.6 44.0 127.4 35.0 126.7 28.0 125.3 23.0 121.7 17.0 114.0 10.5 108.0 7.2 102.0 5.1 95.0 3.6 88.0 3.0 87.9 1.0 88.8 0.0 88.0 -1.2 100.0 -1.3 101.0 -0.2 105.0 -0.3 106.0 0.7 108.0 0.7 109.0 1.7 111.0 1.7 114.0 3.7 117.0 4.7 119.0 6.7 120.0 6.7 130.5 17.0 130.5 18.0 134.8 23.0 134.8 24.0 135.9 25.0 135.9 26.0 137.2 28.0 138.3 21.0 138.5 14.0 138.1 7.0 137.0 0.0 134.6 -8.0 131.1 -16.0 128.0 -21.8 125.0 -25.8 122.0 -28.6 119.0 -30.5 110.0 -33.5 104.0 -34.4 97.0 -34.3 90.0 -33.1 83.0 -30.9 81.9 -32.0 81.8 -34.0 80.8 -35.0 82.0 -35.2 83.0 -36.3 85.0 -36.2 88.0 -38.3 90.0 -38.2 91.0 -39.3 95.0 -39.2 96.0 -40.3 111.0 -40.3 112.0 -39.3 115.0 -39.3 116.0 -38.3 118.0 -38.3 119.0 -37.3 121.0 -37.4 124.0 -35.4 125.0 -35.5 127.0 -33.5 128.0 -33.6 130.0 -31.6 131.0 -31.7 134.0 -28.8 135.0 -28.9 137.0 -27.0 137.5 -27.0 135.3 -35.0 132.0 -43.0 128.1 -50.0 123.7 -56.0 119.0 -61.0 110.8 -68.0 105.0 -71.3 100.0 -72.6 91.0 -72.3 82.0 -70.0 74.0 -66.1 66.0 -60.0 65.0 -60.0 61.7 -63.0 61.7 -64.0 67.0 -69.3 68.0 -69.3 71.0 -72.3 72.0 -72.3 74.0 -74.3 75.0 -74.3 78.0 -76.3 79.0 -76.3 82.0 -78.4 84.0 -78.3 85.0 -79.4 89.0 -79.3 90.0 -80.4 103.0 -80.5 104.0 -79.5 109.0 -79.7 110.0 -78.7 112.0 -78.8 113.0 -77.8 115.9 -78.0 107.2 -88.0 98.3 -95.0 92.0 -98.3 85.3 -101.0 80.0 -102.5 75.0 -103.1 71.0 -102.8 67.0 -101.5 61.8 -99.0 56.0 -95.2 47.2 -87.0 41.0 -78.0 38.0 -79.7 37.0 -79.7 36.0 -80.6 35.0 -80.6 34.0 -81.5 33.0 -81.5 32.5 -83.0 33.5 -84.0 33.4 -86.0 35.4 -89.0 35.4 -90.0 37.4 -93.0 37.4 -94.0 39.4 -96.0 39.4 -97.0 49.0 -106.6 50.0 -106.6 52.0 -108.6 55.0 -109.6 58.0 -111.7 60.0 -111.6 63.0 -113.7 66.0 -113.8 67.0 -114.8 72.0 -115.0 72.0 -116.0 69.8 -117.0 60.9 -120.0 50.0 -121.4 43.1 -121.0ZM116.0 -77.0L116.6 -77.0 116.0 -77.9 116.0 -77.0Z"/>
<path fill-rule="evenodd" fill="#00ff2b" d="M-369.0 -300.0L279.0 -300.0 279.0 329.0 -370.0 329.0 -370.0 -300.0 -369.0 -300.0ZM12.6 -130.0L6.2 -128.0 1.0 -125.0 -2.9 -121.0 -9.2 -113.0 -13.0 -106.4 -15.4 -100.0 -16.8 -93.0 -16.7 -87.0 -18.0 -86.8 -19.0 -85.7 -22.0 -85.5 -23.0 -84.4 -26.0 -84.3 -27.0 -83.3 -29.0 -83.2 -32.0 -81.2 -34.0 -81.2 -35.0 -80.1 -36.9 -83.0 -36.9 -85.0 -38.9 -88.0 -38.9 -90.0 -39.9 -91.0 -39.9 -95.0 -41.0 -96.0 -41.0 -102.1 -45.0 -96.9 -47.4 -90.0 -48.4 -82.0 -47.0 -75.0 -48.0 -73.8 -49.0 -73.7 -52.0 -70.5 -53.0 -70.4 -56.0 -67.3 -57.0 -67.3 -63.0 -61.2 -64.0 -61.2 -69.9 -67.0 -69.9 -68.0 -73.0 -71.0 -73.1 -72.0 -74.9 -67.0 -75.2 -61.0 -74.1 -56.0 -71.6 -52.0 -73.5 -49.0 -73.5 -48.0 -75.3 -46.0 -75.3 -45.0 -78.1 -40.0 -78.1 -39.0 -79.1 -38.0 -79.0 -37.0 -80.0 -36.0 -80.4 -34.0 -78.9 -31.0 -78.0 -27.0 -76.7 -11.0 -74.3 8.0 -78.2 28.0 -79.0 30.3 -81.0 33.1 -81.0 34.0 -80.0 35.0 -83.4 37.0 -83.7 41.0 -83.0 43.3 -81.0 45.6 -79.0 46.5 -76.0 46.4 -74.0 47.8 -73.8 49.0 -67.5 56.0 -67.4 57.0 -61.3 63.0 -61.3 64.0 -67.0 69.7 -68.0 69.7 -71.0 72.8 -72.0 72.8 -74.0 74.8 -77.0 75.8 -82.0 78.9 -84.0 78.9 -85.0 79.9 -89.0 80.0 -89.7 81.0 -89.1 84.0 -86.0 88.1 -80.0 91.9 -74.0 93.5 -67.0 93.9 -59.0 92.8 -52.5 90.0 -45.6 85.0 -40.8 79.0 -39.0 78.9 -36.0 80.7 -35.0 80.7 -34.0 81.7 -33.0 81.6 -32.6 83.0 -33.7 84.0 -33.6 86.0 -35.6 89.0 -35.6 90.0 -37.6 93.0 -37.6 94.0 -39.5 96.0 -39.5 97.0 -49.0 106.6 -50.0 106.6 -52.0 108.6 -55.0 109.6 -58.0 111.7 -60.0 111.7 -63.0 113.9 -66.0 113.9 -67.0 115.0 -60.7 119.0 -54.0 121.9 -46.0 123.8 -38.0 124.7 -31.0 124.5 -24.3 123.0 -18.4 120.0 -13.0 115.7 -8.7 111.0 -4.9 105.0 -1.9 97.0 -0.8 89.0 0.0 89.0 1.0 87.9 1.2 100.0 0.1 101.0 0.2 105.0 -0.8 106.0 -0.8 108.0 -1.8 109.0 -1.8 111.0 -3.8 114.0 -4.7 117.0 -6.7 119.0 -6.7 120.0 -17.0 130.6 -18.0 130.6 -23.0 134.9 -26.0 136.0 -17.0 137.7 -4.0 137.7 7.0 135.5 21.7 129.0 26.6 126.0 30.1 123.0 32.6 120.0 34.8 116.0 37.9 106.0 38.3 96.0 36.3 86.0 37.0 86.0 37.0 87.0 38.1 88.0 38.0 90.0 39.1 91.0 39.0 95.0 40.1 96.0 40.2 111.0 39.1 112.0 39.2 115.0 38.1 116.0 38.2 118.0 37.2 119.0 37.2 121.0 36.2 122.0 35.4 125.0 33.4 127.0 33.5 128.0 31.5 130.0 31.6 131.0 28.7 134.0 28.8 135.0 25.9 138.0 26.0 138.9 32.0 137.6 39.0 135.2 45.0 132.7 51.0 129.4 62.0 121.1 70.8 111.0 76.0 103.2 78.1 97.0 77.9 88.0 75.1 78.0 76.0 78.0 77.0 81.0 78.1 82.0 78.0 84.0 79.1 85.0 79.0 89.0 80.1 90.0 80.3 103.0 79.3 104.0 79.5 109.0 78.5 110.0 78.6 112.0 77.6 113.0 77.7 115.0 76.7 116.0 76.9 118.0 75.9 119.0 76.0 120.3 85.0 113.7 94.4 104.0 101.3 94.0 106.0 83.6 109.7 69.0 109.9 62.0 107.7 55.0 102.5 47.0 95.1 40.0 97.0 39.9 106.1 49.0 106.1 50.0 108.1 52.0 109.1 55.0 111.1 58.0 111.1 60.0 113.2 63.0 113.3 66.0 114.4 67.0 114.5 72.0 115.6 73.0 116.0 83.3 120.7 76.0 124.5 68.0 127.4 60.0 129.2 52.0 130.0 45.0 130.0 38.0 128.6 27.0 127.0 20.3 125.0 16.0 122.0 12.2 118.0 8.8 113.0 5.6 103.0 1.7 96.0 0.4 89.0 -0.0 88.0 -1.1 100.0 -1.1 101.0 -0.1 105.0 -0.1 106.0 0.9 108.0 0.9 109.0 1.9 111.0 1.9 114.0 3.9 117.0 4.9 119.0 6.9 120.0 6.9 130.4 17.0 130.3 18.0 134.6 23.0 135.6 26.0 137.8 29.0 137.8 31.0 138.9 32.0 139.0 33.0 139.8 31.0 140.9 24.0 141.3 17.0 141.0 9.0 140.0 2.0 138.3 -5.0 136.1 -11.0 133.1 -17.0 128.0 -25.6 124.0 -30.6 121.0 -33.1 117.0 -35.3 112.0 -36.9 106.0 -38.0 100.0 -38.1 94.0 -37.5 88.0 -36.1 82.0 -33.9 80.9 -35.0 82.0 -35.1 83.0 -36.1 85.0 -36.0 88.0 -38.1 90.0 -38.1 91.0 -39.1 95.0 -39.1 96.0 -40.1 111.0 -40.1 112.0 -39.1 115.0 -39.1 116.0 -38.1 118.0 -38.2 119.0 -37.1 121.0 -37.2 124.0 -35.2 125.0 -35.3 127.0 -33.3 128.0 -33.4 130.0 -31.4 131.0 -31.5 134.0 -28.6 135.0 -28.6 141.0 -23.0 141.5 -23.0 139.3 -32.0 135.5 -42.0 130.6 -51.0 124.5 -59.0 118.2 -65.0 108.0 -72.5 102.0 -75.5 97.0 -76.4 89.0 -75.9 81.0 -73.8 72.0 -69.1 63.3 -62.0 61.9 -63.0 61.9 -64.0 67.0 -69.2 68.0 -69.1 71.0 -72.2 72.0 -72.1 74.0 -74.2 75.0 -74.1 78.0 -76.2 79.0 -76.1 82.0 -78.2 84.0 -78.2 85.0 -79.2 89.0 -79.2 90.0 -80.2 103.0 -80.4 104.0 -79.3 109.0 -79.6 110.0 -78.5 112.0 -78.6 113.0 -77.6 115.0 -77.7 116.0 -76.7 118.0 -76.8 119.0 -75.8 121.9 -75.0 115.9 -83.0 106.0 -92.8 96.0 -99.3 86.0 -103.4 77.0 -105.6 71.0 -106.1 67.0 -105.5 62.6 -104.0 57.0 -101.0 52.0 -97.6 44.0 -89.7 37.8 -80.0 35.0 -80.8 34.0 -81.7 33.0 -81.7 32.7 -83.0 33.7 -84.0 33.6 -86.0 35.7 -89.0 35.6 -90.0 37.6 -93.0 37.6 -94.0 39.6 -96.0 39.6 -97.0 49.0 -106.4 50.0 -106.4 52.0 -108.4 55.0 -109.4 58.0 -111.5 60.0 -111.4 63.0 -113.6 66.0 -113.6 67.0 -114.7 72.0 -114.7 73.0 -115.8 80.2 -116.0 71.0 -120.3 65.0 -122.5 59.0 -123.7 50.0 -124.7 38.0 -123.8 33.0 -122.2 29.4 -120.0 22.4 -113.0 17.0 -105.1 13.0 -96.0 11.1 -88.0 1.0 -87.3 0.0 -88.3 -1.0 -87.3 -1.7 -88.0 -1.8 -100.0 -0.8 -101.0 -0.8 -105.0 0.2 -106.0 0.2 -108.0 1.2 -109.0 1.1 -111.0 3.1 -114.0 4.1 -117.0 6.1 -119.0 6.1 -120.0 16.0 -130.0 16.0 -130.5 12.6 -130.0ZM25.0 139.0L25.5 139.0 25.0 139.0ZM83.0 33.0L82.4 33.0 83.0 33.0ZM85.0 34.0L86.0 34.0 86.0 34.5 85.0 34.0ZM87.0 35.0L88.0 35.0 88.0 35.5 87.0 35.0ZM89.0 36.0L90.0 36.0 90.0 36.6 89.0 36.0ZM91.0 37.0L92.0 37.0 92.0 37.8 90.6 37.0 91.0 37.0ZM93.0 38.0L94.0 37.9 95.0 39.0 95.0 39.9 92.2 38.0 93.0 38.0ZM68.0 66.0L68.0 66.4 67.6 66.0 68.0 66.0ZM69.0 67.0L69.0 67.7 68.5 67.0 69.0 67.0ZM71.0 70.0L71.0 70.4 71.0 70.0ZM72.0 71.0L72.0 72.0 71.4 71.0 72.0 71.0ZM73.0 73.0L73.0 73.7 72.6 73.0 73.0 73.0ZM74.0 74.0L74.0 75.6 73.2 74.0 74.0 74.0ZM75.0 76.0L75.0 77.7 74.2 76.0 75.0 76.0ZM35.0 81.0L35.0 82.4 35.0 81.0ZM36.0 83.0L36.0 85.0 35.3 83.0 36.0 83.0Z"/>
<path fill-rule="evenodd" fill="#00ff00" d="M-369.0 -300.0L279.0 -300.0 279.0 329.0 -370.0 329.0 -370.0 -300.0 -369.0 -300.0ZM14.1 -135.0L7.0 -133.5 -3.2 -130.0 -9.3 -127.0 -14.2 -123.0 -20.0 -114.2 -23.5 -105.0 -25.1 -94.0 -24.1 -85.0 -26.0 -84.8 -27.0 -83.8 -29.0 -83.6 -32.0 -81.5 -34.0 -81.4 -35.0 -80.4 -36.6 -83.0 -36.6 -85.0 -38.6 -88.0 -38.6 -90.0 -39.7 -91.0 -39.7 -95.0 -40.7 -96.0 -40.8 -111.0 -39.8 -112.0 -39.8 -115.0 -38.8 -116.0 -38.8 -118.0 -37.8 -119.0 -37.9 -121.0 -35.9 -124.0 -36.0 -125.9 -43.8 -122.0 -50.4 -117.0 -53.9 -113.0 -56.0 -109.0 -58.5 -101.0 -59.7 -94.0 -59.8 -88.0 -59.0 -79.0 -57.5 -73.0 -55.3 -69.0 -56.0 -67.9 -57.0 -67.9 -63.0 -61.5 -64.0 -61.5 -69.6 -67.0 -69.6 -68.0 -72.6 -71.0 -72.6 -72.0 -74.7 -74.0 -75.7 -77.0 -78.8 -82.0 -78.8 -84.0 -79.8 -85.0 -79.9 -89.0 -80.9 -90.0 -81.0 -98.1 -85.0 -93.2 -87.8 -88.0 -89.5 -82.0 -90.6 -73.0 -90.4 -65.0 -89.2 -57.0 -86.8 -49.0 -83.4 -42.0 -80.0 -38.3 -79.9 -37.0 -80.9 -36.0 -80.8 -35.0 -81.8 -34.0 -82.0 -32.8 -83.0 -32.7 -84.0 -33.7 -86.0 -33.7 -89.0 -35.6 -90.0 -35.6 -91.0 -36.5 -94.0 -37.4 -96.0 -39.3 -97.0 -39.3 -106.0 -48.0 -106.3 -39.0 -105.0 -32.0 -101.5 -24.0 -98.7 -20.0 -94.8 -16.0 -92.0 -13.9 -88.0 -12.2 -87.6 -8.0 -87.3 -1.0 -88.3 0.0 -87.3 1.0 -88.0 1.8 -100.0 1.9 -101.0 0.9 -104.0 1.0 -104.0 5.0 -103.1 9.0 -100.3 14.0 -96.0 18.1 -91.0 20.7 -86.0 21.2 -85.9 22.0 -84.9 23.0 -84.7 26.0 -83.6 27.0 -83.6 29.0 -81.5 32.0 -81.4 34.0 -80.4 35.0 -83.0 36.6 -85.0 36.6 -88.0 38.7 -90.0 38.7 -91.0 39.7 -95.0 39.8 -96.0 40.8 -107.2 41.0 -105.9 47.0 -103.6 52.0 -100.2 56.0 -95.0 59.4 -88.0 61.6 -81.0 61.8 -74.0 60.2 -68.0 56.9 -61.6 63.0 -61.6 64.0 -67.0 69.5 -68.0 69.4 -71.0 72.5 -72.0 72.5 -74.0 74.5 -77.0 75.5 -82.0 78.6 -84.0 78.6 -85.0 79.6 -89.0 79.7 -90.0 80.7 -102.3 81.0 -99.0 86.0 -95.0 90.5 -90.0 94.8 -85.0 98.1 -78.8 101.0 -72.0 102.7 -65.0 102.7 -58.0 101.2 -52.0 98.7 -46.0 95.0 -39.0 88.2 -35.0 81.7 -32.9 82.0 -32.9 83.0 -33.9 84.0 -33.9 86.0 -35.9 89.0 -35.8 90.0 -37.8 93.0 -37.8 94.0 -39.8 96.0 -39.8 97.0 -49.0 106.3 -50.0 106.3 -52.0 108.4 -55.0 109.4 -58.0 111.4 -60.0 111.5 -63.0 113.6 -66.0 113.6 -67.0 114.7 -72.0 114.9 -73.0 116.0 -74.2 116.0 -65.2 122.0 -55.0 126.3 -44.0 128.1 -33.0 128.1 -23.6 127.0 -16.0 124.4 -9.8 120.0 -4.0 113.4 -4.0 115.0 -5.0 116.0 -4.9 117.0 -6.9 119.0 -6.9 120.0 -17.0 130.4 -18.0 130.4 -23.0 134.6 -26.0 135.7 -29.0 137.8 -31.0 137.9 -32.0 139.0 -33.0 139.0 -26.0 140.9 -16.0 141.9 -2.0 141.2 5.0 139.7 11.0 137.6 18.0 134.2 28.0 128.2 32.3 125.0 36.0 121.4 36.1 123.0 35.1 124.0 35.1 125.0 33.2 127.0 33.3 128.0 31.3 130.0 31.4 131.0 28.4 134.0 28.5 135.0 21.0 142.9 20.0 142.9 19.0 144.2 28.0 142.6 37.0 139.8 47.0 135.4 55.0 130.5 62.0 125.0 68.0 118.9 76.4 107.0 80.0 100.5 80.1 103.0 79.1 104.0 79.3 109.0 78.3 110.0 78.4 112.0 77.4 113.0 77.5 115.0 76.5 116.0 76.6 118.0 75.6 119.0 75.7 120.0 74.7 121.0 74.7 122.0 72.9 125.0 73.0 126.7 85.0 118.1 91.0 112.4 97.0 105.5 101.5 99.0 105.0 92.8 107.6 87.0 109.7 80.0 112.4 63.0 113.1 63.0 113.1 66.0 114.2 67.0 114.3 72.0 115.4 73.0 116.0 89.6 121.7 81.0 126.6 71.0 129.7 62.0 131.9 52.0 132.7 43.0 132.2 35.0 129.3 21.0 127.3 15.0 128.0 14.9 130.2 17.0 130.1 18.0 134.4 23.0 135.4 26.0 137.6 29.0 137.6 31.0 139.8 34.0 139.8 36.0 140.9 37.0 141.0 40.0 141.5 40.0 143.1 33.0 144.3 22.0 144.2 13.0 143.3 5.0 141.6 -3.0 139.3 -10.0 133.6 -21.0 126.0 -31.6 121.6 -36.0 123.0 -36.1 124.0 -35.1 125.0 -35.1 127.0 -33.2 128.0 -33.2 130.0 -31.3 131.0 -31.3 134.0 -28.4 135.0 -28.4 142.8 -21.0 142.8 -20.0 146.4 -17.0 143.8 -29.0 139.8 -40.0 134.5 -50.0 127.0 -60.1 118.4 -68.0 105.0 -76.6 98.0 -79.4 90.0 -79.6 90.0 -80.0 103.0 -80.2 104.0 -79.2 109.0 -79.4 110.0 -78.3 112.0 -78.4 113.0 -77.4 115.0 -77.5 116.0 -76.5 118.0 -76.6 119.0 -75.6 120.0 -75.6 121.0 -74.7 122.0 -74.7 123.0 -73.7 124.0 -73.8 127.0 -71.9 128.4 -72.0 123.6 -79.0 116.8 -87.0 109.0 -94.2 101.0 -99.8 92.0 -104.3 84.0 -106.7 71.0 -108.6 63.4 -108.0 56.0 -104.9 48.0 -99.4 41.0 -92.0 35.0 -82.0 32.9 -82.0 32.9 -83.0 33.9 -84.0 33.8 -86.0 35.9 -89.0 35.8 -90.0 37.8 -93.0 37.8 -94.0 39.8 -96.0 39.8 -97.0 49.0 -106.2 50.0 -106.2 52.0 -108.3 55.0 -109.2 58.0 -111.3 60.0 -111.2 63.0 -113.4 66.0 -113.4 67.0 -114.5 72.0 -114.5 73.0 -115.6 87.4 -116.0 80.0 -120.2 66.0 -125.7 53.0 -127.8 43.0 -127.6 34.0 -126.1 29.0 -124.6 25.8 -123.0 21.9 -120.0 17.4 -115.0 14.0 -110.1 9.0 -99.0 6.6 -88.0 1.0 -87.6 0.0 -88.6 -1.0 -87.5 -1.5 -88.0 -1.6 -100.0 -0.5 -101.0 -0.6 -105.0 0.4 -106.0 0.4 -108.0 1.4 -109.0 1.4 -111.0 3.4 -114.0 4.4 -117.0 6.4 -119.0 6.4 -120.0 17.0 -130.8 18.0 -130.8 20.0 -132.9 21.0 -132.9 23.0 -135.0 24.0 -135.0 24.0 -135.8 14.1 -135.0ZM-35.7 -126.0L-35.0 -126.2 -35.7 -126.0ZM115.0 90.0L115.0 90.9 115.7 90.0 115.0 90.0ZM72.0 127.0L72.5 127.0 72.0 127.0ZM85.0 -79.0L86.2 -79.0 85.0 -79.0ZM82.0 -78.0L82.4 -78.0 82.0 -78.0ZM121.0 -37.0L121.0 -36.5 120.2 -37.0 121.0 -37.0ZM127.0 14.0L127.0 14.4 127.0 14.0ZM-2.0 110.3L-2.0 111.0 -2.4 111.0 -2.0 110.3ZM-3.0 112.0L-3.0 113.0 -3.7 113.0 -3.0 112.0ZM37.0 120.1L37.0 121.0 36.3 121.0 37.0 120.1Z"/>
<path fill-rule="evenodd" fill="#2aff00" d="M-369.0 -300.0L279.0 -300.0 279.0 329.0 -370.0 329.0 -370.0 -300.0 -369.0 -300.0ZM19.9 -140.0L10.0 -138.6 -1.0 -135.3 -15.0 -129.0 -21.7 -124.0 -24.2 -121.0 -27.0 -116.0 -29.1 -111.0 -30.7 -105.0 -31.6 -94.0 -30.0 -83.0 -31.0 -82.9 -32.0 -81.8 -34.0 -81.7 -35.0 -80.7 -35.3 -82.0 -36.3 -83.0 -36.3 -85.0 -38.4 -88.0 -38.3 -90.0 -39.4 -91.0 -39.4 -95.0 -40.4 -96.0 -40.5 -111.0 -39.5 -112.0 -39.5 -115.0 -38.5 -116.0 -38.5 -118.0 -37.5 -119.0 -37.6 -121.0 -36.6 -122.0 -35.7 -125.0 -33.7 -127.0 -33.8 -128.0 -31.8 -130.0 -31.9 -131.0 -30.0 -133.4 -37.0 -130.8 -44.0 -127.3 -50.0 -123.4 -57.0 -117.7 -62.1 -112.0 -65.1 -107.0 -66.9 -101.0 -68.0 -93.0 -68.5 -86.0 -68.0 -79.0 -65.7 -70.0 -62.0 -63.5 -63.0 -61.9 -64.0 -61.9 -69.2 -67.0 -69.2 -68.0 -72.3 -71.0 -72.3 -72.0 -74.3 -74.0 -75.3 -77.0 -76.4 -78.0 -77.4 -81.0 -78.5 -82.0 -78.5 -84.0 -79.5 -85.0 -79.5 -89.0 -80.6 -90.0 -80.8 -103.0 -79.8 -104.0 -80.0 -107.2 -81.0 -106.4 -88.0 -99.1 -93.2 -92.0 -97.7 -84.0 -100.7 -76.0 -101.7 -70.0 -101.7 -62.0 -100.5 -52.0 -98.4 -42.0 -99.0 -42.0 -106.4 -49.0 -106.3 -50.0 -108.4 -52.0 -109.5 -55.0 -111.6 -58.0 -111.7 -60.0 -112.8 -61.0 -112.8 -62.0 -114.0 -63.4 -118.0 -53.0 -120.1 -45.0 -120.8 -40.0 -120.7 -35.0 -119.6 -30.0 -117.0 -24.6 -113.0 -18.7 -107.5 -13.0 -100.8 -8.0 -94.0 -4.7 -88.0 -3.3 -87.8 -1.0 -88.8 0.0 -87.7 1.0 -100.0 1.5 -101.0 0.5 -105.0 0.6 -106.0 -0.4 -108.0 -0.4 -109.0 -1.4 -111.0 -1.3 -114.0 -3.3 -117.0 -4.2 -119.0 -6.2 -120.0 -6.2 -126.4 -12.0 -125.9 -5.0 -123.0 7.0 -119.5 14.0 -114.7 20.0 -109.0 25.1 -102.0 29.1 -96.8 31.0 -91.0 32.1 -87.0 32.2 -83.0 31.4 -81.9 32.0 -81.8 34.0 -80.8 35.0 -82.0 35.2 -83.0 36.2 -85.0 36.2 -88.0 38.3 -90.0 38.3 -91.0 39.4 -95.0 39.4 -96.0 40.4 -111.0 40.7 -112.0 39.7 -115.0 39.7 -116.0 38.7 -118.0 38.8 -119.0 37.8 -121.0 37.9 -122.0 36.9 -123.6 37.0 -122.0 42.1 -119.0 49.1 -115.1 56.0 -112.0 60.3 -107.0 65.1 -102.1 68.0 -96.0 70.1 -89.0 71.1 -83.0 70.8 -77.0 69.5 -69.0 66.1 -63.5 62.0 -61.9 63.0 -61.9 64.0 -67.0 69.2 -68.0 69.1 -71.0 72.2 -72.0 72.2 -74.0 74.2 -77.0 75.2 -78.0 76.3 -81.0 77.3 -82.0 78.3 -84.0 78.3 -85.0 79.4 -89.0 79.4 -90.0 80.4 -103.0 80.7 -104.0 79.7 -108.9 80.0 -105.2 86.0 -99.0 93.1 -92.0 98.8 -82.0 104.1 -74.0 107.0 -67.0 108.3 -60.0 108.0 -53.0 105.9 -46.0 102.3 -46.0 103.0 -49.0 106.1 -50.0 106.1 -52.0 108.1 -55.0 109.1 -58.0 111.2 -60.0 111.2 -63.0 113.3 -66.0 113.4 -67.0 114.5 -72.0 114.6 -73.0 115.6 -82.3 116.0 -76.0 121.1 -69.0 125.5 -61.0 129.2 -53.0 131.5 -44.0 132.4 -35.0 132.1 -16.0 128.1 -15.9 129.0 -17.0 130.1 -18.0 130.1 -23.0 134.3 -26.0 135.4 -29.0 137.5 -31.0 137.5 -34.0 139.7 -36.0 139.7 -37.0 140.8 -40.0 140.8 -41.0 141.9 -44.0 142.0 -36.0 144.8 -26.0 146.6 -18.0 147.0 -10.0 146.6 -2.0 145.4 6.0 143.3 13.0 140.6 20.0 136.9 25.0 133.7 32.0 128.2 31.1 131.0 28.2 134.0 28.2 135.0 21.0 142.5 20.0 142.5 16.0 146.7 15.0 146.7 13.0 148.8 12.0 148.8 9.9 151.0 9.9 152.0 9.0 153.0 0.3 153.0 14.0 152.9 29.0 151.3 45.0 147.7 57.0 144.0 70.0 138.5 81.0 132.4 94.0 123.6 105.4 114.0 117.2 102.0 126.2 91.0 133.7 80.0 141.4 66.0 146.6 54.0 151.8 38.0 154.8 24.0 156.6 8.0 156.7 -7.0 155.2 -22.0 152.3 -37.0 147.7 -52.0 142.3 -65.0 135.8 -77.0 126.2 -90.0 117.5 -100.0 115.0 -102.4 114.8 -101.0 119.8 -96.0 119.6 -95.0 122.5 -92.0 122.3 -91.0 123.2 -90.0 123.0 -89.3 110.4 -98.0 103.0 -102.3 94.0 -106.6 86.0 -109.1 79.0 -110.2 64.0 -110.9 58.0 -109.7 51.0 -106.2 51.0 -107.0 52.0 -108.1 55.0 -109.0 58.0 -111.1 60.0 -111.0 63.0 -113.2 66.0 -113.2 67.0 -114.3 72.0 -114.3 73.0 -115.4 89.0 -115.7 90.0 -114.7 95.0 -114.9 96.0 -113.9 98.7 -114.0 92.0 -118.5 84.0 -122.9 75.0 -126.7 66.0 -129.4 58.0 -130.8 51.0 -131.4 44.0 -131.0 38.0 -130.1 26.4 -127.0 22.0 -125.2 18.7 -123.0 12.3 -116.0 8.6 -110.0 5.5 -103.0 3.2 -95.0 2.4 -88.0 1.0 -87.9 0.0 -88.8 -1.2 -88.0 -1.3 -100.0 -0.3 -101.0 -0.3 -105.0 0.7 -106.0 0.7 -108.0 1.7 -109.0 1.6 -111.0 3.7 -114.0 4.6 -117.0 6.6 -119.0 6.6 -120.0 17.0 -130.5 18.0 -130.5 20.0 -132.6 21.0 -132.6 23.0 -134.7 26.0 -135.7 29.0 -137.8 31.0 -137.8 34.0 -140.0 35.6 -140.0 27.0 -140.4 19.9 -140.0ZM49.0 -106.1L50.8 -106.0 48.0 -104.1 48.0 -105.0 49.0 -106.1ZM47.0 -104.0L47.8 -104.0 47.0 -103.4 47.0 -104.0ZM46.0 -103.0L46.5 -103.0 46.0 -102.6 46.0 -103.0ZM40.0 -97.0L40.4 -97.0 40.0 -96.5 40.0 -97.0ZM124.0 -89.1L123.5 -89.0 124.0 -89.1ZM105.0 -79.0L109.0 -79.2 110.0 -78.1 112.0 -78.2 113.0 -77.2 115.0 -77.3 116.0 -76.2 118.0 -76.3 121.0 -74.4 122.0 -74.4 123.0 -73.4 124.0 -73.5 125.0 -72.5 126.0 -72.5 127.0 -71.5 130.0 -70.7 135.0 -66.7 138.0 -66.8 138.8 -66.0 138.8 -64.0 140.7 -61.0 140.7 -60.0 141.7 -59.0 141.7 -57.0 143.6 -54.0 143.6 -52.0 144.6 -51.0 144.5 -49.0 145.5 -48.0 145.4 -46.0 146.4 -45.0 146.2 -43.0 147.2 -42.0 147.0 -39.9 145.0 -41.4 132.7 -58.0 126.0 -65.1 118.0 -71.5 104.6 -79.0 105.0 -79.0ZM128.0 -33.1L128.0 -32.0 127.3 -33.0 128.0 -33.1ZM129.0 -32.1L130.0 -31.1 131.0 -31.1 134.0 -28.2 135.0 -28.2 142.5 -21.0 142.4 -20.0 146.6 -16.0 146.6 -15.0 148.7 -13.0 148.7 -12.0 151.0 -9.7 152.0 -9.7 152.8 -9.0 152.3 17.0 151.1 18.0 151.0 19.8 150.0 18.4 145.7 0.0 141.9 -11.0 136.7 -21.0 128.0 -32.0 129.0 -32.1ZM131.0 19.0L132.1 20.0 132.1 21.0 134.2 23.0 135.2 26.0 137.3 29.0 137.3 31.0 139.4 34.0 139.4 36.0 140.5 37.0 140.6 40.0 141.6 41.0 141.7 44.0 142.7 45.0 142.7 49.0 144.8 50.0 144.8 51.0 143.8 52.0 143.8 54.0 142.8 55.0 142.8 56.0 141.7 57.0 141.8 59.0 139.7 62.0 139.7 63.0 138.6 64.0 138.7 66.0 136.6 69.0 136.6 70.0 134.4 72.0 134.4 73.0 133.3 74.0 133.4 75.0 132.2 76.0 132.3 77.0 131.1 78.0 131.0 79.1 130.5 79.0 130.8 75.0 134.4 57.0 135.4 43.0 134.4 32.0 131.0 20.5 130.6 19.0 131.0 19.0ZM114.0 67.0L114.0 72.0 115.1 73.0 115.6 89.0 114.5 90.0 114.7 95.0 113.7 96.0 113.8 100.0 114.8 101.0 114.9 102.0 102.0 114.8 101.0 114.7 96.0 119.6 95.0 119.5 92.0 122.4 91.0 122.2 90.0 123.1 89.4 123.0 101.6 105.0 108.6 92.0 112.4 80.0 114.0 67.0ZM-45.0 101.7L-45.5 102.0 -45.0 101.7ZM79.0 106.6L79.1 109.0 78.1 110.0 78.1 112.0 77.1 113.0 77.2 115.0 76.2 116.0 76.3 118.0 75.3 119.0 75.3 120.0 73.4 123.0 73.5 124.0 72.5 125.0 72.5 126.0 71.5 127.0 70.7 130.0 66.8 135.0 66.9 138.0 66.0 138.9 64.0 138.8 61.0 140.9 60.0 140.8 59.0 141.9 57.0 141.8 54.0 143.9 52.0 143.8 51.0 144.8 49.0 144.7 48.0 145.8 46.0 145.7 45.0 146.8 43.0 146.7 42.0 147.8 39.0 147.5 38.0 148.8 35.0 148.3 34.0 149.7 31.2 149.0 48.0 139.8 56.0 134.2 63.0 128.4 68.0 123.4 72.0 118.5 75.7 113.0 79.0 106.6ZM-15.0 127.8L-15.7 128.0 -15.0 127.8ZM33.0 127.4L33.0 128.0 32.2 128.0 33.0 127.4ZM29.0 149.9L30.0 149.5 30.0 150.8 28.6 150.0 29.0 149.9Z"/>
<path fill-rule="evenodd" fill="#55ff00" d="M-369.0 -300.0L279.0 -300.0 279.0 329.0 -370.0 329.0 -370.0 -300.0 -369.0 -300.0ZM22.2 -145.0L9.0 -142.8 -4.0 -138.6 -12.0 -134.9 -20.3 -130.0 -28.2 -124.0 -30.7 -121.0 -33.0 -117.0 -36.4 -107.0 -37.4 -97.0 -36.0 -86.0 -37.0 -85.9 -37.0 -87.0 -38.1 -88.0 -38.1 -90.0 -39.1 -91.0 -39.1 -95.0 -40.1 -96.0 -40.2 -111.0 -39.2 -112.0 -39.3 -115.0 -38.2 -116.0 -38.3 -118.0 -37.3 -119.0 -37.3 -121.0 -36.3 -122.0 -35.4 -125.0 -33.5 -127.0 -33.5 -128.0 -31.6 -130.0 -31.6 -131.0 -28.7 -134.0 -28.7 -135.0 -24.0 -140.5 -36.0 -136.3 -48.0 -129.9 -58.0 -122.1 -66.4 -113.0 -71.1 -106.0 -74.2 -98.0 -75.8 -88.0 -75.6 -78.0 -76.0 -78.0 -76.0 -79.0 -78.1 -82.0 -78.1 -84.0 -79.2 -85.0 -79.2 -89.0 -80.2 -90.0 -80.5 -103.0 -79.5 -104.0 -79.8 -109.0 -78.8 -110.0 -78.9 -112.0 -77.9 -113.0 -78.0 -115.2 -80.0 -113.6 -85.1 -109.0 -90.6 -103.0 -99.0 -90.7 -107.2 -73.0 -109.6 -65.0 -110.8 -58.0 -111.0 -60.0 -113.4 -63.0 -113.5 -66.0 -114.7 -67.0 -115.0 -71.8 -120.7 -59.0 -125.1 -44.0 -126.2 -36.0 -126.2 -29.0 -125.3 -23.0 -123.4 -18.0 -119.7 -13.0 -114.0 -7.6 -108.0 -3.4 -101.5 0.0 -105.0 0.1 -106.0 -0.9 -108.0 -0.9 -109.0 -1.9 -111.0 -1.8 -114.0 -3.8 -117.0 -4.7 -119.0 -6.7 -120.0 -6.7 -130.9 -17.0 -131.0 -18.1 -131.7 -18.0 -131.8 -17.0 -131.8 -6.0 -130.0 7.9 -127.3 17.0 -124.0 23.5 -119.0 29.2 -112.0 34.2 -104.0 37.8 -96.0 39.3 -96.0 40.0 -111.0 40.3 -112.0 39.2 -115.0 39.3 -116.0 38.3 -118.0 38.4 -119.0 37.4 -121.0 37.5 -122.0 36.5 -125.0 35.7 -127.0 33.8 -128.0 33.9 -129.0 32.9 -129.8 33.0 -126.8 43.0 -122.7 52.0 -118.6 59.0 -114.1 65.0 -109.0 70.3 -104.0 74.0 -99.0 76.4 -94.0 77.5 -88.0 77.9 -82.0 77.4 -82.0 78.0 -84.0 78.0 -85.0 79.1 -89.0 79.1 -90.0 80.1 -103.0 80.4 -104.0 79.4 -109.0 79.7 -110.0 78.7 -112.0 78.8 -113.0 77.8 -115.5 78.0 -114.0 80.9 -109.5 88.0 -104.6 94.0 -99.4 99.0 -93.0 103.6 -87.0 106.7 -81.0 109.0 -69.0 111.6 -63.0 112.4 -63.0 113.0 -66.0 113.1 -67.0 114.2 -72.0 114.2 -73.0 115.3 -89.0 115.9 -90.0 114.9 -91.9 115.0 -85.0 122.1 -76.0 128.9 -68.0 133.5 -60.0 136.4 -54.0 137.4 -43.0 137.3 -33.0 136.2 -25.0 134.1 -25.0 135.1 -28.0 136.1 -29.0 137.1 -31.0 137.1 -34.0 139.2 -36.0 139.2 -37.0 140.3 -40.0 140.3 -41.0 141.3 -44.0 141.3 -45.0 142.4 -49.0 142.3 -50.0 144.3 -51.0 144.3 -52.0 143.3 -54.0 143.3 -57.0 141.2 -59.0 141.3 -62.0 139.3 -63.0 139.3 -64.0 138.3 -66.0 138.4 -69.0 136.4 -70.0 136.6 -72.0 134.5 -74.0 135.0 -69.0 139.6 -59.0 147.3 -46.0 153.9 -35.0 158.1 -23.0 161.6 -10.0 164.3 0.0 165.5 15.0 165.5 31.0 164.0 48.0 160.5 62.0 156.3 76.0 150.7 87.0 145.1 102.0 135.0 114.0 125.0 126.0 112.9 136.5 100.0 144.5 88.0 153.0 72.3 159.0 58.0 163.7 43.0 167.0 27.0 168.9 11.0 169.2 -3.0 167.8 -20.0 165.0 -35.7 161.0 -50.0 155.0 -65.8 149.0 -78.0 142.4 -88.0 133.7 -98.0 124.2 -107.0 111.0 -112.7 97.0 -123.2 89.6 -128.0 76.0 -135.1 62.0 -140.9 62.0 -139.8 63.0 -139.9 64.0 -138.7 66.0 -138.8 67.0 -137.6 68.0 -137.7 69.0 -136.5 70.0 -136.6 72.0 -134.1 73.0 -134.2 73.0 -133.5 57.0 -135.1 45.0 -134.8 35.0 -132.8 19.0 -127.2 13.8 -124.0 8.5 -118.0 3.5 -110.0 0.0 -101.0 -0.1 -105.0 1.0 -106.0 0.9 -108.0 1.9 -109.0 1.9 -111.0 3.9 -114.0 4.9 -117.0 6.9 -119.0 6.9 -120.0 17.0 -130.3 18.0 -130.3 23.0 -134.4 26.0 -135.4 29.0 -137.5 31.0 -137.5 34.0 -139.6 36.0 -139.6 37.0 -140.7 40.0 -140.7 41.0 -141.7 44.0 -141.7 45.0 -142.8 49.1 -143.0 49.0 -144.3 38.0 -145.6 31.0 -145.7 22.2 -145.0ZM55.0 -143.0L55.4 -143.0 55.0 -143.0ZM56.9 -142.0L58.7 -142.0 57.0 -142.6 56.9 -142.0ZM59.9 -141.0L61.7 -141.0 60.0 -141.6 59.9 -141.0ZM-74.9 134.0L-74.0 135.0 -73.7 134.0 -74.9 134.0ZM73.0 -115.2L89.0 -115.3 90.0 -114.3 95.0 -114.4 96.0 -113.3 100.0 -113.4 101.0 -114.4 102.0 -114.4 108.0 -108.0 108.0 -107.4 107.0 -106.5 105.0 -106.7 91.0 -111.1 83.0 -112.8 67.0 -113.1 67.0 -114.1 72.0 -114.1 73.0 -115.2ZM-1.0 -100.0L-0.3 -100.0 -1.0 -96.5 -1.0 -100.0ZM-36.0 -85.9L-35.1 -83.0 -36.0 -83.0 -36.0 -85.9ZM-35.0 -82.7L-35.0 -81.0 -35.0 -82.7ZM115.0 -77.0L115.0 -76.5 114.0 -77.0 115.0 -77.0ZM116.0 -76.0L118.0 -76.1 121.0 -74.1 122.0 -74.1 123.0 -73.1 124.0 -73.2 125.0 -72.1 126.0 -72.2 127.0 -71.2 130.0 -70.2 135.0 -66.1 137.1 -66.0 137.0 -62.8 135.0 -63.0 133.0 -64.0 122.4 -72.0 116.0 -76.0ZM136.0 -27.0L136.0 -26.5 135.6 -27.0 136.0 -27.0ZM137.0 -26.0L137.0 -25.3 136.4 -26.0 137.0 -26.0ZM138.0 -25.1L142.2 -21.0 142.1 -20.0 146.2 -16.0 146.2 -15.0 148.2 -13.0 148.2 -12.0 151.0 -9.1 151.9 -9.0 151.0 -6.3 150.0 -6.0 149.0 -6.6 147.0 -9.1 137.2 -25.0 138.0 -25.1ZM-100.0 0.7L-99.4 1.0 -100.0 0.7ZM137.0 29.0L137.0 30.8 136.6 29.0 137.0 29.0ZM138.0 31.9L138.1 33.0 139.1 34.0 139.1 36.0 140.2 37.0 140.1 40.0 141.2 41.0 141.2 44.0 142.2 45.0 142.1 49.0 143.5 50.0 142.0 51.8 141.0 51.7 140.6 51.0 139.5 48.0 137.3 32.0 138.0 31.9ZM115.0 81.8L115.2 89.0 114.1 90.0 114.2 95.0 113.1 96.0 113.1 100.0 113.6 101.0 111.0 102.0 110.4 100.0 110.7 98.0 115.0 81.8ZM74.0 121.2L74.0 122.0 73.4 122.0 74.0 121.2ZM73.0 122.6L73.1 124.0 72.1 125.0 72.1 126.0 71.1 127.0 70.2 130.0 66.0 135.0 66.0 136.2 64.9 136.0 65.0 134.0 66.1 132.0 73.0 122.6ZM-24.0 133.7L-23.0 133.3 -23.0 134.0 -24.7 134.0 -24.0 133.7ZM24.0 138.7L23.6 139.0 24.0 138.7ZM23.0 139.4L23.0 140.0 22.1 140.0 23.0 139.4ZM21.0 140.7L22.0 140.0 22.1 141.0 21.0 142.1 20.0 142.1 16.0 146.2 15.0 146.1 13.0 148.1 12.0 148.1 9.0 151.4 8.1 151.0 7.8 150.0 9.5 148.0 21.0 140.7Z"/>
<path fill-rule="evenodd" fill="#80ff00" d="M-369.0 -300.0L279.0 -300.0 279.0 329.0 -370.0 329.0 -370.0 -300.0 -369.0 -300.0ZM19.3 -155.0L0.7 -153.0 16.0 -152.0 12.8 -150.0 -6.0 -142.6 -15.0 -138.0 -30.0 -127.0 -36.0 -121.0 -36.1 -123.0 -35.1 -124.0 -35.2 -125.0 -33.2 -127.0 -33.2 -128.0 -31.3 -130.0 -31.3 -131.0 -28.4 -134.0 -28.4 -135.0 -21.0 -142.7 -20.0 -142.6 -16.0 -146.8 -15.0 -146.8 -13.0 -148.9 -12.0 -148.9 -10.9 -150.0 -11.0 -150.9 -18.0 -149.2 -26.0 -146.4 -35.0 -142.5 -44.0 -137.6 -55.0 -130.1 -64.0 -121.7 -74.1 -108.0 -77.8 -102.0 -80.0 -97.3 -80.2 -103.0 -79.2 -104.0 -79.4 -109.0 -78.4 -110.0 -78.5 -112.0 -77.5 -113.0 -77.6 -115.0 -76.6 -116.0 -76.7 -118.0 -75.7 -119.0 -75.8 -120.0 -73.9 -123.0 -74.0 -124.5 -83.0 -117.4 -93.0 -107.0 -100.9 -96.0 -107.7 -82.0 -113.3 -67.0 -114.1 -67.0 -114.4 -72.0 -115.6 -73.0 -116.0 -79.5 -117.4 -77.0 -124.0 -61.9 -129.2 -44.0 -130.2 -31.0 -129.5 -23.0 -128.1 -16.0 -129.0 -15.9 -130.3 -17.0 -130.2 -18.0 -132.6 -20.0 -132.5 -21.0 -134.9 -23.0 -135.0 -24.1 -135.4 -24.0 -136.1 -16.0 -135.5 -2.0 -132.9 13.0 -127.9 26.0 -125.0 31.1 -121.1 36.0 -123.0 36.1 -124.0 35.2 -125.0 35.2 -127.0 33.3 -128.0 33.4 -130.0 31.5 -131.0 31.6 -134.0 28.9 -135.2 29.0 -132.2 41.0 -127.0 53.0 -120.2 64.0 -113.7 71.0 -103.2 79.0 -109.0 79.3 -110.0 78.3 -112.0 78.4 -113.0 77.4 -115.0 77.5 -116.0 76.5 -118.0 76.7 -121.0 74.9 -122.3 75.0 -120.1 80.0 -116.3 87.0 -111.5 94.0 -106.3 100.0 -101.0 104.5 -95.0 108.4 -87.0 112.1 -80.0 114.1 -73.6 115.0 -89.0 115.3 -90.0 114.3 -95.0 114.5 -96.0 113.4 -100.0 113.6 -101.0 114.6 -102.0 114.6 -109.0 107.9 -109.8 108.0 -105.1 117.0 -90.4 135.0 -81.0 144.8 -68.0 155.3 -58.0 161.7 -44.0 167.9 -28.0 173.0 -9.0 176.8 7.0 178.3 20.0 178.0 37.0 176.5 56.0 172.8 72.0 168.3 83.0 164.2 95.4 158.0 113.0 146.7 123.0 138.2 132.0 128.9 141.2 118.0 148.0 108.0 154.5 97.0 164.0 77.8 169.3 62.0 174.6 41.0 176.8 27.0 177.9 12.0 178.1 -3.0 176.7 -22.0 174.4 -35.0 170.4 -49.0 166.1 -61.0 156.7 -80.0 149.0 -92.1 140.1 -103.0 134.0 -109.4 130.6 -112.0 116.0 -117.4 93.0 -133.8 81.0 -140.1 69.0 -145.6 57.0 -150.1 37.0 -154.7 27.0 -155.2 19.3 -155.0ZM-10.7 -151.0L-10.0 -151.1 -10.7 -151.0ZM-110.2 107.0L-110.0 107.5 -110.2 107.0ZM50.0 -144.1L51.0 -144.0 51.8 -142.0 50.3 -141.0 34.0 -136.4 19.0 -130.1 18.9 -131.0 20.0 -132.1 21.0 -132.1 23.0 -134.2 26.0 -135.1 29.0 -137.2 31.0 -137.1 34.0 -139.2 36.0 -139.2 37.0 -140.2 40.0 -140.2 41.0 -141.2 44.0 -141.2 45.0 -142.2 49.0 -142.1 49.9 -143.0 50.0 -144.1ZM17.0 -130.1L18.7 -130.0 17.0 -129.4 17.0 -130.1ZM-37.0 -121.1L-36.0 -121.0 -37.0 -119.5 -37.0 -121.1ZM-128.0 -15.6L-127.8 -15.0 -128.0 -15.6ZM-121.0 36.1L-120.0 37.0 -121.0 37.1 -121.0 36.1ZM-103.0 79.1L-101.5 80.0 -103.0 80.1 -103.0 79.1Z"/>
<path fill-rule="evenodd" fill="#aaff00" d="M-369.0 -300.0L279.0 -300.0 279.0 329.0 -370.0 329.0 -370.0 -300.0 -369.0 -300.0ZM-6.2 -164.0L-19.0 -162.8 -31.0 -160.0 -50.0 -153.3 -61.0 -148.1 -71.0 -142.6 -80.0 -136.7 -89.0 -130.1 -94.0 -125.6 -99.4 -122.0 -103.7 -117.0 -107.7 -110.0 -107.0 -110.0 -102.0 -114.7 -101.0 -114.7 -96.0 -119.4 -95.0 -119.3 -92.0 -122.1 -91.4 -122.0 -92.2 -119.0 -106.6 -95.0 -115.0 -75.0 -115.9 -89.0 -114.8 -90.0 -115.0 -92.8 -122.6 -77.0 -128.3 -62.0 -132.6 -48.0 -133.7 -41.0 -134.2 -32.0 -133.4 -23.0 -134.1 -23.0 -134.1 -24.0 -135.3 -25.0 -135.3 -26.0 -137.8 -29.0 -137.8 -31.0 -138.7 -31.0 -139.9 -22.0 -140.3 -14.0 -139.6 -2.0 -137.3 12.0 -134.0 21.9 -129.1 31.0 -131.0 31.2 -134.0 28.3 -135.0 28.4 -140.0 23.9 -140.6 24.0 -140.4 25.0 -139.3 32.0 -137.2 40.0 -134.2 48.0 -130.9 55.0 -126.3 63.0 -123.0 67.7 -118.3 73.0 -113.5 77.0 -115.0 77.1 -116.0 76.1 -118.0 76.2 -119.0 75.2 -120.0 75.3 -121.0 74.3 -122.0 74.4 -123.0 73.4 -124.0 73.5 -125.0 72.5 -126.0 72.6 -129.0 70.8 -130.8 71.0 -129.6 80.0 -130.3 81.0 -129.7 91.0 -127.9 101.0 -124.4 113.0 -115.5 128.0 -91.0 153.0 -80.0 162.2 -71.0 168.6 -64.0 172.7 -49.0 179.1 -34.4 184.0 -12.0 188.6 6.0 190.7 20.0 190.9 38.0 190.2 50.0 188.4 76.0 183.0 87.0 179.5 102.0 172.5 122.0 160.8 127.0 157.0 135.0 149.4 153.1 128.0 160.4 115.0 166.3 103.0 175.3 82.0 181.8 54.0 185.3 30.0 185.9 15.0 186.0 -2.0 184.5 -25.0 182.2 -36.0 177.8 -50.0 173.4 -62.0 167.7 -73.0 160.5 -85.0 149.0 -101.1 138.0 -112.6 133.0 -116.8 129.0 -119.2 118.0 -123.8 102.0 -136.0 94.1 -141.0 72.0 -151.8 59.0 -157.2 40.0 -163.0 36.0 -163.7 16.0 -164.8 -6.2 -164.0ZM-9.0 -151.3L-8.4 -151.0 -8.3 -150.0 -10.8 -147.0 -22.0 -138.7 -28.0 -133.4 -28.1 -135.0 -21.0 -142.2 -20.0 -142.1 -16.0 -146.2 -15.0 -146.2 -13.0 -148.2 -12.0 -148.1 -9.0 -151.3ZM-54.0 -143.1L-52.0 -142.5 -51.7 -142.0 -52.1 -141.0 -69.4 -122.0 -73.5 -116.0 -79.0 -106.2 -79.1 -109.0 -78.1 -110.0 -78.2 -112.0 -77.1 -113.0 -77.2 -115.0 -76.2 -116.0 -76.3 -118.0 -74.3 -121.0 -74.4 -122.0 -73.4 -123.0 -73.4 -124.0 -72.4 -125.0 -72.5 -126.0 -71.5 -127.0 -70.6 -130.0 -66.6 -135.0 -66.6 -138.0 -66.0 -138.6 -64.0 -138.5 -59.0 -141.3 -57.0 -141.3 -54.0 -143.1ZM-29.0 -133.0L-28.4 -133.0 -29.0 -132.4 -29.0 -133.0ZM-30.0 -132.0L-29.4 -132.0 -30.0 -131.4 -30.0 -132.0ZM-31.0 -131.0L-30.3 -131.0 -31.0 -130.2 -31.0 -131.0ZM-129.0 31.2L-128.5 32.0 -129.1 32.0 -129.0 31.2Z"/>
<path fill-rule="evenodd" fill="#d5ff00" d="M-369.0 -300.0L279.0 -300.0 279.0 329.0 -370.0 329.0 -370.0 -300.0 -369.0 -300.0ZM-22.8 -176.0L-44.0 -172.3 -55.0 -169.9 -67.0 -166.4 -78.0 -162.4 -100.0 -153.1 -109.0 -147.9 -123.0 -143.9 -128.4 -140.0 -133.0 -135.0 -136.8 -129.0 -140.0 -121.1 -143.4 -115.0 -145.7 -104.0 -145.4 -100.0 -138.6 -84.0 -135.7 -72.0 -135.0 -71.8 -134.5 -73.0 -133.0 -73.4 -132.6 -71.0 -133.8 -62.0 -137.4 -47.0 -138.5 -34.0 -139.2 -34.0 -139.2 -36.0 -140.6 -37.0 -140.7 -40.0 -141.9 -40.0 -143.8 -30.0 -144.8 -20.0 -144.7 -9.0 -142.6 8.0 -140.4 17.0 -137.4 25.0 -138.0 25.1 -142.5 21.0 -142.5 20.0 -147.0 16.0 -147.0 15.0 -146.9 25.0 -144.7 38.0 -141.7 47.0 -133.5 63.0 -128.8 70.0 -130.0 70.1 -135.0 66.2 -138.0 66.0 -138.1 64.0 -141.2 59.0 -141.3 57.0 -142.3 56.0 -142.3 55.0 -143.3 54.0 -143.4 52.0 -144.4 51.0 -144.4 49.0 -145.5 48.0 -145.5 46.0 -146.7 45.0 -146.7 43.0 -147.9 43.0 -148.8 63.0 -150.3 74.0 -149.1 87.0 -145.9 99.0 -142.2 110.0 -136.9 123.0 -133.4 129.0 -125.9 139.0 -110.0 155.1 -99.0 164.4 -77.0 180.0 -65.0 186.3 -46.0 193.1 -34.0 196.9 -10.0 201.1 8.0 203.2 40.0 203.6 78.0 198.1 89.0 195.5 102.0 189.9 121.0 180.4 132.0 174.3 138.8 169.0 146.0 161.6 164.9 138.0 167.9 133.0 172.9 122.0 182.8 97.0 187.1 84.0 192.9 43.0 194.1 29.0 193.8 -3.0 192.6 -26.0 190.1 -37.0 184.8 -52.0 178.3 -68.0 166.0 -87.0 152.0 -105.9 141.0 -116.2 134.0 -122.0 129.0 -125.4 121.0 -129.7 102.0 -144.2 87.0 -152.1 64.0 -163.0 41.0 -171.8 28.0 -173.7 6.0 -175.6 -16.0 -176.5 -22.8 -176.0Z"/>
<path fill-rule="evenodd" fill="#ffff00" d="M-369.0 -300.0L279.0 -300.0 279.0 329.0 -370.0 329.0 -370.0 -300.0 -369.0 -300.0ZM-117.4 -197.0L-121.0 -195.7 -126.0 -193.0 -140.2 -183.0 -151.0 -172.7 -159.1 -163.0 -171.0 -144.0 -177.0 -132.3 -178.0 -129.3 -178.6 -126.0 -178.4 -124.0 -173.3 -118.0 -172.5 -115.0 -173.1 -112.0 -175.0 -109.2 -181.0 -104.0 -182.0 -103.2 -184.0 -103.0 -183.0 -102.9 -182.0 -101.3 -179.0 -98.9 -176.0 -97.6 -171.0 -92.3 -157.2 -70.0 -155.5 -66.0 -154.4 -61.0 -152.6 -42.0 -152.8 -36.0 -154.7 -29.0 -163.0 -5.3 -170.9 23.0 -173.4 47.0 -173.8 60.0 -172.6 81.0 -170.7 90.0 -162.3 109.0 -146.4 140.0 -138.6 149.0 -117.0 170.3 -82.0 193.4 -74.0 197.6 -60.0 202.6 -40.0 209.4 -30.0 211.5 5.0 216.6 36.0 218.5 48.0 217.8 86.0 213.3 94.0 211.8 100.0 209.7 138.0 191.7 146.0 187.2 151.0 183.1 156.6 177.0 177.2 150.0 181.9 143.0 187.7 128.0 198.5 95.0 200.7 86.0 205.1 32.0 203.3 -28.0 202.5 -33.0 200.3 -40.0 189.6 -67.0 185.6 -75.0 157.9 -112.0 153.0 -116.7 135.0 -131.2 105.0 -153.8 67.0 -172.6 48.0 -181.4 42.0 -183.3 35.0 -184.5 -5.0 -190.7 -16.0 -191.8 -65.0 -187.7 -96.7 -182.0 -102.0 -181.8 -104.0 -182.2 -106.0 -183.4 -114.0 -196.0 -115.7 -197.0 -117.4 -197.0Z"/>
<path fill-rule="evenodd" fill="#ffd500" d="M-369.0 -300.0L-101.6 -300.0 -102.4 -297.0 -105.8 -290.0 -105.6 -289.0 -104.0 -287.7 -55.0 -274.5 -17.0 -263.5 6.0 -256.1 12.1 -253.0 13.0 -251.9 11.5 -251.0 10.0 -250.8 -22.0 -250.2 -35.0 -249.0 -46.0 -247.3 -88.0 -237.2 -100.0 -232.7 -106.0 -228.1 -112.0 -224.9 -120.8 -219.0 -125.3 -213.0 -131.0 -208.1 -143.0 -195.0 -149.9 -189.0 -159.2 -175.0 -170.0 -155.4 -179.4 -134.0 -181.4 -126.0 -181.0 -122.0 -176.8 -116.0 -176.8 -113.0 -181.0 -107.0 -182.0 -106.0 -184.0 -105.2 -184.2 -103.0 -184.0 -101.2 -179.5 -93.0 -171.6 -68.0 -171.1 -60.0 -171.8 -36.0 -180.3 -6.0 -192.5 25.0 -201.7 53.0 -203.2 60.0 -205.2 80.0 -204.9 88.0 -201.7 102.0 -187.6 137.0 -182.0 146.7 -160.0 177.5 -154.8 183.0 -139.0 197.0 -128.0 206.4 -122.7 210.0 -92.6 226.0 -76.0 234.1 -48.0 242.3 -28.0 247.6 6.0 250.3 48.0 256.0 105.0 256.1 113.0 255.8 118.3 255.0 152.6 244.0 165.0 239.8 170.0 237.5 182.0 229.0 204.9 211.0 210.4 206.0 215.0 200.3 235.0 168.0 242.0 155.7 245.0 148.9 251.0 128.2 259.0 97.1 268.0 53.0 272.0 36.3 275.0 28.6 277.0 26.0 279.0 25.0 279.0 329.0 -370.0 329.0 -370.0 -300.0 -369.0 -300.0Z"/>
<path fill-rule="evenodd" fill="#ffaa00" d="M-369.0 -300.0L-104.1 -300.0 -105.0 -297.0 -108.8 -290.0 -109.0 -288.0 -107.8 -286.0 -105.0 -284.7 -79.0 -277.0 -64.3 -272.0 -58.9 -270.0 -55.5 -268.0 -55.6 -267.0 -58.0 -266.4 -75.0 -265.0 -88.0 -262.9 -112.0 -256.8 -115.9 -255.0 -124.0 -248.5 -127.0 -241.0 -131.6 -237.0 -134.7 -233.0 -138.6 -229.0 -139.6 -227.0 -141.3 -220.0 -145.4 -215.0 -154.1 -200.0 -158.9 -195.0 -160.1 -193.0 -174.0 -156.4 -181.4 -134.0 -183.1 -126.0 -183.0 -121.7 -179.8 -116.0 -179.4 -114.0 -181.2 -110.0 -184.0 -107.4 -184.4 -103.0 -184.0 -98.9 -182.2 -95.0 -182.1 -81.0 -181.3 -67.0 -186.8 -38.0 -189.0 -32.3 -201.0 -6.8 -217.8 25.0 -229.9 56.0 -233.6 84.0 -232.2 98.0 -230.7 105.0 -217.4 142.0 -204.4 164.0 -193.6 181.0 -159.0 218.9 -115.0 252.3 -67.0 277.4 -36.0 287.5 -17.0 292.8 30.0 297.5 96.0 296.4 112.0 295.0 117.0 295.5 119.6 297.0 121.2 300.0 124.9 312.0 130.5 326.0 130.9 329.0 -370.0 329.0 -370.0 -300.0 -369.0 -300.0Z"/>
<path fill-rule="evenodd" fill="#ff8000" d="M-369.0 -300.0L-106.0 -300.0 -107.0 -297.2 -111.6 -289.0 -112.3 -283.0 -113.0 -281.6 -115.0 -280.9 -127.0 -278.9 -139.0 -275.7 -142.0 -273.3 -144.2 -269.0 -147.0 -265.0 -147.8 -262.0 -148.6 -254.0 -151.6 -249.0 -156.5 -238.0 -157.5 -227.0 -160.4 -221.0 -165.5 -205.0 -168.5 -200.0 -169.5 -197.0 -181.0 -141.3 -184.0 -129.9 -184.0 -118.9 -182.0 -114.0 -182.5 -112.0 -184.0 -110.0 -184.2 -109.0 -184.4 -99.0 -184.9 -98.0 -184.2 -96.0 -184.9 -93.0 -200.0 -63.1 -211.0 -44.9 -216.0 -37.8 -245.7 -1.0 -259.2 22.0 -262.4 30.0 -268.7 54.0 -269.6 61.0 -270.9 81.0 -270.7 88.0 -268.9 103.0 -259.9 139.0 -255.4 150.0 -241.6 180.0 -219.5 212.0 -212.3 221.0 -180.0 251.5 -147.0 277.5 -127.8 300.0 -124.4 306.0 -123.5 312.0 -124.2 316.0 -127.4 325.0 -128.3 329.0 -370.0 329.0 -370.0 -300.0 -369.0 -300.0Z"/>
<path fill-rule="evenodd" fill="#ff5500" d="M-369.0 -300.0L-108.6 -300.0 -109.8 -297.0 -113.0 -292.0 -115.0 -289.8 -117.0 -289.2 -143.9 -294.0 -159.0 -295.7 -165.0 -294.9 -167.0 -293.5 -167.9 -292.0 -170.3 -280.0 -170.7 -267.0 -173.5 -249.0 -174.1 -233.0 -177.0 -210.0 -178.5 -203.0 -180.4 -176.0 -184.0 -141.2 -184.7 -127.0 -184.3 -114.0 -184.8 -99.0 -186.8 -98.0 -206.0 -83.0 -211.0 -79.8 -236.0 -68.2 -258.8 -60.0 -264.7 -57.0 -281.2 -45.0 -285.0 -40.6 -294.0 -27.7 -297.0 -22.2 -300.0 -15.1 -303.0 -7.5 -305.0 -0.5 -316.0 53.1 -320.0 81.9 -321.6 117.0 -315.8 149.0 -315.4 154.0 -315.9 157.0 -317.3 159.0 -323.1 163.0 -324.1 165.0 -325.0 169.3 -326.2 171.0 -328.0 171.5 -334.0 171.5 -337.0 172.3 -366.3 190.0 -370.0 191.5 -370.0 -300.0 -369.0 -300.0Z"/>
<path fill="#ff2a00" d="M-356.7 -287.2 -344.8 -286.0 -337.4 -258.6 -339.8 -241.2 -349.8 -228.7 -356.7 -225.1Z"/>
<path fill="#ff2a00" d="M-201.7 -287.2 -185.9 -287.2 -185.9 -101.9 -196.7 -111.8 -211.7 -126.8 -226.9 -151.6 -229.3 -184.0 -221.9 -221.4 -209.3 -258.6Z"/>
<path d="M91.0 -1.6 95.6 -1.5 100.2 -1.1 104.8 -0.2 109.5 1.2 114.0 3.2 118.6 5.8 123.0 9.2 127.2 13.4 131.2 18.6 134.9 24.6 138.2 31.7 140.8 39.9 142.8 49.2M84.7 33.4 88.9 35.2 93.0 37.4 96.9 39.9 100.7 43.0 104.1 46.6 107.3 50.7 110.1 55.6 112.4 61.1 114.1 67.4 115.2 74.4 115.5 82.2 114.8 90.8 113.1 100.1M65.5 63.2 68.7 66.5 71.6 70.1 74.3 74.0 76.6 78.2 78.4 82.9 79.7 87.9 80.4 93.5 80.5 99.5 79.7 105.9 78.0 112.8 75.3 120.1 71.4 127.8 66.2 135.7M36.3 83.5 38.0 87.8 39.3 92.2 40.3 96.8 40.8 101.6 40.7 106.6 40.0 111.7 38.5 117.1 36.3 122.7 33.1 128.3 28.9 134.1 23.5 139.8 17.0 145.4 9.2 150.7M1.6 91.0 1.5 95.6 1.1 100.2 0.2 104.8 -1.2 109.5 -3.2 114.0 -5.8 118.6 -9.2 123.0 -13.4 127.2 -18.6 131.2 -24.6 134.9 -31.7 138.2 -39.9 140.8 -49.2 142.8M-33.4 84.7 -35.2 88.9 -37.4 93.0 -39.9 96.9 -43.0 100.7 -46.6 104.1 -50.7 107.3 -55.6 110.1 -61.1 112.4 -67.4 114.1 -74.4 115.2 -82.2 115.5 -90.8 114.8 -100.1 113.1M-63.2 65.5 -66.5 68.7 -70.1 71.6 -74.0 74.3 -78.2 76.6 -82.9 78.4 -87.9 79.7 -93.5 80.4 -99.5 80.5 -105.9 79.7 -112.8 78.0 -120.1 75.3 -127.8 71.4 -135.7 66.2M-83.5 36.3 -87.8 38.0 -92.2 39.3 -96.8 40.3 -101.6 40.8 -106.6 40.7 -111.7 40.0 -117.1 38.5 -122.7 36.3 -128.3 33.1 -134.1 28.9 -139.8 23.5 -145.4 17.0 -150.7 9.2M-91.0 1.6 -95.6 1.5 -100.2 1.1 -104.8 0.2 -109.5 -1.2 -114.0 -3.2 -118.6 -5.8 -123.0 -9.2 -127.2 -13.4 -131.2 -18.6 -134.9 -24.6 -138.2 -31.7 -140.8 -39.9 -142.8 -49.2M-84.7 -33.4 -88.9 -35.2 -93.0 -37.4 -96.9 -39.9 -100.7 -43.0 -104.1 -46.6 -107.3 -50.7 -110.1 -55.6 -112.4 -61.1 -114.1 -67.4 -115.2 -74.4 -115.5 -82.2 -114.8 -90.8 -113.1 -100.1M-65.5 -63.2 -68.7 -66.5 -71.6 -70.1 -74.3 -74.0 -76.6 -78.2 -78.4 -82.9 -79.7 -87.9 -80.4 -93.5 -80.5 -99.5 -79.7 -105.9 -78.0 -112.8 -75.3 -120.1 -71.4 -127.8 -66.2 -135.7M-36.3 -83.5 -38.0 -87.8 -39.3 -92.2 -40.3 -96.8 -40.8 -101.6 -40.7 -106.6 -40.0 -111.7 -38.5 -117.1 -36.3 -122.7 -33.1 -128.3 -28.9 -134.1 -23.5 -139.8 -17.0 -145.4 -9.2 -150.7M-1.6 -91.0 -1.5 -95.6 -1.1 -100.2 -0.2 -104.8 1.2 -109.5 3.2 -114.0 5.8 -118.6 9.2 -123.0 13.4 -127.2 18.6 -131.2 24.6 -134.9 31.7 -138.2 39.9 -140.8 49.2 -142.8M33.4 -84.7 35.2 -88.9 37.4 -93.0 39.9 -96.9 43.0 -100.7 46.6 -104.1 50.7 -107.3 55.6 -110.1 61.1 -112.4 67.4 -114.1 74.4 -115.2 82.2 -115.5 90.8 -114.8 100.1 -113.1M63.2 -65.5 66.5 -68.7 70.1 -71.6 74.0 -74.3 78.2 -76.6 82.9 -78.4 87.9 -79.7 93.5 -80.4 99.5 -80.5 105.9 -79.7 112.8 -78.0 120.1 -75.3 127.8 -71.4 135.7 -66.2M83.5 -36.3 87.8 -38.0 92.2 -39.3 96.8 -40.3 101.6 -40.8 106.6 -40.7 111.7 -40.0 117.1 -38.5 122.7 -36.3 128.3 -33.1 134.1 -28.9 139.8 -23.5 145.4 -17.0 150.7 -9.2" fill="none" stroke="#fff" stroke-opacity="0.75" stroke-width="1.3"/>
</g>
<circle cx="0" cy="0" r="90.3" fill="#fff"/>
</g>
<rect x="899.5" y="1265.8" width="31.5" height="19.3" fill="#0000ff"/>
<rect x="899.5" y="1246.9" width="31.5" height="19.3" fill="#002aff"/>
<rect x="899.5" y="1228" width="31.5" height="19.3" fill="#0055ff"/>
<rect x="899.5" y="1209" width="31.5" height="19.3" fill="#0080ff"/>
<rect x="899.5" y="1190" width="31.5" height="19.3" fill="#00aaff"/>
<rect x="899.5" y="1171.1" width="31.5" height="19.3" fill="#00d4ff"/>
<rect x="899.5" y="1152.1" width="31.5" height="19.3" fill="#00ffff"/>
<rect x="899.5" y="1133.2" width="31.5" height="19.3" fill="#00ffd4"/>
<rect x="899.5" y="1114.2" width="31.5" height="19.3" fill="#00ffaa"/>
<rect x="899.5" y="1095.3" width="31.5" height="19.3" fill="#00ff80"/>
<rect x="899.5" y="1076.3" width="31.5" height="19.3" fill="#00ff55"/>
<rect x="899.5" y="1057.4" width="31.5" height="19.3" fill="#00ff2b"/>
<rect x="899.5" y="1038.5" width="31.5" height="19.3" fill="#00ff00"/>
<rect x="899.5" y="1019.5" width="31.5" height="19.3" fill="#2aff00"/>
<rect x="899.5" y="1000.5" width="31.5" height="19.3" fill="#55ff00"/>
<rect x="899.5" y="981.6" width="31.5" height="19.3" fill="#80ff00"/>
<rect x="899.5" y="962.6" width="31.5" height="19.3" fill="#aaff00"/>
<rect x="899.5" y="943.7" width="31.5" height="19.3" fill="#d5ff00"/>
<rect x="899.5" y="924.8" width="31.5" height="19.3" fill="#ffff00"/>
<rect x="899.5" y="905.8" width="31.5" height="19.3" fill="#ffd500"/>
<rect x="899.5" y="886.8" width="31.5" height="19.3" fill="#ffaa00"/>
<rect x="899.5" y="867.9" width="31.5" height="19.3" fill="#ff8000"/>
<rect x="899.5" y="849" width="31.5" height="19.3" fill="#ff5500"/>
<rect x="899.5" y="830" width="31.5" height="19.3" fill="#ff2a00"/>
<path d="M931 1284.8h6.5M931 1265.8h4M931 1246.9h6.5M931 1228h4M931 1209h6.5M931 1190h4M931 1171.1h6.5M931 1152.1h4M931 1133.2h6.5M931 1114.2h4M931 1095.3h6.5M931 1076.3h4M931 1057.4h6.5M931 1038.5h4M931 1019.5h6.5M931 1000.5h4M931 981.6h6.5M931 962.6h4M931 943.7h6.5M931 924.8h4M931 905.8h6.5M931 886.8h4M931 867.9h6.5M931 849h4M931 830h6.5" stroke="#666" stroke-width="1" fill="none"/>
<rect x="899.5" y="830" width="31.5" height="454.8" fill="none" stroke="#666" stroke-width="0.6"/>
<text transform="translate(946.3 841.8) scale(0.980 1)" class="lv" style="font-size:26.8px">103405.80</text>
<text transform="translate(946.3 879.7) scale(0.980 1)" class="lv" style="font-size:26.8px">103079.14</text>
<text transform="translate(946.3 917.6) scale(0.980 1)" class="lv" style="font-size:26.8px">102752.47</text>
<text transform="translate(946.3 955.5) scale(0.980 1)" class="lv" style="font-size:26.8px">102425.80</text>
<text transform="translate(946.3 993.4) scale(0.980 1)" class="lv" style="font-size:26.8px">102099.14</text>
<text transform="translate(946.3 1031.3) scale(0.980 1)" class="lv" style="font-size:26.8px">101772.47</text>
<text transform="translate(946.3 1069.2) scale(0.980 1)" class="lv" style="font-size:26.8px">101445.80</text>
<text transform="translate(946.3 1107.1) scale(0.980 1)" class="lv" style="font-size:26.8px">101119.14</text>
<text transform="translate(946.3 1145) scale(0.980 1)" class="lv" style="font-size:26.8px">100792.47</text>
<text transform="translate(946.3 1182.9) scale(0.980 1)" class="lv" style="font-size:26.8px">100465.80</text>
<text transform="translate(946.3 1220.8) scale(0.980 1)" class="lv" style="font-size:26.8px">100139.14</text>
<text transform="translate(946.3 1258.7) scale(0.980 1)" class="lv" style="font-size:26.8px">99812.47</text>
<text transform="translate(946.3 1296.6) scale(0.980 1)" class="lv" style="font-size:26.8px">99485.80</text>
<text transform="translate(899.2 785.8) scale(0.992 1)" class="lv" style="font-size:26.6px">Pressure</text>
<text transform="translate(899.4 810.2) scale(0.985 1)" class="lv" style="font-size:23.7px">Contour 1</text>
<text transform="translate(899.3 1327) scale(1.026 1)" class="lv" style="font-size:25.5px">[Pa]</text>
<text transform="translate(910.4 734.2) scale(1.011 1)" class="pl" style="font-size:65px">(d)</text>
<text x="1332.8" y="805.7" class="tt" style="font-size:46.6px">m=0.383</text>
<text transform="translate(1528.4 805.9) scale(1.184 1)" class="ti" style="font-size:50.4px">m</text>
<text transform="translate(1573.2 785.8) scale(1.114 1)" class="ts" style="font-size:32.4px">3</text>
<text transform="translate(1597.7 815.1) scale(1.082 1)" class="ts" style="font-size:69.9px">/</text>
<text transform="translate(1621.5 805.4) scale(1.162 1)" class="ti" style="font-size:49.4px">s</text>
</svg></body></html>
